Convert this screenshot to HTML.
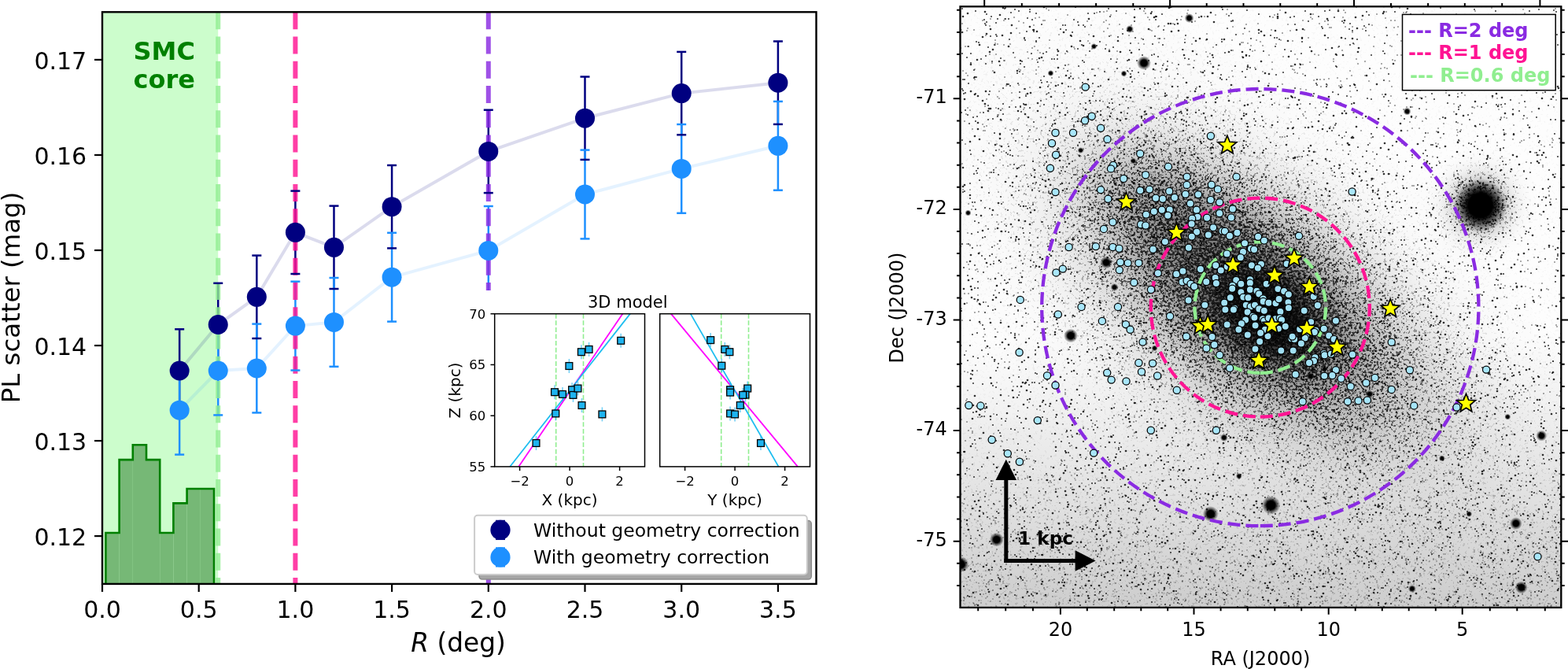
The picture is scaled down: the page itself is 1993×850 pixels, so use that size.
<!DOCTYPE html>
<html><head><meta charset="utf-8"><title>PL scatter vs radius and SMC map</title>
<style>
html,body{margin:0;padding:0;background:#fff;}
body{width:1993px;height:850px;overflow:hidden;}
svg{display:block;}

</style></head>
<body>
<svg width="1993" height="850" viewBox="0 0 1993 850">
<defs>
<clipPath id="ci1"><rect x="628.7" y="398.7" width="190.8" height="194.2"/></clipPath>
<clipPath id="ci2"><rect x="838.7" y="398.7" width="190.8" height="194.2"/></clipPath>
<clipPath id="cpR"><rect x="1220.5" y="8.3" width="763.8" height="763.6"/></clipPath>
<filter id="bl6" x="-50%" y="-50%" width="200%" height="200%"><feGaussianBlur stdDeviation="6"/></filter>
<filter id="bl10" x="-50%" y="-50%" width="200%" height="200%"><feGaussianBlur stdDeviation="10"/></filter>
<filter id="bl16" x="-50%" y="-50%" width="200%" height="200%"><feGaussianBlur stdDeviation="16"/></filter>
<filter id="bl24" x="-50%" y="-50%" width="200%" height="200%"><feGaussianBlur stdDeviation="24"/></filter>
<filter id="bl36" x="-50%" y="-50%" width="200%" height="200%"><feGaussianBlur stdDeviation="36"/></filter>
<filter id="bl55" x="-50%" y="-50%" width="200%" height="200%"><feGaussianBlur stdDeviation="55"/></filter>
<filter id="speck" filterUnits="userSpaceOnUse" x="1220" y="8" width="765" height="765" color-interpolation-filters="sRGB">
<feTurbulence type="fractalNoise" baseFrequency="0.32" numOctaves="2" seed="7" result="n"/>
<feComponentTransfer in="n" result="n2"><feFuncR type="linear" slope="3.2" intercept="-1.1"/><feFuncA type="linear" slope="0" intercept="1"/></feComponentTransfer>
<feColorMatrix in="n2" type="matrix" values="0 0 0 0 0  0 0 0 0 0  0 0 0 0 0  1 0 0 0 0" result="na"/>
<feComposite in="SourceAlpha" in2="na" operator="arithmetic" k1="0" k2="3" k3="3" k4="-3.0" result="th"/>
<feGaussianBlur in="th" stdDeviation="0.45"/>
</filter>
<radialGradient id="gblob"><stop offset="0" stop-color="#000" stop-opacity="1"/><stop offset="0.45" stop-color="#000" stop-opacity="1"/><stop offset="0.7" stop-color="#000" stop-opacity="0.5"/><stop offset="1" stop-color="#000" stop-opacity="0"/></radialGradient>
<linearGradient id="gbot" x1="0" y1="0" x2="0" y2="1"><stop offset="0" stop-color="#000" stop-opacity="0"/><stop offset="0.55" stop-color="#000" stop-opacity="0.0"/><stop offset="1" stop-color="#000" stop-opacity="0.16"/></linearGradient>
</defs>
<g id="left">
<rect x="130" y="15.3" width="147.24" height="726.6" fill="#ccfdcc"/>
<rect x="134.4" y="677" width="17.2" height="64.9" fill="#76b876"/>
<rect x="151.6" y="584.1" width="17.2" height="157.8" fill="#76b876"/>
<rect x="168.8" y="565.3" width="17.2" height="176.6" fill="#76b876"/>
<rect x="186" y="584.1" width="17.2" height="157.8" fill="#76b876"/>
<rect x="203.2" y="677" width="17.2" height="64.9" fill="#76b876"/>
<rect x="220.4" y="639.4" width="17.2" height="102.5" fill="#76b876"/>
<rect x="237.6" y="621" width="17.2" height="120.9" fill="#76b876"/>
<rect x="254.8" y="621" width="17.2" height="120.9" fill="#76b876"/>
<path d="M134.4,741.9 L134.4,677 L151.6,677 L151.6,584.1 L168.8,584.1 L168.8,565.3 L186,565.3 L186,584.1 L203.2,584.1 L203.2,677 L220.4,677 L220.4,639.4 L237.6,639.4 L237.6,621 L254.8,621 L254.8,621 L272,621 L272,741.9" fill="none" stroke="#008000" stroke-width="2.6" stroke-linejoin="miter"/>
<polyline points="228.16,471 277.24,412.5 326.32,377.3 375.4,295.3 424.48,314.3 498.1,262.7 620.8,192.4 743.5,150.2 866.2,118.6 988.9,105.2" fill="none" stroke="#000080" stroke-opacity="0.14" stroke-width="4"/>
<polyline points="228.16,521.2 277.24,471 326.32,468 375.4,414.1 424.48,409.4 498.1,352.2 620.8,318.4 743.5,247 866.2,214.4 988.9,185.3" fill="none" stroke="#1e90ff" stroke-opacity="0.12" stroke-width="4"/>
<line x1="228.16" y1="418.3" x2="228.16" y2="523.7" stroke="#000080" stroke-width="2.5"/>
<line x1="277.24" y1="359.8" x2="277.24" y2="465.2" stroke="#000080" stroke-width="2.5"/>
<line x1="326.32" y1="324.6" x2="326.32" y2="430" stroke="#000080" stroke-width="2.5"/>
<line x1="375.4" y1="242.6" x2="375.4" y2="348" stroke="#000080" stroke-width="2.5"/>
<line x1="424.48" y1="261.6" x2="424.48" y2="367" stroke="#000080" stroke-width="2.5"/>
<line x1="498.1" y1="210" x2="498.1" y2="315.4" stroke="#000080" stroke-width="2.5"/>
<line x1="620.8" y1="139.7" x2="620.8" y2="245.1" stroke="#000080" stroke-width="2.5"/>
<line x1="743.5" y1="97.5" x2="743.5" y2="202.9" stroke="#000080" stroke-width="2.5"/>
<line x1="866.2" y1="65.9" x2="866.2" y2="171.3" stroke="#000080" stroke-width="2.5"/>
<line x1="988.9" y1="52.5" x2="988.9" y2="157.9" stroke="#000080" stroke-width="2.5"/>
<line x1="228.16" y1="464.8" x2="228.16" y2="577.6" stroke="#1e90ff" stroke-width="2.5"/>
<line x1="277.24" y1="414.6" x2="277.24" y2="527.4" stroke="#1e90ff" stroke-width="2.5"/>
<line x1="326.32" y1="411.6" x2="326.32" y2="524.4" stroke="#1e90ff" stroke-width="2.5"/>
<line x1="375.4" y1="357.7" x2="375.4" y2="470.5" stroke="#1e90ff" stroke-width="2.5"/>
<line x1="424.48" y1="353" x2="424.48" y2="465.8" stroke="#1e90ff" stroke-width="2.5"/>
<line x1="498.1" y1="295.8" x2="498.1" y2="408.6" stroke="#1e90ff" stroke-width="2.5"/>
<line x1="620.8" y1="262" x2="620.8" y2="374.8" stroke="#1e90ff" stroke-width="2.5"/>
<line x1="743.5" y1="190.6" x2="743.5" y2="303.4" stroke="#1e90ff" stroke-width="2.5"/>
<line x1="866.2" y1="158" x2="866.2" y2="270.8" stroke="#1e90ff" stroke-width="2.5"/>
<line x1="988.9" y1="128.9" x2="988.9" y2="241.7" stroke="#1e90ff" stroke-width="2.5"/>
<line x1="277.24" y1="15.3" x2="277.24" y2="741.9" stroke="#90ee90" stroke-opacity="0.8" stroke-width="6.0" stroke-dasharray="21.9 9.35"/>
<line x1="375.4" y1="15.3" x2="375.4" y2="741.9" stroke="#ff1493" stroke-opacity="0.82" stroke-width="6.0" stroke-dasharray="21.9 9.35"/>
<line x1="620.8" y1="15.3" x2="620.8" y2="741.9" stroke="#8a2be2" stroke-opacity="0.82" stroke-width="6.0" stroke-dasharray="21.9 9.35"/>
<line x1="222.16" y1="418.3" x2="234.16" y2="418.3" stroke="#000080" stroke-width="2.5"/>
<line x1="222.16" y1="523.7" x2="234.16" y2="523.7" stroke="#000080" stroke-width="2.5"/>
<line x1="271.24" y1="359.8" x2="283.24" y2="359.8" stroke="#000080" stroke-width="2.5"/>
<line x1="271.24" y1="465.2" x2="283.24" y2="465.2" stroke="#000080" stroke-width="2.5"/>
<line x1="320.32" y1="324.6" x2="332.32" y2="324.6" stroke="#000080" stroke-width="2.5"/>
<line x1="320.32" y1="430" x2="332.32" y2="430" stroke="#000080" stroke-width="2.5"/>
<line x1="369.4" y1="242.6" x2="381.4" y2="242.6" stroke="#000080" stroke-width="2.5"/>
<line x1="369.4" y1="348" x2="381.4" y2="348" stroke="#000080" stroke-width="2.5"/>
<line x1="418.48" y1="261.6" x2="430.48" y2="261.6" stroke="#000080" stroke-width="2.5"/>
<line x1="418.48" y1="367" x2="430.48" y2="367" stroke="#000080" stroke-width="2.5"/>
<line x1="492.1" y1="210" x2="504.1" y2="210" stroke="#000080" stroke-width="2.5"/>
<line x1="492.1" y1="315.4" x2="504.1" y2="315.4" stroke="#000080" stroke-width="2.5"/>
<line x1="614.8" y1="139.7" x2="626.8" y2="139.7" stroke="#000080" stroke-width="2.5"/>
<line x1="614.8" y1="245.1" x2="626.8" y2="245.1" stroke="#000080" stroke-width="2.5"/>
<line x1="737.5" y1="97.5" x2="749.5" y2="97.5" stroke="#000080" stroke-width="2.5"/>
<line x1="737.5" y1="202.9" x2="749.5" y2="202.9" stroke="#000080" stroke-width="2.5"/>
<line x1="860.2" y1="65.9" x2="872.2" y2="65.9" stroke="#000080" stroke-width="2.5"/>
<line x1="860.2" y1="171.3" x2="872.2" y2="171.3" stroke="#000080" stroke-width="2.5"/>
<line x1="982.9" y1="52.5" x2="994.9" y2="52.5" stroke="#000080" stroke-width="2.5"/>
<line x1="982.9" y1="157.9" x2="994.9" y2="157.9" stroke="#000080" stroke-width="2.5"/>
<line x1="222.16" y1="464.8" x2="234.16" y2="464.8" stroke="#1e90ff" stroke-width="2.5"/>
<line x1="222.16" y1="577.6" x2="234.16" y2="577.6" stroke="#1e90ff" stroke-width="2.5"/>
<line x1="271.24" y1="414.6" x2="283.24" y2="414.6" stroke="#1e90ff" stroke-width="2.5"/>
<line x1="271.24" y1="527.4" x2="283.24" y2="527.4" stroke="#1e90ff" stroke-width="2.5"/>
<line x1="320.32" y1="411.6" x2="332.32" y2="411.6" stroke="#1e90ff" stroke-width="2.5"/>
<line x1="320.32" y1="524.4" x2="332.32" y2="524.4" stroke="#1e90ff" stroke-width="2.5"/>
<line x1="369.4" y1="357.7" x2="381.4" y2="357.7" stroke="#1e90ff" stroke-width="2.5"/>
<line x1="369.4" y1="470.5" x2="381.4" y2="470.5" stroke="#1e90ff" stroke-width="2.5"/>
<line x1="418.48" y1="353" x2="430.48" y2="353" stroke="#1e90ff" stroke-width="2.5"/>
<line x1="418.48" y1="465.8" x2="430.48" y2="465.8" stroke="#1e90ff" stroke-width="2.5"/>
<line x1="492.1" y1="295.8" x2="504.1" y2="295.8" stroke="#1e90ff" stroke-width="2.5"/>
<line x1="492.1" y1="408.6" x2="504.1" y2="408.6" stroke="#1e90ff" stroke-width="2.5"/>
<line x1="614.8" y1="262" x2="626.8" y2="262" stroke="#1e90ff" stroke-width="2.5"/>
<line x1="614.8" y1="374.8" x2="626.8" y2="374.8" stroke="#1e90ff" stroke-width="2.5"/>
<line x1="737.5" y1="190.6" x2="749.5" y2="190.6" stroke="#1e90ff" stroke-width="2.5"/>
<line x1="737.5" y1="303.4" x2="749.5" y2="303.4" stroke="#1e90ff" stroke-width="2.5"/>
<line x1="860.2" y1="158" x2="872.2" y2="158" stroke="#1e90ff" stroke-width="2.5"/>
<line x1="860.2" y1="270.8" x2="872.2" y2="270.8" stroke="#1e90ff" stroke-width="2.5"/>
<line x1="982.9" y1="128.9" x2="994.9" y2="128.9" stroke="#1e90ff" stroke-width="2.5"/>
<line x1="982.9" y1="241.7" x2="994.9" y2="241.7" stroke="#1e90ff" stroke-width="2.5"/>
<circle cx="228.16" cy="471" r="12.5" fill="#000080"/>
<circle cx="277.24" cy="412.5" r="12.5" fill="#000080"/>
<circle cx="326.32" cy="377.3" r="12.5" fill="#000080"/>
<circle cx="375.4" cy="295.3" r="12.5" fill="#000080"/>
<circle cx="424.48" cy="314.3" r="12.5" fill="#000080"/>
<circle cx="498.1" cy="262.7" r="12.5" fill="#000080"/>
<circle cx="620.8" cy="192.4" r="12.5" fill="#000080"/>
<circle cx="743.5" cy="150.2" r="12.5" fill="#000080"/>
<circle cx="866.2" cy="118.6" r="12.5" fill="#000080"/>
<circle cx="988.9" cy="105.2" r="12.5" fill="#000080"/>
<circle cx="228.16" cy="521.2" r="12.5" fill="#1e90ff"/>
<circle cx="277.24" cy="471" r="12.5" fill="#1e90ff"/>
<circle cx="326.32" cy="468" r="12.5" fill="#1e90ff"/>
<circle cx="375.4" cy="414.1" r="12.5" fill="#1e90ff"/>
<circle cx="424.48" cy="409.4" r="12.5" fill="#1e90ff"/>
<circle cx="498.1" cy="352.2" r="12.5" fill="#1e90ff"/>
<circle cx="620.8" cy="318.4" r="12.5" fill="#1e90ff"/>
<circle cx="743.5" cy="247" r="12.5" fill="#1e90ff"/>
<circle cx="866.2" cy="214.4" r="12.5" fill="#1e90ff"/>
<circle cx="988.9" cy="185.3" r="12.5" fill="#1e90ff"/>
<text x="208.7" y="76.3" font-family="'DejaVu Sans', 'Liberation Sans', sans-serif" font-weight="bold" font-size="32" fill="#008000" text-anchor="middle">SMC</text>
<text x="208.7" y="112.3" font-family="'DejaVu Sans', 'Liberation Sans', sans-serif" font-weight="bold" font-size="32" fill="#008000" text-anchor="middle">core</text>
<rect x="560" y="369" width="472" height="300" fill="#ffffff"/>
<line x1="706.7" y1="398.7" x2="706.7" y2="592.9" stroke="#90ee90" stroke-width="1.6" stroke-dasharray="6 2.6"/>
<line x1="741.5" y1="398.7" x2="741.5" y2="592.9" stroke="#90ee90" stroke-width="1.6" stroke-dasharray="6 2.6"/>
<line x1="916.7" y1="398.7" x2="916.7" y2="592.9" stroke="#90ee90" stroke-width="1.6" stroke-dasharray="6 2.6"/>
<line x1="951.5" y1="398.7" x2="951.5" y2="592.9" stroke="#90ee90" stroke-width="1.6" stroke-dasharray="6 2.6"/>
<g clip-path="url(#ci1)">
<line x1="659" y1="593.2" x2="791.5" y2="398.6" stroke="#ff00ff" stroke-width="1.8"/>
<line x1="647.9" y1="593.2" x2="801" y2="398.6" stroke="#1ebef0" stroke-width="1.8"/>
</g><g clip-path="url(#ci2)">
<line x1="852.9" y1="398.6" x2="1013.9" y2="592.9" stroke="#ff00ff" stroke-width="1.8"/>
<line x1="877.7" y1="398.6" x2="989.6" y2="592.9" stroke="#1ebef0" stroke-width="1.8"/>
</g>
<line x1="681.5" y1="554" x2="681.5" y2="572" stroke="#1eb4f0" stroke-opacity="0.6" stroke-width="1.6"/>
<line x1="705" y1="489.2" x2="705" y2="507.2" stroke="#1eb4f0" stroke-opacity="0.6" stroke-width="1.6"/>
<line x1="706.3" y1="516.4" x2="706.3" y2="534.4" stroke="#1eb4f0" stroke-opacity="0.6" stroke-width="1.6"/>
<line x1="715" y1="491.9" x2="715" y2="509.9" stroke="#1eb4f0" stroke-opacity="0.6" stroke-width="1.6"/>
<line x1="723.4" y1="456" x2="723.4" y2="474" stroke="#1eb4f0" stroke-opacity="0.6" stroke-width="1.6"/>
<line x1="727.1" y1="486.2" x2="727.1" y2="504.2" stroke="#1eb4f0" stroke-opacity="0.6" stroke-width="1.6"/>
<line x1="728.5" y1="492.9" x2="728.5" y2="510.9" stroke="#1eb4f0" stroke-opacity="0.6" stroke-width="1.6"/>
<line x1="734.5" y1="484.5" x2="734.5" y2="502.5" stroke="#1eb4f0" stroke-opacity="0.6" stroke-width="1.6"/>
<line x1="738.9" y1="438.2" x2="738.9" y2="456.2" stroke="#1eb4f0" stroke-opacity="0.6" stroke-width="1.6"/>
<line x1="739.5" y1="506" x2="739.5" y2="524" stroke="#1eb4f0" stroke-opacity="0.6" stroke-width="1.6"/>
<line x1="748.6" y1="434.9" x2="748.6" y2="452.9" stroke="#1eb4f0" stroke-opacity="0.6" stroke-width="1.6"/>
<line x1="765.4" y1="517.4" x2="765.4" y2="535.4" stroke="#1eb4f0" stroke-opacity="0.6" stroke-width="1.6"/>
<line x1="789.2" y1="423.8" x2="789.2" y2="441.8" stroke="#1eb4f0" stroke-opacity="0.6" stroke-width="1.6"/>
<rect x="677.1" y="558.6" width="8.8" height="8.8" fill="#1eb4f0" stroke="#000" stroke-width="1.3"/>
<rect x="700.6" y="493.8" width="8.8" height="8.8" fill="#1eb4f0" stroke="#000" stroke-width="1.3"/>
<rect x="701.9" y="521" width="8.8" height="8.8" fill="#1eb4f0" stroke="#000" stroke-width="1.3"/>
<rect x="710.6" y="496.5" width="8.8" height="8.8" fill="#1eb4f0" stroke="#000" stroke-width="1.3"/>
<rect x="719" y="460.6" width="8.8" height="8.8" fill="#1eb4f0" stroke="#000" stroke-width="1.3"/>
<rect x="722.7" y="490.8" width="8.8" height="8.8" fill="#1eb4f0" stroke="#000" stroke-width="1.3"/>
<rect x="724.1" y="497.5" width="8.8" height="8.8" fill="#1eb4f0" stroke="#000" stroke-width="1.3"/>
<rect x="730.1" y="489.1" width="8.8" height="8.8" fill="#1eb4f0" stroke="#000" stroke-width="1.3"/>
<rect x="734.5" y="442.8" width="8.8" height="8.8" fill="#1eb4f0" stroke="#000" stroke-width="1.3"/>
<rect x="735.1" y="510.6" width="8.8" height="8.8" fill="#1eb4f0" stroke="#000" stroke-width="1.3"/>
<rect x="744.2" y="439.5" width="8.8" height="8.8" fill="#1eb4f0" stroke="#000" stroke-width="1.3"/>
<rect x="761" y="522" width="8.8" height="8.8" fill="#1eb4f0" stroke="#000" stroke-width="1.3"/>
<rect x="784.8" y="428.4" width="8.8" height="8.8" fill="#1eb4f0" stroke="#000" stroke-width="1.3"/>
<line x1="903.2" y1="423.1" x2="903.2" y2="441.1" stroke="#1eb4f0" stroke-opacity="0.6" stroke-width="1.6"/>
<line x1="921.3" y1="434.9" x2="921.3" y2="452.9" stroke="#1eb4f0" stroke-opacity="0.6" stroke-width="1.6"/>
<line x1="927.4" y1="438.2" x2="927.4" y2="456.2" stroke="#1eb4f0" stroke-opacity="0.6" stroke-width="1.6"/>
<line x1="917.3" y1="455.7" x2="917.3" y2="473.7" stroke="#1eb4f0" stroke-opacity="0.6" stroke-width="1.6"/>
<line x1="928.1" y1="486.2" x2="928.1" y2="504.2" stroke="#1eb4f0" stroke-opacity="0.6" stroke-width="1.6"/>
<line x1="928.1" y1="489.6" x2="928.1" y2="507.6" stroke="#1eb4f0" stroke-opacity="0.6" stroke-width="1.6"/>
<line x1="950.2" y1="484.5" x2="950.2" y2="502.5" stroke="#1eb4f0" stroke-opacity="0.6" stroke-width="1.6"/>
<line x1="947.5" y1="492.6" x2="947.5" y2="510.6" stroke="#1eb4f0" stroke-opacity="0.6" stroke-width="1.6"/>
<line x1="944.2" y1="492.9" x2="944.2" y2="510.9" stroke="#1eb4f0" stroke-opacity="0.6" stroke-width="1.6"/>
<line x1="940.8" y1="506" x2="940.8" y2="524" stroke="#1eb4f0" stroke-opacity="0.6" stroke-width="1.6"/>
<line x1="928.1" y1="516.4" x2="928.1" y2="534.4" stroke="#1eb4f0" stroke-opacity="0.6" stroke-width="1.6"/>
<line x1="934.1" y1="517.4" x2="934.1" y2="535.4" stroke="#1eb4f0" stroke-opacity="0.6" stroke-width="1.6"/>
<line x1="967" y1="554" x2="967" y2="572" stroke="#1eb4f0" stroke-opacity="0.6" stroke-width="1.6"/>
<rect x="898.8" y="427.7" width="8.8" height="8.8" fill="#1eb4f0" stroke="#000" stroke-width="1.3"/>
<rect x="916.9" y="439.5" width="8.8" height="8.8" fill="#1eb4f0" stroke="#000" stroke-width="1.3"/>
<rect x="923" y="442.8" width="8.8" height="8.8" fill="#1eb4f0" stroke="#000" stroke-width="1.3"/>
<rect x="912.9" y="460.3" width="8.8" height="8.8" fill="#1eb4f0" stroke="#000" stroke-width="1.3"/>
<rect x="923.7" y="490.8" width="8.8" height="8.8" fill="#1eb4f0" stroke="#000" stroke-width="1.3"/>
<rect x="923.7" y="494.2" width="8.8" height="8.8" fill="#1eb4f0" stroke="#000" stroke-width="1.3"/>
<rect x="945.8" y="489.1" width="8.8" height="8.8" fill="#1eb4f0" stroke="#000" stroke-width="1.3"/>
<rect x="943.1" y="497.2" width="8.8" height="8.8" fill="#1eb4f0" stroke="#000" stroke-width="1.3"/>
<rect x="939.8" y="497.5" width="8.8" height="8.8" fill="#1eb4f0" stroke="#000" stroke-width="1.3"/>
<rect x="936.4" y="510.6" width="8.8" height="8.8" fill="#1eb4f0" stroke="#000" stroke-width="1.3"/>
<rect x="923.7" y="521" width="8.8" height="8.8" fill="#1eb4f0" stroke="#000" stroke-width="1.3"/>
<rect x="929.7" y="522" width="8.8" height="8.8" fill="#1eb4f0" stroke="#000" stroke-width="1.3"/>
<rect x="962.6" y="558.6" width="8.8" height="8.8" fill="#1eb4f0" stroke="#000" stroke-width="1.3"/>
<rect x="628.7" y="398.7" width="190.8" height="194.2" fill="none" stroke="#000" stroke-width="1.5"/>
<line x1="660.6" y1="592.9" x2="660.6" y2="598.1" stroke="#000" stroke-width="1.5"/>
<text x="660.6" y="617" font-family="'DejaVu Sans', 'Liberation Sans', sans-serif" font-size="16.5" text-anchor="middle">−2</text>
<line x1="724.1" y1="592.9" x2="724.1" y2="598.1" stroke="#000" stroke-width="1.5"/>
<text x="724.1" y="617" font-family="'DejaVu Sans', 'Liberation Sans', sans-serif" font-size="16.5" text-anchor="middle">0</text>
<line x1="787.6" y1="592.9" x2="787.6" y2="598.1" stroke="#000" stroke-width="1.5"/>
<text x="787.6" y="617" font-family="'DejaVu Sans', 'Liberation Sans', sans-serif" font-size="16.5" text-anchor="middle">2</text>
<line x1="623.5" y1="592.9" x2="628.7" y2="592.9" stroke="#000" stroke-width="1.5"/>
<text x="617.3" y="598.9" font-family="'DejaVu Sans', 'Liberation Sans', sans-serif" font-size="16.5" text-anchor="end">55</text>
<line x1="623.5" y1="528.17" x2="628.7" y2="528.17" stroke="#000" stroke-width="1.5"/>
<text x="617.3" y="534.17" font-family="'DejaVu Sans', 'Liberation Sans', sans-serif" font-size="16.5" text-anchor="end">60</text>
<line x1="623.5" y1="463.43" x2="628.7" y2="463.43" stroke="#000" stroke-width="1.5"/>
<text x="617.3" y="469.43" font-family="'DejaVu Sans', 'Liberation Sans', sans-serif" font-size="16.5" text-anchor="end">65</text>
<line x1="623.5" y1="398.7" x2="628.7" y2="398.7" stroke="#000" stroke-width="1.5"/>
<text x="617.3" y="404.7" font-family="'DejaVu Sans', 'Liberation Sans', sans-serif" font-size="16.5" text-anchor="end">70</text>
<rect x="838.7" y="398.7" width="190.8" height="194.2" fill="none" stroke="#000" stroke-width="1.5"/>
<line x1="870.6" y1="592.9" x2="870.6" y2="598.1" stroke="#000" stroke-width="1.5"/>
<text x="870.6" y="617" font-family="'DejaVu Sans', 'Liberation Sans', sans-serif" font-size="16.5" text-anchor="middle">−2</text>
<line x1="934.1" y1="592.9" x2="934.1" y2="598.1" stroke="#000" stroke-width="1.5"/>
<text x="934.1" y="617" font-family="'DejaVu Sans', 'Liberation Sans', sans-serif" font-size="16.5" text-anchor="middle">0</text>
<line x1="997.6" y1="592.9" x2="997.6" y2="598.1" stroke="#000" stroke-width="1.5"/>
<text x="997.6" y="617" font-family="'DejaVu Sans', 'Liberation Sans', sans-serif" font-size="16.5" text-anchor="middle">2</text>
<text x="724" y="641.6" font-family="'DejaVu Sans', 'Liberation Sans', sans-serif" font-size="20" text-anchor="middle">X (kpc)</text>
<text x="934" y="641.6" font-family="'DejaVu Sans', 'Liberation Sans', sans-serif" font-size="20" text-anchor="middle">Y (kpc)</text>
<text transform="translate(584.7,496) rotate(-90)" font-family="'DejaVu Sans', 'Liberation Sans', sans-serif" font-size="20" text-anchor="middle">Z (kpc)</text>
<text x="797.8" y="391.4" font-family="'DejaVu Sans', 'Liberation Sans', sans-serif" font-size="21" text-anchor="middle">3D model</text>
<rect x="609" y="661.5" width="422.3" height="74.6" rx="4" fill="#a6a6a6" stroke="#8c8c8c" stroke-width="1.5"/>
<rect x="603.1" y="654.7" width="422.7" height="75.2" rx="4" fill="#fff" stroke="#cccccc" stroke-width="2"/>
<line x1="630" y1="662" x2="642" y2="662" stroke="#000080" stroke-width="2.5"/>
<line x1="630" y1="684.8" x2="642" y2="684.8" stroke="#000080" stroke-width="2.5"/>
<circle cx="636" cy="673.4" r="12.6" fill="#000080"/>
<text x="678" y="681.8" font-family="'DejaVu Sans', 'Liberation Sans', sans-serif" font-size="23.5">Without geometry correction</text>
<line x1="630" y1="696.5" x2="642" y2="696.5" stroke="#1e90ff" stroke-width="2.5"/>
<line x1="630" y1="719.3" x2="642" y2="719.3" stroke="#1e90ff" stroke-width="2.5"/>
<circle cx="636" cy="707.9" r="12.6" fill="#1e90ff"/>
<text x="678" y="716.3" font-family="'DejaVu Sans', 'Liberation Sans', sans-serif" font-size="23.5">With geometry correction</text>
<rect x="130" y="15.3" width="907.5" height="726.6" fill="none" stroke="#000" stroke-width="2.4"/>
<line x1="120" y1="681.1" x2="130" y2="681.1" stroke="#000" stroke-width="2.2"/>
<text x="110.2" y="692.7" font-family="'DejaVu Sans', 'Liberation Sans', sans-serif" font-size="30" text-anchor="end">0.12</text>
<line x1="120" y1="560.06" x2="130" y2="560.06" stroke="#000" stroke-width="2.2"/>
<text x="110.2" y="571.66" font-family="'DejaVu Sans', 'Liberation Sans', sans-serif" font-size="30" text-anchor="end">0.13</text>
<line x1="120" y1="439.02" x2="130" y2="439.02" stroke="#000" stroke-width="2.2"/>
<text x="110.2" y="450.62" font-family="'DejaVu Sans', 'Liberation Sans', sans-serif" font-size="30" text-anchor="end">0.14</text>
<line x1="120" y1="317.98" x2="130" y2="317.98" stroke="#000" stroke-width="2.2"/>
<text x="110.2" y="329.58" font-family="'DejaVu Sans', 'Liberation Sans', sans-serif" font-size="30" text-anchor="end">0.15</text>
<line x1="120" y1="196.94" x2="130" y2="196.94" stroke="#000" stroke-width="2.2"/>
<text x="110.2" y="208.54" font-family="'DejaVu Sans', 'Liberation Sans', sans-serif" font-size="30" text-anchor="end">0.16</text>
<line x1="120" y1="75.9" x2="130" y2="75.9" stroke="#000" stroke-width="2.2"/>
<text x="110.2" y="87.5" font-family="'DejaVu Sans', 'Liberation Sans', sans-serif" font-size="30" text-anchor="end">0.17</text>
<line x1="130" y1="741.9" x2="130" y2="752" stroke="#000" stroke-width="2.2"/>
<text x="130" y="785" font-family="'DejaVu Sans', 'Liberation Sans', sans-serif" font-size="30" text-anchor="middle">0.0</text>
<line x1="252.7" y1="741.9" x2="252.7" y2="752" stroke="#000" stroke-width="2.2"/>
<text x="252.7" y="785" font-family="'DejaVu Sans', 'Liberation Sans', sans-serif" font-size="30" text-anchor="middle">0.5</text>
<line x1="375.4" y1="741.9" x2="375.4" y2="752" stroke="#000" stroke-width="2.2"/>
<text x="375.4" y="785" font-family="'DejaVu Sans', 'Liberation Sans', sans-serif" font-size="30" text-anchor="middle">1.0</text>
<line x1="498.1" y1="741.9" x2="498.1" y2="752" stroke="#000" stroke-width="2.2"/>
<text x="498.1" y="785" font-family="'DejaVu Sans', 'Liberation Sans', sans-serif" font-size="30" text-anchor="middle">1.5</text>
<line x1="620.8" y1="741.9" x2="620.8" y2="752" stroke="#000" stroke-width="2.2"/>
<text x="620.8" y="785" font-family="'DejaVu Sans', 'Liberation Sans', sans-serif" font-size="30" text-anchor="middle">2.0</text>
<line x1="743.5" y1="741.9" x2="743.5" y2="752" stroke="#000" stroke-width="2.2"/>
<text x="743.5" y="785" font-family="'DejaVu Sans', 'Liberation Sans', sans-serif" font-size="30" text-anchor="middle">2.5</text>
<line x1="866.2" y1="741.9" x2="866.2" y2="752" stroke="#000" stroke-width="2.2"/>
<text x="866.2" y="785" font-family="'DejaVu Sans', 'Liberation Sans', sans-serif" font-size="30" text-anchor="middle">3.0</text>
<line x1="988.9" y1="741.9" x2="988.9" y2="752" stroke="#000" stroke-width="2.2"/>
<text x="988.9" y="785" font-family="'DejaVu Sans', 'Liberation Sans', sans-serif" font-size="30" text-anchor="middle">3.5</text>
<text transform="translate(25.3,378) rotate(-90)" font-family="'DejaVu Sans', 'Liberation Sans', sans-serif" font-size="32.4" text-anchor="middle">PL scatter (mag)</text>
<text x="582.5" y="827.7" font-family="'DejaVu Sans', 'Liberation Sans', sans-serif" font-size="32.8" text-anchor="middle"><tspan font-style="italic">R</tspan> (deg)</text>
</g>
<g id="right">
<g clip-path="url(#cpR)">
<rect x="1220.5" y="8.3" width="763.8" height="763.6" fill="#ffffff"/>
<rect x="1220.5" y="8.3" width="763.8" height="763.6" fill="url(#gbot)"/>
<g fill="#000" filter="url(#bl10)"><path d="M1204 -8h16v16h-16zM1220 -8h16v16h-16zM1236 -8h16v16h-16zM1252 -8h16v16h-16zM1268 -8h16v16h-16zM1284 -8h16v16h-16zM1300 -8h16v16h-16zM1316 -8h16v16h-16zM1332 -8h16v16h-16zM1348 -8h16v16h-16zM1364 -8h16v16h-16zM1380 -8h16v16h-16zM1396 -8h16v16h-16zM1412 -8h16v16h-16zM1428 -8h16v16h-16zM1444 -8h16v16h-16zM1460 -8h16v16h-16zM1476 -8h16v16h-16zM1492 -8h16v16h-16zM1508 -8h16v16h-16zM1524 -8h16v16h-16zM1540 -8h16v16h-16zM1556 -8h16v16h-16zM1572 -8h16v16h-16zM1588 -8h16v16h-16zM1604 -8h16v16h-16zM1620 -8h16v16h-16zM1636 -8h16v16h-16zM1652 -8h16v16h-16zM1668 -8h16v16h-16zM1684 -8h16v16h-16zM1700 -8h16v16h-16zM1716 -8h16v16h-16zM1732 -8h16v16h-16zM1748 -8h16v16h-16zM1764 -8h16v16h-16zM1780 -8h16v16h-16zM1796 -8h16v16h-16zM1812 -8h16v16h-16zM1828 -8h16v16h-16zM1844 -8h16v16h-16zM1860 -8h16v16h-16zM1876 -8h16v16h-16zM1892 -8h16v16h-16zM1908 -8h16v16h-16zM1924 -8h16v16h-16zM1940 -8h16v16h-16zM1956 -8h16v16h-16zM1972 -8h16v16h-16zM1988 -8h16v16h-16zM1204 8h16v16h-16zM1220 8h16v16h-16zM1236 8h16v16h-16zM1252 8h16v16h-16zM1268 8h16v16h-16zM1284 8h16v16h-16zM1300 8h16v16h-16zM1316 8h16v16h-16zM1332 8h16v16h-16zM1348 8h16v16h-16zM1364 8h16v16h-16zM1380 8h16v16h-16zM1396 8h16v16h-16zM1412 8h16v16h-16zM1428 8h16v16h-16zM1444 8h16v16h-16zM1460 8h16v16h-16zM1476 8h16v16h-16zM1492 8h16v16h-16zM1508 8h16v16h-16zM1524 8h16v16h-16zM1540 8h16v16h-16zM1556 8h16v16h-16zM1572 8h16v16h-16zM1588 8h16v16h-16zM1604 8h16v16h-16zM1620 8h16v16h-16zM1636 8h16v16h-16zM1652 8h16v16h-16zM1668 8h16v16h-16zM1684 8h16v16h-16zM1700 8h16v16h-16zM1716 8h16v16h-16zM1732 8h16v16h-16zM1748 8h16v16h-16zM1764 8h16v16h-16zM1780 8h16v16h-16zM1796 8h16v16h-16zM1812 8h16v16h-16zM1828 8h16v16h-16zM1844 8h16v16h-16zM1860 8h16v16h-16zM1876 8h16v16h-16zM1892 8h16v16h-16zM1908 8h16v16h-16zM1924 8h16v16h-16zM1940 8h16v16h-16zM1956 8h16v16h-16zM1972 8h16v16h-16zM1988 8h16v16h-16zM1204 24h16v16h-16zM1220 24h16v16h-16zM1236 24h16v16h-16zM1252 24h16v16h-16zM1268 24h16v16h-16zM1284 24h16v16h-16zM1300 24h16v16h-16zM1316 24h16v16h-16zM1444 24h16v16h-16zM1460 24h16v16h-16zM1476 24h16v16h-16zM1492 24h16v16h-16zM1508 24h16v16h-16zM1524 24h16v16h-16zM1540 24h16v16h-16zM1556 24h16v16h-16zM1572 24h16v16h-16zM1588 24h16v16h-16zM1604 24h16v16h-16zM1620 24h16v16h-16zM1636 24h16v16h-16zM1652 24h16v16h-16zM1668 24h16v16h-16zM1684 24h16v16h-16zM1700 24h16v16h-16zM1716 24h16v16h-16zM1732 24h16v16h-16zM1748 24h16v16h-16zM1764 24h16v16h-16zM1780 24h16v16h-16zM1796 24h16v16h-16zM1812 24h16v16h-16zM1828 24h16v16h-16zM1844 24h16v16h-16zM1860 24h16v16h-16zM1876 24h16v16h-16zM1892 24h16v16h-16zM1908 24h16v16h-16zM1924 24h16v16h-16zM1940 24h16v16h-16zM1956 24h16v16h-16zM1972 24h16v16h-16zM1988 24h16v16h-16zM1204 40h16v16h-16zM1220 40h16v16h-16zM1236 40h16v16h-16zM1252 40h16v16h-16zM1268 40h16v16h-16zM1508 40h16v16h-16zM1524 40h16v16h-16zM1540 40h16v16h-16zM1556 40h16v16h-16zM1572 40h16v16h-16zM1588 40h16v16h-16zM1604 40h16v16h-16zM1620 40h16v16h-16zM1636 40h16v16h-16zM1652 40h16v16h-16zM1668 40h16v16h-16zM1684 40h16v16h-16zM1700 40h16v16h-16zM1716 40h16v16h-16zM1732 40h16v16h-16zM1748 40h16v16h-16zM1764 40h16v16h-16zM1780 40h16v16h-16zM1796 40h16v16h-16zM1812 40h16v16h-16zM1828 40h16v16h-16zM1844 40h16v16h-16zM1860 40h16v16h-16zM1876 40h16v16h-16zM1892 40h16v16h-16zM1908 40h16v16h-16zM1924 40h16v16h-16zM1940 40h16v16h-16zM1956 40h16v16h-16zM1972 40h16v16h-16zM1988 40h16v16h-16zM1204 56h16v16h-16zM1220 56h16v16h-16zM1236 56h16v16h-16zM1556 56h16v16h-16zM1572 56h16v16h-16zM1588 56h16v16h-16zM1604 56h16v16h-16zM1620 56h16v16h-16zM1636 56h16v16h-16zM1652 56h16v16h-16zM1668 56h16v16h-16zM1684 56h16v16h-16zM1700 56h16v16h-16zM1716 56h16v16h-16zM1732 56h16v16h-16zM1748 56h16v16h-16zM1764 56h16v16h-16zM1780 56h16v16h-16zM1796 56h16v16h-16zM1812 56h16v16h-16zM1828 56h16v16h-16zM1844 56h16v16h-16zM1860 56h16v16h-16zM1876 56h16v16h-16zM1892 56h16v16h-16zM1908 56h16v16h-16zM1924 56h16v16h-16zM1940 56h16v16h-16zM1956 56h16v16h-16zM1972 56h16v16h-16zM1988 56h16v16h-16zM1204 72h16v16h-16zM1220 72h16v16h-16zM1588 72h16v16h-16zM1604 72h16v16h-16zM1620 72h16v16h-16zM1636 72h16v16h-16zM1652 72h16v16h-16zM1668 72h16v16h-16zM1684 72h16v16h-16zM1700 72h16v16h-16zM1716 72h16v16h-16zM1732 72h16v16h-16zM1748 72h16v16h-16zM1764 72h16v16h-16zM1780 72h16v16h-16zM1796 72h16v16h-16zM1812 72h16v16h-16zM1828 72h16v16h-16zM1844 72h16v16h-16zM1860 72h16v16h-16zM1876 72h16v16h-16zM1892 72h16v16h-16zM1908 72h16v16h-16zM1924 72h16v16h-16zM1940 72h16v16h-16zM1956 72h16v16h-16zM1972 72h16v16h-16zM1988 72h16v16h-16zM1204 88h16v16h-16zM1620 88h16v16h-16zM1636 88h16v16h-16zM1652 88h16v16h-16zM1668 88h16v16h-16zM1684 88h16v16h-16zM1700 88h16v16h-16zM1716 88h16v16h-16zM1732 88h16v16h-16zM1748 88h16v16h-16zM1764 88h16v16h-16zM1780 88h16v16h-16zM1796 88h16v16h-16zM1812 88h16v16h-16zM1828 88h16v16h-16zM1844 88h16v16h-16zM1860 88h16v16h-16zM1876 88h16v16h-16zM1892 88h16v16h-16zM1908 88h16v16h-16zM1924 88h16v16h-16zM1940 88h16v16h-16zM1956 88h16v16h-16zM1972 88h16v16h-16zM1988 88h16v16h-16zM1652 104h16v16h-16zM1668 104h16v16h-16zM1684 104h16v16h-16zM1700 104h16v16h-16zM1716 104h16v16h-16zM1732 104h16v16h-16zM1748 104h16v16h-16zM1764 104h16v16h-16zM1780 104h16v16h-16zM1796 104h16v16h-16zM1812 104h16v16h-16zM1828 104h16v16h-16zM1844 104h16v16h-16zM1860 104h16v16h-16zM1876 104h16v16h-16zM1892 104h16v16h-16zM1908 104h16v16h-16zM1924 104h16v16h-16zM1940 104h16v16h-16zM1956 104h16v16h-16zM1972 104h16v16h-16zM1988 104h16v16h-16zM1668 120h16v16h-16zM1684 120h16v16h-16zM1700 120h16v16h-16zM1716 120h16v16h-16zM1732 120h16v16h-16zM1748 120h16v16h-16zM1764 120h16v16h-16zM1780 120h16v16h-16zM1796 120h16v16h-16zM1812 120h16v16h-16zM1828 120h16v16h-16zM1844 120h16v16h-16zM1860 120h16v16h-16zM1876 120h16v16h-16zM1892 120h16v16h-16zM1908 120h16v16h-16zM1924 120h16v16h-16zM1940 120h16v16h-16zM1956 120h16v16h-16zM1972 120h16v16h-16zM1988 120h16v16h-16zM1700 136h16v16h-16zM1716 136h16v16h-16zM1732 136h16v16h-16zM1748 136h16v16h-16zM1764 136h16v16h-16zM1780 136h16v16h-16zM1796 136h16v16h-16zM1812 136h16v16h-16zM1828 136h16v16h-16zM1844 136h16v16h-16zM1860 136h16v16h-16zM1876 136h16v16h-16zM1892 136h16v16h-16zM1908 136h16v16h-16zM1924 136h16v16h-16zM1940 136h16v16h-16zM1956 136h16v16h-16zM1972 136h16v16h-16zM1988 136h16v16h-16zM1716 152h16v16h-16zM1732 152h16v16h-16zM1748 152h16v16h-16zM1764 152h16v16h-16zM1780 152h16v16h-16zM1796 152h16v16h-16zM1812 152h16v16h-16zM1828 152h16v16h-16zM1844 152h16v16h-16zM1860 152h16v16h-16zM1876 152h16v16h-16zM1892 152h16v16h-16zM1908 152h16v16h-16zM1924 152h16v16h-16zM1940 152h16v16h-16zM1956 152h16v16h-16zM1972 152h16v16h-16zM1988 152h16v16h-16zM1732 168h16v16h-16zM1748 168h16v16h-16zM1764 168h16v16h-16zM1780 168h16v16h-16zM1796 168h16v16h-16zM1812 168h16v16h-16zM1828 168h16v16h-16zM1844 168h16v16h-16zM1860 168h16v16h-16zM1876 168h16v16h-16zM1892 168h16v16h-16zM1908 168h16v16h-16zM1924 168h16v16h-16zM1940 168h16v16h-16zM1956 168h16v16h-16zM1972 168h16v16h-16zM1988 168h16v16h-16zM1748 184h16v16h-16zM1764 184h16v16h-16zM1780 184h16v16h-16zM1796 184h16v16h-16zM1812 184h16v16h-16zM1828 184h16v16h-16zM1844 184h16v16h-16zM1860 184h16v16h-16zM1876 184h16v16h-16zM1892 184h16v16h-16zM1908 184h16v16h-16zM1924 184h16v16h-16zM1940 184h16v16h-16zM1956 184h16v16h-16zM1972 184h16v16h-16zM1988 184h16v16h-16zM1780 200h16v16h-16zM1796 200h16v16h-16zM1812 200h16v16h-16zM1828 200h16v16h-16zM1924 200h16v16h-16zM1940 200h16v16h-16zM1956 200h16v16h-16zM1972 200h16v16h-16zM1988 200h16v16h-16zM1796 216h16v16h-16zM1812 216h16v16h-16zM1940 216h16v16h-16zM1956 216h16v16h-16zM1972 216h16v16h-16zM1988 216h16v16h-16zM1940 232h16v16h-16zM1956 232h16v16h-16zM1972 232h16v16h-16zM1988 232h16v16h-16zM1940 248h16v16h-16zM1956 248h16v16h-16zM1972 248h16v16h-16zM1988 248h16v16h-16zM1940 264h16v16h-16zM1956 264h16v16h-16zM1972 264h16v16h-16zM1988 264h16v16h-16zM1940 280h16v16h-16zM1956 280h16v16h-16zM1972 280h16v16h-16zM1988 280h16v16h-16zM1924 296h16v16h-16zM1940 296h16v16h-16zM1956 296h16v16h-16zM1972 296h16v16h-16zM1988 296h16v16h-16zM1204 312h16v16h-16zM1908 312h16v16h-16zM1924 312h16v16h-16zM1940 312h16v16h-16zM1956 312h16v16h-16zM1972 312h16v16h-16zM1988 312h16v16h-16zM1204 328h16v16h-16zM1892 328h16v16h-16zM1908 328h16v16h-16zM1924 328h16v16h-16zM1940 328h16v16h-16zM1956 328h16v16h-16zM1972 328h16v16h-16zM1988 328h16v16h-16zM1204 344h16v16h-16zM1220 344h16v16h-16zM1908 344h16v16h-16zM1924 344h16v16h-16zM1940 344h16v16h-16zM1956 344h16v16h-16zM1972 344h16v16h-16zM1988 344h16v16h-16zM1204 360h16v16h-16zM1220 360h16v16h-16zM1924 360h16v16h-16zM1940 360h16v16h-16zM1956 360h16v16h-16zM1972 360h16v16h-16zM1988 360h16v16h-16zM1204 376h16v16h-16zM1220 376h16v16h-16zM1236 376h16v16h-16zM1924 376h16v16h-16zM1940 376h16v16h-16zM1956 376h16v16h-16zM1972 376h16v16h-16zM1988 376h16v16h-16zM1204 392h16v16h-16zM1220 392h16v16h-16zM1236 392h16v16h-16zM1940 392h16v16h-16zM1956 392h16v16h-16zM1972 392h16v16h-16zM1988 392h16v16h-16zM1204 408h16v16h-16zM1220 408h16v16h-16zM1236 408h16v16h-16zM1252 408h16v16h-16zM1956 408h16v16h-16zM1972 408h16v16h-16zM1988 408h16v16h-16zM1204 424h16v16h-16zM1220 424h16v16h-16zM1236 424h16v16h-16zM1252 424h16v16h-16zM1268 424h16v16h-16zM1972 424h16v16h-16zM1988 424h16v16h-16zM1204 440h16v16h-16zM1220 440h16v16h-16zM1236 440h16v16h-16zM1252 440h16v16h-16zM1268 440h16v16h-16zM1972 440h16v16h-16zM1988 440h16v16h-16zM1204 456h16v16h-16zM1220 456h16v16h-16zM1236 456h16v16h-16zM1252 456h16v16h-16zM1268 456h16v16h-16zM1284 456h16v16h-16zM1988 456h16v16h-16zM1204 472h16v16h-16zM1220 472h16v16h-16zM1236 472h16v16h-16zM1252 472h16v16h-16zM1268 472h16v16h-16zM1284 472h16v16h-16zM1988 472h16v16h-16zM1204 488h16v16h-16zM1220 488h16v16h-16zM1236 488h16v16h-16zM1252 488h16v16h-16zM1268 488h16v16h-16zM1284 488h16v16h-16zM1300 488h16v16h-16zM1204 504h16v16h-16zM1220 504h16v16h-16zM1236 504h16v16h-16zM1252 504h16v16h-16zM1268 504h16v16h-16zM1284 504h16v16h-16zM1300 504h16v16h-16zM1204 520h16v16h-16zM1220 520h16v16h-16zM1236 520h16v16h-16zM1252 520h16v16h-16zM1268 520h16v16h-16zM1284 520h16v16h-16zM1300 520h16v16h-16z" fill-opacity="0.007"/><path d="M1332 24h16v16h-16zM1348 24h16v16h-16zM1364 24h16v16h-16zM1380 24h16v16h-16zM1396 24h16v16h-16zM1412 24h16v16h-16zM1428 24h16v16h-16zM1284 40h16v16h-16zM1300 40h16v16h-16zM1316 40h16v16h-16zM1332 40h16v16h-16zM1348 40h16v16h-16zM1364 40h16v16h-16zM1380 40h16v16h-16zM1396 40h16v16h-16zM1412 40h16v16h-16zM1428 40h16v16h-16zM1444 40h16v16h-16zM1460 40h16v16h-16zM1476 40h16v16h-16zM1492 40h16v16h-16zM1252 56h16v16h-16zM1268 56h16v16h-16zM1284 56h16v16h-16zM1300 56h16v16h-16zM1316 56h16v16h-16zM1332 56h16v16h-16zM1348 56h16v16h-16zM1364 56h16v16h-16zM1380 56h16v16h-16zM1396 56h16v16h-16zM1412 56h16v16h-16zM1428 56h16v16h-16zM1444 56h16v16h-16zM1460 56h16v16h-16zM1476 56h16v16h-16zM1492 56h16v16h-16zM1508 56h16v16h-16zM1524 56h16v16h-16zM1540 56h16v16h-16zM1236 72h16v16h-16zM1252 72h16v16h-16zM1268 72h16v16h-16zM1284 72h16v16h-16zM1300 72h16v16h-16zM1316 72h16v16h-16zM1332 72h16v16h-16zM1476 72h16v16h-16zM1492 72h16v16h-16zM1508 72h16v16h-16zM1524 72h16v16h-16zM1540 72h16v16h-16zM1556 72h16v16h-16zM1572 72h16v16h-16zM1220 88h16v16h-16zM1236 88h16v16h-16zM1252 88h16v16h-16zM1268 88h16v16h-16zM1284 88h16v16h-16zM1524 88h16v16h-16zM1540 88h16v16h-16zM1556 88h16v16h-16zM1572 88h16v16h-16zM1588 88h16v16h-16zM1604 88h16v16h-16zM1204 104h16v16h-16zM1220 104h16v16h-16zM1236 104h16v16h-16zM1252 104h16v16h-16zM1268 104h16v16h-16zM1572 104h16v16h-16zM1588 104h16v16h-16zM1604 104h16v16h-16zM1620 104h16v16h-16zM1636 104h16v16h-16zM1204 120h16v16h-16zM1220 120h16v16h-16zM1236 120h16v16h-16zM1252 120h16v16h-16zM1604 120h16v16h-16zM1620 120h16v16h-16zM1636 120h16v16h-16zM1652 120h16v16h-16zM1204 136h16v16h-16zM1220 136h16v16h-16zM1236 136h16v16h-16zM1636 136h16v16h-16zM1652 136h16v16h-16zM1668 136h16v16h-16zM1684 136h16v16h-16zM1204 152h16v16h-16zM1220 152h16v16h-16zM1236 152h16v16h-16zM1652 152h16v16h-16zM1668 152h16v16h-16zM1684 152h16v16h-16zM1700 152h16v16h-16zM1204 168h16v16h-16zM1220 168h16v16h-16zM1236 168h16v16h-16zM1684 168h16v16h-16zM1700 168h16v16h-16zM1716 168h16v16h-16zM1204 184h16v16h-16zM1220 184h16v16h-16zM1700 184h16v16h-16zM1716 184h16v16h-16zM1732 184h16v16h-16zM1204 200h16v16h-16zM1220 200h16v16h-16zM1716 200h16v16h-16zM1732 200h16v16h-16zM1748 200h16v16h-16zM1764 200h16v16h-16zM1844 200h16v16h-16zM1908 200h16v16h-16zM1204 216h16v16h-16zM1220 216h16v16h-16zM1748 216h16v16h-16zM1764 216h16v16h-16zM1780 216h16v16h-16zM1828 216h16v16h-16zM1924 216h16v16h-16zM1204 232h16v16h-16zM1220 232h16v16h-16zM1764 232h16v16h-16zM1780 232h16v16h-16zM1796 232h16v16h-16zM1812 232h16v16h-16zM1204 248h16v16h-16zM1220 248h16v16h-16zM1780 248h16v16h-16zM1796 248h16v16h-16zM1812 248h16v16h-16zM1204 264h16v16h-16zM1220 264h16v16h-16zM1236 264h16v16h-16zM1796 264h16v16h-16zM1812 264h16v16h-16zM1204 280h16v16h-16zM1220 280h16v16h-16zM1236 280h16v16h-16zM1812 280h16v16h-16zM1924 280h16v16h-16zM1204 296h16v16h-16zM1220 296h16v16h-16zM1236 296h16v16h-16zM1220 312h16v16h-16zM1236 312h16v16h-16zM1252 312h16v16h-16zM1844 312h16v16h-16zM1876 312h16v16h-16zM1892 312h16v16h-16zM1220 328h16v16h-16zM1236 328h16v16h-16zM1252 328h16v16h-16zM1844 328h16v16h-16zM1860 328h16v16h-16zM1876 328h16v16h-16zM1236 344h16v16h-16zM1252 344h16v16h-16zM1860 344h16v16h-16zM1876 344h16v16h-16zM1892 344h16v16h-16zM1236 360h16v16h-16zM1252 360h16v16h-16zM1268 360h16v16h-16zM1876 360h16v16h-16zM1892 360h16v16h-16zM1908 360h16v16h-16zM1252 376h16v16h-16zM1268 376h16v16h-16zM1284 376h16v16h-16zM1892 376h16v16h-16zM1908 376h16v16h-16zM1252 392h16v16h-16zM1268 392h16v16h-16zM1284 392h16v16h-16zM1908 392h16v16h-16zM1924 392h16v16h-16zM1268 408h16v16h-16zM1284 408h16v16h-16zM1300 408h16v16h-16zM1908 408h16v16h-16zM1924 408h16v16h-16zM1940 408h16v16h-16zM1284 424h16v16h-16zM1300 424h16v16h-16zM1316 424h16v16h-16zM1924 424h16v16h-16zM1940 424h16v16h-16zM1956 424h16v16h-16zM1284 440h16v16h-16zM1300 440h16v16h-16zM1316 440h16v16h-16zM1924 440h16v16h-16zM1940 440h16v16h-16zM1956 440h16v16h-16zM1300 456h16v16h-16zM1316 456h16v16h-16zM1332 456h16v16h-16zM1940 456h16v16h-16zM1956 456h16v16h-16zM1972 456h16v16h-16zM1300 472h16v16h-16zM1316 472h16v16h-16zM1332 472h16v16h-16zM1348 472h16v16h-16zM1940 472h16v16h-16zM1956 472h16v16h-16zM1972 472h16v16h-16zM1316 488h16v16h-16zM1332 488h16v16h-16zM1348 488h16v16h-16zM1364 488h16v16h-16zM1956 488h16v16h-16zM1972 488h16v16h-16zM1988 488h16v16h-16zM1316 504h16v16h-16zM1332 504h16v16h-16zM1348 504h16v16h-16zM1364 504h16v16h-16zM1380 504h16v16h-16zM1956 504h16v16h-16zM1972 504h16v16h-16zM1988 504h16v16h-16zM1316 520h16v16h-16zM1332 520h16v16h-16zM1348 520h16v16h-16zM1364 520h16v16h-16zM1380 520h16v16h-16zM1396 520h16v16h-16zM1972 520h16v16h-16zM1988 520h16v16h-16zM1204 536h16v16h-16zM1220 536h16v16h-16zM1236 536h16v16h-16zM1252 536h16v16h-16zM1268 536h16v16h-16zM1284 536h16v16h-16zM1300 536h16v16h-16zM1316 536h16v16h-16zM1332 536h16v16h-16zM1348 536h16v16h-16zM1364 536h16v16h-16zM1380 536h16v16h-16zM1396 536h16v16h-16zM1412 536h16v16h-16zM1972 536h16v16h-16zM1988 536h16v16h-16zM1204 552h16v16h-16zM1220 552h16v16h-16zM1236 552h16v16h-16zM1252 552h16v16h-16zM1268 552h16v16h-16zM1284 552h16v16h-16zM1300 552h16v16h-16zM1316 552h16v16h-16zM1332 552h16v16h-16zM1348 552h16v16h-16zM1364 552h16v16h-16zM1380 552h16v16h-16zM1396 552h16v16h-16zM1412 552h16v16h-16zM1988 552h16v16h-16zM1204 568h16v16h-16zM1220 568h16v16h-16zM1236 568h16v16h-16zM1252 568h16v16h-16zM1268 568h16v16h-16zM1284 568h16v16h-16zM1300 568h16v16h-16zM1316 568h16v16h-16zM1332 568h16v16h-16zM1348 568h16v16h-16zM1364 568h16v16h-16zM1380 568h16v16h-16zM1396 568h16v16h-16zM1412 568h16v16h-16zM1988 568h16v16h-16zM1204 584h16v16h-16zM1220 584h16v16h-16zM1236 584h16v16h-16zM1252 584h16v16h-16zM1268 584h16v16h-16zM1284 584h16v16h-16zM1300 584h16v16h-16zM1316 584h16v16h-16zM1332 584h16v16h-16zM1348 584h16v16h-16zM1364 584h16v16h-16zM1380 584h16v16h-16zM1396 584h16v16h-16z" fill-opacity="0.014"/><path d="M1348 72h16v16h-16zM1364 72h16v16h-16zM1380 72h16v16h-16zM1396 72h16v16h-16zM1412 72h16v16h-16zM1428 72h16v16h-16zM1444 72h16v16h-16zM1460 72h16v16h-16zM1300 88h16v16h-16zM1316 88h16v16h-16zM1332 88h16v16h-16zM1348 88h16v16h-16zM1364 88h16v16h-16zM1380 88h16v16h-16zM1444 88h16v16h-16zM1460 88h16v16h-16zM1476 88h16v16h-16zM1492 88h16v16h-16zM1508 88h16v16h-16zM1284 104h16v16h-16zM1300 104h16v16h-16zM1316 104h16v16h-16zM1524 104h16v16h-16zM1540 104h16v16h-16zM1556 104h16v16h-16zM1268 120h16v16h-16zM1284 120h16v16h-16zM1300 120h16v16h-16zM1556 120h16v16h-16zM1572 120h16v16h-16zM1588 120h16v16h-16zM1252 136h16v16h-16zM1268 136h16v16h-16zM1284 136h16v16h-16zM1604 136h16v16h-16zM1620 136h16v16h-16zM1252 152h16v16h-16zM1268 152h16v16h-16zM1620 152h16v16h-16zM1636 152h16v16h-16zM1252 168h16v16h-16zM1652 168h16v16h-16zM1668 168h16v16h-16zM1236 184h16v16h-16zM1252 184h16v16h-16zM1668 184h16v16h-16zM1684 184h16v16h-16zM1236 200h16v16h-16zM1252 200h16v16h-16zM1700 200h16v16h-16zM1860 200h16v16h-16zM1892 200h16v16h-16zM1236 216h16v16h-16zM1252 216h16v16h-16zM1716 216h16v16h-16zM1732 216h16v16h-16zM1236 232h16v16h-16zM1252 232h16v16h-16zM1732 232h16v16h-16zM1748 232h16v16h-16zM1924 232h16v16h-16zM1236 248h16v16h-16zM1252 248h16v16h-16zM1748 248h16v16h-16zM1764 248h16v16h-16zM1252 264h16v16h-16zM1764 264h16v16h-16zM1780 264h16v16h-16zM1252 280h16v16h-16zM1780 280h16v16h-16zM1796 280h16v16h-16zM1252 296h16v16h-16zM1268 296h16v16h-16zM1796 296h16v16h-16zM1812 296h16v16h-16zM1828 296h16v16h-16zM1908 296h16v16h-16zM1268 312h16v16h-16zM1812 312h16v16h-16zM1828 312h16v16h-16zM1860 312h16v16h-16zM1268 328h16v16h-16zM1828 328h16v16h-16zM1268 344h16v16h-16zM1284 344h16v16h-16zM1844 344h16v16h-16zM1284 360h16v16h-16zM1860 360h16v16h-16zM1300 376h16v16h-16zM1860 376h16v16h-16zM1876 376h16v16h-16zM1300 392h16v16h-16zM1316 392h16v16h-16zM1876 392h16v16h-16zM1892 392h16v16h-16zM1316 408h16v16h-16zM1892 408h16v16h-16zM1332 424h16v16h-16zM1908 424h16v16h-16zM1332 440h16v16h-16zM1348 440h16v16h-16zM1908 440h16v16h-16zM1348 456h16v16h-16zM1364 456h16v16h-16zM1924 456h16v16h-16zM1364 472h16v16h-16zM1380 472h16v16h-16zM1924 472h16v16h-16zM1380 488h16v16h-16zM1396 488h16v16h-16zM1924 488h16v16h-16zM1940 488h16v16h-16zM1396 504h16v16h-16zM1412 504h16v16h-16zM1940 504h16v16h-16zM1412 520h16v16h-16zM1428 520h16v16h-16zM1940 520h16v16h-16zM1956 520h16v16h-16zM1428 536h16v16h-16zM1444 536h16v16h-16zM1940 536h16v16h-16zM1956 536h16v16h-16zM1428 552h16v16h-16zM1444 552h16v16h-16zM1460 552h16v16h-16zM1940 552h16v16h-16zM1956 552h16v16h-16zM1972 552h16v16h-16zM1428 568h16v16h-16zM1444 568h16v16h-16zM1460 568h16v16h-16zM1476 568h16v16h-16zM1956 568h16v16h-16zM1972 568h16v16h-16zM1412 584h16v16h-16zM1428 584h16v16h-16zM1444 584h16v16h-16zM1460 584h16v16h-16zM1476 584h16v16h-16zM1492 584h16v16h-16zM1956 584h16v16h-16zM1972 584h16v16h-16zM1988 584h16v16h-16zM1204 600h16v16h-16zM1220 600h16v16h-16zM1236 600h16v16h-16zM1252 600h16v16h-16zM1268 600h16v16h-16zM1284 600h16v16h-16zM1300 600h16v16h-16zM1316 600h16v16h-16zM1332 600h16v16h-16zM1348 600h16v16h-16zM1364 600h16v16h-16zM1380 600h16v16h-16zM1396 600h16v16h-16zM1412 600h16v16h-16zM1428 600h16v16h-16zM1444 600h16v16h-16zM1460 600h16v16h-16zM1476 600h16v16h-16zM1492 600h16v16h-16zM1972 600h16v16h-16zM1988 600h16v16h-16zM1204 616h16v16h-16zM1220 616h16v16h-16zM1236 616h16v16h-16zM1252 616h16v16h-16zM1268 616h16v16h-16zM1284 616h16v16h-16zM1300 616h16v16h-16zM1316 616h16v16h-16zM1332 616h16v16h-16zM1348 616h16v16h-16zM1364 616h16v16h-16zM1380 616h16v16h-16zM1396 616h16v16h-16zM1412 616h16v16h-16zM1428 616h16v16h-16zM1444 616h16v16h-16zM1460 616h16v16h-16zM1476 616h16v16h-16zM1988 616h16v16h-16zM1204 632h16v16h-16zM1220 632h16v16h-16zM1236 632h16v16h-16zM1252 632h16v16h-16zM1268 632h16v16h-16zM1284 632h16v16h-16zM1300 632h16v16h-16zM1316 632h16v16h-16zM1332 632h16v16h-16zM1348 632h16v16h-16z" fill-opacity="0.021"/><path d="M1396 88h16v16h-16zM1412 88h16v16h-16zM1428 88h16v16h-16zM1332 104h16v16h-16zM1348 104h16v16h-16zM1364 104h16v16h-16zM1460 104h16v16h-16zM1476 104h16v16h-16zM1492 104h16v16h-16zM1508 104h16v16h-16zM1316 120h16v16h-16zM1524 120h16v16h-16zM1540 120h16v16h-16zM1300 136h16v16h-16zM1572 136h16v16h-16zM1588 136h16v16h-16zM1284 152h16v16h-16zM1604 152h16v16h-16zM1268 168h16v16h-16zM1284 168h16v16h-16zM1636 168h16v16h-16zM1268 184h16v16h-16zM1652 184h16v16h-16zM1268 200h16v16h-16zM1684 200h16v16h-16zM1876 200h16v16h-16zM1268 216h16v16h-16zM1700 216h16v16h-16zM1908 216h16v16h-16zM1268 232h16v16h-16zM1716 232h16v16h-16zM1268 248h16v16h-16zM1732 248h16v16h-16zM1924 248h16v16h-16zM1268 264h16v16h-16zM1748 264h16v16h-16zM1924 264h16v16h-16zM1268 280h16v16h-16zM1764 280h16v16h-16zM1828 280h16v16h-16zM1284 296h16v16h-16zM1780 296h16v16h-16zM1284 312h16v16h-16zM1796 312h16v16h-16zM1284 328h16v16h-16zM1812 328h16v16h-16zM1300 344h16v16h-16zM1828 344h16v16h-16zM1300 360h16v16h-16zM1844 360h16v16h-16zM1316 376h16v16h-16zM1332 392h16v16h-16zM1860 392h16v16h-16zM1332 408h16v16h-16zM1876 408h16v16h-16zM1348 424h16v16h-16zM1892 424h16v16h-16zM1364 440h16v16h-16zM1892 440h16v16h-16zM1380 456h16v16h-16zM1908 456h16v16h-16zM1396 472h16v16h-16zM1908 472h16v16h-16zM1412 488h16v16h-16zM1908 488h16v16h-16zM1428 504h16v16h-16zM1924 504h16v16h-16zM1444 520h16v16h-16zM1924 520h16v16h-16zM1460 536h16v16h-16zM1924 536h16v16h-16zM1476 552h16v16h-16zM1492 552h16v16h-16zM1924 552h16v16h-16zM1492 568h16v16h-16zM1508 568h16v16h-16zM1924 568h16v16h-16zM1940 568h16v16h-16zM1508 584h16v16h-16zM1524 584h16v16h-16zM1924 584h16v16h-16zM1940 584h16v16h-16zM1508 600h16v16h-16zM1524 600h16v16h-16zM1540 600h16v16h-16zM1924 600h16v16h-16zM1940 600h16v16h-16zM1956 600h16v16h-16zM1492 616h16v16h-16zM1508 616h16v16h-16zM1524 616h16v16h-16zM1540 616h16v16h-16zM1556 616h16v16h-16zM1924 616h16v16h-16zM1940 616h16v16h-16zM1956 616h16v16h-16zM1972 616h16v16h-16zM1364 632h16v16h-16zM1380 632h16v16h-16zM1396 632h16v16h-16zM1412 632h16v16h-16zM1428 632h16v16h-16zM1444 632h16v16h-16zM1460 632h16v16h-16zM1476 632h16v16h-16zM1492 632h16v16h-16zM1508 632h16v16h-16zM1524 632h16v16h-16zM1540 632h16v16h-16zM1556 632h16v16h-16zM1572 632h16v16h-16zM1940 632h16v16h-16zM1956 632h16v16h-16zM1972 632h16v16h-16zM1988 632h16v16h-16zM1204 648h16v16h-16zM1220 648h16v16h-16zM1236 648h16v16h-16zM1252 648h16v16h-16zM1268 648h16v16h-16zM1284 648h16v16h-16zM1300 648h16v16h-16zM1316 648h16v16h-16zM1332 648h16v16h-16zM1348 648h16v16h-16zM1364 648h16v16h-16zM1380 648h16v16h-16zM1396 648h16v16h-16zM1412 648h16v16h-16zM1428 648h16v16h-16zM1444 648h16v16h-16zM1460 648h16v16h-16zM1476 648h16v16h-16zM1492 648h16v16h-16zM1508 648h16v16h-16zM1524 648h16v16h-16zM1540 648h16v16h-16zM1556 648h16v16h-16zM1572 648h16v16h-16zM1956 648h16v16h-16zM1972 648h16v16h-16zM1988 648h16v16h-16zM1204 664h16v16h-16zM1220 664h16v16h-16zM1236 664h16v16h-16zM1252 664h16v16h-16zM1268 664h16v16h-16zM1284 664h16v16h-16zM1300 664h16v16h-16zM1316 664h16v16h-16zM1332 664h16v16h-16zM1348 664h16v16h-16zM1364 664h16v16h-16zM1380 664h16v16h-16zM1396 664h16v16h-16zM1412 664h16v16h-16zM1428 664h16v16h-16zM1444 664h16v16h-16zM1460 664h16v16h-16zM1476 664h16v16h-16zM1492 664h16v16h-16zM1508 664h16v16h-16z" fill-opacity="0.028"/><path d="M1380 104h16v16h-16zM1396 104h16v16h-16zM1412 104h16v16h-16zM1428 104h16v16h-16zM1444 104h16v16h-16zM1332 120h16v16h-16zM1348 120h16v16h-16zM1492 120h16v16h-16zM1508 120h16v16h-16zM1316 136h16v16h-16zM1540 136h16v16h-16zM1556 136h16v16h-16zM1300 152h16v16h-16zM1572 152h16v16h-16zM1588 152h16v16h-16zM1300 168h16v16h-16zM1604 168h16v16h-16zM1620 168h16v16h-16zM1284 184h16v16h-16zM1636 184h16v16h-16zM1284 200h16v16h-16zM1668 200h16v16h-16zM1284 216h16v16h-16zM1684 216h16v16h-16zM1284 232h16v16h-16zM1700 232h16v16h-16zM1828 232h16v16h-16zM1284 248h16v16h-16zM1716 248h16v16h-16zM1284 264h16v16h-16zM1732 264h16v16h-16zM1284 280h16v16h-16zM1764 296h16v16h-16zM1844 296h16v16h-16zM1300 312h16v16h-16zM1780 312h16v16h-16zM1300 328h16v16h-16zM1796 328h16v16h-16zM1316 344h16v16h-16zM1812 344h16v16h-16zM1316 360h16v16h-16zM1828 360h16v16h-16zM1332 376h16v16h-16zM1844 376h16v16h-16zM1348 408h16v16h-16zM1860 408h16v16h-16zM1364 424h16v16h-16zM1876 424h16v16h-16zM1380 440h16v16h-16zM1876 440h16v16h-16zM1396 456h16v16h-16zM1892 456h16v16h-16zM1412 472h16v16h-16zM1892 472h16v16h-16zM1428 488h16v16h-16zM1444 504h16v16h-16zM1908 504h16v16h-16zM1460 520h16v16h-16zM1908 520h16v16h-16zM1476 536h16v16h-16zM1492 536h16v16h-16zM1908 536h16v16h-16zM1508 552h16v16h-16zM1908 552h16v16h-16zM1524 568h16v16h-16zM1908 568h16v16h-16zM1540 584h16v16h-16zM1556 584h16v16h-16zM1908 584h16v16h-16zM1556 600h16v16h-16zM1572 600h16v16h-16zM1588 600h16v16h-16zM1892 600h16v16h-16zM1908 600h16v16h-16zM1572 616h16v16h-16zM1588 616h16v16h-16zM1604 616h16v16h-16zM1892 616h16v16h-16zM1908 616h16v16h-16zM1588 632h16v16h-16zM1604 632h16v16h-16zM1620 632h16v16h-16zM1636 632h16v16h-16zM1876 632h16v16h-16zM1892 632h16v16h-16zM1908 632h16v16h-16zM1924 632h16v16h-16zM1588 648h16v16h-16zM1604 648h16v16h-16zM1620 648h16v16h-16zM1636 648h16v16h-16zM1652 648h16v16h-16zM1876 648h16v16h-16zM1892 648h16v16h-16zM1908 648h16v16h-16zM1924 648h16v16h-16zM1940 648h16v16h-16zM1524 664h16v16h-16zM1540 664h16v16h-16zM1556 664h16v16h-16zM1572 664h16v16h-16zM1588 664h16v16h-16zM1604 664h16v16h-16zM1620 664h16v16h-16zM1636 664h16v16h-16zM1652 664h16v16h-16zM1668 664h16v16h-16zM1684 664h16v16h-16zM1860 664h16v16h-16zM1876 664h16v16h-16zM1892 664h16v16h-16zM1908 664h16v16h-16zM1924 664h16v16h-16zM1940 664h16v16h-16zM1956 664h16v16h-16zM1972 664h16v16h-16zM1988 664h16v16h-16zM1204 680h16v16h-16zM1220 680h16v16h-16zM1236 680h16v16h-16zM1252 680h16v16h-16zM1268 680h16v16h-16zM1284 680h16v16h-16zM1300 680h16v16h-16zM1316 680h16v16h-16zM1332 680h16v16h-16zM1348 680h16v16h-16zM1364 680h16v16h-16zM1380 680h16v16h-16zM1396 680h16v16h-16zM1412 680h16v16h-16zM1428 680h16v16h-16zM1444 680h16v16h-16zM1460 680h16v16h-16zM1476 680h16v16h-16zM1492 680h16v16h-16zM1508 680h16v16h-16zM1524 680h16v16h-16zM1540 680h16v16h-16zM1556 680h16v16h-16zM1572 680h16v16h-16zM1588 680h16v16h-16zM1604 680h16v16h-16zM1620 680h16v16h-16zM1636 680h16v16h-16zM1652 680h16v16h-16zM1668 680h16v16h-16zM1684 680h16v16h-16zM1700 680h16v16h-16zM1844 680h16v16h-16zM1860 680h16v16h-16zM1876 680h16v16h-16zM1892 680h16v16h-16zM1908 680h16v16h-16zM1924 680h16v16h-16zM1940 680h16v16h-16zM1956 680h16v16h-16zM1972 680h16v16h-16zM1988 680h16v16h-16zM1204 696h16v16h-16zM1220 696h16v16h-16zM1236 696h16v16h-16zM1252 696h16v16h-16zM1268 696h16v16h-16zM1284 696h16v16h-16zM1300 696h16v16h-16zM1316 696h16v16h-16zM1332 696h16v16h-16zM1348 696h16v16h-16zM1364 696h16v16h-16zM1380 696h16v16h-16zM1396 696h16v16h-16zM1412 696h16v16h-16zM1428 696h16v16h-16zM1444 696h16v16h-16zM1460 696h16v16h-16zM1476 696h16v16h-16zM1492 696h16v16h-16zM1508 696h16v16h-16zM1524 696h16v16h-16zM1540 696h16v16h-16zM1556 696h16v16h-16zM1572 696h16v16h-16zM1588 696h16v16h-16zM1604 696h16v16h-16zM1620 696h16v16h-16zM1636 696h16v16h-16zM1652 696h16v16h-16zM1668 696h16v16h-16zM1684 696h16v16h-16zM1700 696h16v16h-16zM1716 696h16v16h-16zM1860 696h16v16h-16zM1876 696h16v16h-16zM1892 696h16v16h-16zM1908 696h16v16h-16zM1924 696h16v16h-16zM1940 696h16v16h-16zM1956 696h16v16h-16zM1972 696h16v16h-16zM1988 696h16v16h-16zM1204 712h16v16h-16zM1220 712h16v16h-16zM1236 712h16v16h-16zM1252 712h16v16h-16zM1268 712h16v16h-16zM1284 712h16v16h-16zM1300 712h16v16h-16zM1316 712h16v16h-16zM1332 712h16v16h-16zM1348 712h16v16h-16zM1364 712h16v16h-16zM1380 712h16v16h-16zM1396 712h16v16h-16zM1412 712h16v16h-16zM1428 712h16v16h-16zM1444 712h16v16h-16zM1460 712h16v16h-16zM1476 712h16v16h-16zM1492 712h16v16h-16zM1508 712h16v16h-16zM1524 712h16v16h-16zM1540 712h16v16h-16zM1556 712h16v16h-16zM1572 712h16v16h-16zM1588 712h16v16h-16zM1604 712h16v16h-16zM1620 712h16v16h-16zM1636 712h16v16h-16zM1652 712h16v16h-16zM1668 712h16v16h-16zM1684 712h16v16h-16zM1892 712h16v16h-16zM1908 712h16v16h-16zM1924 712h16v16h-16zM1940 712h16v16h-16zM1956 712h16v16h-16zM1972 712h16v16h-16zM1988 712h16v16h-16zM1204 728h16v16h-16zM1220 728h16v16h-16zM1236 728h16v16h-16zM1252 728h16v16h-16zM1268 728h16v16h-16zM1284 728h16v16h-16zM1300 728h16v16h-16zM1316 728h16v16h-16zM1332 728h16v16h-16zM1348 728h16v16h-16zM1364 728h16v16h-16zM1380 728h16v16h-16zM1396 728h16v16h-16zM1412 728h16v16h-16zM1428 728h16v16h-16zM1444 728h16v16h-16zM1460 728h16v16h-16zM1476 728h16v16h-16zM1492 728h16v16h-16zM1508 728h16v16h-16zM1524 728h16v16h-16zM1540 728h16v16h-16zM1556 728h16v16h-16zM1572 728h16v16h-16zM1588 728h16v16h-16zM1604 728h16v16h-16zM1956 728h16v16h-16zM1972 728h16v16h-16zM1988 728h16v16h-16z" fill-opacity="0.035"/><path d="M1364 120h16v16h-16zM1380 120h16v16h-16zM1396 120h16v16h-16zM1412 120h16v16h-16zM1428 120h16v16h-16zM1444 120h16v16h-16zM1460 120h16v16h-16zM1476 120h16v16h-16zM1332 136h16v16h-16zM1348 136h16v16h-16zM1524 136h16v16h-16zM1316 152h16v16h-16zM1556 152h16v16h-16zM1316 168h16v16h-16zM1588 168h16v16h-16zM1300 184h16v16h-16zM1620 184h16v16h-16zM1300 200h16v16h-16zM1652 200h16v16h-16zM1300 216h16v16h-16zM1668 216h16v16h-16zM1300 248h16v16h-16zM1300 264h16v16h-16zM1300 280h16v16h-16zM1748 280h16v16h-16zM1300 296h16v16h-16zM1892 296h16v16h-16zM1316 328h16v16h-16zM1332 360h16v16h-16zM1812 360h16v16h-16zM1828 376h16v16h-16zM1348 392h16v16h-16zM1844 392h16v16h-16zM1364 408h16v16h-16zM1380 424h16v16h-16zM1860 424h16v16h-16zM1396 440h16v16h-16zM1876 456h16v16h-16zM1444 488h16v16h-16zM1892 488h16v16h-16zM1460 504h16v16h-16zM1892 504h16v16h-16zM1476 520h16v16h-16zM1892 520h16v16h-16zM1892 536h16v16h-16zM1524 552h16v16h-16zM1892 552h16v16h-16zM1540 568h16v16h-16zM1556 568h16v16h-16zM1892 568h16v16h-16zM1572 584h16v16h-16zM1876 584h16v16h-16zM1892 584h16v16h-16zM1604 600h16v16h-16zM1876 600h16v16h-16zM1620 616h16v16h-16zM1636 616h16v16h-16zM1860 616h16v16h-16zM1876 616h16v16h-16zM1652 632h16v16h-16zM1668 632h16v16h-16zM1684 632h16v16h-16zM1828 632h16v16h-16zM1844 632h16v16h-16zM1860 632h16v16h-16zM1668 648h16v16h-16zM1684 648h16v16h-16zM1700 648h16v16h-16zM1716 648h16v16h-16zM1732 648h16v16h-16zM1748 648h16v16h-16zM1764 648h16v16h-16zM1780 648h16v16h-16zM1796 648h16v16h-16zM1812 648h16v16h-16zM1828 648h16v16h-16zM1844 648h16v16h-16zM1860 648h16v16h-16zM1700 664h16v16h-16zM1716 664h16v16h-16zM1732 664h16v16h-16zM1748 664h16v16h-16zM1764 664h16v16h-16zM1780 664h16v16h-16zM1796 664h16v16h-16zM1812 664h16v16h-16zM1828 664h16v16h-16zM1844 664h16v16h-16zM1716 680h16v16h-16zM1732 680h16v16h-16zM1748 680h16v16h-16zM1764 680h16v16h-16zM1780 680h16v16h-16zM1796 680h16v16h-16zM1812 680h16v16h-16zM1828 680h16v16h-16zM1732 696h16v16h-16zM1748 696h16v16h-16zM1764 696h16v16h-16zM1780 696h16v16h-16zM1796 696h16v16h-16zM1812 696h16v16h-16zM1828 696h16v16h-16zM1844 696h16v16h-16zM1700 712h16v16h-16zM1716 712h16v16h-16zM1732 712h16v16h-16zM1748 712h16v16h-16zM1764 712h16v16h-16zM1780 712h16v16h-16zM1796 712h16v16h-16zM1812 712h16v16h-16zM1828 712h16v16h-16zM1844 712h16v16h-16zM1860 712h16v16h-16zM1876 712h16v16h-16zM1620 728h16v16h-16zM1636 728h16v16h-16zM1652 728h16v16h-16zM1668 728h16v16h-16zM1684 728h16v16h-16zM1700 728h16v16h-16zM1716 728h16v16h-16zM1732 728h16v16h-16zM1748 728h16v16h-16zM1764 728h16v16h-16zM1780 728h16v16h-16zM1796 728h16v16h-16zM1812 728h16v16h-16zM1828 728h16v16h-16zM1844 728h16v16h-16zM1860 728h16v16h-16zM1876 728h16v16h-16zM1892 728h16v16h-16zM1908 728h16v16h-16zM1924 728h16v16h-16zM1940 728h16v16h-16zM1204 744h16v16h-16zM1220 744h16v16h-16zM1236 744h16v16h-16zM1252 744h16v16h-16zM1268 744h16v16h-16zM1284 744h16v16h-16zM1300 744h16v16h-16zM1316 744h16v16h-16zM1332 744h16v16h-16zM1348 744h16v16h-16zM1364 744h16v16h-16zM1380 744h16v16h-16zM1396 744h16v16h-16zM1412 744h16v16h-16zM1428 744h16v16h-16zM1444 744h16v16h-16zM1460 744h16v16h-16zM1476 744h16v16h-16zM1492 744h16v16h-16zM1508 744h16v16h-16zM1524 744h16v16h-16zM1540 744h16v16h-16zM1556 744h16v16h-16zM1572 744h16v16h-16zM1588 744h16v16h-16zM1604 744h16v16h-16zM1620 744h16v16h-16zM1636 744h16v16h-16zM1652 744h16v16h-16zM1668 744h16v16h-16zM1684 744h16v16h-16zM1700 744h16v16h-16zM1716 744h16v16h-16zM1732 744h16v16h-16zM1748 744h16v16h-16zM1764 744h16v16h-16zM1780 744h16v16h-16zM1796 744h16v16h-16zM1812 744h16v16h-16zM1828 744h16v16h-16zM1844 744h16v16h-16zM1860 744h16v16h-16zM1876 744h16v16h-16zM1892 744h16v16h-16zM1908 744h16v16h-16zM1924 744h16v16h-16zM1940 744h16v16h-16zM1956 744h16v16h-16zM1972 744h16v16h-16zM1988 744h16v16h-16zM1204 760h16v16h-16zM1220 760h16v16h-16zM1236 760h16v16h-16zM1252 760h16v16h-16zM1268 760h16v16h-16zM1284 760h16v16h-16zM1300 760h16v16h-16zM1316 760h16v16h-16zM1332 760h16v16h-16zM1348 760h16v16h-16zM1364 760h16v16h-16zM1380 760h16v16h-16zM1396 760h16v16h-16zM1412 760h16v16h-16zM1428 760h16v16h-16zM1444 760h16v16h-16zM1460 760h16v16h-16zM1476 760h16v16h-16zM1492 760h16v16h-16zM1508 760h16v16h-16zM1524 760h16v16h-16zM1540 760h16v16h-16zM1556 760h16v16h-16zM1572 760h16v16h-16zM1588 760h16v16h-16zM1604 760h16v16h-16zM1620 760h16v16h-16zM1636 760h16v16h-16zM1652 760h16v16h-16zM1668 760h16v16h-16zM1684 760h16v16h-16zM1700 760h16v16h-16zM1716 760h16v16h-16zM1732 760h16v16h-16zM1748 760h16v16h-16zM1764 760h16v16h-16zM1780 760h16v16h-16zM1796 760h16v16h-16zM1812 760h16v16h-16zM1828 760h16v16h-16zM1844 760h16v16h-16zM1860 760h16v16h-16zM1876 760h16v16h-16zM1892 760h16v16h-16zM1908 760h16v16h-16zM1924 760h16v16h-16zM1940 760h16v16h-16zM1956 760h16v16h-16zM1972 760h16v16h-16zM1988 760h16v16h-16zM1204 776h16v16h-16zM1220 776h16v16h-16zM1236 776h16v16h-16zM1252 776h16v16h-16zM1268 776h16v16h-16zM1284 776h16v16h-16zM1300 776h16v16h-16zM1316 776h16v16h-16zM1332 776h16v16h-16zM1348 776h16v16h-16zM1364 776h16v16h-16zM1380 776h16v16h-16zM1396 776h16v16h-16zM1412 776h16v16h-16zM1428 776h16v16h-16zM1444 776h16v16h-16zM1460 776h16v16h-16zM1476 776h16v16h-16zM1492 776h16v16h-16zM1508 776h16v16h-16zM1524 776h16v16h-16zM1540 776h16v16h-16zM1556 776h16v16h-16zM1572 776h16v16h-16zM1588 776h16v16h-16zM1604 776h16v16h-16zM1620 776h16v16h-16zM1636 776h16v16h-16zM1652 776h16v16h-16zM1668 776h16v16h-16zM1684 776h16v16h-16zM1700 776h16v16h-16zM1716 776h16v16h-16zM1732 776h16v16h-16zM1748 776h16v16h-16zM1764 776h16v16h-16zM1780 776h16v16h-16zM1796 776h16v16h-16zM1812 776h16v16h-16zM1828 776h16v16h-16zM1844 776h16v16h-16zM1860 776h16v16h-16zM1876 776h16v16h-16zM1892 776h16v16h-16zM1908 776h16v16h-16zM1924 776h16v16h-16zM1940 776h16v16h-16zM1956 776h16v16h-16zM1972 776h16v16h-16zM1988 776h16v16h-16z" fill-opacity="0.042"/><path d="M1364 136h16v16h-16zM1492 136h16v16h-16zM1508 136h16v16h-16zM1332 152h16v16h-16zM1540 152h16v16h-16zM1316 184h16v16h-16zM1604 184h16v16h-16zM1636 200h16v16h-16zM1844 216h16v16h-16zM1300 232h16v16h-16zM1684 232h16v16h-16zM1700 248h16v16h-16zM1716 264h16v16h-16zM1828 264h16v16h-16zM1732 280h16v16h-16zM1316 296h16v16h-16zM1748 296h16v16h-16zM1316 312h16v16h-16zM1764 312h16v16h-16zM1780 328h16v16h-16zM1332 344h16v16h-16zM1796 344h16v16h-16zM1348 376h16v16h-16zM1364 392h16v16h-16zM1828 392h16v16h-16zM1844 408h16v16h-16zM1860 440h16v16h-16zM1412 456h16v16h-16zM1428 472h16v16h-16zM1876 472h16v16h-16zM1876 488h16v16h-16zM1492 520h16v16h-16zM1508 536h16v16h-16zM1876 536h16v16h-16zM1540 552h16v16h-16zM1876 552h16v16h-16zM1572 568h16v16h-16zM1876 568h16v16h-16zM1588 584h16v16h-16zM1604 584h16v16h-16zM1860 584h16v16h-16zM1620 600h16v16h-16zM1636 600h16v16h-16zM1844 600h16v16h-16zM1860 600h16v16h-16zM1652 616h16v16h-16zM1668 616h16v16h-16zM1684 616h16v16h-16zM1812 616h16v16h-16zM1828 616h16v16h-16zM1844 616h16v16h-16zM1700 632h16v16h-16zM1716 632h16v16h-16zM1732 632h16v16h-16zM1748 632h16v16h-16zM1764 632h16v16h-16zM1780 632h16v16h-16zM1796 632h16v16h-16zM1812 632h16v16h-16z" fill-opacity="0.049"/><path d="M1380 136h16v16h-16zM1396 136h16v16h-16zM1460 136h16v16h-16zM1476 136h16v16h-16zM1348 152h16v16h-16zM1524 152h16v16h-16zM1332 168h16v16h-16zM1572 168h16v16h-16zM1316 200h16v16h-16zM1620 200h16v16h-16zM1316 216h16v16h-16zM1652 216h16v16h-16zM1316 232h16v16h-16zM1668 232h16v16h-16zM1316 248h16v16h-16zM1828 248h16v16h-16zM1316 264h16v16h-16zM1316 280h16v16h-16zM1908 280h16v16h-16zM1860 296h16v16h-16zM1332 328h16v16h-16zM1348 360h16v16h-16zM1796 360h16v16h-16zM1812 376h16v16h-16zM1380 408h16v16h-16zM1396 424h16v16h-16zM1844 424h16v16h-16zM1412 440h16v16h-16zM1428 456h16v16h-16zM1860 456h16v16h-16zM1444 472h16v16h-16zM1460 488h16v16h-16zM1476 504h16v16h-16zM1876 504h16v16h-16zM1876 520h16v16h-16zM1524 536h16v16h-16zM1556 552h16v16h-16zM1588 568h16v16h-16zM1860 568h16v16h-16zM1620 584h16v16h-16zM1844 584h16v16h-16zM1652 600h16v16h-16zM1828 600h16v16h-16zM1700 616h16v16h-16zM1716 616h16v16h-16zM1732 616h16v16h-16zM1748 616h16v16h-16zM1764 616h16v16h-16zM1780 616h16v16h-16zM1796 616h16v16h-16z" fill-opacity="0.056"/><path d="M1412 136h16v16h-16zM1428 136h16v16h-16zM1444 136h16v16h-16zM1364 152h16v16h-16zM1508 152h16v16h-16zM1556 168h16v16h-16zM1332 184h16v16h-16zM1588 184h16v16h-16zM1636 216h16v16h-16zM1684 248h16v16h-16zM1700 264h16v16h-16zM1716 280h16v16h-16zM1332 296h16v16h-16zM1732 296h16v16h-16zM1876 296h16v16h-16zM1332 312h16v16h-16zM1748 312h16v16h-16zM1764 328h16v16h-16zM1348 344h16v16h-16zM1780 344h16v16h-16zM1364 376h16v16h-16zM1380 392h16v16h-16zM1828 408h16v16h-16zM1844 440h16v16h-16zM1860 472h16v16h-16zM1860 488h16v16h-16zM1492 504h16v16h-16zM1860 504h16v16h-16zM1508 520h16v16h-16zM1860 520h16v16h-16zM1540 536h16v16h-16zM1860 536h16v16h-16zM1860 552h16v16h-16zM1844 568h16v16h-16zM1636 584h16v16h-16zM1828 584h16v16h-16zM1668 600h16v16h-16zM1684 600h16v16h-16zM1700 600h16v16h-16zM1796 600h16v16h-16zM1812 600h16v16h-16z" fill-opacity="0.063"/><path d="M1380 152h16v16h-16zM1492 152h16v16h-16zM1348 168h16v16h-16zM1540 168h16v16h-16zM1572 184h16v16h-16zM1332 200h16v16h-16zM1604 200h16v16h-16zM1652 232h16v16h-16zM1332 280h16v16h-16zM1348 328h16v16h-16zM1364 360h16v16h-16zM1796 376h16v16h-16zM1812 392h16v16h-16zM1396 408h16v16h-16zM1412 424h16v16h-16zM1828 424h16v16h-16zM1844 456h16v16h-16zM1460 472h16v16h-16zM1476 488h16v16h-16zM1524 520h16v16h-16zM1572 552h16v16h-16zM1844 552h16v16h-16zM1604 568h16v16h-16zM1828 568h16v16h-16zM1652 584h16v16h-16zM1812 584h16v16h-16zM1716 600h16v16h-16zM1732 600h16v16h-16zM1748 600h16v16h-16zM1764 600h16v16h-16zM1780 600h16v16h-16z" fill-opacity="0.070"/><path d="M1476 152h16v16h-16zM1524 168h16v16h-16zM1348 184h16v16h-16zM1332 216h16v16h-16zM1892 216h16v16h-16zM1332 232h16v16h-16zM1332 248h16v16h-16zM1668 248h16v16h-16zM1332 264h16v16h-16zM1348 312h16v16h-16zM1780 360h16v16h-16zM1380 376h16v16h-16zM1428 440h16v16h-16zM1444 456h16v16h-16zM1844 472h16v16h-16zM1508 504h16v16h-16zM1844 520h16v16h-16zM1556 536h16v16h-16zM1844 536h16v16h-16zM1588 552h16v16h-16zM1620 568h16v16h-16zM1668 584h16v16h-16zM1796 584h16v16h-16z" fill-opacity="0.077"/><path d="M1396 152h16v16h-16zM1412 152h16v16h-16zM1428 152h16v16h-16zM1444 152h16v16h-16zM1460 152h16v16h-16zM1364 168h16v16h-16zM1556 184h16v16h-16zM1588 200h16v16h-16zM1620 216h16v16h-16zM1908 232h16v16h-16zM1684 264h16v16h-16zM1700 280h16v16h-16zM1348 296h16v16h-16zM1716 296h16v16h-16zM1732 312h16v16h-16zM1748 328h16v16h-16zM1364 344h16v16h-16zM1764 344h16v16h-16zM1396 392h16v16h-16zM1812 408h16v16h-16zM1828 440h16v16h-16zM1492 488h16v16h-16zM1844 488h16v16h-16zM1844 504h16v16h-16zM1828 552h16v16h-16zM1636 568h16v16h-16zM1812 568h16v16h-16zM1684 584h16v16h-16zM1700 584h16v16h-16zM1716 584h16v16h-16zM1748 584h16v16h-16zM1764 584h16v16h-16zM1780 584h16v16h-16z" fill-opacity="0.084"/><path d="M1508 168h16v16h-16zM1348 200h16v16h-16zM1636 232h16v16h-16zM1348 280h16v16h-16zM1844 280h16v16h-16zM1364 328h16v16h-16zM1380 360h16v16h-16zM1796 392h16v16h-16zM1412 408h16v16h-16zM1428 424h16v16h-16zM1812 424h16v16h-16zM1828 456h16v16h-16zM1476 472h16v16h-16zM1540 520h16v16h-16zM1572 536h16v16h-16zM1828 536h16v16h-16zM1604 552h16v16h-16zM1812 552h16v16h-16zM1652 568h16v16h-16zM1796 568h16v16h-16zM1732 584h16v16h-16z" fill-opacity="0.091"/><path d="M1380 168h16v16h-16zM1492 168h16v16h-16zM1364 184h16v16h-16zM1540 184h16v16h-16zM1572 200h16v16h-16zM1348 216h16v16h-16zM1604 216h16v16h-16zM1860 216h16v16h-16zM1348 232h16v16h-16zM1348 248h16v16h-16zM1652 248h16v16h-16zM1348 264h16v16h-16zM1764 360h16v16h-16zM1780 376h16v16h-16zM1444 440h16v16h-16zM1460 456h16v16h-16zM1828 472h16v16h-16zM1828 488h16v16h-16zM1524 504h16v16h-16zM1828 504h16v16h-16zM1828 520h16v16h-16zM1620 552h16v16h-16zM1668 568h16v16h-16zM1780 568h16v16h-16z" fill-opacity="0.098"/><path d="M1396 168h16v16h-16zM1668 264h16v16h-16zM1684 280h16v16h-16zM1364 312h16v16h-16zM1380 344h16v16h-16zM1748 344h16v16h-16zM1396 376h16v16h-16zM1796 408h16v16h-16zM1812 440h16v16h-16zM1508 488h16v16h-16zM1556 520h16v16h-16zM1588 536h16v16h-16zM1812 536h16v16h-16zM1796 552h16v16h-16zM1684 568h16v16h-16zM1748 568h16v16h-16zM1764 568h16v16h-16z" fill-opacity="0.105"/><path d="M1476 168h16v16h-16zM1524 184h16v16h-16zM1364 200h16v16h-16zM1876 216h16v16h-16zM1620 232h16v16h-16zM1364 296h16v16h-16zM1700 296h16v16h-16zM1716 312h16v16h-16zM1732 328h16v16h-16zM1412 392h16v16h-16zM1780 392h16v16h-16zM1812 456h16v16h-16zM1492 472h16v16h-16zM1812 520h16v16h-16zM1636 552h16v16h-16zM1780 552h16v16h-16zM1700 568h16v16h-16zM1716 568h16v16h-16zM1732 568h16v16h-16z" fill-opacity="0.112"/><path d="M1412 168h16v16h-16zM1428 168h16v16h-16zM1444 168h16v16h-16zM1460 168h16v16h-16zM1380 184h16v16h-16zM1556 200h16v16h-16zM1588 216h16v16h-16zM1636 248h16v16h-16zM1908 264h16v16h-16zM1364 280h16v16h-16zM1380 328h16v16h-16zM1396 360h16v16h-16zM1428 408h16v16h-16zM1444 424h16v16h-16zM1796 424h16v16h-16zM1460 440h16v16h-16zM1476 456h16v16h-16zM1812 472h16v16h-16zM1812 488h16v16h-16zM1540 504h16v16h-16zM1812 504h16v16h-16zM1604 536h16v16h-16zM1796 536h16v16h-16zM1652 552h16v16h-16z" fill-opacity="0.119"/><path d="M1508 184h16v16h-16zM1364 216h16v16h-16zM1844 232h16v16h-16zM1364 264h16v16h-16zM1764 376h16v16h-16zM1572 520h16v16h-16zM1764 552h16v16h-16z" fill-opacity="0.126"/><path d="M1364 232h16v16h-16zM1604 232h16v16h-16zM1364 248h16v16h-16zM1908 248h16v16h-16zM1652 264h16v16h-16zM1380 312h16v16h-16zM1748 360h16v16h-16zM1412 376h16v16h-16zM1780 408h16v16h-16zM1796 440h16v16h-16zM1524 488h16v16h-16zM1796 520h16v16h-16zM1620 536h16v16h-16zM1780 536h16v16h-16zM1668 552h16v16h-16zM1684 552h16v16h-16zM1748 552h16v16h-16z" fill-opacity="0.133"/><path d="M1396 184h16v16h-16zM1380 200h16v16h-16zM1540 200h16v16h-16zM1572 216h16v16h-16zM1668 280h16v16h-16zM1684 296h16v16h-16zM1700 312h16v16h-16zM1716 328h16v16h-16zM1396 344h16v16h-16zM1732 344h16v16h-16zM1428 392h16v16h-16zM1796 456h16v16h-16zM1508 472h16v16h-16zM1556 504h16v16h-16zM1796 504h16v16h-16zM1588 520h16v16h-16zM1700 552h16v16h-16zM1716 552h16v16h-16zM1732 552h16v16h-16z" fill-opacity="0.140"/><path d="M1492 184h16v16h-16zM1620 248h16v16h-16zM1380 296h16v16h-16zM1764 392h16v16h-16zM1444 408h16v16h-16zM1780 424h16v16h-16zM1492 456h16v16h-16zM1796 472h16v16h-16zM1796 488h16v16h-16zM1780 520h16v16h-16zM1636 536h16v16h-16zM1764 536h16v16h-16z" fill-opacity="0.147"/><path d="M1412 184h16v16h-16zM1476 184h16v16h-16zM1892 280h16v16h-16zM1396 328h16v16h-16zM1412 360h16v16h-16zM1748 376h16v16h-16zM1460 424h16v16h-16zM1476 440h16v16h-16zM1540 488h16v16h-16zM1748 536h16v16h-16z" fill-opacity="0.154"/><path d="M1524 200h16v16h-16zM1380 216h16v16h-16zM1556 216h16v16h-16zM1588 232h16v16h-16zM1636 264h16v16h-16zM1380 280h16v16h-16zM1780 440h16v16h-16zM1780 504h16v16h-16zM1604 520h16v16h-16zM1652 536h16v16h-16z" fill-opacity="0.161"/><path d="M1428 184h16v16h-16zM1444 184h16v16h-16zM1460 184h16v16h-16zM1396 200h16v16h-16zM1380 232h16v16h-16zM1380 264h16v16h-16zM1652 280h16v16h-16zM1732 360h16v16h-16zM1428 376h16v16h-16zM1764 408h16v16h-16zM1780 456h16v16h-16zM1780 488h16v16h-16zM1572 504h16v16h-16zM1764 520h16v16h-16zM1668 536h16v16h-16zM1732 536h16v16h-16z" fill-opacity="0.168"/><path d="M1380 248h16v16h-16zM1604 248h16v16h-16zM1668 296h16v16h-16zM1396 312h16v16h-16zM1412 344h16v16h-16zM1716 344h16v16h-16zM1524 472h16v16h-16zM1780 472h16v16h-16zM1684 536h16v16h-16zM1700 536h16v16h-16zM1716 536h16v16h-16z" fill-opacity="0.175"/><path d="M1508 200h16v16h-16zM1844 264h16v16h-16zM1684 312h16v16h-16zM1700 328h16v16h-16zM1444 392h16v16h-16zM1748 392h16v16h-16zM1764 424h16v16h-16zM1508 456h16v16h-16zM1764 504h16v16h-16zM1620 520h16v16h-16zM1748 520h16v16h-16z" fill-opacity="0.182"/><path d="M1540 216h16v16h-16zM1572 232h16v16h-16zM1396 296h16v16h-16zM1460 408h16v16h-16zM1476 424h16v16h-16zM1492 440h16v16h-16zM1556 488h16v16h-16zM1588 504h16v16h-16z" fill-opacity="0.189"/><path d="M1412 200h16v16h-16zM1396 216h16v16h-16zM1620 264h16v16h-16zM1860 280h16v16h-16zM1412 328h16v16h-16zM1428 360h16v16h-16zM1732 376h16v16h-16zM1764 440h16v16h-16zM1764 488h16v16h-16zM1636 520h16v16h-16zM1732 520h16v16h-16z" fill-opacity="0.196"/><path d="M1492 200h16v16h-16zM1396 280h16v16h-16zM1764 456h16v16h-16zM1764 472h16v16h-16zM1748 504h16v16h-16z" fill-opacity="0.203"/><path d="M1588 248h16v16h-16zM1844 248h16v16h-16zM1636 280h16v16h-16zM1716 360h16v16h-16zM1444 376h16v16h-16zM1748 408h16v16h-16zM1540 472h16v16h-16zM1652 520h16v16h-16zM1716 520h16v16h-16z" fill-opacity="0.210"/><path d="M1428 200h16v16h-16zM1476 200h16v16h-16zM1524 216h16v16h-16zM1396 232h16v16h-16zM1556 232h16v16h-16zM1396 264h16v16h-16zM1652 296h16v16h-16zM1572 488h16v16h-16zM1604 504h16v16h-16zM1668 520h16v16h-16zM1684 520h16v16h-16zM1700 520h16v16h-16z" fill-opacity="0.217"/><path d="M1444 200h16v16h-16zM1460 200h16v16h-16zM1892 232h16v16h-16zM1396 248h16v16h-16zM1412 312h16v16h-16zM1668 312h16v16h-16zM1684 328h16v16h-16zM1428 344h16v16h-16zM1700 344h16v16h-16zM1460 392h16v16h-16zM1748 424h16v16h-16zM1524 456h16v16h-16zM1748 488h16v16h-16zM1732 504h16v16h-16z" fill-opacity="0.224"/><path d="M1412 216h16v16h-16zM1604 264h16v16h-16zM1732 392h16v16h-16zM1476 408h16v16h-16zM1508 440h16v16h-16z" fill-opacity="0.231"/><path d="M1876 280h16v16h-16zM1492 424h16v16h-16zM1748 440h16v16h-16zM1748 472h16v16h-16zM1620 504h16v16h-16z" fill-opacity="0.238"/><path d="M1508 216h16v16h-16zM1572 248h16v16h-16zM1412 296h16v16h-16zM1444 360h16v16h-16zM1748 456h16v16h-16zM1556 472h16v16h-16zM1716 504h16v16h-16z" fill-opacity="0.245"/><path d="M1540 232h16v16h-16zM1620 280h16v16h-16zM1428 328h16v16h-16zM1716 376h16v16h-16zM1732 408h16v16h-16zM1588 488h16v16h-16zM1732 488h16v16h-16zM1636 504h16v16h-16z" fill-opacity="0.252"/><path d="M1412 232h16v16h-16zM1412 280h16v16h-16zM1460 376h16v16h-16zM1700 504h16v16h-16z" fill-opacity="0.259"/><path d="M1428 216h16v16h-16zM1636 296h16v16h-16zM1700 360h16v16h-16zM1540 456h16v16h-16zM1652 504h16v16h-16zM1684 504h16v16h-16z" fill-opacity="0.266"/><path d="M1492 216h16v16h-16zM1412 248h16v16h-16zM1412 264h16v16h-16zM1588 264h16v16h-16zM1732 424h16v16h-16zM1732 472h16v16h-16zM1668 504h16v16h-16z" fill-opacity="0.273"/><path d="M1428 312h16v16h-16zM1652 312h16v16h-16zM1668 328h16v16h-16zM1444 344h16v16h-16zM1684 344h16v16h-16zM1476 392h16v16h-16zM1524 440h16v16h-16zM1732 456h16v16h-16zM1604 488h16v16h-16zM1716 488h16v16h-16z" fill-opacity="0.280"/><path d="M1444 216h16v16h-16zM1476 216h16v16h-16zM1524 232h16v16h-16zM1860 232h16v16h-16zM1556 248h16v16h-16zM1716 392h16v16h-16zM1492 408h16v16h-16zM1508 424h16v16h-16zM1732 440h16v16h-16zM1572 472h16v16h-16z" fill-opacity="0.287"/><path d="M1460 216h16v16h-16zM1604 280h16v16h-16z" fill-opacity="0.294"/><path d="M1428 232h16v16h-16zM1428 296h16v16h-16zM1460 360h16v16h-16zM1700 488h16v16h-16z" fill-opacity="0.301"/><path d="M1444 328h16v16h-16zM1716 472h16v16h-16zM1620 488h16v16h-16z" fill-opacity="0.308"/><path d="M1572 264h16v16h-16zM1620 296h16v16h-16zM1700 376h16v16h-16zM1716 408h16v16h-16zM1556 456h16v16h-16z" fill-opacity="0.315"/><path d="M1508 232h16v16h-16zM1540 248h16v16h-16zM1428 280h16v16h-16zM1476 376h16v16h-16zM1684 488h16v16h-16z" fill-opacity="0.322"/><path d="M1428 248h16v16h-16zM1428 264h16v16h-16zM1892 264h16v16h-16zM1684 360h16v16h-16zM1716 424h16v16h-16zM1716 456h16v16h-16zM1588 472h16v16h-16zM1636 488h16v16h-16z" fill-opacity="0.329"/><path d="M1444 232h16v16h-16zM1444 312h16v16h-16zM1636 312h16v16h-16zM1460 344h16v16h-16zM1492 392h16v16h-16zM1540 440h16v16h-16zM1716 440h16v16h-16zM1652 488h16v16h-16zM1668 488h16v16h-16z" fill-opacity="0.336"/><path d="M1492 232h16v16h-16zM1588 280h16v16h-16zM1652 328h16v16h-16zM1668 344h16v16h-16zM1700 472h16v16h-16z" fill-opacity="0.343"/><path d="M1876 232h16v16h-16zM1700 392h16v16h-16zM1508 408h16v16h-16zM1524 424h16v16h-16z" fill-opacity="0.350"/><path d="M1460 232h16v16h-16zM1476 232h16v16h-16zM1556 264h16v16h-16z" fill-opacity="0.357"/><path d="M1524 248h16v16h-16zM1444 296h16v16h-16zM1476 360h16v16h-16zM1604 472h16v16h-16z" fill-opacity="0.364"/><path d="M1444 248h16v16h-16zM1892 248h16v16h-16zM1604 296h16v16h-16zM1460 328h16v16h-16zM1572 456h16v16h-16z" fill-opacity="0.371"/><path d="M1444 280h16v16h-16zM1700 456h16v16h-16zM1684 472h16v16h-16z" fill-opacity="0.378"/><path d="M1444 264h16v16h-16zM1572 280h16v16h-16zM1492 376h16v16h-16zM1684 376h16v16h-16zM1700 408h16v16h-16z" fill-opacity="0.385"/><path d="M1508 248h16v16h-16zM1540 264h16v16h-16zM1620 312h16v16h-16zM1700 440h16v16h-16zM1620 472h16v16h-16z" fill-opacity="0.392"/><path d="M1460 248h16v16h-16zM1460 312h16v16h-16zM1476 344h16v16h-16zM1700 424h16v16h-16zM1556 440h16v16h-16zM1668 472h16v16h-16z" fill-opacity="0.399"/><path d="M1636 328h16v16h-16zM1668 360h16v16h-16zM1508 392h16v16h-16z" fill-opacity="0.406"/><path d="M1476 248h16v16h-16zM1492 248h16v16h-16zM1860 264h16v16h-16zM1588 296h16v16h-16zM1652 344h16v16h-16zM1524 408h16v16h-16zM1540 424h16v16h-16zM1636 472h16v16h-16zM1652 472h16v16h-16z" fill-opacity="0.413"/><path d="M1460 296h16v16h-16zM1588 456h16v16h-16zM1684 456h16v16h-16z" fill-opacity="0.420"/><path d="M1460 264h16v16h-16zM1524 264h16v16h-16zM1556 280h16v16h-16zM1476 328h16v16h-16zM1492 360h16v16h-16zM1684 392h16v16h-16z" fill-opacity="0.427"/><path d="M1460 280h16v16h-16z" fill-opacity="0.434"/><path d="M1508 264h16v16h-16zM1604 312h16v16h-16z" fill-opacity="0.448"/><path d="M1476 264h16v16h-16zM1540 280h16v16h-16zM1572 296h16v16h-16zM1476 312h16v16h-16zM1492 344h16v16h-16zM1508 376h16v16h-16zM1684 408h16v16h-16zM1684 440h16v16h-16z" fill-opacity="0.455"/><path d="M1492 264h16v16h-16zM1668 376h16v16h-16zM1572 440h16v16h-16zM1604 456h16v16h-16zM1668 456h16v16h-16z" fill-opacity="0.462"/><path d="M1860 248h16v16h-16zM1476 280h16v16h-16zM1476 296h16v16h-16zM1620 328h16v16h-16zM1684 424h16v16h-16z" fill-opacity="0.469"/><path d="M1524 392h16v16h-16z" fill-opacity="0.476"/><path d="M1524 280h16v16h-16zM1492 328h16v16h-16zM1636 344h16v16h-16zM1652 360h16v16h-16zM1556 424h16v16h-16z" fill-opacity="0.483"/><path d="M1492 280h16v16h-16zM1508 280h16v16h-16zM1556 296h16v16h-16zM1588 312h16v16h-16zM1508 360h16v16h-16zM1540 408h16v16h-16zM1620 456h16v16h-16zM1652 456h16v16h-16z" fill-opacity="0.490"/><path d="M1492 296h16v16h-16zM1492 312h16v16h-16zM1636 456h16v16h-16z" fill-opacity="0.497"/><path d="M1876 264h16v16h-16z" fill-opacity="0.504"/><path d="M1540 296h16v16h-16zM1508 344h16v16h-16zM1668 392h16v16h-16zM1668 440h16v16h-16z" fill-opacity="0.511"/><path d="M1508 296h16v16h-16zM1524 296h16v16h-16zM1524 376h16v16h-16zM1588 440h16v16h-16z" fill-opacity="0.518"/><path d="M1508 312h16v16h-16zM1572 312h16v16h-16zM1508 328h16v16h-16zM1604 328h16v16h-16z" fill-opacity="0.525"/><path d="M1668 408h16v16h-16zM1668 424h16v16h-16z" fill-opacity="0.532"/><path d="M1556 312h16v16h-16z" fill-opacity="0.539"/><path d="M1524 312h16v16h-16zM1540 312h16v16h-16zM1620 344h16v16h-16zM1524 360h16v16h-16zM1652 376h16v16h-16zM1540 392h16v16h-16zM1572 424h16v16h-16z" fill-opacity="0.546"/><path d="M1524 328h16v16h-16zM1636 360h16v16h-16zM1604 440h16v16h-16zM1652 440h16v16h-16z" fill-opacity="0.553"/><path d="M1588 328h16v16h-16zM1524 344h16v16h-16zM1556 408h16v16h-16z" fill-opacity="0.560"/><path d="M1876 248h16v16h-16zM1540 328h16v16h-16zM1620 440h16v16h-16zM1636 440h16v16h-16z" fill-opacity="0.574"/><path d="M1556 328h16v16h-16zM1572 328h16v16h-16zM1540 376h16v16h-16z" fill-opacity="0.581"/><path d="M1652 392h16v16h-16zM1652 424h16v16h-16z" fill-opacity="0.588"/><path d="M1540 344h16v16h-16zM1604 344h16v16h-16zM1540 360h16v16h-16z" fill-opacity="0.595"/><path d="M1652 408h16v16h-16zM1588 424h16v16h-16z" fill-opacity="0.602"/><path d="M1620 360h16v16h-16zM1636 376h16v16h-16zM1556 392h16v16h-16z" fill-opacity="0.609"/><path d="M1556 344h16v16h-16zM1588 344h16v16h-16zM1572 408h16v16h-16z" fill-opacity="0.616"/><path d="M1572 344h16v16h-16z" fill-opacity="0.623"/><path d="M1556 360h16v16h-16zM1556 376h16v16h-16zM1604 424h16v16h-16zM1636 424h16v16h-16z" fill-opacity="0.630"/><path d="M1604 360h16v16h-16zM1636 392h16v16h-16zM1620 424h16v16h-16z" fill-opacity="0.644"/><path d="M1572 360h16v16h-16zM1572 392h16v16h-16zM1636 408h16v16h-16z" fill-opacity="0.651"/><path d="M1588 360h16v16h-16zM1620 376h16v16h-16zM1588 408h16v16h-16z" fill-opacity="0.658"/><path d="M1572 376h16v16h-16z" fill-opacity="0.665"/><path d="M1604 376h16v16h-16zM1620 392h16v16h-16zM1604 408h16v16h-16zM1620 408h16v16h-16z" fill-opacity="0.679"/><path d="M1588 376h16v16h-16zM1588 392h16v16h-16z" fill-opacity="0.686"/><path d="M1604 392h16v16h-16z" fill-opacity="0.693"/></g>
<ellipse cx="1610" cy="398" rx="66" ry="42" transform="rotate(38 1610 398)" fill="#000" fill-opacity="0.72" filter="url(#bl16)"/>
<g filter="url(#speck)" opacity="0.7"><g fill="#000" filter="url(#bl10)"><path d="M1204 -8h16v16h-16zM1220 -8h16v16h-16zM1236 -8h16v16h-16zM1252 -8h16v16h-16zM1268 -8h16v16h-16zM1284 -8h16v16h-16zM1300 -8h16v16h-16zM1316 -8h16v16h-16zM1332 -8h16v16h-16zM1348 -8h16v16h-16zM1364 -8h16v16h-16zM1380 -8h16v16h-16zM1396 -8h16v16h-16zM1412 -8h16v16h-16zM1428 -8h16v16h-16zM1444 -8h16v16h-16zM1460 -8h16v16h-16zM1476 -8h16v16h-16zM1492 -8h16v16h-16zM1508 -8h16v16h-16zM1524 -8h16v16h-16zM1540 -8h16v16h-16zM1556 -8h16v16h-16zM1572 -8h16v16h-16zM1588 -8h16v16h-16zM1604 -8h16v16h-16zM1620 -8h16v16h-16zM1636 -8h16v16h-16zM1652 -8h16v16h-16zM1668 -8h16v16h-16zM1684 -8h16v16h-16zM1700 -8h16v16h-16zM1716 -8h16v16h-16zM1732 -8h16v16h-16zM1748 -8h16v16h-16zM1764 -8h16v16h-16zM1780 -8h16v16h-16zM1796 -8h16v16h-16zM1812 -8h16v16h-16zM1828 -8h16v16h-16zM1844 -8h16v16h-16zM1860 -8h16v16h-16zM1876 -8h16v16h-16zM1892 -8h16v16h-16zM1908 -8h16v16h-16zM1924 -8h16v16h-16zM1940 -8h16v16h-16zM1956 -8h16v16h-16zM1972 -8h16v16h-16zM1988 -8h16v16h-16zM1204 8h16v16h-16zM1220 8h16v16h-16zM1236 8h16v16h-16zM1252 8h16v16h-16zM1268 8h16v16h-16zM1284 8h16v16h-16zM1300 8h16v16h-16zM1316 8h16v16h-16zM1332 8h16v16h-16zM1348 8h16v16h-16zM1364 8h16v16h-16zM1380 8h16v16h-16zM1396 8h16v16h-16zM1412 8h16v16h-16zM1428 8h16v16h-16zM1444 8h16v16h-16zM1460 8h16v16h-16zM1476 8h16v16h-16zM1492 8h16v16h-16zM1508 8h16v16h-16zM1524 8h16v16h-16zM1540 8h16v16h-16zM1556 8h16v16h-16zM1572 8h16v16h-16zM1588 8h16v16h-16zM1604 8h16v16h-16zM1620 8h16v16h-16zM1636 8h16v16h-16zM1652 8h16v16h-16zM1668 8h16v16h-16zM1684 8h16v16h-16zM1700 8h16v16h-16zM1716 8h16v16h-16zM1732 8h16v16h-16zM1748 8h16v16h-16zM1764 8h16v16h-16zM1780 8h16v16h-16zM1796 8h16v16h-16zM1812 8h16v16h-16zM1828 8h16v16h-16zM1844 8h16v16h-16zM1860 8h16v16h-16zM1876 8h16v16h-16zM1892 8h16v16h-16zM1908 8h16v16h-16zM1924 8h16v16h-16zM1940 8h16v16h-16zM1956 8h16v16h-16zM1972 8h16v16h-16zM1988 8h16v16h-16zM1204 24h16v16h-16zM1220 24h16v16h-16zM1236 24h16v16h-16zM1252 24h16v16h-16zM1268 24h16v16h-16zM1284 24h16v16h-16zM1300 24h16v16h-16zM1316 24h16v16h-16zM1444 24h16v16h-16zM1460 24h16v16h-16zM1476 24h16v16h-16zM1492 24h16v16h-16zM1508 24h16v16h-16zM1524 24h16v16h-16zM1540 24h16v16h-16zM1556 24h16v16h-16zM1572 24h16v16h-16zM1588 24h16v16h-16zM1604 24h16v16h-16zM1620 24h16v16h-16zM1636 24h16v16h-16zM1652 24h16v16h-16zM1668 24h16v16h-16zM1684 24h16v16h-16zM1700 24h16v16h-16zM1716 24h16v16h-16zM1732 24h16v16h-16zM1748 24h16v16h-16zM1764 24h16v16h-16zM1780 24h16v16h-16zM1796 24h16v16h-16zM1812 24h16v16h-16zM1828 24h16v16h-16zM1844 24h16v16h-16zM1860 24h16v16h-16zM1876 24h16v16h-16zM1892 24h16v16h-16zM1908 24h16v16h-16zM1924 24h16v16h-16zM1940 24h16v16h-16zM1956 24h16v16h-16zM1972 24h16v16h-16zM1988 24h16v16h-16zM1204 40h16v16h-16zM1220 40h16v16h-16zM1236 40h16v16h-16zM1252 40h16v16h-16zM1268 40h16v16h-16zM1508 40h16v16h-16zM1524 40h16v16h-16zM1540 40h16v16h-16zM1556 40h16v16h-16zM1572 40h16v16h-16zM1588 40h16v16h-16zM1604 40h16v16h-16zM1620 40h16v16h-16zM1636 40h16v16h-16zM1652 40h16v16h-16zM1668 40h16v16h-16zM1684 40h16v16h-16zM1700 40h16v16h-16zM1716 40h16v16h-16zM1732 40h16v16h-16zM1748 40h16v16h-16zM1764 40h16v16h-16zM1780 40h16v16h-16zM1796 40h16v16h-16zM1812 40h16v16h-16zM1828 40h16v16h-16zM1844 40h16v16h-16zM1860 40h16v16h-16zM1876 40h16v16h-16zM1892 40h16v16h-16zM1908 40h16v16h-16zM1924 40h16v16h-16zM1940 40h16v16h-16zM1956 40h16v16h-16zM1972 40h16v16h-16zM1988 40h16v16h-16zM1204 56h16v16h-16zM1220 56h16v16h-16zM1236 56h16v16h-16zM1556 56h16v16h-16zM1572 56h16v16h-16zM1588 56h16v16h-16zM1604 56h16v16h-16zM1620 56h16v16h-16zM1636 56h16v16h-16zM1652 56h16v16h-16zM1668 56h16v16h-16zM1684 56h16v16h-16zM1700 56h16v16h-16zM1716 56h16v16h-16zM1732 56h16v16h-16zM1748 56h16v16h-16zM1764 56h16v16h-16zM1780 56h16v16h-16zM1796 56h16v16h-16zM1812 56h16v16h-16zM1828 56h16v16h-16zM1844 56h16v16h-16zM1860 56h16v16h-16zM1876 56h16v16h-16zM1892 56h16v16h-16zM1908 56h16v16h-16zM1924 56h16v16h-16zM1940 56h16v16h-16zM1956 56h16v16h-16zM1972 56h16v16h-16zM1988 56h16v16h-16zM1204 72h16v16h-16zM1220 72h16v16h-16zM1588 72h16v16h-16zM1604 72h16v16h-16zM1620 72h16v16h-16zM1636 72h16v16h-16zM1652 72h16v16h-16zM1668 72h16v16h-16zM1684 72h16v16h-16zM1700 72h16v16h-16zM1716 72h16v16h-16zM1732 72h16v16h-16zM1748 72h16v16h-16zM1764 72h16v16h-16zM1780 72h16v16h-16zM1796 72h16v16h-16zM1812 72h16v16h-16zM1828 72h16v16h-16zM1844 72h16v16h-16zM1860 72h16v16h-16zM1876 72h16v16h-16zM1892 72h16v16h-16zM1908 72h16v16h-16zM1924 72h16v16h-16zM1940 72h16v16h-16zM1956 72h16v16h-16zM1972 72h16v16h-16zM1988 72h16v16h-16zM1204 88h16v16h-16zM1620 88h16v16h-16zM1636 88h16v16h-16zM1652 88h16v16h-16zM1668 88h16v16h-16zM1684 88h16v16h-16zM1700 88h16v16h-16zM1716 88h16v16h-16zM1732 88h16v16h-16zM1748 88h16v16h-16zM1764 88h16v16h-16zM1780 88h16v16h-16zM1796 88h16v16h-16zM1812 88h16v16h-16zM1828 88h16v16h-16zM1844 88h16v16h-16zM1860 88h16v16h-16zM1876 88h16v16h-16zM1892 88h16v16h-16zM1908 88h16v16h-16zM1924 88h16v16h-16zM1940 88h16v16h-16zM1956 88h16v16h-16zM1972 88h16v16h-16zM1988 88h16v16h-16zM1652 104h16v16h-16zM1668 104h16v16h-16zM1684 104h16v16h-16zM1700 104h16v16h-16zM1716 104h16v16h-16zM1732 104h16v16h-16zM1748 104h16v16h-16zM1764 104h16v16h-16zM1780 104h16v16h-16zM1796 104h16v16h-16zM1812 104h16v16h-16zM1828 104h16v16h-16zM1844 104h16v16h-16zM1860 104h16v16h-16zM1876 104h16v16h-16zM1892 104h16v16h-16zM1908 104h16v16h-16zM1924 104h16v16h-16zM1940 104h16v16h-16zM1956 104h16v16h-16zM1972 104h16v16h-16zM1988 104h16v16h-16zM1668 120h16v16h-16zM1684 120h16v16h-16zM1700 120h16v16h-16zM1716 120h16v16h-16zM1732 120h16v16h-16zM1748 120h16v16h-16zM1764 120h16v16h-16zM1780 120h16v16h-16zM1796 120h16v16h-16zM1812 120h16v16h-16zM1828 120h16v16h-16zM1844 120h16v16h-16zM1860 120h16v16h-16zM1876 120h16v16h-16zM1892 120h16v16h-16zM1908 120h16v16h-16zM1924 120h16v16h-16zM1940 120h16v16h-16zM1956 120h16v16h-16zM1972 120h16v16h-16zM1988 120h16v16h-16zM1700 136h16v16h-16zM1716 136h16v16h-16zM1732 136h16v16h-16zM1748 136h16v16h-16zM1764 136h16v16h-16zM1780 136h16v16h-16zM1796 136h16v16h-16zM1812 136h16v16h-16zM1828 136h16v16h-16zM1844 136h16v16h-16zM1860 136h16v16h-16zM1876 136h16v16h-16zM1892 136h16v16h-16zM1908 136h16v16h-16zM1924 136h16v16h-16zM1940 136h16v16h-16zM1956 136h16v16h-16zM1972 136h16v16h-16zM1988 136h16v16h-16zM1716 152h16v16h-16zM1732 152h16v16h-16zM1748 152h16v16h-16zM1764 152h16v16h-16zM1780 152h16v16h-16zM1796 152h16v16h-16zM1812 152h16v16h-16zM1828 152h16v16h-16zM1844 152h16v16h-16zM1860 152h16v16h-16zM1876 152h16v16h-16zM1892 152h16v16h-16zM1908 152h16v16h-16zM1924 152h16v16h-16zM1940 152h16v16h-16zM1956 152h16v16h-16zM1972 152h16v16h-16zM1988 152h16v16h-16zM1732 168h16v16h-16zM1748 168h16v16h-16zM1764 168h16v16h-16zM1780 168h16v16h-16zM1796 168h16v16h-16zM1812 168h16v16h-16zM1828 168h16v16h-16zM1844 168h16v16h-16zM1860 168h16v16h-16zM1876 168h16v16h-16zM1892 168h16v16h-16zM1908 168h16v16h-16zM1924 168h16v16h-16zM1940 168h16v16h-16zM1956 168h16v16h-16zM1972 168h16v16h-16zM1988 168h16v16h-16zM1748 184h16v16h-16zM1764 184h16v16h-16zM1780 184h16v16h-16zM1796 184h16v16h-16zM1812 184h16v16h-16zM1828 184h16v16h-16zM1844 184h16v16h-16zM1860 184h16v16h-16zM1876 184h16v16h-16zM1892 184h16v16h-16zM1908 184h16v16h-16zM1924 184h16v16h-16zM1940 184h16v16h-16zM1956 184h16v16h-16zM1972 184h16v16h-16zM1988 184h16v16h-16zM1780 200h16v16h-16zM1796 200h16v16h-16zM1812 200h16v16h-16zM1828 200h16v16h-16zM1924 200h16v16h-16zM1940 200h16v16h-16zM1956 200h16v16h-16zM1972 200h16v16h-16zM1988 200h16v16h-16zM1796 216h16v16h-16zM1812 216h16v16h-16zM1940 216h16v16h-16zM1956 216h16v16h-16zM1972 216h16v16h-16zM1988 216h16v16h-16zM1940 232h16v16h-16zM1956 232h16v16h-16zM1972 232h16v16h-16zM1988 232h16v16h-16zM1940 248h16v16h-16zM1956 248h16v16h-16zM1972 248h16v16h-16zM1988 248h16v16h-16zM1940 264h16v16h-16zM1956 264h16v16h-16zM1972 264h16v16h-16zM1988 264h16v16h-16zM1940 280h16v16h-16zM1956 280h16v16h-16zM1972 280h16v16h-16zM1988 280h16v16h-16zM1924 296h16v16h-16zM1940 296h16v16h-16zM1956 296h16v16h-16zM1972 296h16v16h-16zM1988 296h16v16h-16zM1204 312h16v16h-16zM1908 312h16v16h-16zM1924 312h16v16h-16zM1940 312h16v16h-16zM1956 312h16v16h-16zM1972 312h16v16h-16zM1988 312h16v16h-16zM1204 328h16v16h-16zM1892 328h16v16h-16zM1908 328h16v16h-16zM1924 328h16v16h-16zM1940 328h16v16h-16zM1956 328h16v16h-16zM1972 328h16v16h-16zM1988 328h16v16h-16zM1204 344h16v16h-16zM1220 344h16v16h-16zM1908 344h16v16h-16zM1924 344h16v16h-16zM1940 344h16v16h-16zM1956 344h16v16h-16zM1972 344h16v16h-16zM1988 344h16v16h-16zM1204 360h16v16h-16zM1220 360h16v16h-16zM1924 360h16v16h-16zM1940 360h16v16h-16zM1956 360h16v16h-16zM1972 360h16v16h-16zM1988 360h16v16h-16zM1204 376h16v16h-16zM1220 376h16v16h-16zM1236 376h16v16h-16zM1924 376h16v16h-16zM1940 376h16v16h-16zM1956 376h16v16h-16zM1972 376h16v16h-16zM1988 376h16v16h-16zM1204 392h16v16h-16zM1220 392h16v16h-16zM1236 392h16v16h-16zM1940 392h16v16h-16zM1956 392h16v16h-16zM1972 392h16v16h-16zM1988 392h16v16h-16zM1204 408h16v16h-16zM1220 408h16v16h-16zM1236 408h16v16h-16zM1252 408h16v16h-16zM1956 408h16v16h-16zM1972 408h16v16h-16zM1988 408h16v16h-16zM1204 424h16v16h-16zM1220 424h16v16h-16zM1236 424h16v16h-16zM1252 424h16v16h-16zM1268 424h16v16h-16zM1972 424h16v16h-16zM1988 424h16v16h-16zM1204 440h16v16h-16zM1220 440h16v16h-16zM1236 440h16v16h-16zM1252 440h16v16h-16zM1268 440h16v16h-16zM1972 440h16v16h-16zM1988 440h16v16h-16zM1204 456h16v16h-16zM1220 456h16v16h-16zM1236 456h16v16h-16zM1252 456h16v16h-16zM1268 456h16v16h-16zM1284 456h16v16h-16zM1988 456h16v16h-16zM1204 472h16v16h-16zM1220 472h16v16h-16zM1236 472h16v16h-16zM1252 472h16v16h-16zM1268 472h16v16h-16zM1284 472h16v16h-16zM1988 472h16v16h-16zM1204 488h16v16h-16zM1220 488h16v16h-16zM1236 488h16v16h-16zM1252 488h16v16h-16zM1268 488h16v16h-16zM1284 488h16v16h-16zM1300 488h16v16h-16zM1204 504h16v16h-16zM1220 504h16v16h-16zM1236 504h16v16h-16zM1252 504h16v16h-16zM1268 504h16v16h-16zM1284 504h16v16h-16zM1300 504h16v16h-16zM1204 520h16v16h-16zM1220 520h16v16h-16zM1236 520h16v16h-16zM1252 520h16v16h-16zM1268 520h16v16h-16zM1284 520h16v16h-16zM1300 520h16v16h-16z" fill-opacity="0.010"/><path d="M1332 24h16v16h-16zM1348 24h16v16h-16zM1364 24h16v16h-16zM1380 24h16v16h-16zM1396 24h16v16h-16zM1412 24h16v16h-16zM1428 24h16v16h-16zM1284 40h16v16h-16zM1300 40h16v16h-16zM1316 40h16v16h-16zM1332 40h16v16h-16zM1348 40h16v16h-16zM1364 40h16v16h-16zM1380 40h16v16h-16zM1396 40h16v16h-16zM1412 40h16v16h-16zM1428 40h16v16h-16zM1444 40h16v16h-16zM1460 40h16v16h-16zM1476 40h16v16h-16zM1492 40h16v16h-16zM1252 56h16v16h-16zM1268 56h16v16h-16zM1284 56h16v16h-16zM1300 56h16v16h-16zM1316 56h16v16h-16zM1332 56h16v16h-16zM1348 56h16v16h-16zM1364 56h16v16h-16zM1380 56h16v16h-16zM1396 56h16v16h-16zM1412 56h16v16h-16zM1428 56h16v16h-16zM1444 56h16v16h-16zM1460 56h16v16h-16zM1476 56h16v16h-16zM1492 56h16v16h-16zM1508 56h16v16h-16zM1524 56h16v16h-16zM1540 56h16v16h-16zM1236 72h16v16h-16zM1252 72h16v16h-16zM1268 72h16v16h-16zM1284 72h16v16h-16zM1300 72h16v16h-16zM1316 72h16v16h-16zM1332 72h16v16h-16zM1476 72h16v16h-16zM1492 72h16v16h-16zM1508 72h16v16h-16zM1524 72h16v16h-16zM1540 72h16v16h-16zM1556 72h16v16h-16zM1572 72h16v16h-16zM1220 88h16v16h-16zM1236 88h16v16h-16zM1252 88h16v16h-16zM1268 88h16v16h-16zM1284 88h16v16h-16zM1524 88h16v16h-16zM1540 88h16v16h-16zM1556 88h16v16h-16zM1572 88h16v16h-16zM1588 88h16v16h-16zM1604 88h16v16h-16zM1204 104h16v16h-16zM1220 104h16v16h-16zM1236 104h16v16h-16zM1252 104h16v16h-16zM1268 104h16v16h-16zM1572 104h16v16h-16zM1588 104h16v16h-16zM1604 104h16v16h-16zM1620 104h16v16h-16zM1636 104h16v16h-16zM1204 120h16v16h-16zM1220 120h16v16h-16zM1236 120h16v16h-16zM1252 120h16v16h-16zM1604 120h16v16h-16zM1620 120h16v16h-16zM1636 120h16v16h-16zM1652 120h16v16h-16zM1204 136h16v16h-16zM1220 136h16v16h-16zM1236 136h16v16h-16zM1636 136h16v16h-16zM1652 136h16v16h-16zM1668 136h16v16h-16zM1684 136h16v16h-16zM1204 152h16v16h-16zM1220 152h16v16h-16zM1236 152h16v16h-16zM1652 152h16v16h-16zM1668 152h16v16h-16zM1684 152h16v16h-16zM1700 152h16v16h-16zM1204 168h16v16h-16zM1220 168h16v16h-16zM1236 168h16v16h-16zM1684 168h16v16h-16zM1700 168h16v16h-16zM1716 168h16v16h-16zM1204 184h16v16h-16zM1220 184h16v16h-16zM1700 184h16v16h-16zM1716 184h16v16h-16zM1732 184h16v16h-16zM1204 200h16v16h-16zM1220 200h16v16h-16zM1716 200h16v16h-16zM1732 200h16v16h-16zM1748 200h16v16h-16zM1764 200h16v16h-16zM1844 200h16v16h-16zM1908 200h16v16h-16zM1204 216h16v16h-16zM1220 216h16v16h-16zM1748 216h16v16h-16zM1764 216h16v16h-16zM1780 216h16v16h-16zM1828 216h16v16h-16zM1924 216h16v16h-16zM1204 232h16v16h-16zM1220 232h16v16h-16zM1764 232h16v16h-16zM1780 232h16v16h-16zM1796 232h16v16h-16zM1812 232h16v16h-16zM1204 248h16v16h-16zM1220 248h16v16h-16zM1780 248h16v16h-16zM1796 248h16v16h-16zM1812 248h16v16h-16zM1204 264h16v16h-16zM1220 264h16v16h-16zM1236 264h16v16h-16zM1796 264h16v16h-16zM1812 264h16v16h-16zM1204 280h16v16h-16zM1220 280h16v16h-16zM1236 280h16v16h-16zM1812 280h16v16h-16zM1924 280h16v16h-16zM1204 296h16v16h-16zM1220 296h16v16h-16zM1236 296h16v16h-16zM1220 312h16v16h-16zM1236 312h16v16h-16zM1252 312h16v16h-16zM1844 312h16v16h-16zM1876 312h16v16h-16zM1892 312h16v16h-16zM1220 328h16v16h-16zM1236 328h16v16h-16zM1252 328h16v16h-16zM1844 328h16v16h-16zM1860 328h16v16h-16zM1876 328h16v16h-16zM1236 344h16v16h-16zM1252 344h16v16h-16zM1860 344h16v16h-16zM1876 344h16v16h-16zM1892 344h16v16h-16zM1236 360h16v16h-16zM1252 360h16v16h-16zM1268 360h16v16h-16zM1876 360h16v16h-16zM1892 360h16v16h-16zM1908 360h16v16h-16zM1252 376h16v16h-16zM1268 376h16v16h-16zM1284 376h16v16h-16zM1892 376h16v16h-16zM1908 376h16v16h-16zM1252 392h16v16h-16zM1268 392h16v16h-16zM1284 392h16v16h-16zM1908 392h16v16h-16zM1924 392h16v16h-16zM1268 408h16v16h-16zM1284 408h16v16h-16zM1300 408h16v16h-16zM1908 408h16v16h-16zM1924 408h16v16h-16zM1940 408h16v16h-16zM1284 424h16v16h-16zM1300 424h16v16h-16zM1316 424h16v16h-16zM1924 424h16v16h-16zM1940 424h16v16h-16zM1956 424h16v16h-16zM1284 440h16v16h-16zM1300 440h16v16h-16zM1316 440h16v16h-16zM1924 440h16v16h-16zM1940 440h16v16h-16zM1956 440h16v16h-16zM1300 456h16v16h-16zM1316 456h16v16h-16zM1332 456h16v16h-16zM1940 456h16v16h-16zM1956 456h16v16h-16zM1972 456h16v16h-16zM1300 472h16v16h-16zM1316 472h16v16h-16zM1332 472h16v16h-16zM1348 472h16v16h-16zM1940 472h16v16h-16zM1956 472h16v16h-16zM1972 472h16v16h-16zM1316 488h16v16h-16zM1332 488h16v16h-16zM1348 488h16v16h-16zM1364 488h16v16h-16zM1956 488h16v16h-16zM1972 488h16v16h-16zM1988 488h16v16h-16zM1316 504h16v16h-16zM1332 504h16v16h-16zM1348 504h16v16h-16zM1364 504h16v16h-16zM1380 504h16v16h-16zM1956 504h16v16h-16zM1972 504h16v16h-16zM1988 504h16v16h-16zM1316 520h16v16h-16zM1332 520h16v16h-16zM1348 520h16v16h-16zM1364 520h16v16h-16zM1380 520h16v16h-16zM1396 520h16v16h-16zM1972 520h16v16h-16zM1988 520h16v16h-16zM1204 536h16v16h-16zM1220 536h16v16h-16zM1236 536h16v16h-16zM1252 536h16v16h-16zM1268 536h16v16h-16zM1284 536h16v16h-16zM1300 536h16v16h-16zM1316 536h16v16h-16zM1332 536h16v16h-16zM1348 536h16v16h-16zM1364 536h16v16h-16zM1380 536h16v16h-16zM1396 536h16v16h-16zM1412 536h16v16h-16zM1972 536h16v16h-16zM1988 536h16v16h-16zM1204 552h16v16h-16zM1220 552h16v16h-16zM1236 552h16v16h-16zM1252 552h16v16h-16zM1268 552h16v16h-16zM1284 552h16v16h-16zM1300 552h16v16h-16zM1316 552h16v16h-16zM1332 552h16v16h-16zM1348 552h16v16h-16zM1364 552h16v16h-16zM1380 552h16v16h-16zM1396 552h16v16h-16zM1412 552h16v16h-16zM1988 552h16v16h-16zM1204 568h16v16h-16zM1220 568h16v16h-16zM1236 568h16v16h-16zM1252 568h16v16h-16zM1268 568h16v16h-16zM1284 568h16v16h-16zM1300 568h16v16h-16zM1316 568h16v16h-16zM1332 568h16v16h-16zM1348 568h16v16h-16zM1364 568h16v16h-16zM1380 568h16v16h-16zM1396 568h16v16h-16zM1412 568h16v16h-16zM1988 568h16v16h-16zM1204 584h16v16h-16zM1220 584h16v16h-16zM1236 584h16v16h-16zM1252 584h16v16h-16zM1268 584h16v16h-16zM1284 584h16v16h-16zM1300 584h16v16h-16zM1316 584h16v16h-16zM1332 584h16v16h-16zM1348 584h16v16h-16zM1364 584h16v16h-16zM1380 584h16v16h-16zM1396 584h16v16h-16z" fill-opacity="0.020"/><path d="M1348 72h16v16h-16zM1364 72h16v16h-16zM1380 72h16v16h-16zM1396 72h16v16h-16zM1412 72h16v16h-16zM1428 72h16v16h-16zM1444 72h16v16h-16zM1460 72h16v16h-16zM1300 88h16v16h-16zM1316 88h16v16h-16zM1332 88h16v16h-16zM1348 88h16v16h-16zM1364 88h16v16h-16zM1380 88h16v16h-16zM1444 88h16v16h-16zM1460 88h16v16h-16zM1476 88h16v16h-16zM1492 88h16v16h-16zM1508 88h16v16h-16zM1284 104h16v16h-16zM1300 104h16v16h-16zM1316 104h16v16h-16zM1524 104h16v16h-16zM1540 104h16v16h-16zM1556 104h16v16h-16zM1268 120h16v16h-16zM1284 120h16v16h-16zM1300 120h16v16h-16zM1556 120h16v16h-16zM1572 120h16v16h-16zM1588 120h16v16h-16zM1252 136h16v16h-16zM1268 136h16v16h-16zM1284 136h16v16h-16zM1604 136h16v16h-16zM1620 136h16v16h-16zM1252 152h16v16h-16zM1268 152h16v16h-16zM1620 152h16v16h-16zM1636 152h16v16h-16zM1252 168h16v16h-16zM1652 168h16v16h-16zM1668 168h16v16h-16zM1236 184h16v16h-16zM1252 184h16v16h-16zM1668 184h16v16h-16zM1684 184h16v16h-16zM1236 200h16v16h-16zM1252 200h16v16h-16zM1700 200h16v16h-16zM1860 200h16v16h-16zM1892 200h16v16h-16zM1236 216h16v16h-16zM1252 216h16v16h-16zM1716 216h16v16h-16zM1732 216h16v16h-16zM1236 232h16v16h-16zM1252 232h16v16h-16zM1732 232h16v16h-16zM1748 232h16v16h-16zM1924 232h16v16h-16zM1236 248h16v16h-16zM1252 248h16v16h-16zM1748 248h16v16h-16zM1764 248h16v16h-16zM1252 264h16v16h-16zM1764 264h16v16h-16zM1780 264h16v16h-16zM1252 280h16v16h-16zM1780 280h16v16h-16zM1796 280h16v16h-16zM1252 296h16v16h-16zM1268 296h16v16h-16zM1796 296h16v16h-16zM1812 296h16v16h-16zM1828 296h16v16h-16zM1908 296h16v16h-16zM1268 312h16v16h-16zM1812 312h16v16h-16zM1828 312h16v16h-16zM1860 312h16v16h-16zM1268 328h16v16h-16zM1828 328h16v16h-16zM1268 344h16v16h-16zM1284 344h16v16h-16zM1844 344h16v16h-16zM1284 360h16v16h-16zM1860 360h16v16h-16zM1300 376h16v16h-16zM1860 376h16v16h-16zM1876 376h16v16h-16zM1300 392h16v16h-16zM1316 392h16v16h-16zM1876 392h16v16h-16zM1892 392h16v16h-16zM1316 408h16v16h-16zM1892 408h16v16h-16zM1332 424h16v16h-16zM1908 424h16v16h-16zM1332 440h16v16h-16zM1348 440h16v16h-16zM1908 440h16v16h-16zM1348 456h16v16h-16zM1364 456h16v16h-16zM1924 456h16v16h-16zM1364 472h16v16h-16zM1380 472h16v16h-16zM1924 472h16v16h-16zM1380 488h16v16h-16zM1396 488h16v16h-16zM1924 488h16v16h-16zM1940 488h16v16h-16zM1396 504h16v16h-16zM1412 504h16v16h-16zM1940 504h16v16h-16zM1412 520h16v16h-16zM1428 520h16v16h-16zM1940 520h16v16h-16zM1956 520h16v16h-16zM1428 536h16v16h-16zM1444 536h16v16h-16zM1940 536h16v16h-16zM1956 536h16v16h-16zM1428 552h16v16h-16zM1444 552h16v16h-16zM1460 552h16v16h-16zM1940 552h16v16h-16zM1956 552h16v16h-16zM1972 552h16v16h-16zM1428 568h16v16h-16zM1444 568h16v16h-16zM1460 568h16v16h-16zM1476 568h16v16h-16zM1956 568h16v16h-16zM1972 568h16v16h-16zM1412 584h16v16h-16zM1428 584h16v16h-16zM1444 584h16v16h-16zM1460 584h16v16h-16zM1476 584h16v16h-16zM1492 584h16v16h-16zM1956 584h16v16h-16zM1972 584h16v16h-16zM1988 584h16v16h-16zM1204 600h16v16h-16zM1220 600h16v16h-16zM1236 600h16v16h-16zM1252 600h16v16h-16zM1268 600h16v16h-16zM1284 600h16v16h-16zM1300 600h16v16h-16zM1316 600h16v16h-16zM1332 600h16v16h-16zM1348 600h16v16h-16zM1364 600h16v16h-16zM1380 600h16v16h-16zM1396 600h16v16h-16zM1412 600h16v16h-16zM1428 600h16v16h-16zM1444 600h16v16h-16zM1460 600h16v16h-16zM1476 600h16v16h-16zM1492 600h16v16h-16zM1972 600h16v16h-16zM1988 600h16v16h-16zM1204 616h16v16h-16zM1220 616h16v16h-16zM1236 616h16v16h-16zM1252 616h16v16h-16zM1268 616h16v16h-16zM1284 616h16v16h-16zM1300 616h16v16h-16zM1316 616h16v16h-16zM1332 616h16v16h-16zM1348 616h16v16h-16zM1364 616h16v16h-16zM1380 616h16v16h-16zM1396 616h16v16h-16zM1412 616h16v16h-16zM1428 616h16v16h-16zM1444 616h16v16h-16zM1460 616h16v16h-16zM1476 616h16v16h-16zM1988 616h16v16h-16zM1204 632h16v16h-16zM1220 632h16v16h-16zM1236 632h16v16h-16zM1252 632h16v16h-16zM1268 632h16v16h-16zM1284 632h16v16h-16zM1300 632h16v16h-16zM1316 632h16v16h-16zM1332 632h16v16h-16zM1348 632h16v16h-16z" fill-opacity="0.030"/><path d="M1396 88h16v16h-16zM1412 88h16v16h-16zM1428 88h16v16h-16zM1332 104h16v16h-16zM1348 104h16v16h-16zM1364 104h16v16h-16zM1460 104h16v16h-16zM1476 104h16v16h-16zM1492 104h16v16h-16zM1508 104h16v16h-16zM1316 120h16v16h-16zM1524 120h16v16h-16zM1540 120h16v16h-16zM1300 136h16v16h-16zM1572 136h16v16h-16zM1588 136h16v16h-16zM1284 152h16v16h-16zM1604 152h16v16h-16zM1268 168h16v16h-16zM1284 168h16v16h-16zM1636 168h16v16h-16zM1268 184h16v16h-16zM1652 184h16v16h-16zM1268 200h16v16h-16zM1684 200h16v16h-16zM1876 200h16v16h-16zM1268 216h16v16h-16zM1700 216h16v16h-16zM1908 216h16v16h-16zM1268 232h16v16h-16zM1716 232h16v16h-16zM1268 248h16v16h-16zM1732 248h16v16h-16zM1924 248h16v16h-16zM1268 264h16v16h-16zM1748 264h16v16h-16zM1924 264h16v16h-16zM1268 280h16v16h-16zM1764 280h16v16h-16zM1828 280h16v16h-16zM1284 296h16v16h-16zM1780 296h16v16h-16zM1284 312h16v16h-16zM1796 312h16v16h-16zM1284 328h16v16h-16zM1812 328h16v16h-16zM1300 344h16v16h-16zM1828 344h16v16h-16zM1300 360h16v16h-16zM1844 360h16v16h-16zM1316 376h16v16h-16zM1332 392h16v16h-16zM1860 392h16v16h-16zM1332 408h16v16h-16zM1876 408h16v16h-16zM1348 424h16v16h-16zM1892 424h16v16h-16zM1364 440h16v16h-16zM1892 440h16v16h-16zM1380 456h16v16h-16zM1908 456h16v16h-16zM1396 472h16v16h-16zM1908 472h16v16h-16zM1412 488h16v16h-16zM1908 488h16v16h-16zM1428 504h16v16h-16zM1924 504h16v16h-16zM1444 520h16v16h-16zM1924 520h16v16h-16zM1460 536h16v16h-16zM1924 536h16v16h-16zM1476 552h16v16h-16zM1492 552h16v16h-16zM1924 552h16v16h-16zM1492 568h16v16h-16zM1508 568h16v16h-16zM1924 568h16v16h-16zM1940 568h16v16h-16zM1508 584h16v16h-16zM1524 584h16v16h-16zM1924 584h16v16h-16zM1940 584h16v16h-16zM1508 600h16v16h-16zM1524 600h16v16h-16zM1540 600h16v16h-16zM1924 600h16v16h-16zM1940 600h16v16h-16zM1956 600h16v16h-16zM1492 616h16v16h-16zM1508 616h16v16h-16zM1524 616h16v16h-16zM1540 616h16v16h-16zM1556 616h16v16h-16zM1924 616h16v16h-16zM1940 616h16v16h-16zM1956 616h16v16h-16zM1972 616h16v16h-16zM1364 632h16v16h-16zM1380 632h16v16h-16zM1396 632h16v16h-16zM1412 632h16v16h-16zM1428 632h16v16h-16zM1444 632h16v16h-16zM1460 632h16v16h-16zM1476 632h16v16h-16zM1492 632h16v16h-16zM1508 632h16v16h-16zM1524 632h16v16h-16zM1540 632h16v16h-16zM1556 632h16v16h-16zM1572 632h16v16h-16zM1940 632h16v16h-16zM1956 632h16v16h-16zM1972 632h16v16h-16zM1988 632h16v16h-16zM1204 648h16v16h-16zM1220 648h16v16h-16zM1236 648h16v16h-16zM1252 648h16v16h-16zM1268 648h16v16h-16zM1284 648h16v16h-16zM1300 648h16v16h-16zM1316 648h16v16h-16zM1332 648h16v16h-16zM1348 648h16v16h-16zM1364 648h16v16h-16zM1380 648h16v16h-16zM1396 648h16v16h-16zM1412 648h16v16h-16zM1428 648h16v16h-16zM1444 648h16v16h-16zM1460 648h16v16h-16zM1476 648h16v16h-16zM1492 648h16v16h-16zM1508 648h16v16h-16zM1524 648h16v16h-16zM1540 648h16v16h-16zM1556 648h16v16h-16zM1572 648h16v16h-16zM1956 648h16v16h-16zM1972 648h16v16h-16zM1988 648h16v16h-16zM1204 664h16v16h-16zM1220 664h16v16h-16zM1236 664h16v16h-16zM1252 664h16v16h-16zM1268 664h16v16h-16zM1284 664h16v16h-16zM1300 664h16v16h-16zM1316 664h16v16h-16zM1332 664h16v16h-16zM1348 664h16v16h-16zM1364 664h16v16h-16zM1380 664h16v16h-16zM1396 664h16v16h-16zM1412 664h16v16h-16zM1428 664h16v16h-16zM1444 664h16v16h-16zM1460 664h16v16h-16zM1476 664h16v16h-16zM1492 664h16v16h-16zM1508 664h16v16h-16z" fill-opacity="0.040"/><path d="M1380 104h16v16h-16zM1396 104h16v16h-16zM1412 104h16v16h-16zM1428 104h16v16h-16zM1444 104h16v16h-16zM1332 120h16v16h-16zM1348 120h16v16h-16zM1492 120h16v16h-16zM1508 120h16v16h-16zM1316 136h16v16h-16zM1540 136h16v16h-16zM1556 136h16v16h-16zM1300 152h16v16h-16zM1572 152h16v16h-16zM1588 152h16v16h-16zM1300 168h16v16h-16zM1604 168h16v16h-16zM1620 168h16v16h-16zM1284 184h16v16h-16zM1636 184h16v16h-16zM1284 200h16v16h-16zM1668 200h16v16h-16zM1284 216h16v16h-16zM1684 216h16v16h-16zM1284 232h16v16h-16zM1700 232h16v16h-16zM1828 232h16v16h-16zM1284 248h16v16h-16zM1716 248h16v16h-16zM1284 264h16v16h-16zM1732 264h16v16h-16zM1284 280h16v16h-16zM1764 296h16v16h-16zM1844 296h16v16h-16zM1300 312h16v16h-16zM1780 312h16v16h-16zM1300 328h16v16h-16zM1796 328h16v16h-16zM1316 344h16v16h-16zM1812 344h16v16h-16zM1316 360h16v16h-16zM1828 360h16v16h-16zM1332 376h16v16h-16zM1844 376h16v16h-16zM1348 408h16v16h-16zM1860 408h16v16h-16zM1364 424h16v16h-16zM1876 424h16v16h-16zM1380 440h16v16h-16zM1876 440h16v16h-16zM1396 456h16v16h-16zM1892 456h16v16h-16zM1412 472h16v16h-16zM1892 472h16v16h-16zM1428 488h16v16h-16zM1444 504h16v16h-16zM1908 504h16v16h-16zM1460 520h16v16h-16zM1908 520h16v16h-16zM1476 536h16v16h-16zM1492 536h16v16h-16zM1908 536h16v16h-16zM1508 552h16v16h-16zM1908 552h16v16h-16zM1524 568h16v16h-16zM1908 568h16v16h-16zM1540 584h16v16h-16zM1556 584h16v16h-16zM1908 584h16v16h-16zM1556 600h16v16h-16zM1572 600h16v16h-16zM1588 600h16v16h-16zM1892 600h16v16h-16zM1908 600h16v16h-16zM1572 616h16v16h-16zM1588 616h16v16h-16zM1604 616h16v16h-16zM1892 616h16v16h-16zM1908 616h16v16h-16zM1588 632h16v16h-16zM1604 632h16v16h-16zM1620 632h16v16h-16zM1636 632h16v16h-16zM1876 632h16v16h-16zM1892 632h16v16h-16zM1908 632h16v16h-16zM1924 632h16v16h-16zM1588 648h16v16h-16zM1604 648h16v16h-16zM1620 648h16v16h-16zM1636 648h16v16h-16zM1652 648h16v16h-16zM1876 648h16v16h-16zM1892 648h16v16h-16zM1908 648h16v16h-16zM1924 648h16v16h-16zM1940 648h16v16h-16zM1524 664h16v16h-16zM1540 664h16v16h-16zM1556 664h16v16h-16zM1572 664h16v16h-16zM1588 664h16v16h-16zM1604 664h16v16h-16zM1620 664h16v16h-16zM1636 664h16v16h-16zM1652 664h16v16h-16zM1668 664h16v16h-16zM1684 664h16v16h-16zM1860 664h16v16h-16zM1876 664h16v16h-16zM1892 664h16v16h-16zM1908 664h16v16h-16zM1924 664h16v16h-16zM1940 664h16v16h-16zM1956 664h16v16h-16zM1972 664h16v16h-16zM1988 664h16v16h-16zM1204 680h16v16h-16zM1220 680h16v16h-16zM1236 680h16v16h-16zM1252 680h16v16h-16zM1268 680h16v16h-16zM1284 680h16v16h-16zM1300 680h16v16h-16zM1316 680h16v16h-16zM1332 680h16v16h-16zM1348 680h16v16h-16zM1364 680h16v16h-16zM1380 680h16v16h-16zM1396 680h16v16h-16zM1412 680h16v16h-16zM1428 680h16v16h-16zM1444 680h16v16h-16zM1460 680h16v16h-16zM1476 680h16v16h-16zM1492 680h16v16h-16zM1508 680h16v16h-16zM1524 680h16v16h-16zM1540 680h16v16h-16zM1556 680h16v16h-16zM1572 680h16v16h-16zM1588 680h16v16h-16zM1604 680h16v16h-16zM1620 680h16v16h-16zM1636 680h16v16h-16zM1652 680h16v16h-16zM1668 680h16v16h-16zM1684 680h16v16h-16zM1700 680h16v16h-16zM1844 680h16v16h-16zM1860 680h16v16h-16zM1876 680h16v16h-16zM1892 680h16v16h-16zM1908 680h16v16h-16zM1924 680h16v16h-16zM1940 680h16v16h-16zM1956 680h16v16h-16zM1972 680h16v16h-16zM1988 680h16v16h-16zM1204 696h16v16h-16zM1220 696h16v16h-16zM1236 696h16v16h-16zM1252 696h16v16h-16zM1268 696h16v16h-16zM1284 696h16v16h-16zM1300 696h16v16h-16zM1316 696h16v16h-16zM1332 696h16v16h-16zM1348 696h16v16h-16zM1364 696h16v16h-16zM1380 696h16v16h-16zM1396 696h16v16h-16zM1412 696h16v16h-16zM1428 696h16v16h-16zM1444 696h16v16h-16zM1460 696h16v16h-16zM1476 696h16v16h-16zM1492 696h16v16h-16zM1508 696h16v16h-16zM1524 696h16v16h-16zM1540 696h16v16h-16zM1556 696h16v16h-16zM1572 696h16v16h-16zM1588 696h16v16h-16zM1604 696h16v16h-16zM1620 696h16v16h-16zM1636 696h16v16h-16zM1652 696h16v16h-16zM1668 696h16v16h-16zM1684 696h16v16h-16zM1700 696h16v16h-16zM1716 696h16v16h-16zM1860 696h16v16h-16zM1876 696h16v16h-16zM1892 696h16v16h-16zM1908 696h16v16h-16zM1924 696h16v16h-16zM1940 696h16v16h-16zM1956 696h16v16h-16zM1972 696h16v16h-16zM1988 696h16v16h-16zM1204 712h16v16h-16zM1220 712h16v16h-16zM1236 712h16v16h-16zM1252 712h16v16h-16zM1268 712h16v16h-16zM1284 712h16v16h-16zM1300 712h16v16h-16zM1316 712h16v16h-16zM1332 712h16v16h-16zM1348 712h16v16h-16zM1364 712h16v16h-16zM1380 712h16v16h-16zM1396 712h16v16h-16zM1412 712h16v16h-16zM1428 712h16v16h-16zM1444 712h16v16h-16zM1460 712h16v16h-16zM1476 712h16v16h-16zM1492 712h16v16h-16zM1508 712h16v16h-16zM1524 712h16v16h-16zM1540 712h16v16h-16zM1556 712h16v16h-16zM1572 712h16v16h-16zM1588 712h16v16h-16zM1604 712h16v16h-16zM1620 712h16v16h-16zM1636 712h16v16h-16zM1652 712h16v16h-16zM1668 712h16v16h-16zM1684 712h16v16h-16zM1892 712h16v16h-16zM1908 712h16v16h-16zM1924 712h16v16h-16zM1940 712h16v16h-16zM1956 712h16v16h-16zM1972 712h16v16h-16zM1988 712h16v16h-16zM1204 728h16v16h-16zM1220 728h16v16h-16zM1236 728h16v16h-16zM1252 728h16v16h-16zM1268 728h16v16h-16zM1284 728h16v16h-16zM1300 728h16v16h-16zM1316 728h16v16h-16zM1332 728h16v16h-16zM1348 728h16v16h-16zM1364 728h16v16h-16zM1380 728h16v16h-16zM1396 728h16v16h-16zM1412 728h16v16h-16zM1428 728h16v16h-16zM1444 728h16v16h-16zM1460 728h16v16h-16zM1476 728h16v16h-16zM1492 728h16v16h-16zM1508 728h16v16h-16zM1524 728h16v16h-16zM1540 728h16v16h-16zM1556 728h16v16h-16zM1572 728h16v16h-16zM1588 728h16v16h-16zM1604 728h16v16h-16zM1956 728h16v16h-16zM1972 728h16v16h-16zM1988 728h16v16h-16z" fill-opacity="0.050"/><path d="M1364 120h16v16h-16zM1380 120h16v16h-16zM1396 120h16v16h-16zM1412 120h16v16h-16zM1428 120h16v16h-16zM1444 120h16v16h-16zM1460 120h16v16h-16zM1476 120h16v16h-16zM1332 136h16v16h-16zM1348 136h16v16h-16zM1524 136h16v16h-16zM1316 152h16v16h-16zM1556 152h16v16h-16zM1316 168h16v16h-16zM1588 168h16v16h-16zM1300 184h16v16h-16zM1620 184h16v16h-16zM1300 200h16v16h-16zM1652 200h16v16h-16zM1300 216h16v16h-16zM1668 216h16v16h-16zM1300 248h16v16h-16zM1300 264h16v16h-16zM1300 280h16v16h-16zM1748 280h16v16h-16zM1300 296h16v16h-16zM1892 296h16v16h-16zM1316 328h16v16h-16zM1332 360h16v16h-16zM1812 360h16v16h-16zM1828 376h16v16h-16zM1348 392h16v16h-16zM1844 392h16v16h-16zM1364 408h16v16h-16zM1380 424h16v16h-16zM1860 424h16v16h-16zM1396 440h16v16h-16zM1876 456h16v16h-16zM1444 488h16v16h-16zM1892 488h16v16h-16zM1460 504h16v16h-16zM1892 504h16v16h-16zM1476 520h16v16h-16zM1892 520h16v16h-16zM1892 536h16v16h-16zM1524 552h16v16h-16zM1892 552h16v16h-16zM1540 568h16v16h-16zM1556 568h16v16h-16zM1892 568h16v16h-16zM1572 584h16v16h-16zM1876 584h16v16h-16zM1892 584h16v16h-16zM1604 600h16v16h-16zM1876 600h16v16h-16zM1620 616h16v16h-16zM1636 616h16v16h-16zM1860 616h16v16h-16zM1876 616h16v16h-16zM1652 632h16v16h-16zM1668 632h16v16h-16zM1684 632h16v16h-16zM1828 632h16v16h-16zM1844 632h16v16h-16zM1860 632h16v16h-16zM1668 648h16v16h-16zM1684 648h16v16h-16zM1700 648h16v16h-16zM1716 648h16v16h-16zM1732 648h16v16h-16zM1748 648h16v16h-16zM1764 648h16v16h-16zM1780 648h16v16h-16zM1796 648h16v16h-16zM1812 648h16v16h-16zM1828 648h16v16h-16zM1844 648h16v16h-16zM1860 648h16v16h-16zM1700 664h16v16h-16zM1716 664h16v16h-16zM1732 664h16v16h-16zM1748 664h16v16h-16zM1764 664h16v16h-16zM1780 664h16v16h-16zM1796 664h16v16h-16zM1812 664h16v16h-16zM1828 664h16v16h-16zM1844 664h16v16h-16zM1716 680h16v16h-16zM1732 680h16v16h-16zM1748 680h16v16h-16zM1764 680h16v16h-16zM1780 680h16v16h-16zM1796 680h16v16h-16zM1812 680h16v16h-16zM1828 680h16v16h-16zM1732 696h16v16h-16zM1748 696h16v16h-16zM1764 696h16v16h-16zM1780 696h16v16h-16zM1796 696h16v16h-16zM1812 696h16v16h-16zM1828 696h16v16h-16zM1844 696h16v16h-16zM1700 712h16v16h-16zM1716 712h16v16h-16zM1732 712h16v16h-16zM1748 712h16v16h-16zM1764 712h16v16h-16zM1780 712h16v16h-16zM1796 712h16v16h-16zM1812 712h16v16h-16zM1828 712h16v16h-16zM1844 712h16v16h-16zM1860 712h16v16h-16zM1876 712h16v16h-16zM1620 728h16v16h-16zM1636 728h16v16h-16zM1652 728h16v16h-16zM1668 728h16v16h-16zM1684 728h16v16h-16zM1700 728h16v16h-16zM1716 728h16v16h-16zM1732 728h16v16h-16zM1748 728h16v16h-16zM1764 728h16v16h-16zM1780 728h16v16h-16zM1796 728h16v16h-16zM1812 728h16v16h-16zM1828 728h16v16h-16zM1844 728h16v16h-16zM1860 728h16v16h-16zM1876 728h16v16h-16zM1892 728h16v16h-16zM1908 728h16v16h-16zM1924 728h16v16h-16zM1940 728h16v16h-16zM1204 744h16v16h-16zM1220 744h16v16h-16zM1236 744h16v16h-16zM1252 744h16v16h-16zM1268 744h16v16h-16zM1284 744h16v16h-16zM1300 744h16v16h-16zM1316 744h16v16h-16zM1332 744h16v16h-16zM1348 744h16v16h-16zM1364 744h16v16h-16zM1380 744h16v16h-16zM1396 744h16v16h-16zM1412 744h16v16h-16zM1428 744h16v16h-16zM1444 744h16v16h-16zM1460 744h16v16h-16zM1476 744h16v16h-16zM1492 744h16v16h-16zM1508 744h16v16h-16zM1524 744h16v16h-16zM1540 744h16v16h-16zM1556 744h16v16h-16zM1572 744h16v16h-16zM1588 744h16v16h-16zM1604 744h16v16h-16zM1620 744h16v16h-16zM1636 744h16v16h-16zM1652 744h16v16h-16zM1668 744h16v16h-16zM1684 744h16v16h-16zM1700 744h16v16h-16zM1716 744h16v16h-16zM1732 744h16v16h-16zM1748 744h16v16h-16zM1764 744h16v16h-16zM1780 744h16v16h-16zM1796 744h16v16h-16zM1812 744h16v16h-16zM1828 744h16v16h-16zM1844 744h16v16h-16zM1860 744h16v16h-16zM1876 744h16v16h-16zM1892 744h16v16h-16zM1908 744h16v16h-16zM1924 744h16v16h-16zM1940 744h16v16h-16zM1956 744h16v16h-16zM1972 744h16v16h-16zM1988 744h16v16h-16zM1204 760h16v16h-16zM1220 760h16v16h-16zM1236 760h16v16h-16zM1252 760h16v16h-16zM1268 760h16v16h-16zM1284 760h16v16h-16zM1300 760h16v16h-16zM1316 760h16v16h-16zM1332 760h16v16h-16zM1348 760h16v16h-16zM1364 760h16v16h-16zM1380 760h16v16h-16zM1396 760h16v16h-16zM1412 760h16v16h-16zM1428 760h16v16h-16zM1444 760h16v16h-16zM1460 760h16v16h-16zM1476 760h16v16h-16zM1492 760h16v16h-16zM1508 760h16v16h-16zM1524 760h16v16h-16zM1540 760h16v16h-16zM1556 760h16v16h-16zM1572 760h16v16h-16zM1588 760h16v16h-16zM1604 760h16v16h-16zM1620 760h16v16h-16zM1636 760h16v16h-16zM1652 760h16v16h-16zM1668 760h16v16h-16zM1684 760h16v16h-16zM1700 760h16v16h-16zM1716 760h16v16h-16zM1732 760h16v16h-16zM1748 760h16v16h-16zM1764 760h16v16h-16zM1780 760h16v16h-16zM1796 760h16v16h-16zM1812 760h16v16h-16zM1828 760h16v16h-16zM1844 760h16v16h-16zM1860 760h16v16h-16zM1876 760h16v16h-16zM1892 760h16v16h-16zM1908 760h16v16h-16zM1924 760h16v16h-16zM1940 760h16v16h-16zM1956 760h16v16h-16zM1972 760h16v16h-16zM1988 760h16v16h-16zM1204 776h16v16h-16zM1220 776h16v16h-16zM1236 776h16v16h-16zM1252 776h16v16h-16zM1268 776h16v16h-16zM1284 776h16v16h-16zM1300 776h16v16h-16zM1316 776h16v16h-16zM1332 776h16v16h-16zM1348 776h16v16h-16zM1364 776h16v16h-16zM1380 776h16v16h-16zM1396 776h16v16h-16zM1412 776h16v16h-16zM1428 776h16v16h-16zM1444 776h16v16h-16zM1460 776h16v16h-16zM1476 776h16v16h-16zM1492 776h16v16h-16zM1508 776h16v16h-16zM1524 776h16v16h-16zM1540 776h16v16h-16zM1556 776h16v16h-16zM1572 776h16v16h-16zM1588 776h16v16h-16zM1604 776h16v16h-16zM1620 776h16v16h-16zM1636 776h16v16h-16zM1652 776h16v16h-16zM1668 776h16v16h-16zM1684 776h16v16h-16zM1700 776h16v16h-16zM1716 776h16v16h-16zM1732 776h16v16h-16zM1748 776h16v16h-16zM1764 776h16v16h-16zM1780 776h16v16h-16zM1796 776h16v16h-16zM1812 776h16v16h-16zM1828 776h16v16h-16zM1844 776h16v16h-16zM1860 776h16v16h-16zM1876 776h16v16h-16zM1892 776h16v16h-16zM1908 776h16v16h-16zM1924 776h16v16h-16zM1940 776h16v16h-16zM1956 776h16v16h-16zM1972 776h16v16h-16zM1988 776h16v16h-16z" fill-opacity="0.060"/><path d="M1364 136h16v16h-16zM1492 136h16v16h-16zM1508 136h16v16h-16zM1332 152h16v16h-16zM1540 152h16v16h-16zM1316 184h16v16h-16zM1604 184h16v16h-16zM1636 200h16v16h-16zM1844 216h16v16h-16zM1300 232h16v16h-16zM1684 232h16v16h-16zM1700 248h16v16h-16zM1716 264h16v16h-16zM1828 264h16v16h-16zM1732 280h16v16h-16zM1316 296h16v16h-16zM1748 296h16v16h-16zM1316 312h16v16h-16zM1764 312h16v16h-16zM1780 328h16v16h-16zM1332 344h16v16h-16zM1796 344h16v16h-16zM1348 376h16v16h-16zM1364 392h16v16h-16zM1828 392h16v16h-16zM1844 408h16v16h-16zM1860 440h16v16h-16zM1412 456h16v16h-16zM1428 472h16v16h-16zM1876 472h16v16h-16zM1876 488h16v16h-16zM1492 520h16v16h-16zM1508 536h16v16h-16zM1876 536h16v16h-16zM1540 552h16v16h-16zM1876 552h16v16h-16zM1572 568h16v16h-16zM1876 568h16v16h-16zM1588 584h16v16h-16zM1604 584h16v16h-16zM1860 584h16v16h-16zM1620 600h16v16h-16zM1636 600h16v16h-16zM1844 600h16v16h-16zM1860 600h16v16h-16zM1652 616h16v16h-16zM1668 616h16v16h-16zM1684 616h16v16h-16zM1812 616h16v16h-16zM1828 616h16v16h-16zM1844 616h16v16h-16zM1700 632h16v16h-16zM1716 632h16v16h-16zM1732 632h16v16h-16zM1748 632h16v16h-16zM1764 632h16v16h-16zM1780 632h16v16h-16zM1796 632h16v16h-16zM1812 632h16v16h-16z" fill-opacity="0.070"/><path d="M1380 136h16v16h-16zM1396 136h16v16h-16zM1460 136h16v16h-16zM1476 136h16v16h-16zM1348 152h16v16h-16zM1524 152h16v16h-16zM1332 168h16v16h-16zM1572 168h16v16h-16zM1316 200h16v16h-16zM1620 200h16v16h-16zM1316 216h16v16h-16zM1652 216h16v16h-16zM1316 232h16v16h-16zM1668 232h16v16h-16zM1316 248h16v16h-16zM1828 248h16v16h-16zM1316 264h16v16h-16zM1316 280h16v16h-16zM1908 280h16v16h-16zM1860 296h16v16h-16zM1332 328h16v16h-16zM1348 360h16v16h-16zM1796 360h16v16h-16zM1812 376h16v16h-16zM1380 408h16v16h-16zM1396 424h16v16h-16zM1844 424h16v16h-16zM1412 440h16v16h-16zM1428 456h16v16h-16zM1860 456h16v16h-16zM1444 472h16v16h-16zM1460 488h16v16h-16zM1476 504h16v16h-16zM1876 504h16v16h-16zM1876 520h16v16h-16zM1524 536h16v16h-16zM1556 552h16v16h-16zM1588 568h16v16h-16zM1860 568h16v16h-16zM1620 584h16v16h-16zM1844 584h16v16h-16zM1652 600h16v16h-16zM1828 600h16v16h-16zM1700 616h16v16h-16zM1716 616h16v16h-16zM1732 616h16v16h-16zM1748 616h16v16h-16zM1764 616h16v16h-16zM1780 616h16v16h-16zM1796 616h16v16h-16z" fill-opacity="0.080"/><path d="M1412 136h16v16h-16zM1428 136h16v16h-16zM1444 136h16v16h-16zM1364 152h16v16h-16zM1508 152h16v16h-16zM1556 168h16v16h-16zM1332 184h16v16h-16zM1588 184h16v16h-16zM1636 216h16v16h-16zM1684 248h16v16h-16zM1700 264h16v16h-16zM1716 280h16v16h-16zM1332 296h16v16h-16zM1732 296h16v16h-16zM1876 296h16v16h-16zM1332 312h16v16h-16zM1748 312h16v16h-16zM1764 328h16v16h-16zM1348 344h16v16h-16zM1780 344h16v16h-16zM1364 376h16v16h-16zM1380 392h16v16h-16zM1828 408h16v16h-16zM1844 440h16v16h-16zM1860 472h16v16h-16zM1860 488h16v16h-16zM1492 504h16v16h-16zM1860 504h16v16h-16zM1508 520h16v16h-16zM1860 520h16v16h-16zM1540 536h16v16h-16zM1860 536h16v16h-16zM1860 552h16v16h-16zM1844 568h16v16h-16zM1636 584h16v16h-16zM1828 584h16v16h-16zM1668 600h16v16h-16zM1684 600h16v16h-16zM1700 600h16v16h-16zM1796 600h16v16h-16zM1812 600h16v16h-16z" fill-opacity="0.090"/><path d="M1380 152h16v16h-16zM1492 152h16v16h-16zM1348 168h16v16h-16zM1540 168h16v16h-16zM1572 184h16v16h-16zM1332 200h16v16h-16zM1604 200h16v16h-16zM1652 232h16v16h-16zM1332 280h16v16h-16zM1348 328h16v16h-16zM1364 360h16v16h-16zM1796 376h16v16h-16zM1812 392h16v16h-16zM1396 408h16v16h-16zM1412 424h16v16h-16zM1828 424h16v16h-16zM1844 456h16v16h-16zM1460 472h16v16h-16zM1476 488h16v16h-16zM1524 520h16v16h-16zM1572 552h16v16h-16zM1844 552h16v16h-16zM1604 568h16v16h-16zM1828 568h16v16h-16zM1652 584h16v16h-16zM1812 584h16v16h-16zM1716 600h16v16h-16zM1732 600h16v16h-16zM1748 600h16v16h-16zM1764 600h16v16h-16zM1780 600h16v16h-16z" fill-opacity="0.100"/><path d="M1476 152h16v16h-16zM1524 168h16v16h-16zM1348 184h16v16h-16zM1332 216h16v16h-16zM1892 216h16v16h-16zM1332 232h16v16h-16zM1332 248h16v16h-16zM1668 248h16v16h-16zM1332 264h16v16h-16zM1348 312h16v16h-16zM1780 360h16v16h-16zM1380 376h16v16h-16zM1428 440h16v16h-16zM1444 456h16v16h-16zM1844 472h16v16h-16zM1508 504h16v16h-16zM1844 520h16v16h-16zM1556 536h16v16h-16zM1844 536h16v16h-16zM1588 552h16v16h-16zM1620 568h16v16h-16zM1668 584h16v16h-16zM1796 584h16v16h-16z" fill-opacity="0.110"/><path d="M1396 152h16v16h-16zM1412 152h16v16h-16zM1428 152h16v16h-16zM1444 152h16v16h-16zM1460 152h16v16h-16zM1364 168h16v16h-16zM1556 184h16v16h-16zM1588 200h16v16h-16zM1620 216h16v16h-16zM1908 232h16v16h-16zM1684 264h16v16h-16zM1700 280h16v16h-16zM1348 296h16v16h-16zM1716 296h16v16h-16zM1732 312h16v16h-16zM1748 328h16v16h-16zM1364 344h16v16h-16zM1764 344h16v16h-16zM1396 392h16v16h-16zM1812 408h16v16h-16zM1828 440h16v16h-16zM1492 488h16v16h-16zM1844 488h16v16h-16zM1844 504h16v16h-16zM1828 552h16v16h-16zM1636 568h16v16h-16zM1812 568h16v16h-16zM1684 584h16v16h-16zM1700 584h16v16h-16zM1716 584h16v16h-16zM1748 584h16v16h-16zM1764 584h16v16h-16zM1780 584h16v16h-16z" fill-opacity="0.120"/><path d="M1508 168h16v16h-16zM1348 200h16v16h-16zM1636 232h16v16h-16zM1348 280h16v16h-16zM1844 280h16v16h-16zM1364 328h16v16h-16zM1380 360h16v16h-16zM1796 392h16v16h-16zM1412 408h16v16h-16zM1428 424h16v16h-16zM1812 424h16v16h-16zM1828 456h16v16h-16zM1476 472h16v16h-16zM1540 520h16v16h-16zM1572 536h16v16h-16zM1828 536h16v16h-16zM1604 552h16v16h-16zM1812 552h16v16h-16zM1652 568h16v16h-16zM1796 568h16v16h-16zM1732 584h16v16h-16z" fill-opacity="0.130"/><path d="M1380 168h16v16h-16zM1492 168h16v16h-16zM1364 184h16v16h-16zM1540 184h16v16h-16zM1572 200h16v16h-16zM1348 216h16v16h-16zM1604 216h16v16h-16zM1860 216h16v16h-16zM1348 232h16v16h-16zM1348 248h16v16h-16zM1652 248h16v16h-16zM1348 264h16v16h-16zM1764 360h16v16h-16zM1780 376h16v16h-16zM1444 440h16v16h-16zM1460 456h16v16h-16zM1828 472h16v16h-16zM1828 488h16v16h-16zM1524 504h16v16h-16zM1828 504h16v16h-16zM1828 520h16v16h-16zM1620 552h16v16h-16zM1668 568h16v16h-16zM1780 568h16v16h-16z" fill-opacity="0.140"/><path d="M1396 168h16v16h-16zM1668 264h16v16h-16zM1684 280h16v16h-16zM1364 312h16v16h-16zM1380 344h16v16h-16zM1748 344h16v16h-16zM1396 376h16v16h-16zM1796 408h16v16h-16zM1812 440h16v16h-16zM1508 488h16v16h-16zM1556 520h16v16h-16zM1588 536h16v16h-16zM1812 536h16v16h-16zM1796 552h16v16h-16zM1684 568h16v16h-16zM1748 568h16v16h-16zM1764 568h16v16h-16z" fill-opacity="0.150"/><path d="M1476 168h16v16h-16zM1524 184h16v16h-16zM1364 200h16v16h-16zM1876 216h16v16h-16zM1620 232h16v16h-16zM1364 296h16v16h-16zM1700 296h16v16h-16zM1716 312h16v16h-16zM1732 328h16v16h-16zM1412 392h16v16h-16zM1780 392h16v16h-16zM1812 456h16v16h-16zM1492 472h16v16h-16zM1812 520h16v16h-16zM1636 552h16v16h-16zM1780 552h16v16h-16zM1700 568h16v16h-16zM1716 568h16v16h-16zM1732 568h16v16h-16z" fill-opacity="0.160"/><path d="M1412 168h16v16h-16zM1428 168h16v16h-16zM1444 168h16v16h-16zM1460 168h16v16h-16zM1380 184h16v16h-16zM1556 200h16v16h-16zM1588 216h16v16h-16zM1636 248h16v16h-16zM1908 264h16v16h-16zM1364 280h16v16h-16zM1380 328h16v16h-16zM1396 360h16v16h-16zM1428 408h16v16h-16zM1444 424h16v16h-16zM1796 424h16v16h-16zM1460 440h16v16h-16zM1476 456h16v16h-16zM1812 472h16v16h-16zM1812 488h16v16h-16zM1540 504h16v16h-16zM1812 504h16v16h-16zM1604 536h16v16h-16zM1796 536h16v16h-16zM1652 552h16v16h-16z" fill-opacity="0.170"/><path d="M1508 184h16v16h-16zM1364 216h16v16h-16zM1844 232h16v16h-16zM1364 264h16v16h-16zM1764 376h16v16h-16zM1572 520h16v16h-16zM1764 552h16v16h-16z" fill-opacity="0.180"/><path d="M1364 232h16v16h-16zM1604 232h16v16h-16zM1364 248h16v16h-16zM1908 248h16v16h-16zM1652 264h16v16h-16zM1380 312h16v16h-16zM1748 360h16v16h-16zM1412 376h16v16h-16zM1780 408h16v16h-16zM1796 440h16v16h-16zM1524 488h16v16h-16zM1796 520h16v16h-16zM1620 536h16v16h-16zM1780 536h16v16h-16zM1668 552h16v16h-16zM1684 552h16v16h-16zM1748 552h16v16h-16z" fill-opacity="0.190"/><path d="M1396 184h16v16h-16zM1380 200h16v16h-16zM1540 200h16v16h-16zM1572 216h16v16h-16zM1668 280h16v16h-16zM1684 296h16v16h-16zM1700 312h16v16h-16zM1716 328h16v16h-16zM1396 344h16v16h-16zM1732 344h16v16h-16zM1428 392h16v16h-16zM1796 456h16v16h-16zM1508 472h16v16h-16zM1556 504h16v16h-16zM1796 504h16v16h-16zM1588 520h16v16h-16zM1700 552h16v16h-16zM1716 552h16v16h-16zM1732 552h16v16h-16z" fill-opacity="0.200"/><path d="M1492 184h16v16h-16zM1620 248h16v16h-16zM1380 296h16v16h-16zM1764 392h16v16h-16zM1444 408h16v16h-16zM1780 424h16v16h-16zM1492 456h16v16h-16zM1796 472h16v16h-16zM1796 488h16v16h-16zM1780 520h16v16h-16zM1636 536h16v16h-16zM1764 536h16v16h-16z" fill-opacity="0.210"/><path d="M1412 184h16v16h-16zM1476 184h16v16h-16zM1892 280h16v16h-16zM1396 328h16v16h-16zM1412 360h16v16h-16zM1748 376h16v16h-16zM1460 424h16v16h-16zM1476 440h16v16h-16zM1540 488h16v16h-16zM1748 536h16v16h-16z" fill-opacity="0.220"/><path d="M1524 200h16v16h-16zM1380 216h16v16h-16zM1556 216h16v16h-16zM1588 232h16v16h-16zM1636 264h16v16h-16zM1380 280h16v16h-16zM1780 440h16v16h-16zM1780 504h16v16h-16zM1604 520h16v16h-16zM1652 536h16v16h-16z" fill-opacity="0.230"/><path d="M1428 184h16v16h-16zM1444 184h16v16h-16zM1460 184h16v16h-16zM1396 200h16v16h-16zM1380 232h16v16h-16zM1380 264h16v16h-16zM1652 280h16v16h-16zM1732 360h16v16h-16zM1428 376h16v16h-16zM1764 408h16v16h-16zM1780 456h16v16h-16zM1780 488h16v16h-16zM1572 504h16v16h-16zM1764 520h16v16h-16zM1668 536h16v16h-16zM1732 536h16v16h-16z" fill-opacity="0.240"/><path d="M1380 248h16v16h-16zM1604 248h16v16h-16zM1668 296h16v16h-16zM1396 312h16v16h-16zM1412 344h16v16h-16zM1716 344h16v16h-16zM1524 472h16v16h-16zM1780 472h16v16h-16zM1684 536h16v16h-16zM1700 536h16v16h-16zM1716 536h16v16h-16z" fill-opacity="0.250"/><path d="M1508 200h16v16h-16zM1844 264h16v16h-16zM1684 312h16v16h-16zM1700 328h16v16h-16zM1444 392h16v16h-16zM1748 392h16v16h-16zM1764 424h16v16h-16zM1508 456h16v16h-16zM1764 504h16v16h-16zM1620 520h16v16h-16zM1748 520h16v16h-16z" fill-opacity="0.260"/><path d="M1540 216h16v16h-16zM1572 232h16v16h-16zM1396 296h16v16h-16zM1460 408h16v16h-16zM1476 424h16v16h-16zM1492 440h16v16h-16zM1556 488h16v16h-16zM1588 504h16v16h-16z" fill-opacity="0.270"/><path d="M1412 200h16v16h-16zM1396 216h16v16h-16zM1620 264h16v16h-16zM1860 280h16v16h-16zM1412 328h16v16h-16zM1428 360h16v16h-16zM1732 376h16v16h-16zM1764 440h16v16h-16zM1764 488h16v16h-16zM1636 520h16v16h-16zM1732 520h16v16h-16z" fill-opacity="0.280"/><path d="M1492 200h16v16h-16zM1396 280h16v16h-16zM1764 456h16v16h-16zM1764 472h16v16h-16zM1748 504h16v16h-16z" fill-opacity="0.290"/><path d="M1588 248h16v16h-16zM1844 248h16v16h-16zM1636 280h16v16h-16zM1716 360h16v16h-16zM1444 376h16v16h-16zM1748 408h16v16h-16zM1540 472h16v16h-16zM1652 520h16v16h-16zM1716 520h16v16h-16z" fill-opacity="0.300"/><path d="M1428 200h16v16h-16zM1476 200h16v16h-16zM1524 216h16v16h-16zM1396 232h16v16h-16zM1556 232h16v16h-16zM1396 264h16v16h-16zM1652 296h16v16h-16zM1572 488h16v16h-16zM1604 504h16v16h-16zM1668 520h16v16h-16zM1684 520h16v16h-16zM1700 520h16v16h-16z" fill-opacity="0.310"/><path d="M1444 200h16v16h-16zM1460 200h16v16h-16zM1892 232h16v16h-16zM1396 248h16v16h-16zM1412 312h16v16h-16zM1668 312h16v16h-16zM1684 328h16v16h-16zM1428 344h16v16h-16zM1700 344h16v16h-16zM1460 392h16v16h-16zM1748 424h16v16h-16zM1524 456h16v16h-16zM1748 488h16v16h-16zM1732 504h16v16h-16z" fill-opacity="0.320"/><path d="M1412 216h16v16h-16zM1604 264h16v16h-16zM1732 392h16v16h-16zM1476 408h16v16h-16zM1508 440h16v16h-16z" fill-opacity="0.330"/><path d="M1876 280h16v16h-16zM1492 424h16v16h-16zM1748 440h16v16h-16zM1748 472h16v16h-16zM1620 504h16v16h-16z" fill-opacity="0.340"/><path d="M1508 216h16v16h-16zM1572 248h16v16h-16zM1412 296h16v16h-16zM1444 360h16v16h-16zM1748 456h16v16h-16zM1556 472h16v16h-16zM1716 504h16v16h-16z" fill-opacity="0.350"/><path d="M1540 232h16v16h-16zM1620 280h16v16h-16zM1428 328h16v16h-16zM1716 376h16v16h-16zM1732 408h16v16h-16zM1588 488h16v16h-16zM1732 488h16v16h-16zM1636 504h16v16h-16z" fill-opacity="0.360"/><path d="M1412 232h16v16h-16zM1412 280h16v16h-16zM1460 376h16v16h-16zM1700 504h16v16h-16z" fill-opacity="0.370"/><path d="M1428 216h16v16h-16zM1636 296h16v16h-16zM1700 360h16v16h-16zM1540 456h16v16h-16zM1652 504h16v16h-16zM1684 504h16v16h-16z" fill-opacity="0.380"/><path d="M1492 216h16v16h-16zM1412 248h16v16h-16zM1412 264h16v16h-16zM1588 264h16v16h-16zM1732 424h16v16h-16zM1732 472h16v16h-16zM1668 504h16v16h-16z" fill-opacity="0.390"/><path d="M1428 312h16v16h-16zM1652 312h16v16h-16zM1668 328h16v16h-16zM1444 344h16v16h-16zM1684 344h16v16h-16zM1476 392h16v16h-16zM1524 440h16v16h-16zM1732 456h16v16h-16zM1604 488h16v16h-16zM1716 488h16v16h-16z" fill-opacity="0.400"/><path d="M1444 216h16v16h-16zM1476 216h16v16h-16zM1524 232h16v16h-16zM1860 232h16v16h-16zM1556 248h16v16h-16zM1716 392h16v16h-16zM1492 408h16v16h-16zM1508 424h16v16h-16zM1732 440h16v16h-16zM1572 472h16v16h-16z" fill-opacity="0.410"/><path d="M1460 216h16v16h-16zM1604 280h16v16h-16z" fill-opacity="0.420"/><path d="M1428 232h16v16h-16zM1428 296h16v16h-16zM1460 360h16v16h-16zM1700 488h16v16h-16z" fill-opacity="0.430"/><path d="M1444 328h16v16h-16zM1716 472h16v16h-16zM1620 488h16v16h-16z" fill-opacity="0.440"/><path d="M1572 264h16v16h-16zM1620 296h16v16h-16zM1700 376h16v16h-16zM1716 408h16v16h-16zM1556 456h16v16h-16z" fill-opacity="0.450"/><path d="M1508 232h16v16h-16zM1540 248h16v16h-16zM1428 280h16v16h-16zM1476 376h16v16h-16zM1684 488h16v16h-16z" fill-opacity="0.460"/><path d="M1428 248h16v16h-16zM1428 264h16v16h-16zM1892 264h16v16h-16zM1684 360h16v16h-16zM1716 424h16v16h-16zM1716 456h16v16h-16zM1588 472h16v16h-16zM1636 488h16v16h-16z" fill-opacity="0.470"/><path d="M1444 232h16v16h-16zM1444 312h16v16h-16zM1636 312h16v16h-16zM1460 344h16v16h-16zM1492 392h16v16h-16zM1540 440h16v16h-16zM1716 440h16v16h-16zM1652 488h16v16h-16zM1668 488h16v16h-16z" fill-opacity="0.480"/><path d="M1492 232h16v16h-16zM1588 280h16v16h-16zM1652 328h16v16h-16zM1668 344h16v16h-16zM1700 472h16v16h-16z" fill-opacity="0.490"/><path d="M1876 232h16v16h-16zM1700 392h16v16h-16zM1508 408h16v16h-16zM1524 424h16v16h-16z" fill-opacity="0.500"/><path d="M1460 232h16v16h-16zM1476 232h16v16h-16zM1556 264h16v16h-16z" fill-opacity="0.510"/><path d="M1524 248h16v16h-16zM1444 296h16v16h-16zM1476 360h16v16h-16zM1604 472h16v16h-16z" fill-opacity="0.520"/><path d="M1444 248h16v16h-16zM1892 248h16v16h-16zM1604 296h16v16h-16zM1460 328h16v16h-16zM1572 456h16v16h-16z" fill-opacity="0.530"/><path d="M1444 280h16v16h-16zM1700 456h16v16h-16zM1684 472h16v16h-16z" fill-opacity="0.540"/><path d="M1444 264h16v16h-16zM1572 280h16v16h-16zM1492 376h16v16h-16zM1684 376h16v16h-16zM1700 408h16v16h-16z" fill-opacity="0.550"/><path d="M1508 248h16v16h-16zM1540 264h16v16h-16zM1620 312h16v16h-16zM1700 440h16v16h-16zM1620 472h16v16h-16z" fill-opacity="0.560"/><path d="M1460 248h16v16h-16zM1460 312h16v16h-16zM1476 344h16v16h-16zM1700 424h16v16h-16zM1556 440h16v16h-16zM1668 472h16v16h-16z" fill-opacity="0.570"/><path d="M1636 328h16v16h-16zM1668 360h16v16h-16zM1508 392h16v16h-16z" fill-opacity="0.580"/><path d="M1476 248h16v16h-16zM1492 248h16v16h-16zM1860 264h16v16h-16zM1588 296h16v16h-16zM1652 344h16v16h-16zM1524 408h16v16h-16zM1540 424h16v16h-16zM1636 472h16v16h-16zM1652 472h16v16h-16z" fill-opacity="0.590"/><path d="M1460 296h16v16h-16zM1588 456h16v16h-16zM1684 456h16v16h-16z" fill-opacity="0.600"/><path d="M1460 264h16v16h-16zM1524 264h16v16h-16zM1556 280h16v16h-16zM1476 328h16v16h-16zM1492 360h16v16h-16zM1684 392h16v16h-16z" fill-opacity="0.610"/><path d="M1460 280h16v16h-16z" fill-opacity="0.620"/><path d="M1508 264h16v16h-16zM1604 312h16v16h-16z" fill-opacity="0.640"/><path d="M1476 264h16v16h-16zM1540 280h16v16h-16zM1572 296h16v16h-16zM1476 312h16v16h-16zM1492 344h16v16h-16zM1508 376h16v16h-16zM1684 408h16v16h-16zM1684 440h16v16h-16z" fill-opacity="0.650"/><path d="M1492 264h16v16h-16zM1668 376h16v16h-16zM1572 440h16v16h-16zM1604 456h16v16h-16zM1668 456h16v16h-16z" fill-opacity="0.660"/><path d="M1860 248h16v16h-16zM1476 280h16v16h-16zM1476 296h16v16h-16zM1620 328h16v16h-16zM1684 424h16v16h-16z" fill-opacity="0.670"/><path d="M1524 392h16v16h-16z" fill-opacity="0.680"/><path d="M1524 280h16v16h-16zM1492 328h16v16h-16zM1636 344h16v16h-16zM1652 360h16v16h-16zM1556 424h16v16h-16z" fill-opacity="0.690"/><path d="M1492 280h16v16h-16zM1508 280h16v16h-16zM1556 296h16v16h-16zM1588 312h16v16h-16zM1508 360h16v16h-16zM1540 408h16v16h-16zM1620 456h16v16h-16zM1652 456h16v16h-16z" fill-opacity="0.700"/><path d="M1492 296h16v16h-16zM1492 312h16v16h-16zM1636 456h16v16h-16z" fill-opacity="0.710"/><path d="M1876 264h16v16h-16z" fill-opacity="0.720"/><path d="M1540 296h16v16h-16zM1508 344h16v16h-16zM1668 392h16v16h-16zM1668 440h16v16h-16z" fill-opacity="0.730"/><path d="M1508 296h16v16h-16zM1524 296h16v16h-16zM1524 376h16v16h-16zM1588 440h16v16h-16z" fill-opacity="0.740"/><path d="M1508 312h16v16h-16zM1572 312h16v16h-16zM1508 328h16v16h-16zM1604 328h16v16h-16z" fill-opacity="0.750"/><path d="M1668 408h16v16h-16zM1668 424h16v16h-16z" fill-opacity="0.760"/><path d="M1556 312h16v16h-16z" fill-opacity="0.770"/><path d="M1524 312h16v16h-16zM1540 312h16v16h-16zM1620 344h16v16h-16zM1524 360h16v16h-16zM1652 376h16v16h-16zM1540 392h16v16h-16zM1572 424h16v16h-16z" fill-opacity="0.780"/><path d="M1524 328h16v16h-16zM1636 360h16v16h-16zM1604 440h16v16h-16zM1652 440h16v16h-16z" fill-opacity="0.790"/><path d="M1588 328h16v16h-16zM1524 344h16v16h-16zM1556 408h16v16h-16z" fill-opacity="0.800"/><path d="M1876 248h16v16h-16zM1540 328h16v16h-16zM1620 440h16v16h-16zM1636 440h16v16h-16z" fill-opacity="0.820"/><path d="M1556 328h16v16h-16zM1572 328h16v16h-16zM1540 376h16v16h-16z" fill-opacity="0.830"/><path d="M1652 392h16v16h-16zM1652 424h16v16h-16z" fill-opacity="0.840"/><path d="M1540 344h16v16h-16zM1604 344h16v16h-16zM1540 360h16v16h-16z" fill-opacity="0.850"/><path d="M1652 408h16v16h-16zM1588 424h16v16h-16z" fill-opacity="0.860"/><path d="M1620 360h16v16h-16zM1636 376h16v16h-16zM1556 392h16v16h-16z" fill-opacity="0.870"/><path d="M1556 344h16v16h-16zM1588 344h16v16h-16zM1572 408h16v16h-16z" fill-opacity="0.880"/><path d="M1572 344h16v16h-16z" fill-opacity="0.890"/><path d="M1556 360h16v16h-16zM1556 376h16v16h-16zM1604 424h16v16h-16zM1636 424h16v16h-16z" fill-opacity="0.900"/><path d="M1604 360h16v16h-16zM1636 392h16v16h-16zM1620 424h16v16h-16z" fill-opacity="0.920"/><path d="M1572 360h16v16h-16zM1572 392h16v16h-16zM1636 408h16v16h-16z" fill-opacity="0.930"/><path d="M1588 360h16v16h-16zM1620 376h16v16h-16zM1588 408h16v16h-16z" fill-opacity="0.940"/><path d="M1572 376h16v16h-16z" fill-opacity="0.950"/><path d="M1604 376h16v16h-16zM1620 392h16v16h-16zM1604 408h16v16h-16zM1620 408h16v16h-16z" fill-opacity="0.970"/><path d="M1588 376h16v16h-16zM1588 392h16v16h-16z" fill-opacity="0.980"/><path d="M1604 392h16v16h-16z" fill-opacity="0.990"/></g></g>
<path d="M1978 703h0M1615 709h0M1866 659h0M1821 748h0M1272 712h0M1897 527h0M1488 711h0M1557 724h0M1470 757h0M1738 745h0M1844 726h0M1670 699h0M1241 717h0M1892 719h0M1353 723h0M1709 770h0M1472 596h0M1289 637h0M1655 652h0M1343 770h0M1366 602h0M1765 737h0M1401 629h0M1551 666h0M1482 669h0M1346 767h0M1726 661h0M1981 738h0M1791 691h0M1600 596h0M1232 750h0M1266 770h0M1728 727h0M1896 607h0M1276 608h0M1855 760h0M1676 729h0M1266 739h0M1728 713h0M1416 758h0M1297 649h0M1508 721h0M1697 550h0M1449 743h0M1901 682h0M1363 715h0M1635 654h0M1753 760h0M1919 733h0M1641 732h0M1763 582h0M1917 542h0M1444 640h0M1705 742h0M1473 671h0M1747 754h0M1255 758h0M1727 662h0M1379 744h0M1502 602h0M1661 577h0M1575 704h0M1980 718h0M1733 733h0M1563 744h0M1769 572h0M1944 771h0M1435 717h0M1235 696h0M1265 664h0M1536 627h0M1822 710h0M1777 598h0M1515 727h0M1281 744h0M1247 668h0M1315 696h0M1404 627h0M1761 698h0M1821 754h0M1401 607h0M1496 716h0M1651 664h0M1823 625h0M1800 682h0M1920 753h0M1525 759h0M1235 758h0M1682 692h0M1701 695h0M1886 726h0M1429 750h0M1460 691h0M1500 655h0M1636 664h0M1612 537h0M1809 675h0M1435 753h0M1910 652h0M1417 768h0M1268 730h0M1528 766h0M1633 769h0M1575 716h0M1363 704h0M1858 582h0M1817 634h0M1295 686h0M1464 701h0M1695 700h0M1822 711h0M1222 578h0M1521 709h0M1824 694h0M1449 593h0M1640 612h0M1798 677h0M1288 675h0M1271 637h0M1830 673h0M1474 770h0M1422 705h0M1647 662h0M1820 728h0M1886 663h0M1380 597h0M1356 740h0M1259 729h0M1361 738h0M1970 767h0M1619 745h0M1529 564h0M1611 601h0M1604 732h0M1809 645h0M1229 743h0M1741 691h0M1973 686h0M1830 771h0M1380 763h0M1237 718h0M1493 621h0M1366 761h0M1346 765h0M1787 755h0M1713 685h0M1787 747h0M1297 643h0M1251 609h0M1544 680h0M1792 714h0M1399 701h0M1568 692h0M1802 687h0M1686 627h0M1767 610h0M1684 763h0M1932 705h0M1714 635h0M1637 693h0M1535 640h0M1727 715h0M1503 739h0M1874 699h0M1311 556h0M1511 631h0M1364 753h0M1480 610h0M1979 680h0M1725 742h0M1350 552h0M1368 739h0M1596 699h0M1462 614h0M1926 650h0M1479 694h0M1717 748h0M1857 683h0M1380 644h0M1300 737h0M1604 648h0M1971 629h0M1963 750h0M1741 583h0M1833 626h0M1707 760h0M1925 643h0M1310 764h0M1612 653h0M1900 630h0M1547 561h0M1538 574h0M1922 741h0M1746 670h0M1842 649h0M1968 728h0M1624 695h0M1763 624h0M1502 731h0M1854 652h0M1387 663h0M1726 699h0M1464 610h0M1565 611h0M1384 764h0M1713 589h0M1341 702h0M1620 713h0M1345 621h0M1467 729h0M1674 697h0M1543 600h0M1422 655h0M1891 682h0M1743 733h0M1847 699h0M1446 671h0M1506 542h0M1549 726h0M1861 756h0M1817 760h0M1413 731h0M1319 703h0M1733 625h0M1499 748h0M1781 666h0M1949 714h0M1807 749h0M1334 678h0M1328 749h0M1901 532h0M1304 771h0M1505 694h0M1650 705h0M1661 714h0M1561 755h0M1328 604h0M1833 651h0M1778 769h0M1678 760h0M1967 715h0M1806 704h0M1847 615h0M1604 750h0M1699 707h0M1276 658h0M1539 726h0M1806 633h0M1658 636h0M1939 722h0M1410 695h0M1358 766h0M1231 771h0M1545 611h0M1836 536h0M1757 772h0M1749 720h0M1354 611h0M1244 741h0M1412 653h0M1366 608h0M1902 716h0M1653 680h0M1372 765h0M1426 703h0M1388 599h0M1773 763h0M1463 730h0M1805 708h0M1725 689h0M1684 678h0M1824 726h0M1239 694h0M1675 643h0M1650 630h0M1349 696h0M1340 740h0M1949 617h0M1701 673h0M1701 676h0M1369 637h0M1707 748h0M1340 616h0M1318 732h0M1271 724h0M1542 660h0M1973 710h0M1335 707h0M1859 656h0M1937 654h0M1913 769h0M1600 746h0M1649 748h0M1384 648h0M1777 718h0M1319 681h0M1775 624h0M1453 731h0M1857 758h0M1355 662h0M1911 652h0M1697 664h0M1564 555h0M1373 651h0M1677 678h0M1436 741h0M1406 761h0M1457 726h0M1515 770h0M1269 593h0M1836 762h0M1353 727h0M1224 584h0M1897 659h0M1482 663h0M1718 685h0M1426 627h0M1834 715h0M1966 701h0M1243 716h0M1702 727h0M1908 721h0M1604 720h0M1643 725h0M1602 691h0M1520 648h0M1243 662h0M1631 741h0M1380 650h0M1374 704h0M1305 712h0M1409 697h0M1813 657h0M1813 712h0M1745 637h0M1906 765h0M1626 750h0M1882 720h0M1603 676h0M1924 706h0M1625 568h0M1604 647h0M1647 610h0M1650 771h0M1877 766h0M1450 694h0M1449 651h0M1581 715h0M1651 768h0M1885 712h0M1654 636h0M1242 572h0M1468 765h0M1829 692h0M1940 682h0M1880 562h0M1678 582h0M1910 637h0M1636 660h0M1541 662h0M1313 645h0M1382 601h0M1384 764h0M1922 552h0M1711 710h0M1734 660h0M1870 575h0M1462 739h0M1240 569h0M1962 693h0M1534 649h0M1696 659h0M1775 707h0M1370 764h0M1426 670h0M1865 726h0M1450 754h0M1654 725h0M1504 762h0M1334 618h0M1318 733h0M1950 664h0M1850 755h0M1898 724h0M1617 681h0M1611 632h0M1549 743h0M1477 695h0M1262 691h0M1738 632h0M1741 697h0M1639 697h0M1912 624h0M1500 653h0M1724 769h0M1424 683h0M1491 686h0M1792 567h0M1573 746h0M1247 693h0M1651 624h0M1497 754h0M1523 712h0M1594 608h0M1476 651h0M1540 748h0M1976 764h0M1908 679h0M1733 684h0M1667 731h0M1549 717h0M1547 662h0M1392 673h0M1510 659h0M1956 741h0M1539 709h0M1224 586h0M1724 687h0M1811 529h0M1802 666h0M1820 700h0M1895 695h0M1641 583h0M1943 702h0M1823 686h0M1411 633h0M1755 771h0M1332 656h0M1478 667h0M1644 668h0M1677 734h0M1721 555h0M1468 727h0M1548 681h0M1799 721h0M1408 667h0M1394 609h0M1486 754h0M1756 671h0M1631 682h0M1717 742h0M1466 738h0M1909 658h0M1850 715h0M1377 542h0M1877 660h0M1359 666h0M1465 630h0M1773 769h0M1269 663h0M1354 690h0M1827 695h0M1706 604h0M1329 627h0M1617 675h0M1467 701h0M1325 692h0M1322 683h0M1371 632h0M1273 720h0M1284 720h0M1681 730h0M1441 648h0M1958 614h0M1705 618h0M1265 703h0M1980 623h0M1866 665h0M1559 761h0M1468 659h0M1741 565h0M1957 701h0M1591 725h0M1324 609h0M1889 667h0M1975 717h0M1826 713h0M1767 644h0M1555 594h0M1305 738h0M1733 738h0M1901 731h0M1357 521h0M1271 758h0M1961 656h0M1979 728h0M1266 665h0M1504 771h0M1974 761h0M1834 722h0M1430 596h0M1390 654h0M1416 536h0M1737 647h0M1384 699h0M1231 618h0M1783 603h0M1818 648h0M1677 759h0M1352 646h0M1518 740h0M1335 695h0M1899 605h0M1245 605h0M1515 701h0M1930 734h0M1916 734h0M1983 666h0M1350 525h0M1686 567h0M1324 680h0M1648 729h0M1754 754h0M1740 751h0M1324 736h0M1501 672h0M1510 702h0M1225 678h0M1544 765h0M1834 585h0M1974 760h0M1574 753h0M1514 663h0M1888 741h0M1392 752h0M1715 712h0M1296 657h0M1473 753h0M1840 688h0M1847 704h0M1673 765h0M1526 748h0M1612 651h0M1239 752h0M1487 596h0M1422 761h0M1821 731h0M1767 677h0M1441 566h0M1935 678h0M1547 703h0M1487 744h0M1274 733h0M1667 691h0M1861 657h0M1791 693h0M1517 729h0M1576 607h0M1938 663h0M1883 667h0M1506 698h0M1899 692h0M1560 651h0M1442 725h0M1595 573h0M1356 668h0M1752 767h0M1748 722h0M1387 705h0M1962 653h0M1266 621h0M1780 556h0M1406 676h0M1871 714h0M1571 667h0M1856 738h0M1310 629h0M1247 766h0M1241 624h0M1716 663h0M1439 735h0M1561 702h0M1740 658h0M1571 628h0M1432 744h0M1784 653h0M1428 647h0M1294 748h0M1762 655h0M1233 604h0M1223 711h0M1841 686h0M1805 758h0M1634 699h0M1551 713h0M1966 710h0M1325 648h0M1381 652h0M1302 628h0M1400 688h0M1884 757h0M1863 642h0M1769 612h0M1877 734h0M1547 762h0M1755 733h0M1591 735h0M1832 711h0M1653 683h0M1774 607h0M1251 675h0M1684 555h0M1947 678h0M1539 652h0M1276 705h0M1426 632h0M1273 628h0M1560 631h0M1316 650h0M1543 743h0M1281 758h0M1658 584h0M1759 717h0M1399 747h0M1830 717h0M1525 747h0M1323 737h0M1876 766h0M1456 735h0M1695 670h0M1922 744h0M1613 735h0M1317 718h0M1810 636h0M1232 659h0M1579 700h0M1884 669h0M1374 602h0M1842 721h0M1246 717h0M1591 676h0M1965 562h0M1949 722h0M1927 728h0M1585 747h0M1347 771h0M1605 731h0M1317 725h0M1434 651h0M1318 766h0M1867 764h0M1874 733h0M1494 740h0M1397 761h0M1474 737h0M1581 759h0M1879 677h0M1965 691h0M1722 765h0M1587 750h0M1655 754h0M1856 731h0M1799 715h0M1964 724h0M1788 716h0M1276 673h0M1421 715h0M1365 635h0M1565 760h0M1942 679h0M1879 640h0M1304 646h0M1699 631h0M1270 637h0M1467 587h0M1792 668h0M1691 633h0M1658 738h0M1395 623h0M1515 725h0M1513 754h0M1228 619h0M1362 604h0M1303 741h0M1473 738h0M1548 625h0M1667 706h0M1797 742h0M1867 661h0M1852 734h0M1400 751h0M1762 591h0M1673 759h0M1383 690h0M1626 643h0M1596 637h0M1477 753h0M1760 772h0M1440 546h0M1703 743h0M1754 643h0M1924 749h0M1898 630h0M1567 617h0M1602 604h0M1837 694h0M1555 735h0M1582 770h0M1920 744h0M1946 664h0M1347 766h0M1932 721h0M1713 659h0M1678 715h0M1535 657h0M1902 739h0M1468 628h0M1233 737h0M1294 683h0M1412 650h0M1495 651h0M1428 538h0M1921 749h0M1294 651h0M1351 751h0M1686 618h0M1226 718h0M1398 752h0M1366 766h0M1321 677h0M1787 715h0M1696 746h0M1830 677h0M1525 763h0M1499 625h0M1270 735h0M1692 751h0M1651 613h0M1408 756h0M1333 725h0M1837 704h0M1901 727h0M1555 635h0M1899 637h0M1652 596h0M1318 739h0M1275 724h0M1352 772h0M1835 704h0M1863 646h0M1945 653h0M1498 723h0M1978 742h0M1570 748h0M1678 765h0M1229 598h0M1965 683h0M1978 723h0M1339 561h0M1893 626h0M1403 554h0M1491 677h0M1450 719h0M1912 543h0M1321 705h0M1462 610h0M1671 705h0M1469 682h0M1692 643h0M1508 728h0M1553 681h0M1984 681h0M1856 679h0M1939 746h0M1458 630h0M1507 652h0M1446 631h0M1400 619h0M1640 720h0M1870 708h0M1853 740h0M1633 717h0M1801 712h0M1555 707h0M1884 742h0M1738 702h0M1948 592h0M1368 669h0M1649 560h0M1815 555h0M1737 756h0M1497 695h0M1304 630h0M1237 705h0M1692 702h0M1610 717h0M1916 669h0M1790 727h0M1693 703h0M1442 641h0M1681 767h0M1515 634h0M1399 595h0M1560 656h0M1492 722h0M1632 733h0M1377 748h0M1549 721h0M1928 651h0M1846 640h0M1313 752h0M1243 725h0M1284 645h0M1486 600h0M1373 654h0M1571 738h0M1573 583h0M1978 694h0M1853 766h0M1773 761h0M1230 668h0M1905 572h0M1671 597h0M1847 756h0M1757 641h0M1685 632h0M1923 645h0M1687 659h0M1637 715h0M1850 658h0M1795 634h0M1680 713h0M1942 761h0M1557 762h0M1818 772h0M1782 763h0M1736 633h0M1644 768h0M1586 752h0M1569 692h0M1911 666h0M1445 729h0M1592 688h0M1244 696h0M1973 623h0M1738 591h0M1894 579h0M1948 670h0M1566 740h0M1530 740h0M1908 697h0M1984 564h0M1722 590h0M1681 767h0M1472 674h0M1496 759h0M1392 682h0M1253 718h0M1860 730h0M1560 693h0M1558 687h0M1284 688h0M1929 649h0M1530 550h0M1822 621h0M1463 543h0M1964 758h0M1611 746h0M1456 614h0M1592 563h0M1716 762h0M1477 602h0M1322 521h0M1767 759h0M1281 731h0M1660 609h0M1326 621h0M1785 765h0M1731 698h0M1435 671h0M1655 647h0M1734 759h0M1537 762h0M1330 758h0M1388 673h0M1446 679h0M1254 651h0M1803 701h0M1899 685h0M1529 733h0M1390 672h0M1771 711h0M1860 724h0M1917 589h0M1410 638h0M1224 687h0M1811 725h0M1677 716h0M1885 638h0M1972 769h0M1900 659h0M1268 731h0M1386 730h0M1375 757h0M1443 708h0M1804 760h0M1474 702h0M1967 708h0M1271 683h0M1263 551h0M1270 652h0M1778 689h0M1946 756h0M1473 771h0M1808 693h0M1900 743h0M1461 637h0M1906 751h0M1972 771h0M1533 719h0M1388 639h0M1316 753h0M1532 669h0M1407 591h0M1776 748h0M1688 727h0M1240 684h0M1280 697h0M1472 609h0M1835 729h0M1583 755h0M1380 638h0M1862 708h0M1830 716h0M1302 734h0M1378 679h0M1384 616h0M1330 758h0M1885 709h0M1385 632h0M1301 590h0M1357 656h0M1919 684h0M1380 667h0M1253 725h0M1406 728h0M1665 736h0M1850 640h0M1634 692h0M1971 687h0M1480 623h0M1750 738h0M1342 768h0M1934 702h0M1377 669h0M1922 762h0M1587 745h0M1726 669h0M1800 675h0M1696 718h0M1538 666h0M1298 588h0M1977 677h0M1683 639h0M1874 701h0M1908 697h0M1590 647h0M1874 648h0M1783 618h0M1923 741h0M1376 747h0M1678 715h0M1461 553h0M1234 654h0M1882 717h0M1385 662h0M1553 750h0M1819 603h0M1318 679h0M1620 627h0M1262 761h0M1597 771h0M1853 747h0M1676 695h0M1251 623h0M1668 577h0M1311 724h0M1324 761h0M1632 599h0M1846 728h0M1520 703h0M1900 655h0M1653 765h0M1970 737h0M1901 766h0M1551 770h0M1408 620h0M1285 615h0M1294 549h0M1773 744h0M1337 700h0M1327 634h0M1242 687h0M1560 751h0M1237 766h0M1624 640h0M1257 669h0M1457 647h0M1974 638h0M1747 577h0M1422 628h0M1488 665h0M1645 758h0M1526 535h0M1921 714h0M1630 665h0M1700 735h0M1609 668h0M1831 670h0M1909 710h0M1398 723h0M1691 689h0M1748 736h0M1817 713h0M1379 718h0M1882 700h0M1691 733h0M1769 699h0M1867 679h0M1610 641h0M1924 729h0M1967 630h0M1323 724h0M1640 585h0M1674 759h0M1335 721h0M1380 653h0M1407 698h0M1942 692h0M1747 670h0M1700 702h0M1533 710h0M1781 741h0M1510 695h0M1815 652h0M1459 718h0M1580 617h0M1393 705h0M1453 677h0M1788 595h0M1934 705h0M1712 597h0M1405 715h0M1856 567h0M1336 580h0M1308 583h0M1275 739h0M1513 740h0M1770 722h0M1964 682h0M1862 578h0M1246 666h0M1291 750h0M1538 666h0M1418 757h0M1779 630h0M1417 765h0M1327 757h0M1634 719h0M1938 649h0M1287 676h0M1786 626h0M1600 626h0M1954 694h0M1785 707h0M1668 682h0M1858 686h0M1744 622h0M1594 733h0M1527 644h0M1541 762h0M1741 768h0M1443 693h0M1662 628h0M1619 771h0M1672 637h0M1274 643h0M1916 756h0M1585 699h0M1498 652h0M1627 662h0M1967 740h0M1284 724h0M1444 635h0M1842 558h0M1811 678h0M1734 700h0M1859 723h0M1751 591h0M1730 694h0M1411 539h0M1877 731h0M1566 667h0M1664 689h0M1595 657h0M1600 648h0M1833 672h0M1831 736h0M1352 664h0M1520 658h0M1645 755h0M1892 718h0M1767 751h0M1260 724h0M1512 715h0M1538 726h0M1484 753h0M1896 747h0M1696 764h0M1398 708h0M1732 565h0M1812 689h0M1626 653h0M1841 768h0M1637 715h0M1865 738h0M1966 676h0M1663 661h0M1740 763h0M1611 637h0M1412 677h0M1381 721h0M1978 691h0M1413 683h0M1286 753h0M1906 730h0M1669 748h0M1257 742h0M1928 675h0M1919 729h0M1781 695h0M1965 560h0M1882 538h0M1752 747h0M1394 650h0M1359 704h0M1231 719h0M1978 759h0M1674 708h0M1517 637h0M1331 660h0M1779 701h0M1248 750h0M1602 645h0M1503 630h0M1591 671h0M1960 750h0M1684 695h0M1355 619h0M1632 667h0M1629 759h0M1685 764h0M1548 767h0M1679 655h0M1485 733h0M1397 669h0M1564 726h0M1688 703h0M1393 689h0M1493 653h0M1415 730h0M1976 689h0M1746 712h0M1265 679h0M1819 740h0M1745 619h0M1953 706h0M1980 701h0M1500 581h0M1649 761h0M1235 643h0M1357 659h0M1269 647h0M1953 627h0M1517 557h0M1869 755h0M1367 610h0M1492 597h0M1590 579h0M1285 705h0M1376 755h0M1941 715h0M1587 609h0M1349 584h0M1453 614h0M1557 689h0M1837 626h0M1589 739h0M1396 728h0M1690 612h0M1222 608h0M1767 695h0M1322 665h0M1253 754h0M1971 735h0M1634 657h0M1520 761h0M1824 718h0M1344 708h0M1354 694h0M1699 612h0M1366 649h0M1256 740h0M1926 769h0M1386 689h0M1720 563h0M1830 756h0M1590 757h0M1694 715h0M1586 634h0M1978 729h0M1240 649h0M1753 691h0M1636 640h0M1783 540h0M1798 723h0M1347 716h0M1253 760h0M1943 701h0M1623 643h0M1973 668h0M1503 675h0M1278 767h0M1773 654h0M1260 666h0M1576 523h0M1320 610h0M1567 651h0M1498 681h0M1512 665h0M1593 747h0M1402 693h0M1946 761h0M1971 695h0M1811 636h0M1704 647h0M1916 744h0M1361 730h0M1821 762h0M1665 648h0M1385 747h0M1793 750h0M1982 712h0M1427 714h0M1497 729h0M1335 686h0M1984 733h0M1817 638h0M1297 633h0M1296 704h0M1642 603h0M1943 717h0M1424 675h0M1433 543h0M1462 635h0M1951 724h0M1517 702h0M1465 552h0M1689 708h0M1780 680h0M1411 678h0M1352 735h0M1687 763h0M1489 760h0M1768 535h0M1479 750h0M1482 659h0M1250 590h0M1382 628h0M1305 749h0M1315 588h0M1749 717h0M1351 672h0M1265 662h0M1685 727h0M1569 712h0M1517 646h0M1507 762h0M1901 647h0M1953 649h0M1599 747h0M1567 725h0M1550 666h0M1419 752h0M1770 668h0M1314 765h0M1304 768h0M1727 651h0M1398 611h0M1410 716h0M1592 593h0M1475 720h0M1667 628h0M1766 648h0M1722 643h0M1703 742h0M1353 745h0M1780 633h0M1445 695h0M1450 716h0M1434 703h0M1249 651h0M1519 705h0M1266 626h0M1742 732h0M1281 701h0M1564 716h0M1420 684h0M1616 651h0M1662 729h0M1657 649h0M1500 691h0M1818 765h0M1612 630h0M1899 700h0M1597 705h0M1915 766h0M1468 637h0M1706 723h0M1812 695h0M1616 749h0M1395 595h0M1568 537h0M1264 658h0M1238 767h0M1438 637h0M1932 677h0M1692 738h0M1344 750h0M1680 575h0M1805 681h0M1734 653h0M1783 722h0M1796 752h0M1276 608h0M1334 635h0M1642 761h0M1686 704h0M1953 618h0M1473 740h0M1967 756h0M1831 767h0M1838 729h0M1376 668h0M1566 683h0M1400 654h0M1851 766h0M1221 608h0M1750 740h0M1587 560h0M1843 564h0M1854 723h0M1611 697h0M1843 765h0M1306 636h0M1271 739h0M1713 616h0M1499 527h0M1966 714h0M1346 717h0M1971 670h0M1223 639h0M1688 721h0M1920 608h0M1570 601h0M1854 683h0M1344 699h0M1250 755h0M1774 720h0M1859 731h0M1351 530h0M1460 616h0M1318 539h0M1274 599h0M1946 573h0M1391 756h0M1948 694h0M1949 702h0M1924 710h0M1254 718h0M1758 689h0M1952 566h0M1608 727h0M1735 736h0M1383 573h0M1331 604h0M1941 759h0M1253 731h0M1593 676h0M1592 608h0M1754 610h0M1568 537h0M1275 741h0M1273 767h0M1903 597h0M1533 634h0M1816 684h0M1586 761h0M1848 636h0M1633 675h0M1506 764h0M1222 763h0M1788 576h0M1485 672h0M1547 690h0M1221 704h0M1284 752h0M1876 633h0M1348 620h0M1973 662h0M1744 662h0M1228 735h0M1746 750h0M1962 762h0M1472 620h0M1383 647h0M1932 653h0M1713 706h0M1341 649h0M1315 753h0M1617 631h0M1544 732h0M1915 647h0M1279 708h0M1895 728h0M1939 560h0M1819 661h0M1839 725h0M1327 629h0M1805 685h0M1545 650h0M1941 569h0M1396 694h0M1224 649h0M1536 763h0M1275 683h0M1346 666h0M1683 718h0M1782 677h0M1514 547h0M1912 668h0M1498 592h0M1321 652h0M1442 528h0M1780 541h0M1806 731h0M1586 673h0M1819 673h0M1822 761h0M1677 720h0M1291 678h0M1568 609h0M1575 654h0M1331 701h0M1426 765h0M1294 719h0M1691 636h0M1801 708h0M1704 679h0M1698 612h0M1259 629h0M1959 738h0M1626 755h0M1504 651h0M1273 722h0M1342 767h0M1701 763h0M1885 631h0M1502 768h0M1499 585h0M1731 645h0M1918 764h0M1616 716h0M1699 698h0M1561 689h0M1966 730h0M1282 671h0M1312 756h0M1587 670h0M1880 631h0M1540 678h0M1980 613h0M1622 687h0M1983 733h0M1822 762h0M1710 740h0M1847 694h0M1338 737h0M1537 702h0M1886 717h0M1745 696h0M1567 750h0M1638 748h0M1566 734h0M1386 660h0M1569 713h0M1898 742h0M1292 646h0M1802 770h0M1223 587h0M1499 697h0M1873 765h0M1230 642h0M1598 759h0M1536 766h0M1318 765h0M1948 741h0M1976 602h0M1437 606h0M1831 584h0M1741 740h0M1422 671h0M1534 567h0M1725 700h0M1293 580h0M1931 743h0M1951 710h0M1926 759h0M1230 673h0M1595 620h0M1847 603h0M1239 660h0M1346 558h0M1604 643h0M1699 548h0M1929 593h0M1763 642h0M1346 723h0M1282 731h0M1372 732h0M1386 713h0M1701 701h0M1489 753h0M1735 727h0M1504 732h0M1320 721h0M1636 740h0M1957 761h0M1360 761h0M1311 754h0M1321 751h0M1754 625h0M1700 581h0M1829 738h0M1971 770h0M1277 653h0M1650 752h0M1663 618h0M1876 594h0M1890 720h0M1747 705h0M1759 672h0M1557 683h0M1222 628h0M1970 637h0M1726 725h0M1935 601h0M1491 666h0M1398 761h0M1425 677h0M1834 660h0M1363 619h0M1306 605h0M1940 574h0M1251 737h0M1640 706h0M1589 647h0M1550 736h0M1273 560h0M1645 614h0M1582 678h0M1257 635h0M1687 693h0M1801 700h0M1887 729h0M1352 721h0M1235 709h0M1599 658h0M1440 554h0M1679 603h0M1375 745h0M1320 633h0M1556 581h0M1859 646h0M1457 736h0M1324 548h0M1567 667h0M1582 647h0M1415 751h0M1360 600h0M1267 674h0M1416 693h0M1735 761h0M1417 749h0M1385 738h0M1246 632h0M1299 609h0M1744 702h0M1788 714h0M1708 707h0M1818 646h0M1928 653h0M1597 682h0M1590 756h0M1236 732h0M1566 761h0M1537 687h0M1667 716h0M1915 611h0M1861 711h0M1596 586h0M1640 609h0M1974 670h0M1356 592h0M1595 708h0M1899 686h0M1711 672h0M1711 684h0M1694 712h0M1923 730h0M1829 740h0M1469 687h0M1263 706h0M1578 690h0M1289 713h0M1241 740h0M1887 714h0M1518 628h0M1966 744h0M1258 737h0M1701 634h0M1730 766h0M1411 738h0M1829 656h0M1441 658h0M1779 671h0M1224 725h0M1930 742h0M1808 581h0M1849 601h0M1728 659h0M1926 595h0M1439 748h0M1587 714h0M1367 709h0M1691 621h0M1418 569h0M1972 710h0M1761 712h0M1250 741h0M1638 665h0M1694 695h0M1843 624h0M1411 639h0M1954 756h0M1731 659h0M1290 575h0M1822 703h0M1723 656h0M1400 729h0M1525 758h0M1574 754h0M1978 672h0M1713 711h0M1826 645h0M1254 746h0M1513 713h0M1273 540h0M1309 657h0M1338 758h0M1664 723h0M1278 744h0M1721 656h0M1863 674h0M1933 622h0M1646 635h0M1714 637h0M1305 632h0M1316 684h0M1836 620h0M1493 585h0M1539 651h0M1694 753h0M1785 636h0M1913 649h0M1812 653h0M1629 593h0M1670 677h0M1406 679h0M1471 721h0M1254 703h0M1820 685h0M1976 673h0M1803 657h0M1489 762h0M1476 768h0M1635 769h0M1917 663h0M1903 693h0M1874 552h0M1244 763h0M1594 569h0M1534 767h0M1363 698h0M1226 760h0M1522 733h0M1762 658h0M1780 642h0M1440 664h0M1255 716h0M1863 670h0M1372 729h0M1944 656h0M1584 523h0M1393 715h0M1428 763h0M1897 676h0M1743 675h0M1447 713h0M1706 699h0M1440 679h0M1943 680h0M1303 744h0M1814 686h0M1402 548h0M1380 742h0M1878 644h0M1812 747h0M1299 609h0M1321 683h0M1846 600h0M1293 660h0M1881 746h0M1384 733h0M1884 524h0M1702 660h0M1403 730h0M1875 736h0M1328 646h0M1572 582h0M1973 745h0M1517 674h0M1948 691h0M1933 714h0M1647 707h0M1940 684h0M1893 683h0M1227 646h0M1895 702h0M1964 735h0M1608 642h0M1984 641h0M1445 700h0M1528 713h0M1487 747h0M1868 616h0M1233 758h0M1494 567h0M1446 765h0M1305 672h0M1914 628h0M1246 681h0M1807 646h0M1647 685h0M1408 657h0M1805 663h0M1381 671h0M1660 613h0M1430 683h0M1506 638h0M1259 764h0M1459 689h0M1508 709h0M1444 658h0M1469 618h0M1891 653h0M1897 733h0M1483 756h0M1953 602h0M1384 676h0M1678 731h0M1379 730h0M1722 666h0M1246 625h0M1644 762h0M1573 598h0M1649 691h0M1634 626h0M1331 746h0M1681 616h0M1570 714h0M1446 688h0M1650 761h0M1269 731h0M1554 736h0M1946 757h0M1571 727h0M1634 731h0M1528 747h0M1672 718h0" stroke="#000" stroke-opacity="0.6" stroke-width="1.4" stroke-linecap="round" fill="none"/>
<path d="M1449 290h0M1653 132h0M1551 438h0M1366 269h0M1886 597h0M1662 571h0M1953 40h0M1972 644h0M1395 420h0M1823 598h0M1267 486h0M1646 69h0M1959 184h0M1406 679h0M1473 310h0M1740 404h0M1536 537h0M1272 360h0M1695 162h0M1903 261h0M1701 60h0M1423 31h0M1364 311h0M1867 66h0M1819 39h0M1283 633h0M1545 19h0M1613 613h0M1464 39h0M1495 755h0M1621 602h0M1346 325h0M1727 671h0M1844 511h0M1580 43h0M1456 174h0M1602 53h0M1390 577h0M1807 436h0M1881 706h0M1542 93h0M1452 441h0M1777 749h0M1242 312h0M1649 200h0M1820 259h0M1686 242h0M1780 642h0M1461 323h0M1794 127h0M1462 38h0M1679 358h0M1908 616h0M1397 754h0M1675 681h0M1295 150h0M1817 104h0M1724 9h0M1946 753h0M1461 25h0M1555 498h0M1603 116h0M1838 115h0M1509 451h0M1491 721h0M1382 158h0M1642 434h0M1679 724h0M1757 403h0M1527 163h0M1924 497h0M1313 205h0M1707 334h0M1422 294h0M1853 86h0M1944 703h0M1230 473h0M1297 347h0M1513 127h0M1331 532h0M1934 306h0M1278 163h0M1716 192h0M1239 101h0M1473 306h0M1933 701h0M1616 340h0M1252 135h0M1939 441h0M1536 426h0M1288 214h0M1749 267h0M1745 193h0M1295 27h0M1979 502h0M1885 251h0M1896 10h0M1690 254h0M1474 507h0M1831 511h0M1500 550h0M1616 438h0M1883 730h0M1911 366h0M1710 16h0M1431 17h0M1417 91h0M1323 149h0M1922 677h0M1824 73h0M1984 680h0M1905 133h0M1769 524h0M1471 356h0M1425 723h0M1230 96h0M1652 81h0M1436 87h0M1553 450h0M1223 407h0M1226 624h0M1684 568h0M1880 75h0M1427 533h0M1862 654h0M1261 80h0M1222 533h0M1277 24h0M1913 363h0M1580 635h0M1559 246h0M1879 621h0M1870 201h0M1420 75h0M1466 229h0M1672 137h0M1869 584h0M1591 131h0M1448 239h0M1918 627h0M1678 255h0M1234 544h0M1867 370h0M1907 318h0M1555 325h0M1376 399h0M1906 210h0M1968 429h0M1366 430h0M1414 208h0M1602 739h0M1819 643h0M1559 18h0M1723 208h0M1728 639h0M1362 553h0M1257 575h0M1651 176h0M1334 309h0M1705 385h0M1968 285h0M1345 665h0M1333 738h0M1648 324h0M1876 21h0M1927 735h0M1335 163h0M1929 330h0M1898 756h0M1849 752h0M1494 155h0M1808 346h0M1465 212h0M1819 702h0M1507 138h0M1825 249h0M1361 620h0M1568 424h0M1435 115h0M1502 649h0M1384 44h0M1445 556h0M1689 390h0M1603 267h0M1564 164h0M1745 431h0M1759 678h0M1623 689h0M1565 380h0M1409 408h0M1275 210h0M1449 259h0M1931 592h0M1912 377h0M1579 72h0M1558 263h0M1278 278h0M1704 103h0M1616 38h0M1810 669h0M1309 593h0M1842 333h0M1280 559h0M1451 648h0M1248 518h0M1767 58h0M1462 404h0M1317 94h0M1268 422h0M1618 250h0M1358 444h0M1576 632h0M1575 698h0M1818 68h0M1814 671h0M1535 261h0M1484 183h0M1637 219h0M1562 653h0M1965 567h0M1743 229h0M1351 539h0M1256 354h0M1545 671h0M1855 653h0M1416 477h0M1592 415h0M1268 123h0M1866 112h0M1472 540h0M1491 66h0M1236 646h0M1526 332h0M1672 605h0M1866 261h0M1895 314h0M1969 248h0M1873 535h0M1300 344h0M1805 593h0M1432 720h0M1527 681h0M1576 228h0M1866 504h0M1627 350h0M1472 34h0M1869 605h0M1234 681h0M1661 712h0M1584 489h0M1599 137h0M1247 543h0M1555 576h0M1797 578h0M1311 651h0M1740 555h0M1606 393h0M1288 477h0M1973 187h0M1723 111h0M1265 55h0M1413 255h0M1915 150h0M1752 393h0M1575 396h0M1718 438h0M1514 367h0M1627 174h0M1611 248h0M1975 136h0M1898 171h0M1371 696h0M1628 323h0M1409 584h0M1565 253h0M1531 231h0M1772 486h0M1330 610h0M1440 40h0M1244 396h0M1684 544h0M1348 419h0M1722 683h0M1787 60h0M1942 238h0M1902 560h0M1444 535h0M1576 575h0M1824 56h0M1473 683h0M1535 768h0M1564 530h0M1581 670h0M1904 81h0M1392 419h0M1580 54h0M1646 361h0M1531 674h0M1691 267h0M1901 280h0M1731 651h0M1284 165h0M1913 666h0M1908 150h0M1545 142h0M1875 223h0M1325 588h0M1703 596h0M1385 111h0M1289 399h0M1530 439h0M1640 436h0M1979 550h0M1472 715h0M1677 560h0M1902 663h0M1345 165h0M1456 648h0M1808 611h0M1907 269h0M1700 629h0M1531 479h0M1900 591h0M1464 301h0M1763 199h0M1759 363h0M1636 683h0M1531 515h0M1717 327h0M1586 55h0M1422 649h0M1811 556h0M1221 209h0M1831 742h0M1399 713h0M1387 170h0M1857 269h0M1324 166h0M1460 546h0M1647 626h0M1613 301h0M1304 247h0M1589 278h0M1325 228h0M1409 555h0M1868 220h0M1815 169h0M1753 301h0M1533 746h0M1852 609h0M1950 701h0M1665 305h0M1228 145h0M1277 460h0M1969 249h0M1704 753h0M1745 211h0M1931 508h0M1690 35h0M1627 13h0M1459 183h0M1749 346h0M1721 143h0M1231 547h0M1582 339h0M1265 369h0M1622 539h0M1782 539h0M1876 486h0M1591 706h0M1741 654h0M1759 633h0M1589 712h0M1947 413h0M1501 278h0M1914 170h0M1262 611h0M1276 747h0M1944 171h0M1683 101h0M1701 470h0M1384 178h0M1974 178h0M1854 589h0M1337 454h0M1752 240h0M1717 123h0M1647 516h0M1787 16h0M1778 746h0M1580 288h0M1297 699h0M1884 255h0M1940 604h0M1726 633h0M1821 222h0M1693 350h0M1906 397h0M1517 311h0M1899 378h0M1222 670h0M1677 375h0M1741 492h0M1438 189h0M1727 254h0M1371 151h0M1494 437h0M1564 113h0M1532 329h0M1510 564h0M1499 261h0M1896 647h0M1677 30h0M1379 310h0M1933 763h0M1826 241h0M1336 287h0M1796 739h0M1878 135h0M1250 166h0M1497 123h0M1558 140h0M1668 24h0M1923 283h0M1328 222h0M1389 416h0M1252 425h0M1345 247h0M1680 555h0M1417 190h0M1695 75h0M1620 19h0M1706 184h0M1732 441h0M1340 242h0M1756 545h0M1299 256h0M1663 48h0M1935 755h0M1871 136h0M1938 17h0M1423 632h0M1389 538h0M1267 183h0M1404 706h0M1977 221h0M1854 264h0M1593 438h0M1653 552h0M1422 475h0M1260 737h0M1964 696h0M1931 465h0M1266 137h0M1586 433h0M1364 415h0M1838 507h0M1403 40h0M1546 199h0M1365 60h0M1495 125h0M1815 476h0M1406 662h0M1373 458h0M1511 645h0M1673 555h0M1342 622h0M1264 312h0M1562 307h0M1499 189h0M1736 474h0M1832 340h0M1695 78h0M1696 417h0M1870 71h0M1658 565h0M1917 250h0M1235 266h0M1484 268h0M1710 598h0M1595 64h0M1331 310h0M1949 434h0M1474 731h0M1353 270h0M1337 670h0M1618 635h0M1456 17h0M1538 468h0M1548 604h0M1743 647h0M1528 713h0M1776 70h0M1583 707h0M1752 496h0M1978 127h0M1896 490h0M1813 544h0M1313 685h0M1551 576h0M1545 299h0M1375 490h0M1766 297h0M1463 153h0M1961 210h0M1617 656h0M1660 723h0M1637 699h0M1687 108h0M1542 361h0M1398 441h0M1583 770h0M1625 246h0M1749 469h0M1746 532h0M1238 380h0M1498 637h0M1965 547h0M1714 682h0M1787 365h0M1330 205h0M1735 490h0M1620 633h0M1875 634h0M1915 64h0M1543 729h0M1412 19h0M1859 245h0M1627 695h0M1257 739h0M1720 143h0M1637 199h0M1705 765h0M1958 414h0M1442 677h0M1935 337h0M1554 389h0M1667 155h0M1578 54h0M1632 636h0M1738 239h0M1462 336h0M1259 24h0M1330 11h0M1908 429h0M1369 645h0M1516 156h0M1295 310h0M1791 473h0M1719 354h0M1443 649h0M1817 316h0M1521 271h0M1408 36h0M1633 739h0M1620 751h0M1353 122h0M1501 732h0M1692 191h0M1368 694h0M1383 545h0M1362 566h0M1362 288h0M1812 315h0M1449 405h0M1937 178h0M1393 144h0M1938 510h0M1479 202h0M1561 536h0M1964 412h0M1792 77h0M1896 456h0M1508 348h0M1279 400h0M1264 641h0M1371 597h0M1840 292h0M1566 191h0M1252 166h0M1523 459h0M1333 298h0M1279 109h0M1305 754h0M1290 165h0M1417 513h0M1253 384h0M1369 368h0M1319 64h0M1688 31h0M1232 342h0M1682 256h0M1905 139h0M1795 387h0M1866 392h0M1507 170h0M1609 680h0M1706 110h0M1615 623h0M1645 462h0M1789 166h0M1455 266h0M1270 116h0M1268 56h0M1636 651h0M1896 642h0M1934 121h0M1339 138h0M1483 389h0M1813 130h0M1610 348h0M1614 571h0M1424 609h0M1491 697h0M1233 556h0M1645 204h0M1228 93h0M1902 744h0M1439 367h0M1388 335h0M1793 470h0M1495 219h0M1969 450h0M1684 27h0M1977 664h0M1366 62h0M1390 656h0M1302 329h0M1589 183h0M1228 509h0M1536 749h0M1335 611h0M1515 420h0M1865 287h0M1934 611h0M1550 325h0M1296 587h0M1498 252h0M1512 82h0M1712 616h0M1243 345h0M1476 490h0M1848 142h0M1545 724h0M1567 34h0M1301 139h0M1577 202h0M1694 425h0M1521 763h0M1774 403h0M1555 202h0M1445 669h0M1638 280h0M1406 387h0M1875 14h0M1631 72h0M1418 741h0M1750 619h0M1744 512h0M1374 581h0M1367 390h0M1394 584h0M1497 609h0M1968 767h0M1270 190h0M1820 538h0M1782 594h0M1502 768h0M1888 329h0M1716 741h0M1501 25h0M1410 147h0M1657 376h0M1237 646h0M1743 227h0M1258 442h0M1331 417h0M1597 51h0M1282 226h0M1942 496h0M1536 103h0M1627 318h0M1535 564h0M1246 530h0M1390 712h0M1506 526h0M1545 508h0M1388 281h0M1812 496h0M1480 33h0M1620 131h0M1259 355h0M1307 721h0M1693 217h0M1963 186h0M1302 137h0M1984 467h0M1229 333h0M1859 611h0M1223 208h0M1736 606h0M1852 165h0M1631 425h0M1649 668h0M1418 404h0M1495 479h0M1932 705h0M1422 255h0M1505 663h0M1713 746h0M1608 499h0M1231 336h0M1816 252h0M1942 435h0M1403 15h0M1515 56h0M1768 395h0M1488 380h0M1613 70h0M1287 288h0M1784 139h0M1853 221h0M1737 483h0M1342 152h0M1650 682h0M1948 377h0M1907 32h0M1744 360h0M1643 52h0M1795 200h0M1360 567h0M1693 371h0M1476 479h0M1632 323h0M1740 45h0M1475 358h0M1832 767h0M1420 275h0M1321 693h0M1332 465h0M1329 647h0M1414 229h0M1821 199h0M1849 338h0M1305 226h0M1630 42h0M1761 23h0M1491 712h0M1672 442h0M1665 79h0M1867 476h0M1424 459h0M1900 602h0M1485 200h0M1378 521h0M1688 308h0M1363 266h0M1423 449h0M1375 724h0M1530 164h0M1321 532h0M1649 93h0M1901 433h0M1860 386h0M1675 721h0M1949 555h0M1369 266h0M1707 437h0M1895 250h0M1572 433h0M1518 746h0M1269 285h0M1238 38h0M1898 67h0M1588 40h0M1349 589h0M1372 490h0M1410 31h0M1832 22h0M1421 623h0M1354 573h0M1703 577h0M1608 521h0M1303 650h0M1721 56h0M1631 235h0M1704 702h0M1650 199h0M1267 282h0M1550 360h0M1447 253h0M1328 26h0M1716 654h0M1247 557h0M1723 254h0M1265 457h0M1343 687h0M1730 254h0M1659 120h0M1617 79h0M1678 548h0M1476 451h0M1435 45h0M1977 51h0M1727 437h0M1636 495h0M1799 150h0M1847 346h0M1276 57h0M1761 256h0M1333 487h0M1372 225h0M1556 626h0M1732 37h0M1240 343h0M1431 128h0M1506 50h0M1563 375h0M1735 379h0M1337 251h0M1323 293h0M1335 113h0M1271 764h0M1354 501h0M1276 77h0M1886 390h0M1294 676h0M1971 126h0M1530 328h0M1315 565h0M1340 610h0M1819 275h0M1280 678h0M1693 568h0M1295 108h0M1725 543h0M1636 442h0M1900 602h0M1885 703h0M1915 639h0M1346 98h0M1649 645h0M1782 707h0M1436 615h0M1703 450h0M1605 491h0M1463 306h0M1971 253h0M1836 460h0M1741 346h0M1719 255h0M1267 363h0M1265 57h0M1318 520h0M1689 100h0M1707 22h0M1454 687h0M1902 767h0M1322 135h0M1277 98h0M1532 478h0M1426 469h0M1928 518h0M1847 70h0M1537 522h0M1765 561h0M1276 192h0M1832 656h0M1779 10h0M1667 627h0M1980 700h0M1874 559h0M1316 251h0M1281 211h0M1927 723h0M1373 719h0M1819 632h0M1396 87h0M1744 659h0M1262 90h0M1229 385h0M1464 579h0M1436 414h0M1581 475h0M1898 33h0M1969 243h0M1791 448h0M1786 396h0M1503 310h0M1780 594h0M1348 607h0M1913 226h0M1560 729h0M1345 415h0M1600 435h0M1630 107h0M1504 99h0M1689 650h0M1333 719h0M1328 208h0M1349 747h0M1703 213h0M1542 749h0M1227 560h0M1787 468h0M1430 629h0M1746 59h0M1262 656h0M1339 605h0M1223 407h0M1676 487h0M1872 136h0M1698 734h0M1725 592h0M1829 696h0M1380 618h0M1320 239h0M1315 239h0M1576 128h0M1500 638h0M1906 473h0M1321 373h0M1388 62h0M1673 545h0M1619 524h0M1525 231h0M1480 590h0M1784 16h0M1263 332h0M1361 93h0M1261 724h0M1542 273h0M1584 452h0M1296 42h0M1404 464h0M1547 236h0M1767 511h0M1883 584h0M1918 655h0M1289 375h0M1700 627h0M1641 155h0M1933 100h0M1254 742h0M1908 149h0M1369 512h0M1829 335h0M1726 81h0M1294 609h0M1313 258h0M1503 663h0M1594 539h0M1349 585h0M1883 53h0M1805 115h0M1874 391h0M1295 425h0M1334 61h0M1753 468h0M1456 423h0M1297 289h0M1661 597h0M1560 389h0M1262 197h0M1818 271h0M1252 637h0M1836 495h0M1515 502h0M1841 755h0M1319 320h0M1546 546h0M1511 130h0M1685 729h0M1447 370h0M1746 227h0M1767 131h0M1853 168h0M1815 257h0M1614 708h0M1929 694h0M1891 210h0M1952 413h0M1515 562h0M1767 739h0M1936 12h0M1944 273h0M1435 542h0M1467 545h0M1741 208h0M1956 515h0M1805 447h0M1329 673h0M1556 226h0M1908 43h0M1286 485h0M1716 347h0M1901 546h0M1983 181h0M1791 273h0M1581 194h0M1708 457h0M1809 508h0M1443 331h0M1897 86h0M1528 414h0M1637 376h0M1262 624h0M1347 398h0M1846 536h0M1909 199h0M1918 601h0M1833 366h0M1960 678h0M1363 403h0M1503 518h0M1915 452h0M1642 506h0M1271 185h0M1732 625h0M1715 285h0M1668 489h0M1947 479h0M1571 661h0M1747 47h0M1773 134h0M1947 142h0M1640 508h0M1709 173h0M1445 357h0M1331 119h0M1876 741h0M1590 463h0M1819 225h0M1931 131h0M1573 680h0M1719 41h0M1926 223h0M1473 54h0M1914 673h0M1409 317h0M1562 147h0M1314 32h0M1394 16h0M1737 230h0M1678 659h0M1645 89h0M1350 586h0M1859 449h0M1861 634h0M1617 733h0M1258 219h0M1868 234h0M1787 662h0M1735 78h0M1686 694h0M1984 424h0M1688 249h0M1946 769h0M1693 495h0M1426 681h0M1901 704h0M1902 538h0M1281 451h0M1674 259h0M1773 506h0M1705 619h0M1442 439h0M1319 415h0M1445 600h0M1346 311h0M1637 316h0M1373 112h0M1968 391h0M1813 233h0M1958 332h0M1848 132h0M1665 246h0M1427 427h0M1958 378h0M1860 185h0M1446 578h0M1896 402h0M1809 17h0M1937 78h0M1359 408h0M1267 594h0M1433 745h0M1317 89h0M1390 765h0M1366 753h0M1954 743h0M1490 296h0M1336 613h0M1542 60h0M1956 732h0M1403 28h0M1564 119h0M1463 212h0M1442 530h0M1394 290h0M1336 147h0M1760 86h0M1390 377h0M1266 428h0M1392 732h0M1855 661h0M1564 166h0M1362 265h0M1944 633h0M1897 24h0M1744 228h0M1923 751h0M1662 589h0M1916 283h0M1462 151h0M1912 169h0M1285 772h0M1416 528h0M1815 759h0M1548 88h0M1832 512h0M1384 172h0M1651 453h0M1914 296h0M1855 453h0M1930 644h0M1313 515h0M1855 609h0M1690 730h0M1501 617h0M1544 444h0M1978 670h0M1609 213h0M1831 175h0M1977 11h0M1734 479h0M1975 761h0M1229 310h0M1713 303h0M1777 34h0M1901 579h0M1230 137h0M1862 121h0M1865 619h0M1900 478h0M1914 313h0M1800 465h0M1396 217h0M1315 696h0M1776 289h0M1932 99h0M1275 257h0M1601 688h0M1456 312h0M1716 90h0M1736 35h0M1488 253h0M1930 63h0M1598 425h0M1456 88h0M1938 345h0M1701 12h0M1271 738h0M1468 99h0M1266 438h0M1716 700h0M1518 228h0M1455 731h0M1679 144h0M1770 442h0M1816 660h0M1336 264h0M1882 307h0M1280 663h0M1550 382h0M1222 711h0M1562 387h0M1342 374h0M1768 388h0M1927 73h0M1521 620h0M1688 471h0M1915 378h0M1314 282h0M1885 432h0M1571 273h0M1814 241h0M1236 548h0M1515 248h0M1762 766h0M1959 102h0M1740 103h0M1522 381h0M1435 227h0M1640 655h0M1924 592h0M1806 342h0M1505 307h0M1696 664h0M1605 680h0M1486 199h0M1653 113h0M1914 640h0M1781 70h0M1650 203h0M1472 49h0M1969 23h0M1223 30h0M1296 498h0M1430 289h0M1798 86h0M1567 500h0M1962 250h0M1272 407h0M1599 462h0M1391 763h0M1969 708h0M1643 84h0M1714 590h0M1321 206h0M1825 182h0M1565 399h0M1893 721h0M1895 259h0M1265 51h0M1865 272h0M1781 765h0M1390 119h0M1535 420h0M1534 537h0M1671 243h0M1974 572h0M1855 179h0M1743 175h0M1580 601h0M1909 136h0M1456 172h0M1421 385h0M1489 131h0M1973 176h0M1656 82h0M1840 393h0M1467 539h0M1808 324h0M1743 238h0M1576 57h0M1864 110h0M1389 444h0M1742 114h0M1702 330h0M1415 736h0M1983 486h0M1867 636h0M1228 446h0M1410 223h0M1980 749h0M1960 360h0M1488 240h0M1731 449h0M1453 694h0M1807 715h0M1488 133h0M1351 334h0M1640 722h0M1473 33h0M1428 308h0M1890 82h0M1526 91h0M1526 261h0M1920 519h0M1882 308h0M1342 621h0M1771 703h0M1585 347h0M1499 767h0M1501 717h0M1768 26h0M1932 181h0M1934 676h0M1229 507h0M1494 145h0M1691 606h0M1970 184h0M1747 202h0M1708 626h0M1438 385h0M1243 375h0M1265 418h0M1882 374h0M1562 390h0M1281 388h0M1627 691h0M1318 703h0M1919 761h0M1357 19h0M1407 686h0M1571 512h0M1894 201h0M1593 642h0M1945 44h0M1292 36h0M1648 227h0M1497 585h0M1406 746h0M1714 538h0M1912 703h0M1568 643h0M1267 513h0M1966 425h0M1394 535h0M1490 502h0M1515 231h0M1936 466h0M1613 286h0M1544 328h0M1876 355h0M1775 523h0M1391 382h0M1550 280h0M1422 118h0M1705 446h0M1504 336h0M1227 183h0M1346 44h0M1772 651h0M1843 700h0M1973 181h0M1941 150h0M1468 380h0M1233 241h0M1900 98h0M1907 201h0M1469 671h0M1470 585h0M1282 601h0M1372 552h0M1382 698h0M1284 516h0M1942 574h0M1774 582h0M1972 646h0M1719 360h0M1854 89h0M1308 511h0M1221 475h0M1728 498h0M1726 356h0M1605 58h0M1679 501h0M1860 493h0M1809 723h0M1679 130h0M1409 532h0M1684 628h0M1775 447h0M1945 366h0M1589 168h0M1958 203h0M1959 273h0M1756 81h0M1228 681h0M1812 350h0M1354 68h0M1427 37h0M1236 550h0M1952 691h0M1926 112h0M1390 415h0M1826 724h0M1496 401h0M1547 229h0M1566 90h0M1761 312h0M1263 661h0M1867 48h0M1525 722h0M1709 597h0M1725 762h0M1836 341h0M1476 98h0M1973 49h0M1285 679h0M1266 743h0M1960 589h0M1458 194h0M1439 627h0M1756 450h0M1633 174h0M1233 312h0M1866 768h0M1322 638h0M1464 557h0M1650 367h0M1978 413h0M1863 398h0M1527 145h0M1858 158h0M1447 411h0M1478 249h0M1956 197h0M1644 638h0M1486 603h0M1342 284h0M1458 671h0M1702 736h0M1312 75h0M1293 271h0M1951 497h0M1245 321h0M1567 650h0M1763 87h0M1841 367h0M1592 65h0M1452 651h0M1754 340h0M1496 87h0M1557 696h0M1745 732h0M1360 270h0M1883 429h0M1788 15h0M1433 714h0M1559 218h0M1875 180h0M1339 399h0M1798 47h0M1272 294h0M1817 382h0M1270 125h0M1923 177h0M1901 698h0M1723 508h0M1812 150h0M1885 110h0M1924 507h0M1411 742h0M1557 389h0M1289 22h0M1958 32h0M1371 99h0M1501 219h0M1366 757h0M1545 611h0M1382 245h0M1821 386h0M1352 711h0M1732 389h0M1469 114h0M1412 246h0M1689 421h0M1468 710h0M1719 34h0M1791 27h0M1451 429h0M1231 373h0M1934 302h0M1412 45h0M1933 495h0M1584 380h0M1914 96h0M1714 632h0M1739 576h0M1253 442h0M1391 96h0M1233 140h0M1509 17h0M1462 599h0M1377 137h0M1474 302h0M1598 294h0M1967 640h0M1589 544h0M1417 771h0M1705 108h0M1829 765h0M1579 380h0M1947 718h0M1853 119h0M1279 717h0M1495 320h0M1733 312h0M1344 262h0M1370 330h0M1513 219h0M1226 634h0M1438 97h0M1298 331h0M1759 529h0M1288 558h0M1711 622h0M1906 490h0M1804 655h0M1780 396h0M1333 108h0M1316 23h0M1295 279h0M1797 479h0M1895 554h0M1867 358h0M1294 152h0M1405 728h0M1677 536h0M1268 743h0M1512 712h0M1430 181h0M1551 100h0M1567 27h0M1254 126h0M1830 35h0M1357 66h0M1665 746h0M1306 656h0M1520 265h0M1358 82h0M1400 355h0M1271 203h0M1405 607h0M1769 59h0M1887 296h0M1488 412h0M1276 509h0M1353 585h0M1276 26h0M1649 292h0M1882 105h0M1306 177h0M1524 212h0M1543 140h0M1404 159h0M1694 356h0M1766 103h0M1604 409h0M1390 294h0M1911 539h0M1310 369h0M1913 399h0M1694 536h0M1790 551h0M1497 421h0M1925 501h0M1770 351h0M1520 740h0M1420 65h0M1487 229h0M1351 314h0M1710 34h0M1704 365h0M1848 224h0M1898 231h0M1802 630h0M1686 631h0M1904 362h0M1510 82h0M1281 183h0M1882 447h0M1898 728h0M1754 140h0M1836 287h0M1597 351h0M1813 284h0M1485 349h0M1503 172h0M1341 116h0M1779 532h0M1433 764h0M1620 469h0M1599 679h0M1347 221h0M1535 502h0M1251 706h0M1484 445h0M1851 641h0M1910 544h0M1732 150h0M1304 580h0M1838 555h0M1782 661h0M1374 688h0M1403 361h0M1853 474h0M1865 292h0M1912 178h0M1386 527h0M1647 485h0M1595 738h0M1373 111h0M1902 33h0M1639 133h0M1278 714h0M1875 38h0M1599 30h0M1529 481h0M1815 49h0M1400 601h0M1841 771h0M1316 340h0M1364 341h0M1239 88h0M1929 610h0M1236 164h0M1927 270h0M1324 330h0M1852 579h0M1808 608h0M1743 551h0M1261 615h0M1301 29h0M1236 581h0M1302 246h0M1721 380h0M1654 497h0M1637 192h0M1295 466h0M1527 242h0M1613 673h0M1881 210h0M1898 60h0M1656 26h0M1270 316h0M1470 629h0M1913 437h0M1819 401h0M1921 586h0M1881 86h0M1240 464h0M1226 472h0M1330 120h0M1221 395h0M1859 549h0M1921 258h0M1557 180h0M1295 88h0M1873 440h0M1855 646h0M1807 212h0M1538 720h0M1788 136h0M1973 388h0M1759 466h0M1459 536h0M1454 14h0M1627 652h0M1570 206h0M1808 154h0M1829 708h0M1636 682h0M1832 281h0M1243 203h0M1306 561h0M1934 179h0M1915 621h0M1646 92h0M1356 594h0M1459 166h0M1224 241h0M1700 99h0M1269 676h0M1688 535h0M1946 667h0M1598 681h0M1781 147h0M1729 305h0M1582 680h0M1852 551h0M1590 765h0M1335 380h0M1983 618h0M1976 108h0M1932 632h0M1887 250h0M1796 478h0M1675 571h0M1387 336h0M1760 477h0M1412 425h0M1250 428h0M1874 137h0M1643 88h0M1334 51h0M1882 554h0M1828 183h0M1602 264h0M1851 18h0M1650 766h0M1611 253h0M1982 503h0M1528 538h0M1697 692h0M1671 69h0M1650 757h0M1771 294h0M1687 274h0M1352 87h0M1359 444h0M1970 452h0M1564 307h0M1321 400h0M1580 327h0M1303 608h0M1877 626h0M1341 484h0M1639 701h0M1489 484h0M1683 327h0M1933 332h0M1714 275h0M1576 751h0M1976 710h0M1319 312h0M1682 159h0M1662 383h0M1654 637h0M1268 310h0M1514 571h0M1230 59h0M1829 515h0M1828 163h0M1715 310h0M1543 681h0M1570 233h0M1408 654h0M1716 116h0M1464 227h0M1598 199h0M1323 538h0M1590 597h0M1951 317h0M1596 468h0M1689 352h0M1890 50h0M1603 445h0M1222 379h0M1369 757h0M1575 653h0M1467 105h0M1815 114h0M1548 695h0M1843 683h0M1966 75h0M1911 702h0M1358 425h0M1520 17h0M1249 158h0M1326 483h0M1292 757h0M1279 532h0M1939 110h0M1698 180h0M1401 205h0M1516 184h0M1333 688h0M1383 274h0M1645 770h0M1380 503h0M1963 316h0M1300 237h0M1684 666h0M1497 599h0M1505 405h0M1246 411h0M1539 81h0M1491 431h0M1564 409h0M1876 771h0M1390 768h0M1631 684h0M1300 94h0M1411 243h0M1813 151h0M1979 415h0M1260 665h0M1265 291h0M1813 37h0M1769 110h0M1296 470h0M1518 77h0M1532 151h0M1778 741h0M1308 173h0M1784 66h0M1504 63h0M1288 491h0M1278 579h0M1450 687h0M1331 636h0M1695 163h0M1904 350h0M1649 729h0M1875 489h0M1354 499h0M1788 65h0M1744 579h0M1824 359h0M1850 578h0M1976 333h0M1742 484h0M1262 772h0M1522 430h0M1530 443h0M1339 521h0M1821 337h0M1304 222h0M1701 444h0M1676 376h0M1778 652h0M1662 231h0M1326 192h0M1656 482h0M1292 641h0M1468 305h0M1877 548h0M1539 105h0M1766 221h0M1833 300h0M1782 182h0M1462 730h0M1410 620h0M1792 155h0M1629 226h0M1891 709h0M1907 517h0M1797 634h0M1836 283h0M1853 156h0M1504 258h0M1546 626h0M1843 98h0M1478 155h0M1474 320h0M1718 524h0M1584 180h0M1897 714h0M1451 740h0M1834 289h0M1626 133h0M1690 639h0M1458 154h0M1284 575h0M1731 713h0M1795 115h0M1784 405h0M1782 675h0M1528 646h0M1560 12h0M1759 443h0M1913 475h0M1743 663h0M1942 730h0M1779 763h0M1832 28h0M1710 686h0M1393 562h0M1704 513h0M1468 432h0M1463 168h0M1478 537h0M1641 426h0M1754 211h0M1869 390h0M1515 378h0M1609 157h0M1446 692h0M1402 129h0M1788 338h0M1944 175h0M1306 607h0M1619 592h0M1566 695h0M1477 611h0M1315 419h0M1925 703h0M1657 147h0M1882 547h0M1793 385h0M1795 136h0M1977 108h0M1599 627h0M1762 468h0M1765 736h0M1468 89h0M1432 151h0M1757 120h0M1948 94h0M1745 360h0M1263 526h0M1595 86h0M1770 76h0M1414 531h0M1334 737h0M1463 207h0M1959 533h0M1347 639h0M1385 203h0M1770 307h0M1350 733h0M1956 376h0M1333 13h0M1731 25h0M1665 457h0M1800 307h0M1450 522h0M1894 345h0M1477 87h0M1974 555h0M1669 18h0M1952 110h0M1601 123h0M1558 392h0M1308 545h0M1225 763h0M1603 299h0M1381 581h0M1947 490h0M1804 163h0M1388 315h0M1307 258h0M1243 628h0M1288 175h0M1658 476h0M1297 89h0M1369 229h0M1616 378h0M1229 536h0M1772 35h0M1874 545h0M1683 424h0M1510 13h0M1777 339h0M1329 339h0M1456 163h0M1803 114h0M1979 654h0M1623 168h0M1237 262h0M1535 441h0M1388 648h0M1961 212h0M1804 632h0M1614 349h0M1473 126h0M1893 303h0M1286 128h0M1508 382h0M1587 720h0M1640 39h0M1959 686h0M1437 330h0M1920 364h0M1439 711h0M1318 76h0M1680 463h0M1825 585h0M1239 397h0M1452 481h0M1563 225h0M1388 153h0M1898 25h0M1746 733h0M1540 108h0M1394 458h0M1815 682h0M1331 440h0M1914 506h0M1776 256h0M1459 22h0M1968 368h0M1812 364h0M1401 346h0M1390 410h0M1959 287h0M1661 439h0M1912 231h0M1433 299h0M1294 372h0M1966 76h0M1450 320h0M1628 51h0M1695 240h0M1375 736h0M1539 191h0M1302 301h0M1258 33h0M1465 446h0M1292 301h0M1808 583h0M1399 567h0M1658 389h0M1659 325h0M1570 294h0M1915 396h0M1870 291h0M1223 706h0M1399 451h0M1504 147h0M1976 611h0M1701 565h0M1527 644h0M1676 643h0M1682 136h0M1267 698h0M1643 395h0M1470 302h0M1253 287h0M1622 56h0M1671 231h0M1893 763h0M1610 423h0M1603 346h0M1553 314h0M1547 381h0M1698 425h0M1246 143h0M1247 206h0M1477 487h0M1730 166h0M1295 237h0M1243 530h0M1318 163h0M1610 415h0M1761 474h0M1663 429h0M1970 293h0M1478 327h0M1616 714h0M1942 342h0M1838 694h0M1369 216h0M1848 222h0M1961 118h0M1911 639h0M1678 101h0M1911 209h0M1943 760h0M1470 573h0M1855 517h0M1266 69h0M1575 608h0M1874 240h0M1677 423h0M1383 436h0M1562 98h0M1857 165h0M1957 272h0M1233 311h0M1306 234h0M1361 110h0M1222 392h0M1427 522h0M1841 345h0M1335 698h0M1268 146h0M1978 253h0M1659 142h0M1467 536h0M1951 442h0M1346 419h0M1731 684h0M1847 353h0M1280 692h0M1533 709h0M1724 771h0M1383 219h0M1718 96h0M1970 473h0M1470 358h0M1704 766h0M1316 451h0M1833 719h0M1230 496h0M1465 720h0M1272 567h0M1543 560h0M1441 456h0M1399 168h0M1705 428h0M1382 626h0M1373 154h0M1271 438h0M1345 214h0M1542 292h0M1679 110h0M1503 245h0M1451 49h0M1515 390h0M1936 151h0M1854 64h0M1704 716h0M1689 726h0M1775 257h0M1775 343h0M1681 632h0M1368 694h0M1329 158h0M1777 314h0M1883 417h0M1512 736h0M1559 349h0M1784 561h0M1346 650h0M1568 130h0M1737 709h0M1903 181h0M1871 144h0M1672 193h0M1250 453h0M1893 704h0M1231 259h0M1940 264h0M1294 607h0M1237 211h0M1537 368h0M1473 499h0M1687 500h0M1557 455h0M1277 285h0M1481 118h0M1477 137h0M1394 480h0M1789 344h0M1958 523h0M1386 478h0M1538 68h0M1738 760h0M1240 564h0M1962 500h0M1877 512h0M1355 175h0M1543 747h0M1963 720h0M1909 41h0M1586 249h0M1827 26h0M1770 378h0M1937 744h0M1354 178h0M1794 328h0M1335 425h0M1550 663h0M1678 361h0M1815 58h0M1896 272h0M1639 341h0M1614 264h0M1338 500h0M1642 267h0M1762 15h0M1719 253h0M1512 149h0M1576 541h0M1798 33h0M1348 212h0M1262 580h0M1422 175h0M1392 550h0M1360 579h0M1488 390h0M1262 750h0M1725 232h0M1496 378h0M1880 88h0M1823 511h0M1246 312h0M1617 88h0M1648 469h0M1545 542h0M1489 563h0M1266 213h0M1696 638h0M1644 363h0M1723 732h0M1928 22h0M1577 384h0M1543 309h0M1631 358h0M1642 359h0M1297 230h0M1665 511h0M1648 771h0M1388 542h0M1567 64h0M1798 371h0M1502 207h0M1939 136h0M1856 682h0M1277 678h0M1984 308h0M1297 211h0M1896 658h0M1636 137h0M1887 222h0M1894 323h0M1613 106h0M1981 615h0M1820 678h0M1302 585h0M1584 229h0M1567 97h0M1838 256h0M1818 522h0M1225 640h0M1491 751h0M1835 157h0M1396 656h0M1226 373h0M1316 234h0M1950 170h0M1912 429h0M1347 148h0M1449 763h0M1326 77h0M1438 623h0M1512 209h0M1284 388h0M1472 235h0M1315 459h0M1760 147h0M1657 674h0M1938 417h0M1490 565h0M1676 240h0M1633 604h0M1689 442h0M1396 720h0M1374 274h0M1532 656h0M1984 481h0M1457 360h0M1888 707h0M1971 461h0M1702 673h0M1363 256h0M1339 413h0M1465 175h0M1896 480h0M1948 63h0M1442 550h0M1557 765h0M1945 505h0M1527 145h0M1909 439h0M1982 429h0M1234 653h0M1787 534h0M1956 333h0M1505 547h0M1897 124h0M1683 554h0M1406 57h0M1830 151h0M1371 197h0M1735 481h0M1647 305h0M1544 597h0M1722 218h0M1949 653h0M1284 56h0M1310 221h0M1931 62h0M1760 435h0M1338 751h0M1606 244h0M1919 203h0M1695 531h0M1270 759h0M1404 537h0M1548 287h0M1314 585h0M1268 273h0M1891 543h0M1823 631h0M1407 14h0M1694 504h0M1497 121h0M1346 768h0M1354 654h0M1862 338h0M1585 707h0M1257 182h0M1774 228h0M1346 189h0M1479 675h0M1615 306h0M1328 665h0M1649 769h0M1825 367h0M1723 442h0M1865 413h0M1455 737h0M1468 708h0M1438 32h0M1872 623h0M1871 65h0M1442 100h0M1960 674h0M1591 556h0M1699 183h0M1411 464h0M1832 52h0M1429 336h0M1753 578h0M1706 760h0M1730 529h0M1531 21h0M1355 687h0M1758 523h0M1783 690h0M1836 524h0M1404 218h0M1539 535h0M1812 610h0M1455 192h0M1785 103h0M1541 296h0M1375 614h0M1967 659h0M1620 688h0M1546 386h0M1933 679h0M1556 672h0M1335 477h0M1838 118h0M1812 123h0M1258 659h0M1572 388h0M1494 759h0M1982 602h0M1774 661h0M1978 343h0M1978 533h0M1336 636h0M1417 706h0M1624 453h0M1527 92h0M1570 718h0M1307 399h0M1681 607h0M1674 688h0M1550 365h0M1273 193h0M1760 232h0M1913 712h0M1414 165h0M1745 288h0M1724 75h0M1299 210h0M1921 507h0M1293 449h0M1949 472h0M1889 678h0M1758 596h0M1594 614h0M1269 347h0M1849 237h0M1848 102h0M1580 332h0M1434 91h0M1309 111h0M1448 574h0M1708 13h0M1928 93h0M1712 474h0M1367 414h0M1507 763h0M1466 733h0M1536 383h0M1413 623h0M1694 223h0M1903 185h0M1584 384h0M1881 273h0M1533 137h0M1706 64h0M1484 321h0M1660 150h0M1387 32h0M1719 458h0M1556 160h0M1394 466h0M1492 580h0M1314 180h0M1684 505h0M1382 27h0M1637 31h0M1750 18h0M1738 478h0M1647 512h0M1908 361h0M1512 519h0M1300 403h0M1584 422h0M1692 35h0M1828 512h0M1262 506h0M1876 161h0M1614 416h0M1475 275h0M1792 695h0M1330 126h0M1480 49h0M1685 264h0M1256 642h0M1344 383h0M1751 644h0M1759 173h0M1288 376h0M1363 643h0M1416 214h0M1608 711h0M1853 524h0M1385 55h0M1709 273h0M1939 364h0M1472 511h0M1415 249h0M1307 74h0M1236 590h0M1948 241h0M1745 400h0M1797 309h0M1660 114h0M1846 642h0M1951 677h0M1319 391h0M1951 194h0M1838 601h0M1781 52h0M1700 288h0M1557 142h0M1832 652h0M1467 494h0M1269 146h0M1651 238h0M1371 324h0M1361 264h0M1304 381h0M1957 696h0M1751 262h0M1440 351h0M1355 549h0M1454 56h0M1413 295h0M1926 392h0M1830 188h0M1445 195h0M1841 251h0M1860 506h0M1392 222h0M1272 623h0M1755 391h0M1912 149h0M1510 632h0M1560 547h0M1370 141h0M1607 769h0M1383 351h0M1776 220h0M1258 405h0M1577 523h0M1960 743h0M1516 677h0M1895 755h0M1447 582h0M1819 657h0M1781 519h0M1616 237h0M1859 546h0M1503 219h0M1682 626h0M1434 446h0M1394 413h0M1806 381h0M1236 714h0M1576 321h0M1486 97h0M1796 125h0M1757 234h0M1905 581h0M1438 715h0M1592 455h0M1266 327h0M1616 279h0M1417 187h0M1705 225h0M1463 344h0M1531 552h0M1942 331h0M1979 731h0M1432 360h0M1652 86h0M1332 717h0M1695 628h0M1974 459h0M1788 383h0M1681 745h0M1393 153h0M1324 485h0M1605 292h0M1581 542h0M1955 651h0M1612 698h0M1391 326h0M1795 163h0M1786 46h0M1671 427h0M1533 51h0M1810 203h0M1900 588h0M1682 159h0M1660 673h0M1392 505h0M1779 449h0M1983 583h0M1521 567h0M1524 765h0M1649 75h0M1656 94h0M1517 293h0M1516 8h0M1955 260h0M1751 243h0M1922 277h0M1958 462h0M1824 660h0M1255 339h0M1463 122h0M1229 39h0M1590 216h0M1541 344h0M1298 379h0M1616 162h0M1227 59h0M1727 614h0M1252 523h0M1455 231h0M1503 738h0M1379 160h0M1794 275h0M1812 423h0M1304 120h0M1425 528h0M1409 449h0M1768 122h0M1368 631h0M1305 410h0M1292 432h0M1590 58h0M1340 736h0M1940 206h0M1434 664h0M1755 452h0M1534 43h0M1625 356h0M1706 382h0M1811 174h0M1490 80h0M1618 22h0M1396 704h0M1628 487h0M1924 159h0M1470 612h0M1739 259h0M1320 85h0M1378 423h0M1954 105h0M1620 534h0M1405 642h0M1664 736h0M1881 276h0M1707 275h0M1575 341h0M1827 350h0M1274 667h0M1533 66h0M1528 159h0M1333 613h0M1893 161h0M1735 446h0M1640 635h0M1564 669h0M1788 760h0M1455 366h0M1620 423h0M1427 297h0M1891 178h0M1624 149h0M1406 26h0M1230 296h0M1787 559h0M1929 40h0M1937 106h0M1580 317h0M1326 26h0M1438 488h0M1365 683h0M1876 688h0M1326 244h0M1526 628h0M1545 354h0M1612 691h0M1552 293h0M1874 524h0M1739 648h0M1773 26h0M1324 730h0M1336 593h0M1446 267h0M1555 331h0M1501 642h0M1903 449h0M1966 367h0M1666 22h0M1418 543h0M1363 582h0M1847 770h0M1969 481h0M1400 740h0M1843 447h0M1969 596h0M1813 465h0M1741 182h0M1336 261h0M1979 543h0M1934 260h0M1776 44h0M1671 410h0M1489 432h0M1559 608h0M1823 731h0M1274 561h0M1441 504h0M1785 632h0M1813 139h0M1339 276h0M1337 99h0M1610 686h0M1868 555h0M1873 58h0M1586 670h0M1566 51h0M1447 673h0M1747 280h0M1412 554h0M1899 229h0M1410 63h0M1822 33h0M1424 678h0M1519 27h0M1714 413h0M1757 629h0M1571 758h0M1536 444h0M1937 288h0M1679 241h0M1419 695h0M1588 597h0M1302 599h0M1530 164h0M1503 377h0M1795 236h0M1908 237h0M1314 764h0M1340 171h0M1902 431h0M1712 100h0M1586 406h0M1327 342h0M1543 484h0M1785 320h0M1514 639h0M1421 222h0M1466 758h0M1734 544h0M1578 574h0M1332 171h0M1966 68h0M1721 638h0M1380 618h0M1539 178h0M1232 696h0M1273 282h0M1608 401h0M1983 115h0M1479 472h0M1321 22h0M1854 94h0M1885 159h0M1379 183h0M1395 231h0M1515 301h0M1535 72h0M1503 198h0M1805 124h0M1772 394h0M1591 419h0M1707 191h0M1790 144h0M1735 96h0M1613 223h0M1416 350h0M1567 437h0M1451 376h0M1852 548h0M1436 699h0M1900 104h0M1796 373h0M1303 325h0M1534 605h0M1357 736h0M1306 66h0M1438 261h0M1283 466h0M1977 119h0M1394 486h0M1840 533h0M1397 323h0M1937 498h0M1559 744h0M1807 484h0M1912 447h0M1420 450h0M1533 314h0M1438 316h0M1882 28h0M1491 30h0M1838 299h0M1644 220h0M1237 691h0M1442 356h0M1294 522h0M1809 284h0M1630 174h0M1555 170h0M1941 115h0M1561 122h0M1852 172h0M1548 513h0M1674 497h0M1744 32h0M1277 652h0M1875 642h0M1254 160h0M1902 41h0M1410 137h0M1757 323h0M1786 441h0M1800 148h0M1241 516h0M1633 513h0M1725 329h0M1899 31h0M1716 619h0M1775 527h0M1962 77h0M1508 154h0M1549 618h0M1584 518h0M1973 53h0M1644 655h0M1327 229h0M1477 684h0M1608 216h0M1390 88h0M1657 391h0M1471 768h0M1352 163h0M1291 243h0M1405 194h0M1779 598h0M1790 652h0M1951 259h0M1905 80h0M1294 377h0M1479 284h0M1889 157h0M1972 67h0M1970 521h0M1224 90h0M1502 21h0M1589 422h0M1278 266h0M1783 236h0M1675 471h0M1862 539h0M1230 36h0M1498 218h0M1651 283h0M1891 235h0M1960 530h0M1760 449h0M1241 768h0M1974 313h0M1670 435h0M1777 365h0M1676 70h0M1969 451h0M1493 100h0M1272 495h0M1956 489h0M1712 272h0M1626 454h0M1519 267h0M1903 125h0M1945 445h0M1895 78h0M1923 740h0M1966 463h0M1691 161h0M1903 444h0M1458 420h0M1911 475h0M1342 25h0M1682 142h0M1982 374h0M1287 713h0M1281 374h0M1738 746h0M1924 738h0M1522 661h0M1626 755h0M1457 298h0M1923 146h0M1681 403h0M1498 378h0M1396 611h0M1554 503h0M1840 70h0M1689 353h0M1538 733h0M1510 745h0M1406 456h0M1382 424h0M1854 606h0M1515 237h0M1587 502h0M1542 258h0M1591 290h0M1533 362h0M1736 604h0M1412 360h0M1642 444h0M1467 379h0M1623 356h0M1713 448h0M1654 352h0M1498 387h0M1708 628h0M1559 241h0M1583 349h0M1669 472h0M1781 742h0M1490 269h0M1683 417h0M1824 769h0M1721 296h0M1585 488h0M1597 292h0M1734 548h0M1559 340h0M1775 512h0M1904 243h0M1575 235h0M1670 527h0M1480 449h0M1481 373h0M1766 709h0M1673 404h0M1610 298h0M1928 388h0M1650 418h0M1290 673h0M1471 694h0M1532 486h0M1586 309h0M1497 428h0M1560 404h0M1642 420h0M1668 534h0M1551 649h0M1436 349h0M1354 495h0M1392 238h0M1636 392h0M1655 674h0M1617 300h0M1583 274h0M1236 726h0M1594 416h0M1471 385h0M1614 471h0M1609 472h0M1657 496h0M1552 200h0M1657 459h0M1491 261h0M1320 363h0M1833 463h0M1529 264h0M1507 409h0M1617 551h0M1526 344h0M1714 508h0M1662 448h0M1547 379h0M1338 606h0M1254 223h0M1576 422h0M1658 258h0M1596 367h0M1762 337h0M1444 248h0M1398 344h0M1603 295h0M1419 157h0M1464 508h0M1386 672h0M1703 443h0M1853 180h0M1558 415h0M1463 183h0M1563 229h0M1588 425h0M1434 212h0M1618 505h0M1874 741h0M1453 308h0M1580 520h0M1639 499h0M1690 417h0M1629 463h0M1697 475h0M1536 237h0M1806 452h0M1895 231h0M1538 509h0M1721 499h0M1662 611h0M1595 468h0M1444 350h0M1612 411h0M1443 234h0M1767 569h0M1467 201h0M1524 302h0M1597 479h0M1654 445h0M1666 373h0M1451 262h0M1289 166h0M1491 312h0M1570 321h0M1380 70h0M1609 301h0M1518 267h0M1615 523h0M1491 305h0M1333 648h0M1659 418h0M1313 337h0M1513 377h0M1511 361h0M1541 421h0M1249 26h0M1771 455h0M1551 293h0M1531 371h0M1553 255h0M1542 542h0M1520 302h0M1768 311h0M1764 576h0M1943 708h0M1559 232h0M1605 406h0M1604 395h0M1500 267h0M1475 91h0M1633 393h0M1638 434h0M1323 188h0M1664 346h0M1639 530h0M1850 275h0M1637 401h0M1466 305h0M1547 419h0M1719 442h0M1711 521h0M1689 423h0M1614 326h0M1755 87h0M1657 394h0M1603 320h0M1367 733h0M1535 280h0M1455 146h0M1535 233h0M1273 153h0M1751 533h0M1514 261h0M1411 313h0M1690 358h0M1759 408h0M1908 710h0M1523 253h0M1460 341h0M1902 255h0M1438 236h0M1549 316h0M1515 306h0M1495 243h0M1732 322h0M1478 219h0M1516 324h0M1527 511h0M1603 287h0M1534 280h0M1698 399h0M1358 379h0M1786 491h0M1404 263h0M1381 345h0M1475 458h0M1824 338h0M1927 698h0M1485 207h0M1605 91h0M1555 285h0M1463 280h0M1853 411h0M1313 320h0M1636 509h0M1492 248h0M1700 353h0M1619 364h0M1656 444h0M1619 544h0M1418 233h0M1607 518h0M1616 526h0M1710 434h0M1641 510h0M1624 509h0M1618 414h0M1802 576h0M1634 489h0M1702 309h0M1226 660h0M1928 642h0M1465 291h0M1571 326h0M1931 748h0M1507 265h0M1521 297h0M1581 382h0M1764 661h0M1802 641h0M1357 730h0M1643 553h0M1353 178h0M1607 284h0M1672 406h0M1851 242h0M1623 366h0M1485 368h0M1430 206h0M1630 510h0M1583 544h0M1471 350h0M1419 234h0M1579 363h0M1936 769h0M1655 387h0M1619 378h0M1784 323h0M1548 211h0M1479 312h0M1633 370h0M1413 671h0M1640 411h0M1542 321h0M1341 714h0M1288 251h0M1736 443h0M1629 344h0M1518 355h0M1746 433h0M1542 436h0M1628 487h0M1472 258h0M1698 345h0M1689 340h0M1588 244h0M1657 447h0M1656 344h0M1585 399h0M1578 293h0M1521 494h0M1484 84h0M1399 411h0M1473 433h0M1528 205h0M1818 538h0M1678 341h0M1577 440h0M1444 705h0M1492 420h0M1364 305h0M1839 260h0M1860 571h0M1573 359h0M1712 571h0M1735 438h0M1642 346h0M1441 436h0M1481 176h0M1721 726h0M1634 357h0M1618 400h0M1585 350h0M1352 385h0M1391 241h0M1621 421h0M1551 348h0M1446 232h0M1815 388h0M1832 544h0M1893 294h0M1730 375h0M1640 483h0M1595 471h0M1479 81h0M1720 492h0M1351 336h0M1337 551h0M1536 276h0M1492 437h0M1540 511h0M1401 266h0M1582 382h0M1507 357h0M1864 272h0M1791 530h0M1702 109h0M1605 407h0M1290 73h0M1618 430h0M1711 451h0M1376 273h0M1518 391h0M1759 476h0M1382 289h0M1554 422h0M1407 373h0M1665 302h0M1476 323h0M1693 411h0M1967 770h0M1614 318h0M1702 455h0M1546 232h0M1527 480h0M1538 261h0M1500 191h0M1668 413h0M1894 513h0M1586 227h0M1617 387h0M1498 387h0M1661 500h0M1883 721h0M1646 382h0M1843 599h0M1665 336h0M1545 268h0M1615 384h0M1577 407h0M1891 692h0M1649 287h0M1446 243h0M1956 697h0M1484 332h0M1521 111h0M1706 505h0M1467 280h0M1449 653h0M1567 246h0M1550 321h0M1843 661h0M1523 402h0M1405 317h0M1519 293h0M1838 759h0M1739 526h0M1438 204h0M1622 407h0M1580 389h0M1526 341h0M1487 177h0M1638 200h0M1918 580h0M1590 316h0M1400 321h0M1391 273h0M1503 194h0M1666 440h0M1615 525h0M1413 376h0M1744 499h0M1556 768h0M1640 334h0M1949 368h0M1567 374h0M1492 306h0M1688 349h0M1832 708h0M1662 431h0M1792 656h0M1682 382h0M1711 464h0M1654 355h0M1797 236h0M1660 383h0M1541 272h0M1638 618h0M1495 245h0M1687 328h0M1797 739h0M1574 284h0M1672 490h0M1509 139h0M1480 246h0M1562 477h0M1623 559h0M1789 517h0M1471 246h0M1380 320h0M1775 708h0M1818 535h0M1521 325h0M1760 566h0M1647 462h0M1340 135h0M1337 660h0M1631 372h0M1629 297h0M1428 363h0M1502 387h0M1671 771h0M1887 273h0M1416 138h0M1393 234h0M1241 752h0M1461 383h0M1568 430h0M1701 546h0M1577 408h0M1934 502h0M1465 249h0M1545 305h0M1504 401h0M1507 282h0M1728 219h0M1612 519h0M1530 405h0M1491 238h0M1700 396h0M1477 385h0M1533 677h0M1553 393h0M1735 456h0M1348 220h0M1520 371h0M1436 416h0M1486 397h0M1714 364h0M1468 219h0M1338 241h0M1405 307h0M1769 524h0M1755 561h0M1436 300h0M1464 337h0M1604 395h0M1872 598h0M1274 138h0M1704 532h0M1545 313h0M1539 356h0M1646 293h0M1522 336h0M1701 542h0M1682 402h0M1604 477h0M1579 488h0M1665 267h0M1438 177h0M1635 499h0M1392 247h0M1390 700h0M1564 304h0M1634 278h0M1604 273h0M1851 55h0M1816 632h0M1899 232h0M1775 358h0M1689 481h0M1605 272h0M1539 456h0M1475 301h0M1613 327h0M1765 135h0M1811 379h0M1480 301h0M1494 309h0M1396 650h0M1795 667h0M1701 439h0M1695 521h0M1906 480h0M1613 383h0M1425 217h0M1681 764h0M1831 392h0M1572 426h0M1687 474h0M1511 282h0M1789 529h0M1763 553h0M1685 726h0M1427 271h0M1625 437h0M1605 300h0M1637 648h0M1603 523h0M1715 437h0M1494 258h0M1811 497h0M1622 313h0M1701 353h0M1595 364h0M1420 307h0M1534 253h0M1516 209h0M1751 393h0M1500 334h0M1789 488h0M1458 202h0M1748 407h0M1481 444h0M1448 530h0M1657 379h0M1547 350h0M1850 654h0M1608 491h0M1525 435h0M1379 592h0M1836 27h0M1532 210h0M1547 433h0M1842 354h0M1625 490h0M1507 463h0M1630 373h0M1588 285h0M1559 486h0M1847 320h0M1421 675h0M1450 337h0M1756 602h0M1694 523h0M1657 393h0M1729 528h0M1404 332h0M1321 211h0M1521 433h0M1603 497h0M1583 475h0M1514 245h0M1679 500h0M1513 116h0M1316 220h0M1363 421h0M1507 214h0M1701 355h0M1634 448h0M1597 463h0M1702 401h0M1842 562h0M1554 420h0M1913 261h0M1578 418h0M1577 690h0M1743 597h0M1726 467h0M1664 498h0M1860 265h0M1462 342h0M1742 515h0M1825 370h0M1682 337h0M1695 544h0M1511 361h0M1457 198h0M1809 575h0M1488 740h0M1476 323h0M1744 396h0M1792 402h0M1480 729h0M1343 276h0M1457 377h0M1482 771h0M1721 440h0M1695 422h0M1510 500h0M1602 338h0M1676 369h0M1525 203h0M1434 279h0M1354 246h0M1470 327h0M1740 394h0M1286 118h0M1564 302h0M1507 450h0M1654 338h0M1579 459h0M1644 458h0M1544 257h0M1583 352h0M1556 395h0M1449 139h0M1477 333h0M1691 391h0M1462 244h0M1452 321h0M1572 394h0M1707 461h0M1627 394h0M1525 471h0M1698 453h0M1727 533h0M1539 353h0M1690 279h0M1477 318h0M1586 589h0M1572 429h0M1566 180h0M1238 727h0M1473 438h0M1733 382h0M1736 430h0M1913 267h0M1242 342h0M1787 712h0M1460 344h0M1771 497h0M1400 342h0M1692 399h0M1432 494h0M1374 297h0M1797 328h0M1552 364h0M1710 560h0M1701 354h0M1474 368h0M1739 470h0M1714 377h0M1738 492h0M1573 339h0M1689 544h0M1347 724h0M1701 392h0M1481 579h0M1804 461h0M1757 508h0M1494 423h0M1758 363h0M1374 427h0M1502 228h0M1806 379h0M1384 348h0M1484 378h0M1727 756h0M1734 639h0M1535 431h0M1703 561h0M1635 446h0M1567 358h0M1575 276h0M1519 333h0M1970 498h0M1339 287h0M1586 457h0M1872 233h0M1655 423h0M1253 627h0M1509 337h0M1827 423h0M1564 430h0M1675 322h0M1602 318h0M1692 593h0M1561 152h0M1756 481h0M1650 435h0M1660 523h0M1559 351h0M1434 377h0M1332 287h0M1356 194h0M1942 535h0M1437 298h0M1806 415h0M1733 420h0M1875 681h0M1545 395h0M1522 243h0M1897 288h0M1313 214h0M1510 421h0M1575 415h0M1885 743h0M1652 379h0M1593 292h0M1530 583h0M1286 341h0M1461 290h0M1978 562h0M1905 261h0M1749 419h0M1634 485h0M1678 383h0M1381 380h0M1880 279h0M1561 443h0M1376 276h0M1608 387h0M1518 572h0M1657 411h0M1859 258h0M1583 377h0M1874 273h0M1544 419h0M1910 731h0M1529 291h0M1685 523h0M1478 289h0M1731 416h0M1498 421h0M1459 287h0M1590 463h0M1548 393h0M1645 559h0M1565 309h0M1564 186h0M1429 303h0M1783 383h0M1461 188h0M1623 379h0M1473 159h0M1607 318h0M1717 326h0M1660 310h0M1707 505h0M1670 102h0M1513 197h0M1756 381h0M1496 323h0M1618 483h0M1421 210h0M1474 356h0M1593 333h0M1396 257h0M1748 245h0M1512 338h0M1413 206h0M1588 368h0M1518 383h0M1785 444h0M1623 348h0M1736 583h0M1515 478h0M1655 386h0M1546 753h0M1372 643h0M1719 497h0M1825 413h0M1406 659h0M1395 243h0M1551 314h0M1576 276h0M1569 408h0M1373 310h0M1594 432h0M1759 423h0M1695 354h0M1563 319h0M1454 319h0M1455 367h0M1908 411h0M1595 333h0M1670 519h0M1574 270h0M1502 197h0M1798 371h0M1316 642h0M1689 435h0M1656 513h0M1551 410h0M1493 242h0M1356 245h0M1874 287h0M1482 318h0M1590 438h0M1725 364h0M1619 510h0M1489 304h0M1493 378h0M1513 349h0M1626 333h0M1260 646h0M1454 407h0M1328 191h0M1458 293h0M1757 411h0M1564 309h0M1409 244h0M1391 273h0M1322 67h0M1600 311h0M1728 389h0M1473 533h0M1388 320h0M1242 471h0M1447 572h0M1643 418h0M1597 430h0M1698 351h0M1456 221h0M1610 355h0M1651 394h0M1566 362h0M1663 517h0M1307 383h0M1437 334h0M1674 275h0M1974 611h0M1584 214h0M1476 321h0M1573 494h0M1756 621h0M1584 31h0M1838 360h0M1657 365h0M1683 382h0M1778 456h0M1579 321h0M1679 472h0M1893 62h0M1496 292h0M1425 231h0M1539 289h0M1539 764h0M1538 437h0M1269 244h0M1805 532h0M1361 330h0M1608 485h0M1589 757h0M1900 263h0M1745 486h0M1621 195h0M1706 369h0M1766 480h0M1623 347h0M1275 619h0M1832 468h0M1627 358h0M1876 277h0M1628 450h0M1802 717h0M1556 218h0M1464 397h0M1463 280h0M1859 276h0M1565 275h0M1773 488h0M1336 290h0M1549 513h0M1851 276h0M1869 624h0M1442 272h0M1478 373h0M1920 571h0M1731 575h0M1718 502h0M1648 311h0M1782 386h0M1686 204h0M1455 264h0M1445 204h0M1600 682h0M1449 200h0M1689 312h0M1294 666h0M1471 369h0M1621 439h0M1600 442h0M1428 193h0M1460 741h0M1469 269h0M1606 333h0M1546 298h0M1474 537h0M1353 467h0M1485 421h0M1828 507h0M1516 386h0M1605 630h0M1444 207h0M1679 375h0M1572 353h0M1554 411h0M1766 383h0M1885 221h0M1521 243h0M1339 690h0M1732 422h0M1728 336h0M1435 267h0M1747 356h0M1597 301h0M1638 473h0M1253 45h0M1570 370h0M1449 317h0M1681 382h0M1789 591h0M1695 329h0M1548 217h0M1686 561h0M1874 242h0M1427 385h0M1812 487h0M1628 222h0M1557 325h0M1659 440h0M1758 342h0M1606 527h0M1787 311h0M1596 276h0M1785 558h0M1715 460h0M1527 309h0M1417 458h0M1331 197h0M1461 520h0M1734 446h0M1733 494h0M1545 750h0M1927 746h0M1459 265h0M1276 647h0M1874 259h0M1719 511h0M1762 350h0M1373 723h0M1855 758h0M1390 259h0M1348 747h0M1452 362h0M1679 360h0M1428 255h0M1540 275h0M1536 191h0M1496 388h0M1558 422h0M1603 309h0M1491 270h0M1574 300h0M1718 497h0M1599 312h0M1581 343h0M1565 425h0M1629 388h0M1307 167h0M1539 348h0M1422 527h0M1736 482h0M1633 219h0M1603 408h0M1790 742h0M1916 263h0M1487 247h0M1652 403h0M1372 379h0M1535 655h0M1500 296h0M1445 207h0M1658 353h0M1537 502h0M1488 394h0M1764 621h0M1690 409h0M1454 94h0M1636 476h0M1826 167h0M1481 289h0M1599 246h0M1433 344h0M1720 344h0M1521 285h0M1708 519h0M1720 680h0M1636 409h0M1633 484h0M1573 397h0M1651 308h0M1546 268h0M1553 287h0M1660 711h0M1480 331h0M1616 539h0M1565 221h0M1747 528h0M1531 429h0M1740 267h0M1633 373h0M1630 507h0M1560 445h0M1741 484h0M1838 624h0M1623 462h0M1560 385h0M1949 695h0M1483 587h0M1709 458h0M1813 581h0M1666 440h0M1652 199h0M1609 751h0M1558 260h0M1465 305h0M1406 346h0M1502 305h0M1597 274h0M1746 427h0M1657 396h0M1665 305h0M1426 371h0M1448 205h0M1806 387h0M1305 159h0M1474 367h0M1857 509h0M1535 699h0M1772 492h0M1440 421h0M1663 279h0M1660 396h0M1692 420h0M1773 77h0M1818 721h0M1447 55h0M1582 525h0M1907 259h0M1600 491h0M1358 303h0M1655 512h0M1283 460h0M1402 202h0M1573 314h0M1641 340h0M1627 470h0M1641 309h0M1599 475h0M1487 195h0M1566 230h0M1412 663h0M1479 234h0M1619 496h0M1251 161h0M1330 268h0M1511 330h0M1470 542h0M1576 344h0M1687 405h0M1808 419h0M1342 91h0M1607 356h0M1637 567h0M1367 299h0M1277 77h0M1288 164h0M1445 276h0M1739 452h0M1436 417h0M1440 129h0M1441 536h0M1491 417h0M1711 500h0M1568 488h0M1662 455h0M1342 418h0M1573 324h0M1711 530h0M1606 324h0M1474 242h0M1705 466h0M1824 84h0M1483 407h0M1557 469h0M1793 759h0M1726 545h0M1725 391h0M1375 438h0M1686 698h0M1449 359h0M1593 367h0M1445 523h0M1676 341h0M1429 672h0M1751 430h0M1366 113h0M1357 202h0M1346 308h0M1277 467h0M1420 386h0M1520 143h0M1335 403h0M1452 326h0M1909 234h0M1448 250h0M1553 412h0M1653 554h0M1506 348h0M1535 414h0M1498 488h0M1643 349h0M1528 760h0M1789 524h0M1598 692h0M1377 190h0M1604 414h0M1465 227h0M1856 207h0M1689 403h0M1756 438h0M1539 403h0M1723 499h0M1644 292h0M1683 734h0M1451 335h0M1694 496h0M1789 415h0M1650 396h0M1580 260h0M1568 356h0M1457 287h0M1627 354h0M1630 495h0M1430 245h0M1857 572h0M1481 315h0M1668 409h0M1363 710h0M1421 246h0M1498 304h0M1657 536h0M1605 447h0M1625 396h0M1346 219h0M1736 342h0M1725 546h0M1535 322h0M1423 209h0M1667 325h0M1408 251h0M1621 490h0M1702 209h0M1646 447h0M1553 405h0M1700 423h0M1829 390h0M1515 293h0M1542 417h0M1468 738h0M1470 691h0M1650 326h0M1516 161h0M1368 627h0M1438 353h0M1365 424h0M1555 146h0M1603 303h0M1723 507h0M1708 451h0M1695 384h0M1515 446h0M1488 158h0M1883 263h0M1472 321h0M1726 671h0M1496 760h0M1833 470h0M1504 403h0M1537 380h0M1534 324h0M1883 679h0M1805 635h0M1863 27h0M1470 267h0M1612 462h0M1774 504h0M1676 449h0M1665 589h0M1618 368h0M1424 321h0M1534 462h0M1374 155h0M1324 547h0M1263 108h0M1312 283h0M1609 491h0M1600 475h0M1505 361h0M1512 261h0M1530 370h0M1486 240h0M1647 519h0M1390 710h0M1895 261h0M1457 241h0M1390 430h0M1565 523h0M1608 253h0M1446 306h0M1625 407h0M1509 305h0M1489 163h0M1846 199h0M1656 341h0M1758 462h0M1475 761h0M1849 768h0M1443 206h0M1572 525h0M1586 277h0M1509 267h0M1673 393h0M1731 318h0M1515 402h0M1510 213h0M1332 198h0M1908 325h0M1736 414h0M1460 443h0M1679 502h0M1623 299h0M1588 198h0M1832 267h0M1575 316h0M1354 267h0M1606 348h0M1547 178h0M1526 257h0M1483 283h0M1314 161h0M1534 425h0M1847 8h0M1732 522h0M1452 279h0M1653 322h0M1575 436h0M1567 330h0M1770 505h0M1640 295h0M1457 218h0M1462 399h0M1591 329h0M1639 438h0M1505 452h0M1596 264h0M1573 601h0M1911 336h0M1551 211h0M1868 480h0M1729 418h0M1707 539h0M1683 496h0M1501 199h0M1484 415h0M1633 365h0M1642 428h0M1686 469h0M1842 498h0M1845 252h0M1554 544h0M1433 319h0M1781 430h0M1471 335h0M1615 327h0M1517 286h0M1870 267h0M1593 394h0M1544 401h0M1620 432h0M1688 295h0M1635 435h0M1568 446h0M1445 146h0M1942 720h0M1816 529h0M1593 496h0M1615 319h0M1582 259h0M1925 517h0M1299 173h0M1362 239h0M1600 406h0M1611 329h0M1442 340h0M1425 273h0M1506 276h0M1571 397h0M1537 329h0M1687 417h0M1225 759h0M1808 742h0M1554 371h0M1531 365h0M1331 268h0M1465 145h0M1567 480h0M1469 342h0M1265 599h0M1536 274h0M1456 141h0M1717 535h0M1522 242h0M1487 303h0M1749 404h0M1573 329h0M1645 472h0M1461 634h0M1802 443h0M1790 551h0M1599 522h0M1562 268h0M1810 612h0M1526 326h0M1472 450h0M1803 445h0M1375 247h0M1602 343h0M1608 620h0M1543 417h0M1239 759h0M1592 296h0M1608 429h0M1753 563h0M1448 283h0M1758 424h0M1607 388h0M1804 479h0M1459 305h0M1745 487h0M1688 411h0M1801 577h0M1651 473h0M1748 460h0M1342 752h0M1726 384h0M1464 213h0M1595 378h0M1588 344h0M1682 479h0M1520 631h0M1622 271h0M1419 232h0M1415 607h0M1312 61h0M1829 428h0M1528 290h0M1717 758h0M1393 196h0M1609 228h0M1627 476h0M1483 450h0M1646 526h0M1398 185h0M1336 105h0M1509 470h0M1441 243h0M1859 333h0M1599 470h0M1253 745h0M1656 460h0M1797 596h0M1582 385h0M1654 492h0M1517 291h0M1655 496h0M1667 680h0M1557 410h0M1625 339h0M1643 279h0M1232 596h0M1407 281h0M1516 385h0M1921 548h0M1566 388h0M1519 250h0M1534 685h0M1370 184h0M1656 145h0M1548 186h0M1512 402h0M1724 570h0M1309 664h0M1724 485h0M1571 445h0M1856 326h0M1569 699h0M1401 298h0M1638 365h0M1846 442h0M1602 324h0M1787 710h0M1438 710h0M1455 240h0M1766 533h0M1466 188h0M1510 235h0M1657 356h0M1831 663h0M1870 670h0M1375 302h0M1605 334h0M1566 715h0M1572 379h0M1599 292h0M1462 229h0M1668 535h0M1496 246h0M1586 267h0M1569 152h0M1358 284h0M1686 356h0M1526 355h0M1543 323h0M1613 307h0M1418 356h0M1554 463h0M1663 390h0M1531 298h0M1686 376h0M1613 471h0M1570 332h0M1908 771h0M1868 261h0M1524 249h0M1486 312h0M1459 275h0M1868 284h0M1580 462h0M1763 647h0M1639 703h0M1764 505h0M1483 181h0M1675 401h0M1552 334h0M1427 239h0M1423 772h0M1367 155h0M1564 263h0M1663 618h0M1504 336h0M1393 520h0M1844 555h0M1472 410h0M1538 420h0M1889 242h0M1380 169h0M1396 258h0M1888 279h0M1546 717h0M1887 569h0M1636 308h0M1245 732h0M1526 411h0M1561 468h0M1800 367h0M1576 537h0M1554 326h0M1957 767h0M1500 378h0M1654 355h0M1779 442h0M1877 259h0M1749 695h0M1861 731h0M1661 446h0M1508 446h0M1531 96h0M1499 177h0M1936 415h0M1555 253h0M1663 525h0M1595 350h0M1543 459h0M1466 271h0M1708 208h0M1554 465h0M1940 612h0M1588 410h0M1660 383h0M1564 441h0M1618 381h0M1576 140h0M1704 698h0M1671 291h0M1628 371h0M1614 456h0M1603 461h0M1463 331h0M1535 318h0M1411 267h0M1378 268h0M1458 378h0M1709 439h0M1730 403h0M1520 246h0M1396 279h0M1503 241h0M1701 493h0M1744 541h0M1871 509h0M1258 69h0M1548 352h0M1567 286h0M1775 427h0M1537 386h0M1499 279h0M1489 363h0M1824 561h0M1923 251h0M1704 440h0M1831 567h0M1855 656h0M1725 449h0M1652 453h0M1467 507h0M1657 479h0M1580 259h0M1649 231h0M1614 341h0M1492 217h0M1661 495h0M1584 501h0M1691 430h0M1582 381h0M1958 387h0M1443 312h0M1669 556h0M1617 363h0M1651 495h0M1607 470h0M1873 281h0M1838 253h0M1571 327h0M1481 491h0M1622 347h0M1694 506h0M1791 694h0M1708 518h0M1581 332h0M1603 452h0M1844 526h0M1658 38h0M1676 498h0M1754 450h0M1436 249h0M1443 665h0M1649 413h0M1545 452h0M1463 365h0M1496 638h0M1523 409h0M1442 247h0M1713 354h0M1475 367h0M1616 411h0M1575 464h0M1701 510h0M1612 765h0M1539 358h0M1868 568h0M1719 492h0M1541 481h0M1555 509h0M1533 208h0M1560 198h0M1623 659h0M1658 247h0M1607 360h0M1641 267h0M1548 532h0M1702 540h0M1649 391h0M1723 405h0M1474 315h0M1527 303h0M1665 441h0M1433 386h0M1389 596h0M1432 224h0M1512 492h0M1608 316h0M1656 385h0M1560 354h0M1533 344h0M1577 321h0M1767 331h0M1353 240h0M1652 367h0M1736 393h0M1707 416h0M1407 696h0M1392 429h0M1522 179h0M1563 238h0M1592 262h0M1529 422h0M1457 221h0M1239 769h0M1393 300h0M1666 355h0M1884 715h0M1417 227h0M1438 746h0M1519 411h0M1457 179h0M1597 640h0M1793 506h0M1583 313h0M1742 468h0M1681 396h0M1421 326h0M1566 305h0M1692 451h0M1800 637h0M1824 409h0M1637 624h0M1570 424h0M1406 178h0M1273 456h0M1548 251h0M1496 309h0M1701 291h0M1873 273h0M1618 436h0M1579 357h0M1699 718h0M1658 327h0M1872 580h0M1595 280h0M1482 341h0M1397 384h0M1431 458h0M1587 300h0M1462 251h0M1852 249h0M1382 246h0M1620 325h0M1472 300h0M1434 219h0M1578 407h0M1510 470h0M1435 486h0M1521 285h0M1408 230h0M1854 507h0M1594 340h0M1662 457h0M1583 272h0M1474 389h0M1410 345h0M1443 376h0M1717 204h0M1635 279h0M1537 283h0M1554 289h0M1569 379h0M1519 209h0M1523 249h0M1504 289h0M1411 264h0M1656 277h0M1596 488h0M1601 314h0M1689 495h0M1445 418h0M1670 472h0M1753 457h0M1721 328h0M1680 468h0M1864 274h0M1706 417h0M1615 361h0M1878 295h0M1720 496h0M1494 367h0M1525 666h0M1954 757h0M1458 386h0M1540 415h0M1692 388h0M1514 301h0M1764 520h0M1465 336h0M1758 308h0M1406 594h0M1521 458h0M1852 242h0M1530 176h0M1494 371h0M1372 269h0M1526 205h0M1543 275h0M1432 302h0M1517 48h0M1711 489h0M1665 352h0M1898 596h0M1290 279h0M1864 244h0M1829 205h0M1676 457h0M1702 364h0M1520 335h0M1573 329h0M1619 415h0M1611 377h0M1464 721h0M1415 212h0M1590 429h0M1729 355h0M1542 290h0M1746 93h0M1472 286h0M1477 268h0M1626 488h0M1681 512h0M1596 317h0M1477 400h0M1529 293h0M1827 402h0M1638 320h0M1368 386h0M1664 517h0M1713 290h0M1456 689h0M1294 198h0M1579 296h0M1865 640h0M1788 559h0M1724 469h0M1784 727h0M1527 417h0M1258 226h0M1859 610h0M1598 220h0M1622 195h0M1446 322h0M1588 373h0M1370 689h0M1662 284h0M1627 552h0M1459 268h0M1479 293h0M1718 299h0M1599 483h0M1435 279h0M1700 573h0M1776 525h0M1606 372h0M1479 326h0M1445 159h0M1503 203h0M1369 222h0M1718 460h0M1603 438h0M1583 394h0M1639 391h0M1315 59h0M1682 355h0M1650 291h0M1432 398h0M1767 247h0M1550 83h0M1648 536h0M1626 314h0M1430 410h0M1599 458h0M1620 471h0M1535 411h0M1684 360h0M1792 740h0M1686 460h0M1723 372h0M1428 375h0M1566 591h0M1772 439h0M1646 472h0M1490 462h0M1602 160h0M1332 177h0M1585 296h0M1427 466h0M1468 282h0M1558 412h0M1547 451h0M1636 577h0M1581 358h0M1481 336h0M1531 313h0M1642 491h0M1564 461h0M1719 398h0M1646 447h0M1519 460h0M1855 444h0M1862 306h0M1616 517h0M1790 768h0M1643 417h0M1572 454h0M1525 403h0M1576 440h0M1544 302h0M1690 274h0M1469 290h0M1619 311h0M1736 474h0M1979 738h0M1718 488h0M1733 439h0M1509 291h0M1478 268h0M1643 395h0M1868 256h0M1575 355h0M1418 352h0M1551 368h0M1591 229h0M1697 568h0M1707 646h0M1501 337h0M1884 250h0M1656 445h0M1801 467h0M1494 496h0M1539 437h0M1593 345h0M1226 154h0M1481 218h0M1573 415h0M1460 260h0M1405 414h0M1538 417h0M1508 323h0M1804 423h0M1653 590h0M1408 214h0M1816 411h0M1612 389h0M1595 284h0M1627 474h0M1847 366h0M1805 729h0M1895 734h0M1587 602h0M1787 656h0M1568 182h0M1577 415h0M1782 586h0M1581 327h0M1441 250h0M1680 270h0M1681 404h0M1715 439h0M1421 396h0M1838 568h0M1700 399h0M1498 228h0M1798 455h0M1688 356h0M1891 273h0M1703 437h0M1638 370h0M1879 261h0M1612 509h0M1933 167h0M1755 474h0M1698 460h0M1658 482h0M1534 306h0M1812 404h0M1868 246h0M1593 494h0M1858 261h0M1526 704h0M1625 464h0M1669 302h0M1658 352h0M1409 479h0M1466 190h0M1722 543h0M1542 410h0M1639 369h0M1533 456h0M1418 311h0M1794 606h0M1606 277h0M1521 248h0M1559 327h0M1630 434h0M1358 339h0M1581 332h0M1556 569h0M1473 167h0M1666 607h0M1429 226h0M1248 733h0M1505 243h0M1549 427h0M1555 548h0M1514 246h0M1649 380h0M1615 459h0M1682 353h0M1555 477h0M1284 209h0M1659 273h0M1486 276h0M1612 395h0M1586 354h0M1660 442h0M1800 421h0M1876 276h0M1340 226h0M1383 52h0M1651 470h0M1624 394h0M1729 378h0M1348 591h0M1663 537h0M1577 442h0M1401 467h0M1552 289h0M1412 708h0M1520 337h0M1567 192h0M1669 412h0M1641 412h0M1423 253h0M1572 460h0M1480 395h0M1746 455h0M1648 296h0M1901 267h0M1528 406h0M1607 317h0M1398 262h0M1405 351h0M1532 219h0M1523 442h0M1400 521h0M1689 388h0M1457 199h0M1512 466h0M1718 542h0M1327 747h0M1454 237h0M1797 389h0M1657 340h0M1441 206h0M1828 421h0M1504 526h0M1660 510h0M1664 351h0M1582 453h0M1636 324h0M1447 384h0M1433 288h0M1702 472h0M1356 475h0M1375 733h0M1499 238h0M1800 540h0M1677 360h0M1976 742h0M1599 314h0M1729 392h0M1486 249h0M1644 730h0M1525 397h0M1282 503h0M1555 302h0M1684 365h0M1676 291h0M1659 376h0M1815 409h0M1682 398h0M1694 514h0M1628 605h0M1395 179h0M1760 375h0M1517 234h0M1558 243h0M1756 419h0M1693 531h0M1549 376h0M1517 360h0M1589 286h0M1725 491h0M1802 555h0M1934 743h0M1483 145h0M1827 423h0M1923 406h0M1500 389h0M1650 369h0M1639 381h0M1416 372h0M1438 278h0M1553 295h0M1861 708h0M1606 434h0M1524 397h0M1549 254h0M1547 280h0M1799 511h0M1861 466h0M1404 284h0M1630 414h0M1577 439h0M1616 433h0M1522 266h0M1590 282h0M1242 383h0M1572 443h0M1950 327h0M1575 348h0M1594 366h0M1677 416h0M1767 717h0M1594 358h0M1696 463h0M1421 195h0M1747 455h0M1513 246h0M1492 766h0M1448 380h0M1590 391h0M1367 212h0M1747 432h0M1767 521h0M1864 247h0" stroke="#000" stroke-opacity="0.8" stroke-width="1.5" stroke-linecap="round" fill="none"/>
<path d="M1290 756h0M1605 121h0M1386 621h0M1362 458h0M1468 46h0M1739 590h0M1374 595h0M1441 418h0M1223 11h0M1362 472h0M1294 394h0M1824 737h0M1632 538h0M1830 207h0M1498 403h0M1762 35h0M1744 315h0M1422 571h0M1924 525h0M1934 32h0M1487 697h0M1334 166h0M1875 78h0M1640 510h0M1627 457h0M1832 104h0M1643 719h0M1232 157h0M1393 291h0M1727 438h0M1502 314h0M1656 494h0M1701 403h0M1750 162h0M1827 200h0M1233 439h0M1381 309h0M1527 502h0M1604 418h0M1342 331h0M1291 306h0M1785 184h0M1516 247h0M1520 113h0M1506 535h0M1565 17h0M1761 532h0M1669 506h0M1296 531h0M1950 522h0M1596 88h0M1275 132h0M1325 530h0M1834 149h0M1669 617h0M1950 557h0M1619 624h0M1835 521h0M1647 612h0M1443 694h0M1689 353h0M1301 371h0M1380 109h0M1706 27h0M1579 512h0M1620 659h0M1483 741h0M1849 289h0M1528 255h0M1907 152h0M1230 458h0M1532 149h0M1229 595h0M1467 69h0M1594 567h0M1829 536h0M1780 447h0M1742 343h0M1960 517h0M1330 455h0M1370 28h0M1761 744h0M1323 102h0M1515 334h0M1310 498h0M1430 268h0M1607 441h0M1795 211h0M1269 462h0M1981 564h0M1468 643h0M1644 162h0M1765 715h0M1536 742h0M1878 173h0M1978 15h0M1654 329h0M1372 396h0M1873 567h0M1680 508h0M1543 559h0M1273 259h0M1881 158h0M1290 426h0M1885 769h0M1515 392h0M1790 73h0M1713 589h0M1315 710h0M1774 710h0M1754 610h0M1823 23h0M1822 347h0M1495 550h0M1367 650h0M1557 754h0M1884 755h0M1321 243h0M1853 523h0M1262 540h0M1944 14h0M1843 41h0M1686 424h0M1293 491h0M1826 609h0M1920 127h0M1966 56h0M1964 117h0M1439 439h0M1611 432h0M1973 26h0M1354 218h0M1558 521h0M1673 476h0M1588 71h0M1366 531h0M1248 672h0M1806 612h0M1947 625h0M1939 702h0M1264 459h0M1698 719h0M1880 632h0M1505 610h0M1551 499h0M1716 109h0M1685 569h0M1382 155h0M1957 191h0M1637 326h0M1804 744h0M1809 179h0M1868 734h0M1297 708h0M1606 161h0M1769 439h0M1551 309h0M1968 451h0M1536 225h0M1758 218h0M1410 597h0M1908 65h0M1441 358h0M1524 361h0M1559 756h0M1752 769h0M1393 664h0M1659 162h0M1873 249h0M1237 453h0M1472 649h0M1865 444h0M1644 170h0M1822 405h0M1782 688h0M1402 423h0M1255 657h0M1722 248h0M1255 702h0M1525 633h0M1460 77h0M1831 86h0M1671 366h0M1745 244h0M1227 140h0M1423 563h0M1303 575h0M1450 510h0M1651 475h0M1856 584h0M1837 526h0M1625 734h0M1953 342h0M1740 721h0M1595 159h0M1407 656h0M1624 155h0M1444 719h0M1759 724h0M1769 142h0M1625 566h0M1401 761h0M1947 32h0M1288 656h0M1311 223h0M1814 198h0M1345 493h0M1709 141h0M1818 69h0M1768 751h0M1850 561h0M1753 626h0M1657 192h0M1433 39h0M1662 278h0M1548 495h0M1394 444h0M1482 437h0M1601 658h0M1809 330h0M1403 394h0M1559 240h0M1726 187h0M1506 54h0M1901 14h0M1264 457h0M1773 15h0M1295 356h0M1882 308h0M1688 48h0M1593 681h0M1455 462h0M1655 49h0M1403 402h0M1409 672h0M1338 319h0M1975 289h0M1522 351h0M1486 251h0M1550 262h0M1622 95h0M1704 584h0M1437 304h0M1241 217h0M1224 244h0M1765 128h0M1950 64h0M1224 101h0M1800 83h0M1267 527h0M1799 671h0M1715 457h0M1323 423h0M1609 297h0M1725 545h0M1415 503h0M1926 524h0M1544 505h0M1911 165h0M1521 493h0M1910 50h0M1734 510h0M1983 634h0M1627 351h0M1760 411h0M1464 15h0M1759 306h0M1415 553h0M1856 544h0M1978 766h0M1254 18h0M1720 682h0M1272 250h0M1665 132h0M1265 393h0M1261 273h0M1656 482h0M1957 179h0M1278 592h0M1958 96h0M1396 110h0M1428 596h0M1269 138h0M1521 634h0M1351 32h0M1714 492h0M1360 441h0M1983 461h0M1605 153h0M1601 116h0M1912 585h0M1647 297h0M1816 537h0M1615 117h0M1716 30h0M1284 191h0M1545 126h0M1607 695h0M1690 596h0M1629 320h0M1532 627h0M1673 478h0M1374 526h0M1420 87h0M1612 364h0M1830 429h0M1902 42h0M1851 155h0M1592 505h0M1937 147h0M1606 65h0M1790 542h0M1578 661h0M1755 661h0M1942 310h0M1805 579h0M1859 281h0M1823 497h0M1699 431h0M1708 572h0M1251 529h0M1673 106h0M1937 217h0M1640 712h0M1349 445h0M1280 667h0M1870 634h0M1464 70h0M1868 270h0M1534 354h0M1273 532h0M1390 672h0M1793 18h0M1329 149h0M1260 21h0M1435 338h0M1424 574h0M1930 726h0M1554 645h0M1975 13h0M1297 648h0M1963 535h0M1483 682h0M1522 177h0M1384 219h0M1665 580h0M1736 39h0M1618 657h0M1261 323h0M1455 11h0M1531 577h0M1835 602h0M1487 299h0M1656 453h0M1429 240h0M1926 665h0M1510 464h0M1499 641h0M1373 263h0M1342 573h0M1369 445h0M1863 619h0M1663 188h0M1904 606h0M1914 751h0M1557 348h0M1911 301h0M1455 754h0M1769 385h0M1907 459h0M1713 562h0M1637 430h0M1561 392h0M1239 337h0M1921 588h0M1556 459h0M1850 484h0M1270 372h0M1715 468h0M1397 762h0M1346 379h0M1352 118h0M1631 675h0M1552 666h0M1878 659h0M1431 251h0M1912 222h0M1521 626h0M1843 86h0M1456 592h0M1611 320h0M1567 213h0M1914 456h0M1229 666h0M1252 264h0M1377 622h0M1462 113h0M1792 218h0M1236 354h0M1389 106h0M1384 444h0M1924 513h0M1252 301h0M1416 585h0M1382 670h0M1411 275h0M1709 338h0M1745 559h0M1701 265h0M1323 223h0M1880 82h0M1452 722h0M1363 717h0M1496 264h0M1817 270h0M1809 460h0M1392 540h0M1267 756h0M1493 761h0M1763 741h0M1359 705h0M1710 736h0M1925 590h0M1312 25h0M1593 362h0M1614 21h0M1732 579h0M1755 586h0M1872 642h0M1532 596h0M1816 372h0M1378 243h0M1681 334h0M1583 657h0M1621 653h0M1940 294h0M1409 505h0M1646 666h0M1788 717h0M1655 53h0M1331 483h0M1745 281h0M1784 224h0M1504 262h0M1603 650h0M1335 306h0M1253 607h0M1666 429h0M1315 486h0M1508 160h0M1500 579h0M1456 434h0M1283 480h0M1258 688h0M1706 387h0M1709 450h0M1411 587h0M1414 131h0M1924 676h0M1956 751h0M1457 556h0M1708 674h0M1844 282h0M1617 750h0M1471 304h0M1384 145h0M1652 138h0M1520 379h0M1863 634h0M1596 373h0M1530 642h0M1558 620h0M1482 89h0M1623 433h0M1680 34h0M1470 548h0M1835 221h0M1271 171h0M1711 168h0M1662 727h0M1891 412h0M1246 387h0M1272 333h0M1348 234h0M1739 375h0M1458 536h0M1275 112h0M1745 236h0M1345 188h0M1237 487h0M1655 604h0M1623 669h0M1396 276h0M1376 77h0M1628 306h0M1958 95h0M1545 279h0M1903 586h0M1888 503h0M1428 594h0M1660 591h0M1272 140h0M1616 117h0M1391 501h0M1734 33h0M1629 689h0M1684 429h0M1888 33h0M1740 31h0M1789 506h0M1485 579h0M1545 492h0M1884 316h0M1812 48h0M1524 685h0M1698 259h0M1681 493h0M1413 328h0M1565 64h0M1624 587h0M1383 173h0M1640 373h0M1877 34h0M1719 467h0M1946 57h0M1317 232h0M1803 565h0M1565 684h0M1587 300h0M1888 72h0M1839 263h0M1600 18h0M1453 153h0M1252 631h0M1734 308h0M1738 517h0M1393 128h0M1372 502h0M1750 196h0M1950 512h0M1241 641h0M1355 332h0M1427 455h0M1827 643h0M1930 324h0M1573 771h0M1329 423h0M1420 600h0M1783 453h0M1664 363h0M1636 173h0M1252 30h0M1634 596h0M1375 57h0M1576 444h0M1469 460h0M1233 233h0M1474 49h0M1981 449h0M1381 226h0M1788 559h0M1968 635h0M1685 355h0M1607 287h0M1769 597h0M1536 540h0M1291 340h0M1773 541h0M1331 104h0M1697 705h0M1502 239h0M1735 511h0M1302 49h0M1545 407h0M1931 392h0M1943 317h0M1880 510h0M1745 308h0M1338 158h0M1534 737h0M1831 10h0M1439 104h0M1448 63h0M1251 25h0M1438 277h0M1507 251h0M1293 165h0M1440 394h0M1959 542h0M1775 246h0M1613 354h0M1350 421h0M1935 699h0M1656 471h0M1824 670h0M1272 554h0M1700 698h0M1310 339h0M1377 710h0M1983 383h0M1735 498h0M1690 205h0M1639 674h0M1463 591h0M1337 604h0M1455 494h0M1399 610h0M1888 258h0M1826 585h0M1357 289h0M1938 390h0M1589 687h0M1531 234h0M1254 28h0M1658 637h0M1370 62h0M1403 620h0M1900 96h0M1718 132h0M1494 148h0M1853 498h0M1585 315h0M1712 533h0M1799 329h0M1693 166h0M1278 535h0M1442 12h0M1361 97h0M1290 705h0M1865 94h0M1497 110h0M1841 614h0M1655 199h0M1466 199h0M1789 746h0M1470 150h0M1373 132h0M1549 456h0M1419 577h0M1467 731h0M1278 10h0M1425 291h0M1250 384h0M1283 592h0M1624 662h0M1419 79h0M1903 494h0M1263 580h0M1343 509h0M1375 726h0M1980 199h0M1250 346h0M1648 459h0M1383 17h0M1438 590h0M1778 206h0M1301 544h0M1856 83h0M1396 178h0M1586 370h0M1964 329h0M1342 695h0M1734 581h0M1743 126h0M1603 607h0M1871 566h0M1439 90h0M1571 444h0M1698 366h0M1544 731h0M1616 378h0M1902 504h0M1928 587h0M1861 325h0M1749 586h0M1616 279h0M1638 278h0M1365 25h0M1312 486h0M1647 669h0M1409 468h0M1552 540h0M1910 558h0M1829 706h0M1835 248h0M1387 534h0M1685 331h0M1742 324h0M1635 428h0M1479 38h0M1800 371h0M1872 562h0M1531 119h0M1555 377h0M1629 710h0M1281 196h0M1897 690h0M1680 466h0M1333 673h0M1853 482h0M1896 454h0M1388 88h0M1535 80h0M1389 122h0M1942 659h0M1641 122h0M1386 726h0M1559 552h0M1449 622h0M1309 264h0M1606 422h0M1297 262h0M1726 629h0M1704 496h0M1408 581h0M1596 473h0M1570 84h0M1399 141h0M1375 118h0M1553 249h0M1243 214h0M1590 210h0M1247 255h0M1871 709h0M1920 299h0M1644 298h0M1398 382h0M1378 79h0M1346 450h0M1820 213h0M1555 189h0M1659 735h0M1420 355h0M1751 155h0M1965 261h0M1498 762h0M1479 519h0M1415 229h0M1370 185h0M1280 370h0M1977 351h0M1791 527h0M1253 71h0M1768 767h0M1624 451h0M1283 50h0M1637 323h0M1787 481h0M1487 149h0M1684 633h0M1743 170h0M1298 537h0M1472 72h0M1445 583h0M1377 32h0M1436 278h0M1767 284h0M1373 670h0M1570 681h0M1736 268h0M1383 475h0M1780 624h0M1950 238h0M1573 652h0M1476 313h0M1306 508h0M1538 78h0M1254 718h0M1366 520h0M1946 207h0M1240 119h0M1687 190h0M1955 262h0M1933 618h0M1556 572h0M1940 617h0M1291 136h0M1271 550h0M1854 139h0M1867 182h0M1628 523h0M1567 314h0M1969 443h0M1872 570h0M1385 318h0M1758 387h0M1452 70h0M1611 744h0M1784 64h0M1553 194h0M1482 156h0M1914 65h0M1721 709h0M1505 690h0M1267 650h0M1650 230h0M1377 561h0M1337 160h0M1651 409h0M1287 198h0M1757 372h0M1552 95h0M1363 41h0M1409 11h0M1891 200h0M1622 529h0M1874 12h0M1813 637h0M1641 758h0M1803 696h0M1367 9h0M1455 522h0M1867 324h0M1256 291h0M1397 719h0M1297 81h0M1427 631h0M1647 266h0M1531 341h0M1978 436h0M1256 60h0M1687 405h0M1895 469h0M1749 8h0M1686 459h0M1410 46h0M1320 639h0M1750 216h0M1744 484h0M1965 50h0M1938 387h0M1688 639h0M1546 756h0M1442 209h0M1821 266h0M1883 33h0M1976 515h0M1542 73h0M1664 768h0M1388 360h0M1296 117h0M1302 662h0M1412 75h0M1268 148h0M1234 68h0M1704 131h0M1325 492h0M1491 560h0M1815 640h0M1883 484h0M1331 387h0M1963 435h0M1362 46h0M1705 472h0M1942 260h0M1755 631h0M1924 753h0M1543 675h0M1617 133h0M1554 12h0M1976 170h0M1258 265h0M1234 475h0M1291 635h0M1742 692h0M1347 446h0M1727 332h0M1877 46h0M1902 133h0M1284 577h0M1694 404h0M1713 580h0M1641 65h0M1524 463h0M1260 611h0M1575 233h0M1974 459h0M1597 416h0M1463 560h0M1464 385h0M1956 714h0M1968 651h0M1704 111h0M1765 270h0M1698 424h0M1873 734h0M1241 273h0M1398 53h0M1908 133h0M1296 320h0M1486 135h0M1856 134h0M1932 401h0M1234 196h0M1606 619h0M1517 738h0M1807 409h0M1752 242h0M1225 119h0M1883 136h0M1780 644h0M1837 647h0M1769 455h0M1479 454h0M1620 716h0M1261 454h0M1610 298h0M1752 641h0M1865 344h0M1943 295h0M1514 593h0M1768 476h0M1546 347h0M1984 227h0M1935 547h0M1525 159h0M1701 120h0M1978 690h0M1338 468h0M1843 275h0M1633 538h0M1451 324h0M1973 474h0M1738 334h0M1906 465h0M1696 22h0M1873 56h0M1331 409h0M1725 215h0M1577 576h0M1625 356h0M1259 46h0M1976 629h0M1655 578h0M1663 494h0M1442 573h0M1789 653h0M1349 217h0M1776 336h0M1556 490h0M1812 169h0M1356 548h0M1258 116h0M1383 367h0M1733 578h0M1445 745h0M1982 176h0M1904 54h0M1656 463h0M1747 507h0M1930 585h0M1358 528h0M1269 652h0M1852 270h0M1455 358h0M1835 548h0M1441 727h0M1380 583h0M1502 144h0M1517 678h0M1222 143h0M1350 740h0M1480 590h0M1582 36h0M1384 513h0M1790 442h0M1325 282h0M1713 525h0M1886 371h0M1755 672h0M1575 263h0M1864 256h0M1618 749h0M1968 87h0M1758 500h0M1764 249h0M1451 528h0M1640 22h0M1551 99h0M1266 658h0M1907 273h0M1236 425h0M1627 582h0M1348 37h0M1313 367h0M1604 148h0M1450 650h0M1765 296h0M1303 392h0M1436 64h0M1329 418h0M1613 526h0M1905 112h0M1715 282h0M1928 763h0M1383 609h0M1622 334h0M1841 247h0M1946 554h0M1385 314h0M1285 682h0M1687 167h0M1615 648h0M1554 429h0M1291 304h0M1463 489h0M1431 515h0M1580 636h0M1652 222h0M1529 294h0M1460 482h0M1400 339h0M1393 330h0M1305 583h0M1443 512h0M1422 472h0M1406 717h0M1751 753h0M1836 504h0M1308 430h0M1327 523h0M1932 476h0M1615 181h0M1854 178h0M1949 690h0M1240 14h0M1611 606h0M1794 451h0M1687 427h0M1760 305h0M1481 768h0M1589 63h0M1227 118h0M1801 27h0M1766 535h0M1871 492h0M1696 211h0M1329 719h0M1528 366h0M1951 616h0M1550 117h0M1980 437h0M1656 742h0M1467 200h0M1770 570h0M1666 748h0M1580 302h0M1802 235h0M1938 697h0M1350 681h0M1654 314h0M1983 576h0M1351 737h0M1412 144h0M1704 468h0M1666 285h0M1791 101h0M1327 210h0M1306 620h0M1390 546h0M1455 421h0M1769 256h0M1498 514h0M1794 502h0M1238 89h0M1957 685h0M1493 389h0M1470 456h0M1412 555h0M1853 749h0M1911 231h0M1959 368h0M1506 74h0M1644 459h0M1278 431h0M1500 676h0M1797 108h0M1879 279h0M1626 578h0M1294 735h0M1754 335h0M1918 38h0M1408 321h0M1307 237h0M1303 113h0M1564 579h0M1505 597h0M1726 255h0M1505 586h0M1852 644h0M1430 319h0M1699 282h0M1737 192h0M1397 472h0M1435 638h0M1760 55h0M1400 699h0M1559 101h0M1857 606h0M1531 90h0M1686 539h0M1602 272h0M1391 116h0M1242 148h0M1230 350h0M1790 686h0M1765 516h0M1580 655h0M1607 443h0M1322 235h0M1579 705h0M1357 277h0M1422 646h0M1677 547h0M1432 494h0M1630 533h0M1959 752h0M1675 166h0M1801 636h0M1617 397h0M1567 165h0M1394 58h0M1252 433h0M1409 313h0M1540 337h0M1748 695h0M1555 206h0M1361 547h0M1811 376h0M1360 717h0M1690 457h0M1676 21h0M1896 733h0M1562 591h0M1222 395h0M1788 489h0M1870 455h0M1562 20h0M1707 743h0M1942 585h0M1785 305h0M1354 32h0M1981 748h0M1920 469h0M1241 98h0M1926 44h0M1649 767h0M1625 543h0M1892 91h0M1694 117h0M1866 337h0M1524 392h0M1967 278h0M1322 538h0M1299 682h0M1738 281h0M1912 630h0M1846 590h0M1383 431h0M1664 646h0M1240 154h0M1345 108h0M1226 101h0M1651 236h0M1904 62h0M1257 245h0M1256 389h0M1309 15h0M1891 574h0M1811 86h0M1561 561h0M1602 418h0M1778 335h0M1649 415h0M1416 518h0M1293 600h0M1583 505h0M1621 59h0M1414 610h0M1607 382h0M1733 439h0M1852 217h0M1922 478h0M1455 270h0M1762 501h0M1407 688h0M1767 202h0M1484 721h0M1956 181h0M1951 752h0M1905 229h0M1323 128h0M1758 65h0M1238 99h0M1953 71h0M1504 381h0M1356 547h0M1284 109h0M1600 42h0M1285 423h0M1870 499h0M1697 531h0M1972 126h0M1327 97h0M1957 624h0M1233 690h0M1304 398h0M1324 705h0M1716 57h0M1577 338h0M1377 180h0M1778 348h0M1535 636h0M1770 381h0M1931 499h0M1440 689h0M1490 168h0M1264 169h0M1473 224h0M1313 233h0M1893 596h0M1606 221h0M1514 219h0M1869 218h0M1760 68h0M1447 92h0M1263 590h0M1669 122h0M1249 692h0M1279 615h0M1221 61h0M1739 430h0M1263 198h0M1243 366h0M1858 99h0M1741 87h0M1590 49h0M1792 402h0M1613 251h0M1399 557h0M1529 337h0M1586 186h0M1600 582h0M1980 735h0M1484 739h0M1584 352h0M1372 181h0M1468 107h0M1737 464h0M1711 168h0M1532 337h0M1550 403h0M1474 616h0M1665 60h0M1726 640h0M1400 441h0M1676 670h0M1298 142h0M1378 180h0M1261 737h0M1325 228h0M1950 384h0M1869 306h0M1398 388h0M1266 44h0M1956 419h0M1468 626h0M1340 463h0M1364 753h0M1373 747h0M1762 428h0M1580 324h0M1743 70h0M1674 322h0M1725 706h0M1681 36h0M1266 560h0M1340 153h0M1615 45h0M1831 438h0M1949 552h0M1888 646h0M1523 668h0M1844 469h0M1923 368h0M1454 245h0M1858 494h0M1781 264h0M1731 229h0M1814 22h0M1363 555h0M1382 367h0M1964 440h0M1304 122h0M1278 723h0M1310 312h0M1926 687h0M1959 36h0M1671 395h0M1575 212h0M1701 390h0M1645 735h0M1585 88h0M1841 526h0M1234 80h0M1692 631h0M1724 149h0M1767 369h0M1714 184h0M1325 511h0M1318 475h0M1282 295h0M1540 682h0M1856 90h0M1392 436h0M1481 356h0M1801 321h0M1515 339h0M1495 413h0M1359 563h0M1619 378h0M1560 511h0M1780 695h0M1366 357h0M1884 375h0M1667 675h0M1294 106h0M1911 321h0M1312 324h0M1272 720h0M1388 675h0M1876 385h0M1388 722h0M1339 376h0M1786 656h0M1871 46h0M1667 731h0M1786 278h0M1518 445h0M1257 701h0M1843 695h0M1825 277h0M1334 516h0M1723 354h0M1734 457h0M1268 467h0M1737 15h0M1855 487h0M1619 717h0M1242 423h0M1952 49h0M1852 285h0M1416 208h0M1643 501h0M1289 209h0M1229 73h0M1772 243h0M1903 760h0M1781 648h0M1715 37h0M1567 158h0M1462 279h0M1748 602h0M1503 629h0M1849 293h0M1505 153h0M1294 742h0M1471 495h0M1839 49h0M1419 598h0M1497 766h0M1515 437h0M1784 573h0M1904 356h0M1708 486h0M1549 745h0M1790 711h0M1702 618h0M1425 745h0M1573 376h0M1520 753h0M1609 434h0M1401 352h0M1907 217h0M1293 572h0M1783 532h0M1724 697h0M1458 682h0M1671 751h0M1329 625h0M1414 312h0M1941 55h0M1842 718h0M1401 761h0M1279 360h0M1419 428h0M1635 203h0M1306 518h0M1892 707h0M1433 637h0M1575 481h0M1611 647h0M1889 131h0M1339 378h0M1402 649h0M1758 644h0M1375 383h0M1877 675h0M1397 671h0M1637 125h0M1314 333h0M1413 126h0M1636 700h0M1610 175h0M1941 640h0M1924 237h0M1412 231h0M1248 593h0M1469 296h0M1761 687h0M1878 189h0M1749 267h0M1269 734h0M1782 444h0M1370 531h0M1462 514h0M1300 645h0M1506 290h0M1598 551h0M1370 302h0M1842 486h0M1304 469h0M1287 237h0M1711 497h0M1825 293h0M1487 216h0M1356 65h0M1703 264h0M1868 398h0M1968 439h0M1706 231h0M1972 51h0M1697 386h0M1283 355h0M1738 125h0M1632 766h0M1238 221h0M1405 568h0M1712 122h0M1630 593h0M1747 293h0M1712 591h0M1290 546h0M1573 451h0M1522 464h0M1847 452h0M1565 499h0M1470 214h0M1342 304h0M1684 131h0M1784 386h0M1295 213h0M1433 77h0M1221 313h0M1290 12h0M1269 547h0M1469 320h0M1378 724h0M1708 225h0M1916 587h0M1453 50h0M1302 458h0M1969 512h0M1302 48h0M1535 187h0M1644 593h0M1483 121h0M1948 272h0M1398 752h0M1637 220h0M1501 464h0M1742 288h0M1418 168h0M1963 97h0M1917 702h0M1226 451h0M1879 681h0M1621 376h0M1519 326h0M1742 747h0M1969 314h0M1608 632h0M1317 52h0M1488 165h0M1889 251h0M1920 218h0M1939 297h0M1911 348h0M1888 717h0M1423 133h0M1432 123h0M1713 608h0M1295 242h0M1248 325h0M1593 719h0M1686 529h0M1904 402h0M1980 323h0M1763 411h0M1866 449h0M1316 445h0M1308 757h0M1382 529h0M1575 253h0M1768 424h0M1541 634h0M1285 16h0M1667 619h0M1542 188h0M1249 302h0M1700 701h0M1657 522h0M1674 101h0M1398 128h0M1902 355h0M1383 409h0M1978 707h0M1266 492h0M1622 185h0M1245 229h0M1917 466h0M1230 757h0M1937 749h0M1337 75h0M1553 53h0M1697 314h0M1963 589h0M1944 278h0M1476 741h0M1973 575h0M1236 564h0M1511 254h0M1674 108h0M1516 466h0M1316 356h0M1468 376h0M1855 228h0M1841 730h0M1462 428h0M1840 28h0M1915 31h0M1484 280h0M1343 537h0M1564 341h0M1223 310h0M1874 186h0M1437 440h0M1860 46h0M1391 280h0M1741 617h0M1444 321h0M1884 191h0M1421 764h0M1713 705h0M1509 131h0M1233 191h0M1624 18h0M1581 645h0M1860 656h0M1570 355h0M1298 359h0M1244 283h0M1434 619h0M1507 275h0M1497 567h0M1583 580h0M1978 525h0M1340 389h0M1303 51h0M1310 701h0M1237 524h0M1599 620h0M1512 328h0M1286 170h0M1939 29h0M1633 63h0M1244 54h0M1646 112h0M1854 706h0M1713 689h0M1387 300h0M1344 70h0M1715 660h0M1282 24h0M1841 374h0M1561 267h0M1472 728h0M1354 573h0M1723 647h0M1574 631h0M1627 387h0M1363 622h0M1349 561h0M1484 243h0M1467 732h0M1977 358h0M1912 512h0M1871 374h0M1953 118h0M1575 436h0M1459 638h0M1381 752h0M1582 531h0M1606 191h0M1560 36h0M1874 355h0M1579 234h0M1649 385h0M1519 736h0M1319 302h0M1886 340h0M1786 255h0M1478 83h0M1976 662h0M1889 112h0M1540 469h0M1802 399h0M1452 377h0M1352 355h0M1431 771h0M1636 615h0M1969 733h0M1719 215h0M1716 559h0M1749 412h0M1306 265h0M1494 149h0M1603 702h0M1477 18h0M1875 499h0M1653 563h0M1426 477h0M1642 315h0M1495 420h0M1686 496h0M1721 107h0M1944 680h0M1566 403h0M1230 146h0M1511 75h0M1877 737h0M1495 144h0M1479 595h0M1391 347h0M1421 47h0M1385 310h0M1946 559h0M1285 581h0M1261 78h0M1697 396h0M1984 769h0M1737 207h0M1631 546h0M1685 63h0M1562 428h0M1399 645h0M1732 611h0M1932 638h0M1567 433h0M1231 733h0M1907 191h0M1959 732h0M1460 680h0M1894 318h0M1496 25h0M1926 305h0M1631 92h0M1239 281h0M1496 323h0M1233 407h0M1719 332h0M1515 173h0M1321 48h0M1814 660h0M1236 691h0M1945 456h0M1950 560h0M1482 251h0M1291 639h0M1695 477h0M1427 43h0M1926 500h0M1969 584h0M1711 242h0M1816 349h0M1800 271h0M1683 482h0M1485 734h0M1395 364h0M1882 741h0M1371 32h0M1684 745h0M1686 107h0M1825 671h0M1766 400h0M1821 184h0M1253 513h0M1241 53h0M1498 605h0M1228 715h0M1476 722h0M1655 335h0M1467 660h0M1372 266h0M1549 456h0M1865 759h0M1460 467h0M1754 518h0M1432 592h0M1869 618h0M1740 19h0M1914 209h0M1793 547h0M1739 184h0M1840 325h0M1564 210h0M1878 735h0M1517 277h0M1707 697h0M1964 641h0M1576 750h0M1381 649h0M1551 215h0M1649 279h0M1488 702h0M1927 489h0M1964 727h0M1403 712h0M1955 740h0M1630 325h0M1828 284h0M1715 594h0M1347 702h0M1688 26h0M1556 317h0M1765 94h0M1425 618h0M1854 636h0M1596 154h0M1929 491h0M1906 19h0M1384 109h0M1321 177h0M1392 236h0M1476 720h0M1395 442h0M1586 83h0M1903 677h0M1959 369h0M1865 534h0M1357 199h0M1885 540h0M1415 60h0M1910 205h0M1956 690h0M1737 439h0M1369 475h0M1236 476h0M1236 257h0M1825 236h0M1719 358h0M1443 48h0M1692 680h0M1267 46h0M1306 23h0M1361 615h0M1860 389h0M1353 277h0M1558 232h0M1297 378h0M1800 411h0M1480 291h0M1570 433h0M1326 68h0M1305 625h0M1392 278h0M1543 652h0M1861 235h0M1343 297h0M1511 546h0M1475 635h0M1826 210h0M1759 289h0M1809 195h0M1968 134h0M1480 440h0M1369 346h0M1659 407h0M1876 277h0M1804 353h0M1310 331h0M1239 380h0M1788 81h0M1796 454h0M1819 184h0M1875 338h0M1281 634h0M1432 275h0M1555 430h0M1980 325h0M1471 318h0M1410 212h0M1829 671h0M1952 80h0M1813 752h0M1561 460h0M1256 450h0M1665 489h0M1356 137h0M1556 630h0M1540 195h0M1826 505h0M1759 771h0M1577 729h0M1624 110h0M1386 218h0M1690 13h0M1422 569h0M1326 184h0M1539 755h0M1289 629h0M1643 124h0M1709 625h0M1434 174h0M1835 611h0M1250 143h0M1358 193h0M1937 218h0M1549 83h0M1461 479h0M1251 462h0M1610 539h0M1747 260h0M1922 647h0M1824 450h0M1663 294h0M1298 735h0M1575 474h0M1654 68h0M1738 292h0M1281 701h0M1500 222h0M1602 130h0M1756 747h0M1410 131h0M1609 189h0M1617 377h0M1238 606h0M1356 212h0M1968 239h0M1380 131h0M1624 731h0M1469 179h0M1332 440h0M1980 57h0M1884 586h0M1346 193h0M1445 77h0M1387 333h0M1329 514h0M1604 360h0M1324 31h0M1293 529h0M1814 57h0M1313 723h0M1357 90h0M1863 635h0M1404 407h0M1919 293h0M1689 705h0M1296 666h0M1278 24h0M1786 112h0M1479 372h0M1449 249h0M1615 754h0M1847 489h0M1609 296h0M1392 756h0M1364 100h0M1330 602h0M1340 133h0M1910 422h0M1725 620h0M1844 690h0M1474 250h0M1867 417h0M1434 555h0M1872 762h0M1283 136h0M1966 27h0M1785 508h0M1621 409h0M1934 716h0M1356 664h0M1856 167h0M1505 278h0M1350 382h0M1560 291h0M1316 460h0M1826 520h0M1878 716h0M1640 377h0M1528 228h0M1433 453h0M1810 533h0M1296 91h0M1465 234h0M1381 151h0M1807 655h0M1290 389h0M1767 401h0M1527 578h0M1873 315h0M1801 240h0M1618 590h0M1578 569h0M1899 721h0M1245 557h0M1424 285h0M1473 633h0M1837 205h0M1948 89h0M1391 748h0M1239 366h0M1611 698h0M1937 638h0M1565 27h0M1602 454h0M1879 21h0M1955 521h0M1425 357h0M1893 436h0M1598 430h0M1604 541h0M1902 769h0M1350 131h0M1684 332h0M1295 14h0M1755 295h0M1518 457h0M1983 642h0M1466 166h0M1389 150h0M1882 77h0M1682 374h0M1593 731h0M1410 454h0M1631 477h0M1411 667h0M1888 748h0M1688 722h0M1820 119h0M1311 68h0M1248 445h0M1521 69h0M1844 347h0M1379 34h0M1442 27h0M1337 396h0M1643 754h0M1479 191h0M1678 429h0M1571 44h0M1787 119h0M1355 38h0M1245 680h0M1870 183h0M1643 702h0M1789 654h0M1524 22h0M1617 357h0M1725 115h0M1517 86h0M1523 711h0M1665 260h0M1377 286h0M1785 39h0M1643 466h0M1769 651h0M1492 619h0M1789 496h0M1682 504h0M1850 101h0M1478 57h0M1975 38h0M1646 31h0M1679 598h0M1581 144h0M1251 418h0M1231 59h0M1759 628h0M1900 362h0M1922 474h0M1858 535h0M1551 543h0M1963 42h0M1524 263h0M1231 106h0M1950 626h0M1409 347h0M1361 648h0M1637 739h0M1227 602h0M1773 383h0M1313 757h0M1854 136h0M1471 280h0M1853 583h0M1294 564h0M1464 748h0M1399 685h0M1766 622h0M1344 696h0M1798 89h0M1700 358h0M1470 469h0M1434 137h0M1392 591h0M1621 713h0M1396 573h0M1512 596h0M1939 536h0M1554 726h0M1553 513h0M1909 555h0M1661 263h0M1322 195h0M1347 722h0M1435 358h0M1776 197h0M1938 106h0M1682 373h0M1759 102h0M1639 624h0M1740 465h0M1977 107h0M1334 323h0M1557 67h0M1728 440h0M1284 197h0M1916 517h0M1817 371h0M1844 759h0M1815 523h0M1947 458h0M1863 248h0M1223 68h0M1809 712h0M1366 402h0M1309 573h0M1890 633h0M1518 186h0M1645 21h0M1354 83h0M1302 669h0M1682 220h0M1299 572h0M1814 687h0M1886 208h0M1913 132h0M1263 335h0M1486 742h0M1716 242h0M1404 680h0M1783 111h0M1291 616h0M1971 152h0M1358 664h0M1693 500h0M1327 499h0M1480 749h0M1464 765h0M1259 554h0M1319 436h0M1256 134h0M1720 301h0M1629 298h0M1940 40h0M1341 273h0M1559 493h0M1388 349h0M1559 418h0M1593 308h0M1708 272h0M1313 596h0M1344 135h0M1400 762h0M1699 85h0M1263 640h0M1765 597h0M1637 248h0M1277 11h0M1725 696h0M1892 320h0M1353 591h0M1719 39h0M1481 253h0M1420 450h0M1351 212h0M1578 684h0M1787 205h0M1960 72h0M1389 320h0M1246 521h0M1554 635h0M1531 282h0M1437 541h0M1830 299h0M1333 118h0M1628 442h0M1928 423h0M1801 271h0M1833 488h0M1530 437h0M1249 488h0M1984 277h0M1720 221h0M1288 67h0M1868 152h0M1444 678h0M1584 71h0M1474 691h0M1881 649h0M1980 325h0M1437 55h0M1248 529h0M1978 599h0M1815 536h0M1968 676h0M1425 568h0M1909 38h0M1881 196h0M1600 493h0M1243 358h0M1476 275h0M1504 324h0M1794 515h0M1551 649h0M1564 337h0M1725 657h0M1529 661h0M1269 222h0M1263 375h0M1362 658h0M1468 522h0M1611 210h0M1873 75h0M1501 411h0M1841 671h0M1634 125h0M1927 591h0M1391 393h0M1816 556h0M1653 496h0M1404 349h0M1869 193h0M1478 471h0M1454 485h0M1702 214h0M1490 423h0M1816 706h0M1569 370h0M1351 704h0M1840 639h0M1442 734h0M1433 90h0M1793 434h0M1404 91h0M1623 48h0M1627 678h0M1488 609h0M1392 614h0M1379 554h0M1548 674h0M1659 14h0M1856 680h0M1309 137h0M1319 79h0M1615 387h0M1903 403h0M1938 129h0M1917 635h0M1650 594h0M1262 394h0M1264 57h0M1376 391h0M1793 136h0M1868 540h0M1953 194h0M1951 559h0M1866 146h0M1918 496h0M1417 562h0M1294 395h0M1532 367h0M1930 757h0M1475 478h0M1931 141h0M1371 84h0M1731 533h0M1902 519h0M1937 90h0M1674 382h0M1769 540h0M1507 479h0M1465 56h0M1930 95h0M1463 289h0M1389 629h0M1395 543h0M1421 589h0M1865 650h0M1521 746h0M1340 75h0M1917 89h0M1891 180h0M1627 707h0M1285 302h0M1252 519h0M1369 604h0M1594 707h0M1309 12h0M1859 645h0M1232 758h0M1242 220h0M1940 227h0M1490 772h0M1801 737h0M1899 648h0M1393 329h0M1979 44h0M1225 340h0M1521 697h0M1316 450h0M1296 124h0M1333 245h0M1654 479h0M1584 420h0M1685 448h0M1231 310h0M1798 426h0M1463 532h0M1858 118h0M1365 462h0M1630 354h0M1702 59h0M1763 265h0M1888 575h0M1315 409h0M1650 151h0M1844 398h0M1945 219h0M1472 582h0M1405 605h0M1776 452h0M1553 101h0M1840 655h0M1638 137h0M1272 384h0M1539 481h0M1761 379h0M1302 210h0M1467 511h0M1523 671h0M1224 115h0M1802 542h0M1564 470h0M1805 34h0M1693 296h0M1302 85h0M1895 668h0M1299 78h0M1553 50h0M1787 324h0M1977 317h0M1472 318h0M1649 532h0M1657 318h0M1258 325h0M1558 370h0M1650 234h0M1342 306h0M1850 265h0M1301 296h0M1983 676h0M1268 609h0M1308 305h0M1374 383h0M1567 747h0M1784 411h0M1650 295h0M1389 427h0M1380 765h0M1559 719h0M1317 17h0M1529 478h0M1588 169h0M1321 624h0M1651 732h0M1823 126h0M1983 450h0M1377 93h0M1945 740h0M1808 45h0M1720 55h0M1606 762h0M1595 142h0M1388 614h0M1311 755h0M1411 493h0M1281 359h0M1512 175h0M1970 257h0M1816 381h0M1407 546h0M1744 461h0M1586 755h0M1409 625h0M1477 340h0M1239 257h0M1645 674h0M1422 758h0M1706 220h0M1574 727h0M1600 536h0M1402 675h0M1616 126h0M1798 25h0M1615 767h0M1433 144h0M1546 342h0M1314 40h0M1480 183h0M1524 393h0M1763 538h0M1419 14h0M1755 292h0M1405 62h0M1940 450h0M1481 119h0M1243 455h0M1983 277h0M1867 79h0M1729 298h0M1984 740h0M1391 17h0M1358 575h0M1894 476h0M1697 159h0M1738 663h0M1281 267h0M1887 272h0M1546 57h0M1380 709h0M1757 620h0M1787 510h0M1800 108h0M1667 693h0M1822 681h0M1865 403h0M1454 618h0M1884 456h0M1529 303h0M1856 399h0M1795 402h0M1527 121h0M1293 93h0M1653 592h0M1559 491h0M1957 428h0M1909 565h0M1865 430h0M1770 185h0M1787 565h0M1268 24h0M1713 359h0M1774 573h0M1259 533h0M1732 199h0M1412 296h0M1277 443h0M1772 675h0M1376 105h0M1463 669h0M1945 595h0M1934 74h0M1638 396h0M1425 680h0M1418 264h0M1608 529h0M1239 559h0M1827 310h0M1930 602h0M1612 391h0M1530 276h0M1921 56h0M1926 729h0M1440 180h0M1552 287h0M1511 333h0M1515 28h0M1510 223h0M1961 35h0M1563 342h0M1302 113h0M1284 236h0M1558 506h0M1808 506h0M1278 611h0M1659 96h0M1575 270h0M1692 307h0M1968 228h0M1888 627h0M1272 74h0M1253 32h0M1397 508h0M1566 640h0M1927 24h0M1910 518h0M1950 591h0M1679 456h0M1252 329h0M1470 381h0M1865 728h0M1714 196h0M1641 84h0M1726 249h0M1590 209h0M1543 323h0M1879 484h0M1398 15h0M1674 299h0M1263 219h0M1438 508h0M1942 684h0M1455 735h0M1558 497h0M1969 216h0M1348 348h0M1955 478h0M1378 372h0M1939 87h0M1811 310h0M1435 526h0M1585 13h0M1698 157h0M1785 106h0M1856 739h0M1723 507h0M1540 175h0M1369 597h0M1235 297h0M1262 490h0M1359 667h0M1579 591h0M1861 483h0M1763 514h0M1223 178h0M1316 474h0M1293 505h0M1392 652h0M1809 56h0M1636 512h0M1979 329h0M1464 196h0M1296 359h0M1663 27h0M1498 82h0M1342 712h0M1662 209h0M1686 669h0M1653 550h0M1408 334h0M1266 191h0M1600 340h0M1425 731h0M1533 130h0M1743 762h0M1570 572h0M1534 530h0M1794 149h0M1747 749h0M1924 170h0M1953 149h0M1572 116h0M1825 763h0M1535 157h0M1711 292h0M1313 260h0M1385 65h0M1919 750h0M1959 625h0M1634 533h0M1251 207h0M1271 83h0M1243 597h0M1933 655h0M1576 554h0M1445 434h0M1892 76h0M1310 311h0M1725 50h0M1894 231h0M1305 40h0M1503 609h0M1670 119h0M1332 110h0M1308 489h0M1800 264h0M1960 35h0M1719 658h0M1736 536h0M1912 482h0M1804 138h0M1488 597h0M1749 576h0M1941 506h0M1977 152h0M1606 381h0M1223 113h0M1842 486h0M1365 622h0M1391 372h0M1813 274h0M1316 707h0M1495 359h0M1530 180h0M1566 390h0M1856 36h0M1295 502h0M1888 534h0M1724 593h0M1584 184h0M1631 716h0M1290 424h0M1372 305h0M1788 239h0M1594 151h0M1965 200h0M1282 107h0M1738 531h0M1945 290h0M1553 677h0M1552 327h0M1312 241h0M1606 661h0M1734 535h0M1853 123h0M1840 131h0M1381 721h0M1962 583h0M1522 582h0M1527 523h0M1541 335h0M1273 350h0M1870 338h0M1831 665h0M1815 379h0M1846 247h0M1923 139h0M1512 264h0M1234 723h0M1506 127h0M1275 145h0M1909 712h0M1886 598h0M1579 91h0M1445 192h0M1667 220h0M1520 143h0M1493 31h0M1752 634h0M1517 399h0M1358 110h0M1803 292h0M1485 587h0M1760 693h0M1807 213h0M1832 699h0M1507 45h0M1760 536h0M1702 172h0M1470 21h0M1546 507h0M1736 546h0M1930 323h0M1535 608h0M1483 510h0M1495 464h0M1600 479h0M1533 153h0M1567 26h0M1756 685h0M1764 559h0M1977 657h0M1726 287h0M1324 342h0M1405 640h0M1322 531h0M1634 330h0M1953 37h0M1517 497h0M1955 327h0M1889 207h0M1256 152h0M1238 772h0M1702 474h0M1797 288h0M1759 123h0M1841 761h0M1515 330h0M1411 21h0M1725 502h0M1956 12h0M1689 724h0M1970 237h0M1492 667h0M1677 146h0M1611 674h0M1486 202h0M1543 396h0M1643 386h0M1922 504h0M1635 579h0M1596 352h0M1461 711h0M1587 395h0M1370 644h0M1696 729h0M1770 465h0M1309 684h0M1789 682h0M1882 740h0M1927 360h0M1263 216h0M1222 462h0M1321 487h0M1755 495h0M1887 440h0M1305 626h0M1817 208h0M1266 29h0M1851 19h0M1638 748h0M1638 770h0M1295 260h0M1795 197h0M1644 297h0M1785 151h0M1266 471h0M1650 613h0M1745 174h0M1866 581h0M1459 749h0M1469 25h0M1782 563h0M1911 188h0M1875 672h0M1947 629h0M1575 358h0M1625 382h0M1646 201h0M1408 327h0M1826 472h0M1679 447h0M1683 441h0M1568 484h0M1658 315h0M1845 72h0M1342 530h0M1279 328h0M1488 304h0M1535 359h0M1682 524h0M1428 596h0M1477 217h0M1400 159h0M1362 346h0M1630 439h0M1759 428h0M1651 278h0M1593 371h0M1736 343h0M1511 260h0M1713 393h0M1484 254h0M1909 266h0M1719 410h0M1933 693h0M1649 475h0M1525 613h0M1826 441h0M1818 605h0M1701 322h0M1628 327h0M1574 411h0M1671 405h0M1788 332h0M1635 407h0M1900 260h0M1751 530h0M1313 700h0M1731 455h0M1677 343h0M1458 373h0M1505 391h0M1726 442h0M1740 349h0M1605 370h0M1539 505h0M1515 329h0M1602 680h0M1696 336h0M1766 587h0M1719 537h0M1582 556h0M1716 506h0M1421 448h0M1534 353h0M1905 419h0M1637 498h0M1512 419h0M1685 411h0M1481 363h0M1534 434h0M1930 718h0M1646 489h0M1419 227h0M1576 56h0M1818 357h0M1409 273h0M1455 151h0M1548 219h0M1489 314h0M1438 196h0M1350 319h0M1715 542h0M1691 427h0M1364 250h0M1686 506h0M1226 243h0M1716 663h0M1510 124h0M1525 430h0M1467 392h0M1616 414h0M1581 467h0M1918 591h0M1884 467h0M1510 395h0M1375 287h0M1380 293h0M1939 494h0M1629 606h0M1516 377h0M1506 264h0M1363 270h0M1711 484h0M1696 457h0M1535 402h0M1759 527h0M1551 414h0M1913 523h0M1594 243h0M1826 460h0M1801 710h0M1552 368h0M1904 266h0M1831 459h0M1718 473h0M1881 239h0M1391 216h0M1591 233h0M1580 185h0M1870 611h0M1632 453h0M1659 488h0M1806 474h0M1470 341h0M1602 319h0M1832 574h0M1728 320h0M1506 389h0M1903 257h0M1719 540h0M1676 509h0M1497 310h0M1364 749h0M1806 480h0M1721 443h0M1366 351h0M1575 377h0M1595 484h0M1485 407h0M1411 440h0M1457 250h0M1435 331h0M1465 260h0M1555 369h0M1450 186h0M1487 369h0M1591 227h0M1612 366h0M1505 403h0M1299 683h0M1437 634h0M1929 518h0M1610 747h0M1645 609h0M1673 358h0M1548 306h0M1225 574h0M1892 263h0M1653 556h0M1592 265h0M1699 334h0M1593 225h0M1517 287h0M1774 380h0M1621 288h0M1666 447h0M1434 488h0M1732 528h0M1560 474h0M1563 279h0M1610 466h0M1716 632h0M1583 435h0M1731 666h0M1600 123h0M1716 317h0M1710 482h0M1378 393h0M1860 614h0M1592 262h0M1611 648h0M1731 583h0M1571 354h0M1533 267h0M1615 309h0M1683 549h0M1261 721h0M1475 261h0M1546 372h0M1774 350h0M1567 349h0M1775 429h0M1585 392h0M1439 287h0M1603 311h0M1627 451h0M1654 274h0M1832 737h0M1488 244h0M1716 507h0M1624 384h0M1379 219h0M1553 464h0M1562 295h0M1705 352h0M1592 547h0M1870 737h0M1628 474h0M1479 245h0M1418 334h0M1430 425h0M1710 432h0M1658 303h0M1316 586h0M1643 555h0M1900 284h0M1464 151h0M1664 449h0M1832 467h0M1529 280h0M1253 81h0M1631 389h0M1455 464h0M1412 333h0M1527 284h0M1461 337h0M1658 418h0M1323 407h0M1563 384h0M1415 342h0M1604 369h0M1299 184h0M1468 303h0M1519 471h0M1546 374h0M1613 688h0M1696 219h0M1570 351h0M1702 404h0M1674 464h0M1737 329h0M1841 578h0M1743 630h0M1613 507h0M1421 264h0M1541 356h0M1728 580h0M1567 409h0M1556 302h0M1534 309h0M1712 354h0M1622 317h0M1604 358h0M1893 754h0M1438 446h0M1981 731h0M1432 398h0M1525 736h0M1700 494h0M1736 412h0M1623 486h0M1547 259h0M1471 291h0M1843 601h0M1623 490h0M1595 230h0M1429 235h0M1456 321h0M1259 336h0M1282 186h0M1476 173h0M1302 770h0M1477 363h0M1252 397h0M1541 400h0M1653 279h0M1826 624h0M1620 48h0M1603 302h0M1409 666h0M1630 388h0M1450 336h0M1386 131h0M1692 410h0M1568 354h0M1656 503h0M1442 194h0M1504 158h0M1793 448h0M1495 175h0M1348 257h0M1595 300h0M1432 338h0M1611 325h0M1624 762h0M1473 342h0M1897 445h0M1625 425h0M1701 382h0M1526 465h0M1927 392h0M1670 610h0M1357 638h0M1680 280h0M1383 197h0M1697 430h0M1494 273h0M1584 368h0M1825 307h0M1731 403h0M1597 341h0M1333 243h0M1653 347h0M1905 297h0M1903 413h0M1760 8h0M1756 528h0M1587 312h0M1841 473h0M1424 474h0M1649 354h0M1656 397h0M1555 753h0M1630 310h0M1423 235h0M1597 271h0M1685 485h0M1401 452h0M1312 242h0M1417 403h0M1373 769h0M1797 447h0M1284 642h0M1465 285h0M1508 658h0M1703 372h0M1550 412h0M1418 377h0M1635 227h0M1446 320h0M1403 205h0M1789 429h0M1619 437h0M1718 533h0M1357 143h0M1666 450h0M1499 143h0M1432 327h0M1586 716h0M1431 250h0M1666 440h0M1895 654h0M1729 355h0M1609 289h0M1519 281h0M1570 168h0M1661 482h0M1515 308h0M1511 383h0M1376 382h0M1363 151h0M1361 348h0M1713 352h0M1546 351h0M1688 530h0M1613 488h0M1563 223h0M1363 205h0M1590 456h0M1931 617h0M1309 714h0M1466 323h0M1570 385h0M1497 94h0M1767 566h0M1889 760h0M1861 292h0M1668 300h0M1540 311h0M1618 484h0M1763 459h0M1749 296h0M1715 255h0M1452 377h0M1642 292h0M1663 309h0M1635 291h0M1508 300h0M1621 491h0M1835 461h0M1718 416h0M1699 546h0M1606 440h0M1447 336h0M1421 239h0M1560 291h0M1510 250h0M1607 351h0M1480 289h0M1619 277h0M1713 516h0M1956 250h0M1551 263h0M1260 219h0M1483 254h0M1572 335h0M1839 431h0M1569 474h0M1588 395h0M1379 506h0M1668 381h0M1888 278h0M1461 329h0M1523 296h0M1876 252h0M1678 422h0M1897 261h0M1598 475h0M1563 702h0M1659 380h0M1764 490h0M1535 251h0M1702 460h0M1878 230h0M1491 299h0M1577 603h0M1564 474h0M1539 301h0M1514 303h0M1453 342h0M1734 418h0M1691 447h0M1896 284h0M1737 567h0M1508 335h0M1657 474h0M1277 356h0M1460 358h0M1740 714h0M1765 456h0M1294 587h0M1478 332h0M1449 243h0M1471 556h0M1486 313h0M1480 349h0M1627 386h0M1573 369h0M1495 336h0M1643 253h0M1564 430h0M1424 737h0M1677 464h0M1582 288h0M1465 317h0M1425 251h0M1600 436h0M1563 482h0M1735 401h0M1731 302h0M1837 469h0M1433 315h0M1626 426h0M1380 570h0M1464 330h0M1234 684h0M1439 205h0M1710 536h0M1520 274h0M1589 478h0M1761 520h0M1621 424h0M1505 248h0M1692 533h0M1828 412h0M1712 461h0M1371 319h0M1526 392h0M1706 556h0M1530 316h0M1566 317h0M1554 424h0M1608 448h0M1661 444h0M1353 483h0M1630 452h0M1639 295h0M1604 372h0M1723 519h0M1536 313h0M1624 430h0M1367 270h0M1783 398h0M1919 504h0M1514 420h0M1857 280h0M1767 423h0M1616 366h0M1481 367h0M1611 385h0M1675 338h0M1404 245h0M1580 268h0M1731 371h0M1580 488h0M1479 376h0M1844 475h0M1665 439h0M1524 140h0M1399 385h0M1697 485h0M1645 316h0M1776 666h0M1691 388h0M1578 559h0M1773 420h0M1477 410h0M1507 268h0M1385 169h0M1638 377h0M1683 469h0M1553 323h0M1411 189h0M1838 301h0M1447 278h0M1466 263h0M1257 120h0M1824 520h0M1666 758h0M1567 347h0M1861 506h0M1475 412h0M1454 377h0M1496 374h0M1710 757h0M1606 559h0M1427 358h0M1581 394h0M1497 295h0M1597 475h0M1618 448h0M1657 479h0M1790 580h0M1720 445h0M1498 215h0M1652 398h0M1564 333h0M1578 443h0M1644 302h0M1567 357h0M1557 172h0M1481 331h0M1658 464h0M1588 289h0M1661 384h0M1447 202h0M1826 640h0M1946 731h0M1788 502h0M1488 481h0M1542 296h0M1767 639h0M1772 417h0M1511 283h0M1525 319h0M1543 309h0M1522 344h0M1693 736h0M1357 555h0M1872 81h0M1535 405h0M1404 259h0M1715 595h0M1480 315h0M1674 208h0M1883 500h0M1763 45h0M1908 239h0M1391 261h0M1531 170h0M1672 419h0M1299 584h0M1638 327h0M1918 683h0M1898 270h0M1726 442h0M1572 328h0M1481 151h0M1636 340h0M1712 641h0M1669 539h0M1531 348h0M1699 520h0M1827 614h0M1569 446h0M1672 423h0M1457 273h0M1571 296h0M1401 361h0M1438 399h0M1901 518h0M1437 260h0M1734 585h0M1754 561h0M1602 230h0M1812 191h0M1666 331h0M1638 483h0M1662 381h0M1394 732h0M1632 483h0M1573 445h0M1866 246h0M1629 325h0M1478 302h0M1469 356h0M1747 441h0M1604 299h0M1728 416h0M1316 729h0M1715 425h0M1509 212h0M1432 336h0M1649 386h0M1361 370h0M1591 458h0M1445 272h0M1966 698h0M1529 376h0M1599 331h0M1780 330h0M1552 333h0M1379 287h0M1690 460h0M1577 418h0M1641 457h0M1806 488h0M1585 336h0M1565 265h0M1678 449h0M1725 343h0M1474 322h0M1345 678h0M1491 338h0M1681 466h0M1757 439h0M1736 309h0M1506 310h0M1593 248h0M1477 758h0M1395 707h0M1411 649h0M1756 497h0M1627 319h0M1671 328h0M1362 226h0M1626 319h0M1446 330h0M1412 244h0M1718 484h0M1463 261h0M1392 206h0M1867 240h0M1759 408h0M1650 458h0M1614 494h0M1637 347h0M1443 347h0M1406 507h0M1598 355h0M1519 458h0M1314 657h0M1426 179h0M1225 745h0M1487 289h0M1559 292h0M1421 198h0M1658 512h0M1526 387h0M1636 365h0M1744 458h0M1781 305h0M1256 749h0M1567 428h0M1867 242h0M1560 310h0M1297 136h0M1666 360h0M1424 306h0M1668 430h0M1511 280h0M1623 325h0M1640 267h0M1236 315h0M1773 427h0M1408 275h0M1480 290h0M1832 31h0M1468 278h0M1764 475h0M1571 308h0M1574 368h0M1596 431h0M1743 525h0M1836 512h0M1769 530h0M1551 371h0M1399 642h0M1678 770h0M1877 253h0M1541 300h0M1668 395h0M1675 447h0M1628 307h0M1673 254h0M1412 272h0M1574 361h0M1907 446h0M1760 487h0M1589 86h0M1580 464h0M1676 310h0M1571 421h0M1478 296h0M1504 454h0M1781 645h0M1568 336h0M1484 78h0M1545 439h0M1770 297h0M1778 629h0M1581 343h0M1490 274h0M1278 294h0M1871 230h0M1329 188h0M1726 347h0M1562 362h0M1671 429h0M1371 307h0M1481 623h0M1645 400h0M1567 388h0M1313 205h0M1472 450h0M1670 234h0M1577 432h0M1441 229h0M1626 50h0M1661 484h0M1607 429h0M1877 476h0M1850 468h0M1483 393h0M1670 494h0M1718 417h0M1688 298h0M1655 402h0M1332 313h0M1432 328h0M1589 424h0M1440 309h0M1532 446h0M1893 490h0M1681 403h0M1862 437h0M1508 155h0M1570 353h0M1672 493h0M1684 451h0M1665 473h0M1243 295h0M1390 229h0M1685 316h0M1703 388h0M1326 389h0M1771 452h0M1703 459h0M1685 348h0M1591 492h0M1979 726h0M1433 309h0M1643 354h0M1408 152h0M1747 521h0M1372 384h0M1643 524h0M1554 266h0M1605 469h0M1597 398h0M1782 311h0M1468 389h0M1737 569h0M1668 472h0M1916 458h0M1946 538h0M1864 658h0M1687 497h0M1919 104h0M1438 342h0M1828 434h0M1869 253h0M1710 482h0M1291 179h0M1466 349h0M1409 277h0M1570 387h0M1900 457h0M1585 452h0M1727 263h0M1518 364h0M1559 368h0M1765 514h0M1612 336h0M1718 300h0M1856 259h0M1711 771h0M1752 449h0M1745 393h0M1836 457h0M1410 316h0M1249 413h0M1467 274h0M1631 432h0M1766 610h0M1697 505h0M1756 431h0M1301 132h0M1732 653h0M1507 344h0M1798 623h0M1706 175h0M1855 250h0M1603 384h0M1755 317h0M1655 731h0M1790 375h0M1530 420h0M1475 298h0M1300 335h0M1942 159h0M1567 431h0M1695 455h0M1615 453h0M1737 499h0M1712 410h0M1447 275h0M1587 461h0M1675 455h0M1684 341h0M1711 472h0M1581 655h0M1709 415h0M1581 328h0M1842 509h0M1661 343h0M1573 455h0M1518 425h0M1806 721h0M1450 363h0M1497 411h0M1925 256h0M1628 273h0M1622 430h0M1688 521h0M1518 189h0M1552 279h0M1341 202h0M1611 354h0M1595 374h0M1723 622h0M1496 194h0M1398 305h0M1611 356h0M1414 636h0M1653 379h0M1628 397h0M1432 217h0M1722 392h0M1633 505h0M1466 316h0M1660 466h0M1475 398h0M1907 277h0M1422 253h0M1758 364h0M1568 506h0M1560 407h0M1464 687h0M1665 391h0M1644 408h0M1651 515h0M1900 710h0M1460 212h0M1818 766h0M1683 308h0M1531 264h0M1834 690h0M1584 533h0M1711 576h0M1538 408h0M1565 206h0M1832 720h0M1620 384h0M1691 440h0M1626 289h0M1542 184h0M1630 353h0M1875 268h0M1760 417h0M1548 321h0M1755 467h0M1243 674h0M1691 377h0M1874 298h0M1801 557h0M1674 415h0M1434 632h0M1928 238h0M1634 453h0M1625 467h0M1672 465h0M1570 435h0M1477 311h0M1653 516h0M1582 238h0M1941 590h0M1455 704h0M1261 314h0M1446 464h0M1516 305h0M1715 337h0M1530 213h0M1774 429h0M1237 149h0M1450 411h0M1739 421h0M1580 329h0M1450 198h0M1823 755h0M1570 412h0M1652 468h0M1591 505h0M1268 755h0M1593 375h0M1648 490h0M1347 295h0M1818 415h0M1678 506h0M1862 286h0M1547 324h0M1295 479h0M1963 570h0M1528 608h0M1590 356h0M1758 376h0M1745 566h0M1747 482h0M1801 523h0M1873 555h0M1504 698h0M1552 287h0M1606 426h0M1572 416h0M1642 513h0M1389 309h0M1573 487h0M1377 288h0M1529 236h0M1773 502h0M1530 243h0M1510 379h0M1485 427h0M1456 346h0M1251 706h0M1535 641h0M1549 409h0M1670 482h0M1566 454h0M1623 316h0M1690 375h0M1524 401h0M1958 550h0M1755 380h0M1938 732h0M1820 688h0M1262 151h0M1472 333h0M1392 96h0M1771 400h0M1344 631h0M1550 163h0M1462 393h0M1654 258h0M1640 315h0M1672 86h0M1599 259h0M1715 334h0M1767 698h0M1400 731h0M1391 282h0M1693 441h0M1685 357h0M1711 357h0M1458 401h0M1455 431h0M1413 258h0M1504 423h0M1367 222h0M1748 399h0M1711 483h0M1285 545h0M1445 249h0M1777 451h0M1559 280h0M1584 351h0M1551 183h0M1613 457h0M1344 63h0M1847 664h0M1421 319h0M1693 387h0M1878 518h0M1534 448h0M1742 460h0M1457 215h0M1309 296h0M1639 366h0M1788 399h0M1784 682h0M1513 285h0M1527 275h0M1451 277h0M1640 284h0M1551 293h0M1907 717h0M1701 491h0M1604 245h0M1684 14h0M1672 271h0M1744 253h0M1389 386h0M1279 287h0M1630 502h0M1779 757h0M1428 388h0M1673 249h0M1645 348h0M1633 453h0M1785 463h0M1521 752h0M1830 430h0M1681 707h0M1544 394h0M1580 428h0M1521 354h0M1643 498h0M1552 359h0M1398 233h0M1740 718h0M1380 225h0M1388 284h0M1776 509h0M1627 393h0M1648 552h0M1627 426h0M1425 222h0M1399 109h0M1747 464h0M1233 252h0M1845 677h0M1904 469h0M1634 483h0M1862 578h0M1501 303h0M1614 477h0M1773 702h0M1328 671h0M1767 543h0M1895 606h0M1424 596h0M1772 408h0M1393 352h0M1542 406h0M1396 234h0M1738 430h0M1615 412h0M1612 428h0M1768 448h0M1616 469h0M1743 584h0M1562 493h0M1477 283h0M1637 411h0M1698 533h0M1513 227h0M1593 432h0M1645 431h0M1891 690h0M1469 291h0M1506 391h0M1584 299h0M1333 290h0M1649 261h0M1443 745h0M1577 438h0M1788 353h0M1946 347h0M1485 231h0M1365 222h0M1681 492h0M1728 479h0M1534 256h0M1508 384h0M1608 454h0M1536 347h0M1822 414h0M1640 263h0M1452 427h0M1405 196h0M1552 517h0M1605 441h0M1517 235h0M1621 375h0M1337 721h0M1741 493h0M1701 332h0M1442 229h0M1622 394h0M1562 217h0M1437 94h0M1635 478h0M1645 283h0M1646 124h0M1536 466h0M1859 557h0M1455 179h0M1400 246h0M1331 688h0M1482 242h0M1328 198h0M1585 410h0M1467 275h0M1768 476h0M1460 332h0M1409 315h0M1523 329h0M1447 442h0M1611 360h0M1383 280h0M1736 476h0M1522 370h0M1402 757h0M1398 226h0M1616 414h0M1423 166h0M1534 443h0M1576 390h0M1773 573h0M1548 550h0M1325 677h0M1612 443h0M1550 371h0M1645 499h0M1637 370h0M1726 405h0M1519 157h0M1960 254h0M1689 441h0M1648 402h0M1407 438h0M1457 361h0M1450 267h0M1566 243h0M1372 453h0M1369 689h0M1459 115h0M1694 418h0M1476 544h0M1484 445h0M1559 373h0M1875 745h0M1656 412h0M1377 544h0M1489 489h0M1547 354h0M1344 75h0M1600 286h0M1260 691h0M1393 257h0M1521 230h0M1627 545h0M1657 358h0M1866 274h0M1609 460h0M1706 502h0M1444 209h0M1560 450h0M1820 480h0M1540 267h0M1877 249h0M1850 771h0M1381 309h0M1646 298h0M1849 526h0M1867 240h0M1839 762h0M1498 344h0M1324 282h0M1445 402h0M1584 559h0M1775 459h0M1699 452h0M1395 729h0M1503 457h0M1603 467h0M1870 621h0M1406 384h0M1579 339h0M1776 582h0M1623 509h0M1848 436h0M1289 633h0M1255 581h0M1597 412h0M1584 421h0M1550 247h0M1869 235h0M1578 447h0M1365 159h0M1629 435h0M1250 653h0M1626 388h0M1562 363h0M1469 430h0M1478 343h0M1421 401h0M1526 289h0M1821 372h0M1393 700h0M1478 250h0M1529 321h0M1514 324h0M1779 257h0M1469 209h0M1408 296h0M1630 628h0M1758 747h0M1446 291h0M1524 248h0M1692 454h0M1785 545h0M1662 375h0M1435 297h0M1660 380h0M1483 347h0M1557 327h0M1582 349h0M1680 326h0M1473 206h0M1692 214h0M1684 279h0M1402 273h0M1643 284h0M1583 412h0M1741 654h0M1624 237h0M1341 282h0M1604 536h0M1468 172h0M1423 379h0M1764 342h0M1526 399h0M1478 324h0M1416 273h0M1423 427h0M1330 66h0M1376 159h0M1378 695h0M1656 438h0M1491 178h0M1418 180h0M1313 38h0M1525 230h0M1610 425h0M1572 240h0M1475 292h0M1907 189h0M1642 456h0M1753 580h0M1692 289h0M1609 702h0M1476 322h0M1615 490h0M1871 267h0M1431 382h0M1732 335h0M1637 470h0M1521 295h0M1569 415h0M1491 306h0M1777 412h0M1890 523h0M1675 577h0M1364 302h0M1402 279h0M1524 444h0M1584 372h0M1612 412h0M1870 559h0M1634 444h0M1520 224h0M1717 456h0M1856 668h0M1910 259h0M1480 213h0M1506 195h0M1564 334h0M1574 355h0M1765 495h0M1746 439h0M1436 397h0M1451 600h0M1651 451h0M1614 285h0M1445 264h0M1580 280h0M1385 312h0M1546 496h0M1567 380h0M1445 437h0M1771 472h0M1520 239h0M1610 338h0M1536 452h0M1558 439h0M1861 671h0M1476 270h0M1624 373h0M1883 290h0M1495 271h0M1398 693h0M1654 480h0M1656 412h0M1533 371h0M1917 249h0M1804 655h0M1738 479h0M1649 674h0M1623 355h0M1781 489h0M1505 253h0M1521 353h0M1849 456h0M1754 542h0M1680 427h0M1515 417h0M1761 336h0M1612 365h0M1481 445h0M1327 133h0M1783 228h0M1370 227h0M1561 389h0M1473 285h0M1388 457h0M1669 455h0M1472 383h0M1466 301h0M1452 238h0M1556 399h0M1755 450h0M1651 479h0M1430 284h0M1477 365h0M1476 190h0M1591 230h0M1250 652h0M1648 396h0M1542 386h0M1515 323h0M1364 188h0M1509 367h0M1583 98h0M1599 321h0M1300 737h0M1689 546h0M1857 450h0M1846 772h0M1724 440h0M1690 334h0M1780 537h0M1456 372h0M1512 451h0M1544 238h0M1540 182h0M1832 484h0M1539 333h0M1398 308h0M1815 651h0M1555 184h0M1604 319h0M1711 577h0M1716 500h0M1708 29h0M1610 410h0M1738 376h0M1403 404h0M1432 404h0M1434 323h0M1514 367h0M1302 133h0M1438 425h0M1707 547h0M1505 413h0M1715 482h0M1684 468h0M1375 369h0M1542 631h0M1726 476h0M1465 414h0M1764 687h0M1675 527h0M1586 294h0M1642 442h0M1710 547h0M1455 339h0M1376 319h0M1583 288h0M1630 446h0M1691 494h0M1566 396h0M1499 323h0M1468 363h0M1599 393h0M1612 438h0M1741 478h0M1658 616h0M1503 63h0M1240 266h0M1496 277h0M1600 311h0M1406 754h0M1221 726h0M1675 563h0M1417 204h0M1954 731h0M1866 271h0M1480 205h0M1480 311h0M1552 269h0M1330 206h0M1495 751h0M1705 503h0M1518 371h0M1637 251h0M1405 352h0M1624 342h0M1484 382h0M1673 467h0M1497 400h0M1497 352h0M1548 228h0M1806 366h0M1782 709h0M1797 549h0M1711 455h0M1531 448h0M1413 245h0M1847 463h0M1304 262h0M1902 111h0M1300 290h0M1549 392h0M1638 449h0M1474 343h0M1500 451h0M1672 460h0M1645 386h0M1671 425h0M1652 499h0M1662 197h0M1529 123h0M1509 145h0M1790 557h0M1896 252h0M1797 532h0M1860 262h0M1360 342h0M1733 459h0M1686 529h0M1566 736h0M1640 504h0M1543 246h0M1488 415h0M1384 251h0M1477 226h0M1309 165h0M1687 260h0M1610 251h0M1676 399h0M1380 693h0M1558 411h0M1887 572h0M1632 444h0M1575 524h0M1768 455h0M1390 382h0M1624 389h0M1525 261h0M1521 409h0M1610 367h0M1294 718h0M1745 539h0M1246 755h0M1615 484h0M1462 211h0M1504 347h0M1584 322h0M1406 286h0M1567 324h0M1590 409h0M1589 339h0M1640 398h0M1663 566h0M1792 461h0M1518 391h0M1689 320h0M1749 443h0M1623 330h0M1618 366h0M1552 429h0M1493 454h0M1691 480h0M1636 377h0M1715 645h0M1831 425h0M1415 242h0M1756 381h0M1621 248h0M1585 235h0M1577 427h0M1673 517h0M1477 289h0M1698 336h0M1938 741h0M1768 322h0M1580 391h0M1707 498h0M1583 416h0M1759 433h0M1696 339h0M1579 438h0M1533 755h0M1632 601h0M1637 449h0M1501 266h0M1374 310h0M1596 380h0M1649 576h0M1520 124h0M1529 688h0M1460 267h0M1645 488h0M1883 736h0M1464 299h0M1317 53h0M1716 556h0M1696 368h0M1849 574h0M1487 769h0M1656 461h0M1462 303h0M1509 214h0M1861 572h0M1623 318h0M1433 281h0M1495 481h0M1764 406h0M1476 270h0M1543 449h0M1504 411h0M1632 406h0M1279 194h0M1511 159h0M1871 289h0M1594 397h0M1854 760h0M1565 470h0M1829 566h0M1467 301h0M1521 241h0M1452 259h0M1472 334h0M1634 766h0M1668 498h0M1701 412h0M1427 324h0M1503 203h0M1605 297h0M1722 445h0M1640 480h0M1678 507h0M1681 311h0M1583 387h0M1588 415h0M1748 535h0M1604 252h0M1759 617h0M1535 326h0M1828 491h0M1922 262h0M1344 411h0M1549 389h0M1617 451h0M1563 381h0M1657 290h0M1673 363h0M1602 335h0M1493 316h0M1439 237h0M1658 385h0M1496 302h0M1720 511h0M1861 258h0M1858 252h0M1237 629h0M1571 403h0M1376 215h0M1505 367h0M1831 548h0M1662 515h0M1472 256h0M1559 417h0M1645 340h0M1705 417h0M1587 383h0M1606 121h0M1613 491h0M1365 161h0M1693 521h0M1716 414h0M1453 443h0M1566 408h0M1613 269h0M1314 155h0M1573 471h0M1530 205h0M1629 546h0M1629 463h0M1648 325h0M1341 462h0M1632 352h0M1854 422h0M1595 488h0M1444 369h0M1557 453h0M1448 234h0M1655 505h0M1750 349h0M1452 375h0M1726 420h0M1655 460h0M1562 554h0M1490 556h0M1467 278h0M1569 462h0M1324 105h0M1442 221h0M1651 355h0M1502 358h0M1839 526h0M1618 320h0M1674 359h0M1509 328h0M1733 498h0M1505 357h0M1456 261h0M1603 444h0M1461 312h0M1545 297h0M1882 246h0M1410 450h0M1664 575h0M1757 646h0M1612 316h0M1476 366h0M1526 306h0M1359 233h0M1721 701h0M1541 721h0M1505 536h0M1549 679h0M1562 502h0M1669 445h0M1632 315h0M1507 327h0M1688 538h0M1678 371h0M1974 606h0M1641 303h0M1671 645h0M1757 693h0M1317 178h0M1575 322h0M1678 324h0M1659 533h0M1658 330h0M1497 230h0M1486 184h0M1641 472h0M1737 464h0M1744 337h0M1968 291h0M1781 472h0M1548 319h0M1473 359h0M1721 561h0M1647 377h0M1527 478h0M1520 271h0M1492 151h0M1460 703h0M1630 478h0M1588 456h0M1591 243h0M1465 370h0M1636 362h0M1884 244h0M1537 321h0M1466 361h0M1660 294h0M1668 485h0M1699 70h0M1697 567h0M1757 422h0M1704 335h0M1458 279h0M1510 227h0M1566 458h0M1674 312h0M1633 335h0M1909 324h0M1657 483h0M1469 206h0M1523 547h0M1582 287h0M1500 365h0M1384 269h0M1567 634h0M1390 184h0M1549 438h0M1707 511h0M1697 224h0M1882 702h0M1404 310h0M1539 227h0M1493 209h0M1677 422h0M1972 583h0M1414 139h0M1595 336h0M1558 469h0M1733 541h0M1381 368h0M1720 482h0M1514 294h0M1553 377h0M1572 305h0M1556 762h0M1523 407h0M1909 759h0M1659 474h0M1420 219h0M1672 478h0M1652 576h0M1481 463h0M1646 362h0M1653 491h0M1425 194h0M1909 749h0M1946 604h0M1759 455h0M1651 658h0M1922 272h0M1452 248h0M1820 704h0M1731 461h0M1581 316h0M1629 406h0M1493 343h0M1553 220h0M1667 470h0M1730 230h0M1564 379h0M1447 415h0M1577 315h0M1443 426h0M1659 469h0M1456 306h0M1595 584h0M1260 618h0M1833 696h0M1666 739h0M1586 174h0M1673 489h0M1302 651h0M1265 428h0M1561 446h0M1496 299h0M1572 249h0M1520 440h0M1797 738h0M1415 699h0M1538 243h0M1428 274h0M1552 339h0M1601 247h0M1420 289h0M1223 713h0M1297 686h0M1682 528h0M1928 276h0M1601 459h0M1629 462h0M1478 399h0M1340 724h0M1745 654h0M1522 200h0M1835 170h0M1706 488h0M1453 421h0M1711 472h0M1646 340h0M1508 288h0M1700 403h0M1844 479h0M1526 303h0M1697 354h0M1888 248h0M1429 234h0M1589 433h0M1409 247h0M1815 672h0M1595 326h0M1790 526h0M1563 311h0M1521 388h0M1585 390h0M1422 181h0M1579 227h0M1718 769h0M1630 365h0M1728 444h0M1580 384h0M1417 234h0M1584 295h0M1515 635h0M1611 589h0M1543 656h0M1981 683h0M1721 553h0M1433 520h0M1691 434h0M1585 422h0M1710 49h0M1659 255h0M1624 468h0M1449 218h0M1624 556h0M1603 401h0M1411 177h0M1538 406h0M1637 368h0M1768 749h0M1539 221h0M1816 508h0M1566 448h0M1716 448h0M1284 326h0M1500 261h0M1682 302h0M1813 440h0M1665 429h0M1842 91h0M1448 230h0M1522 332h0M1657 592h0M1653 740h0M1473 392h0M1459 312h0M1650 764h0M1519 435h0M1824 487h0M1586 552h0M1850 227h0M1297 135h0M1711 508h0M1532 414h0M1798 702h0M1447 340h0M1799 483h0M1546 294h0M1585 413h0M1670 402h0M1247 75h0M1442 393h0M1662 695h0M1789 418h0M1693 405h0M1687 377h0M1826 492h0M1503 337h0M1451 150h0M1560 475h0M1661 517h0M1653 454h0M1795 380h0M1554 348h0M1671 284h0M1597 329h0M1618 575h0M1664 426h0M1498 347h0M1684 343h0M1539 526h0M1748 399h0M1672 357h0M1484 266h0M1695 481h0M1689 524h0M1723 397h0M1520 478h0M1436 303h0M1746 417h0M1597 403h0M1634 411h0M1862 647h0M1292 707h0M1565 442h0M1489 427h0M1538 429h0M1882 319h0M1673 333h0M1711 352h0M1517 343h0M1506 295h0M1800 444h0M1445 376h0M1635 703h0M1696 495h0M1654 268h0M1410 738h0M1670 583h0M1426 355h0M1731 708h0M1570 441h0M1597 408h0M1977 598h0M1929 440h0M1648 419h0M1477 196h0M1865 254h0M1722 433h0M1885 695h0M1507 227h0M1658 581h0M1698 84h0M1686 110h0M1452 255h0M1576 313h0M1475 417h0M1555 569h0M1448 486h0M1402 258h0M1422 322h0M1881 244h0M1583 434h0M1708 444h0" stroke="#000" stroke-opacity="0.8" stroke-width="2.0" stroke-linecap="round" fill="none"/>
<path d="M1539 16h0M1643 279h0M1480 747h0M1789 11h0M1296 325h0M1620 550h0M1837 186h0M1281 768h0M1686 330h0M1264 92h0M1294 141h0M1670 193h0M1977 714h0M1342 568h0M1423 188h0M1244 706h0M1239 726h0M1839 444h0M1962 544h0M1343 527h0M1609 384h0M1425 659h0M1257 724h0M1826 186h0M1787 25h0M1239 120h0M1488 396h0M1918 67h0M1827 629h0M1854 236h0M1637 509h0M1464 323h0M1819 273h0M1876 359h0M1465 633h0M1842 615h0M1666 185h0M1783 586h0M1324 403h0M1471 340h0M1306 752h0M1840 682h0M1245 527h0M1466 460h0M1325 329h0M1905 734h0M1494 180h0M1973 566h0M1925 336h0M1876 434h0M1727 647h0M1372 294h0M1919 611h0M1970 78h0M1428 113h0M1411 455h0M1241 523h0M1935 65h0M1614 270h0M1459 333h0M1272 748h0M1769 615h0M1719 49h0M1352 41h0M1780 157h0M1233 248h0M1885 233h0M1485 735h0M1431 630h0M1651 302h0M1504 456h0M1499 701h0M1301 262h0M1254 43h0M1414 725h0M1285 285h0M1327 9h0M1649 610h0M1954 414h0M1878 375h0M1783 526h0M1915 553h0M1306 187h0M1846 92h0M1254 518h0M1923 743h0M1447 743h0M1944 469h0M1684 428h0M1321 339h0M1315 225h0M1892 475h0M1666 513h0M1335 257h0M1823 748h0M1394 588h0M1556 605h0M1617 532h0M1778 450h0M1565 108h0M1415 716h0M1855 576h0M1912 482h0M1568 603h0M1599 354h0M1383 101h0M1754 527h0M1234 481h0M1597 637h0M1667 369h0M1896 703h0M1257 752h0M1355 575h0M1489 40h0M1578 286h0M1267 594h0M1484 565h0M1784 239h0M1272 502h0M1568 556h0M1859 231h0M1644 418h0M1298 491h0M1897 689h0M1358 342h0M1928 199h0M1749 651h0M1905 263h0M1549 269h0M1425 329h0M1807 125h0M1780 751h0M1654 278h0M1748 716h0M1383 757h0M1981 620h0M1584 145h0M1703 210h0M1603 288h0M1883 694h0M1919 671h0M1355 629h0M1580 264h0M1799 505h0M1959 58h0M1920 52h0M1646 200h0M1525 110h0M1872 562h0M1978 389h0M1696 313h0M1463 137h0M1919 565h0M1432 334h0M1577 719h0M1632 641h0M1769 9h0M1627 491h0M1409 418h0M1685 202h0M1239 173h0M1924 477h0M1667 65h0M1286 248h0M1303 487h0M1646 250h0M1930 694h0M1509 350h0M1349 695h0M1589 442h0M1431 151h0M1757 727h0M1662 644h0M1907 366h0M1868 34h0M1928 365h0M1469 81h0M1596 242h0M1878 457h0M1307 454h0M1819 397h0M1367 595h0M1753 643h0M1345 65h0M1761 385h0M1400 259h0M1837 425h0M1483 347h0M1722 468h0M1353 740h0M1486 10h0M1903 497h0M1347 143h0M1357 456h0M1712 689h0M1648 38h0M1361 513h0M1546 118h0M1576 284h0M1471 523h0M1348 479h0M1570 172h0M1641 672h0M1526 180h0M1869 89h0M1244 322h0M1387 744h0M1710 402h0M1535 21h0M1299 460h0M1604 640h0M1795 691h0M1766 296h0M1346 665h0M1250 192h0M1362 59h0M1885 273h0M1305 496h0M1304 486h0M1758 392h0M1671 447h0M1874 503h0M1741 704h0M1891 502h0M1468 370h0M1518 536h0M1331 670h0M1829 504h0M1782 344h0M1554 425h0M1388 264h0M1763 382h0M1462 392h0M1385 128h0M1792 761h0M1554 695h0M1921 215h0M1280 373h0M1487 9h0M1669 679h0M1414 443h0M1578 151h0M1236 532h0M1721 131h0M1789 513h0M1945 193h0M1487 656h0M1934 364h0M1743 713h0M1828 422h0M1734 332h0M1438 648h0M1666 766h0M1627 665h0M1593 706h0M1663 162h0M1593 481h0M1288 505h0M1915 253h0M1326 404h0M1580 73h0M1710 255h0M1794 264h0M1637 587h0M1365 304h0M1584 629h0M1235 378h0M1278 756h0M1394 679h0M1519 675h0M1911 440h0M1683 502h0M1421 52h0M1801 550h0M1790 740h0M1546 532h0M1354 624h0M1365 471h0M1777 464h0M1759 8h0M1956 479h0M1345 86h0M1448 184h0M1233 180h0M1705 385h0M1921 340h0M1715 485h0M1704 111h0M1344 190h0M1592 435h0M1373 272h0M1768 475h0M1364 626h0M1322 111h0M1631 586h0M1761 489h0M1688 740h0M1501 142h0M1613 584h0M1731 485h0M1857 256h0M1686 430h0M1382 148h0M1327 466h0M1883 721h0M1221 271h0M1677 345h0M1500 657h0M1555 563h0M1311 717h0M1646 82h0M1669 623h0M1615 306h0M1295 443h0M1243 156h0M1449 11h0M1493 710h0M1700 459h0M1742 293h0M1347 672h0M1841 379h0M1950 655h0M1830 451h0M1669 675h0M1259 480h0M1668 204h0M1226 235h0M1368 569h0M1395 662h0M1526 312h0M1431 530h0M1224 213h0M1838 233h0M1307 149h0M1857 602h0M1734 716h0M1341 551h0M1288 687h0M1978 696h0M1652 449h0M1483 88h0M1551 698h0M1744 227h0M1453 742h0M1980 750h0M1668 161h0M1973 29h0M1583 724h0M1373 578h0M1973 683h0M1422 675h0M1583 503h0M1463 448h0M1259 37h0M1249 293h0M1870 506h0M1410 562h0M1437 124h0M1638 72h0M1929 711h0M1274 45h0M1627 244h0M1297 77h0M1824 20h0M1634 717h0M1229 661h0M1439 740h0M1466 88h0M1814 205h0M1402 594h0M1700 342h0M1913 688h0M1618 385h0M1911 46h0M1410 259h0M1586 133h0M1800 430h0M1889 173h0M1542 454h0M1909 630h0M1752 643h0M1583 317h0M1377 58h0M1898 648h0M1243 122h0M1831 408h0M1350 688h0M1318 40h0M1539 548h0M1527 21h0M1891 254h0M1893 341h0M1588 378h0M1919 729h0M1239 637h0M1361 45h0M1543 28h0M1813 207h0M1937 322h0M1945 730h0M1879 557h0M1796 331h0M1549 447h0M1869 24h0M1860 469h0M1782 739h0M1448 664h0M1230 17h0M1653 659h0M1687 133h0M1882 506h0M1256 141h0M1481 122h0M1734 567h0M1753 252h0M1243 381h0M1930 580h0M1522 511h0M1794 148h0M1923 145h0M1807 305h0M1225 367h0M1637 356h0M1908 327h0M1760 701h0M1606 372h0M1347 609h0M1605 343h0M1878 640h0M1379 263h0M1637 52h0M1325 705h0M1832 239h0M1546 505h0M1530 316h0M1980 315h0M1587 528h0M1384 266h0M1236 471h0M1511 565h0M1962 22h0M1898 712h0M1399 211h0M1408 727h0M1239 98h0M1797 725h0M1617 159h0M1494 697h0M1460 37h0M1954 205h0M1664 409h0M1320 677h0M1618 319h0M1492 264h0M1282 59h0M1736 356h0M1367 743h0M1623 373h0M1728 224h0M1981 664h0M1279 708h0M1508 105h0M1268 755h0M1439 319h0M1698 307h0M1608 93h0M1342 109h0M1813 643h0M1301 514h0M1630 558h0M1577 495h0M1306 710h0M1808 343h0M1389 599h0M1388 412h0M1662 341h0M1907 488h0M1608 474h0M1481 690h0M1572 372h0M1575 415h0M1504 598h0M1475 235h0M1495 544h0M1504 327h0M1409 472h0M1824 565h0M1705 48h0M1696 410h0M1511 277h0M1890 322h0M1847 624h0M1802 475h0M1400 697h0M1282 438h0M1911 90h0M1975 55h0M1483 629h0M1485 30h0M1581 147h0M1723 22h0M1374 689h0M1637 163h0M1259 138h0M1359 517h0M1644 466h0M1514 624h0M1807 237h0M1455 243h0M1354 282h0M1296 684h0M1356 516h0M1687 532h0M1614 740h0M1829 533h0M1584 70h0M1649 133h0M1603 40h0M1871 489h0M1444 549h0M1564 275h0M1278 231h0M1542 85h0M1285 643h0M1309 34h0M1488 30h0M1686 137h0M1315 267h0M1234 324h0M1925 464h0M1811 87h0M1293 90h0M1373 52h0M1815 329h0M1363 688h0M1758 17h0M1736 496h0M1417 233h0M1931 473h0M1678 513h0M1310 118h0M1738 269h0M1492 751h0M1467 365h0M1271 19h0M1484 210h0M1936 713h0M1398 384h0M1727 356h0M1788 88h0M1291 603h0M1802 28h0M1404 634h0M1694 549h0M1954 508h0M1899 273h0M1541 93h0M1912 171h0M1562 128h0M1386 280h0M1725 316h0M1319 141h0M1239 503h0M1799 121h0M1869 448h0M1761 681h0M1893 455h0M1819 730h0M1461 759h0M1908 620h0M1519 116h0M1698 275h0M1436 536h0M1260 487h0M1817 648h0M1384 24h0M1899 769h0M1269 258h0M1554 539h0M1890 202h0M1851 752h0M1436 726h0M1692 607h0M1468 743h0M1739 590h0M1868 397h0M1756 408h0M1795 86h0M1458 173h0M1380 139h0M1632 726h0M1499 597h0M1525 522h0M1980 110h0M1491 370h0M1612 763h0M1505 432h0M1464 398h0M1808 466h0M1435 76h0M1470 647h0M1342 625h0M1445 309h0M1683 542h0M1974 473h0M1461 198h0M1687 478h0M1292 224h0M1474 491h0M1474 399h0M1478 611h0M1457 145h0M1550 574h0M1892 336h0M1832 646h0M1279 703h0M1364 401h0M1385 470h0M1502 152h0M1370 154h0M1594 194h0M1335 235h0M1445 660h0M1738 235h0M1271 176h0M1962 695h0M1466 436h0M1733 687h0M1882 622h0M1384 760h0M1234 82h0M1455 362h0M1775 354h0M1722 236h0M1772 359h0M1279 709h0M1948 299h0M1598 454h0M1456 274h0M1736 218h0M1664 295h0M1761 767h0M1803 625h0M1313 696h0M1749 539h0M1568 294h0M1354 730h0M1243 164h0M1699 356h0M1322 327h0M1475 580h0M1903 379h0M1766 427h0M1713 182h0M1564 556h0M1427 123h0M1336 123h0M1488 9h0M1418 581h0M1904 769h0M1319 131h0M1957 508h0M1834 584h0M1335 246h0M1393 667h0M1614 471h0M1463 17h0M1642 353h0M1293 214h0M1397 744h0M1599 296h0M1924 630h0M1686 693h0M1797 572h0M1737 96h0M1498 285h0M1623 763h0M1963 416h0M1683 632h0M1897 122h0M1237 515h0M1962 194h0M1223 41h0M1326 352h0M1322 719h0M1680 685h0M1362 508h0M1809 690h0M1541 201h0M1690 163h0M1598 645h0M1245 649h0M1397 223h0M1867 576h0M1554 734h0M1889 291h0M1272 152h0M1944 162h0M1683 656h0M1698 414h0M1357 644h0M1666 18h0M1257 138h0M1480 335h0M1758 604h0M1556 472h0M1674 746h0M1369 495h0M1974 123h0M1484 687h0M1949 608h0M1891 198h0M1910 296h0M1677 519h0M1290 429h0M1262 63h0M1635 267h0M1612 747h0M1245 656h0M1735 478h0M1355 96h0M1341 422h0M1337 306h0M1916 483h0M1511 610h0M1652 749h0M1461 257h0M1663 394h0M1766 413h0M1587 214h0M1254 517h0M1952 562h0M1586 85h0M1577 401h0M1443 344h0M1226 574h0M1642 262h0M1580 731h0M1949 481h0M1541 70h0M1507 613h0M1902 119h0M1259 410h0M1292 409h0M1832 359h0M1706 144h0M1408 363h0M1236 646h0M1690 243h0M1268 290h0M1402 457h0M1265 354h0M1690 249h0M1226 126h0M1674 676h0M1828 664h0M1589 468h0M1751 247h0M1555 153h0M1709 26h0M1739 324h0M1586 161h0M1926 604h0M1461 336h0M1665 419h0M1411 676h0M1853 426h0M1687 24h0M1273 186h0M1249 128h0M1861 73h0M1959 538h0M1740 757h0M1682 745h0M1389 347h0M1393 455h0M1585 166h0M1477 689h0M1398 646h0M1775 760h0M1675 389h0M1777 519h0M1245 57h0M1522 206h0M1255 582h0M1631 437h0M1740 529h0M1234 116h0M1299 671h0M1404 733h0M1542 497h0M1515 197h0M1354 401h0M1221 439h0M1722 108h0M1226 724h0M1321 531h0M1641 346h0M1556 209h0M1529 92h0M1516 65h0M1601 511h0M1950 485h0M1893 462h0M1491 594h0M1947 67h0M1360 763h0M1600 38h0M1242 76h0M1613 94h0M1435 767h0M1659 244h0M1707 70h0M1764 517h0M1745 242h0M1443 306h0M1965 44h0M1984 497h0M1545 312h0M1945 667h0M1478 244h0M1616 232h0M1455 112h0M1853 226h0M1819 413h0M1738 608h0M1266 378h0M1854 591h0M1394 242h0M1610 382h0M1760 182h0M1940 470h0M1281 590h0M1901 448h0M1519 241h0M1749 487h0M1860 147h0M1593 737h0M1895 674h0M1296 688h0M1306 483h0M1726 422h0M1796 480h0M1781 166h0M1530 144h0M1582 273h0M1842 758h0M1443 627h0M1489 678h0M1908 216h0M1956 138h0M1830 663h0M1924 171h0M1406 624h0M1573 311h0M1965 644h0M1734 602h0M1929 744h0M1350 233h0M1755 188h0M1589 716h0M1441 233h0M1903 342h0M1819 306h0M1245 409h0M1726 66h0M1962 269h0M1683 658h0M1643 163h0M1435 646h0M1545 375h0M1441 402h0M1547 124h0M1309 554h0M1248 238h0M1570 569h0M1481 541h0M1558 511h0M1224 237h0M1875 129h0M1330 494h0M1321 74h0M1838 673h0M1691 384h0M1913 481h0M1840 763h0M1923 197h0M1590 547h0M1924 757h0M1309 606h0M1272 410h0M1469 681h0M1791 574h0M1553 9h0M1384 591h0M1973 738h0M1527 182h0M1775 180h0M1593 503h0M1722 248h0M1457 443h0M1719 220h0M1705 722h0M1262 381h0M1913 144h0M1629 625h0M1573 208h0M1719 174h0M1905 547h0M1678 367h0M1843 683h0M1736 148h0M1603 78h0M1852 193h0M1853 764h0M1372 618h0M1644 656h0M1923 250h0M1309 285h0M1942 655h0M1653 503h0M1604 225h0M1558 683h0M1925 552h0M1376 672h0M1718 175h0M1980 405h0M1838 345h0M1724 161h0M1331 535h0M1917 699h0M1956 207h0M1811 469h0M1639 723h0M1408 136h0M1313 645h0M1303 281h0M1363 540h0M1303 145h0M1949 34h0M1960 197h0M1685 634h0M1582 516h0M1489 532h0M1691 660h0M1355 678h0M1784 288h0M1249 47h0M1554 453h0M1648 729h0M1954 197h0M1265 184h0M1861 82h0M1687 233h0M1704 432h0M1682 754h0M1451 159h0M1469 21h0M1639 354h0M1960 125h0M1788 125h0M1534 647h0M1451 148h0M1759 221h0M1780 611h0M1723 586h0M1915 656h0M1559 386h0M1597 117h0M1974 222h0M1642 123h0M1646 608h0M1859 609h0M1855 676h0M1490 110h0M1585 475h0M1258 66h0M1726 455h0M1421 281h0M1270 331h0M1653 82h0M1464 189h0M1479 324h0M1358 268h0M1400 346h0M1252 15h0M1224 21h0M1917 764h0M1981 303h0M1573 529h0M1467 22h0M1720 175h0M1496 714h0M1472 106h0M1352 744h0M1961 578h0M1243 769h0M1536 628h0M1780 688h0M1609 517h0M1354 598h0M1510 178h0M1721 397h0M1656 442h0M1429 725h0M1267 363h0M1425 326h0M1444 485h0M1695 147h0M1814 590h0M1318 754h0M1634 353h0M1701 14h0M1541 187h0M1534 50h0M1825 342h0M1355 307h0M1904 622h0M1931 450h0M1545 130h0M1732 20h0M1467 636h0M1825 546h0M1694 315h0M1511 295h0M1526 251h0M1725 653h0M1297 733h0M1812 303h0M1955 173h0M1782 504h0M1761 120h0M1413 555h0M1608 741h0M1981 112h0M1886 277h0M1561 406h0M1579 665h0M1600 103h0M1407 610h0M1720 772h0M1492 298h0M1612 109h0M1325 739h0M1245 177h0M1904 135h0M1280 525h0M1716 714h0M1482 317h0M1877 478h0M1882 237h0M1972 526h0M1275 10h0M1869 43h0M1274 435h0M1516 504h0M1978 432h0M1837 150h0M1682 586h0M1559 714h0M1682 418h0M1702 527h0M1969 312h0M1244 636h0M1822 264h0M1371 243h0M1440 299h0M1320 441h0M1655 48h0M1732 456h0M1984 517h0M1909 124h0M1405 223h0M1901 331h0M1581 179h0M1403 153h0M1631 692h0M1388 8h0M1314 38h0M1324 73h0M1720 316h0M1618 290h0M1809 483h0M1660 637h0M1550 607h0M1310 610h0M1682 729h0M1326 509h0M1605 759h0M1430 616h0M1868 660h0M1309 507h0M1470 382h0M1826 402h0M1832 370h0M1727 707h0M1339 182h0M1766 344h0M1498 726h0M1972 28h0M1928 364h0M1949 382h0M1723 703h0M1494 271h0M1444 408h0M1971 260h0M1519 610h0M1283 587h0M1247 274h0M1828 288h0M1549 699h0M1635 184h0M1624 21h0M1883 304h0M1416 428h0M1908 348h0M1579 66h0M1542 401h0M1282 415h0M1484 284h0M1881 531h0M1884 412h0M1875 565h0M1681 164h0M1556 50h0M1285 730h0M1936 653h0M1427 712h0M1783 662h0M1250 720h0M1961 240h0M1264 713h0M1842 121h0M1893 66h0M1856 403h0M1662 566h0M1406 347h0M1245 386h0M1438 67h0M1276 572h0M1665 507h0M1429 190h0M1322 516h0M1675 277h0M1506 194h0M1386 260h0M1653 308h0M1921 608h0M1660 273h0M1853 181h0M1591 282h0M1730 298h0M1221 38h0M1509 140h0M1800 494h0M1456 591h0M1292 301h0M1738 571h0M1237 753h0M1341 425h0M1295 280h0M1588 661h0M1674 532h0M1933 345h0M1749 570h0M1901 390h0M1507 207h0M1529 166h0M1787 358h0M1387 583h0M1276 368h0M1609 719h0M1966 490h0M1369 238h0M1698 69h0M1858 593h0M1435 532h0M1527 21h0M1346 740h0M1831 669h0M1336 325h0M1676 154h0M1674 406h0M1943 732h0M1520 52h0M1338 652h0M1672 543h0M1722 621h0M1444 270h0M1234 364h0M1946 271h0M1287 496h0M1392 173h0M1896 215h0M1505 70h0M1280 107h0M1835 522h0M1497 30h0M1253 116h0M1852 259h0M1866 291h0M1876 21h0M1594 642h0M1753 485h0M1680 758h0M1431 573h0M1246 644h0M1620 541h0M1866 389h0M1601 610h0M1947 63h0M1725 36h0M1420 211h0M1975 482h0M1752 766h0M1476 269h0M1795 407h0M1424 66h0M1804 426h0M1483 566h0M1671 727h0M1749 313h0M1234 567h0M1300 486h0M1329 230h0M1544 532h0M1487 731h0M1442 22h0M1434 527h0M1422 207h0M1867 385h0M1545 361h0M1750 107h0M1693 61h0M1344 538h0M1548 230h0M1401 601h0M1884 705h0M1788 21h0M1895 709h0M1983 691h0M1339 594h0M1369 551h0M1509 124h0M1337 251h0M1496 278h0M1503 248h0M1765 221h0M1775 524h0M1329 237h0M1562 66h0M1473 425h0M1875 160h0M1259 529h0M1304 532h0M1498 39h0M1711 144h0M1565 488h0M1254 334h0M1518 472h0M1945 612h0M1585 556h0M1459 578h0M1359 99h0M1286 32h0M1457 620h0M1759 15h0M1306 119h0M1689 123h0M1299 414h0M1304 435h0M1692 435h0M1512 188h0M1319 679h0M1976 225h0M1679 681h0M1542 630h0M1488 618h0M1544 491h0M1434 609h0M1255 440h0M1618 717h0M1748 642h0M1433 731h0M1855 335h0M1250 550h0M1304 133h0M1450 749h0M1300 759h0M1518 196h0M1746 753h0M1508 284h0M1490 8h0M1285 42h0M1352 601h0M1647 369h0M1575 380h0M1632 368h0M1559 246h0M1594 651h0M1795 567h0M1727 61h0M1446 360h0M1942 719h0M1399 200h0M1710 442h0M1577 269h0M1548 372h0M1477 544h0M1754 409h0M1793 757h0M1556 246h0M1703 440h0M1411 263h0M1656 37h0M1624 372h0M1481 294h0M1713 562h0M1530 302h0M1798 588h0M1589 302h0M1554 459h0M1525 723h0M1542 603h0M1655 448h0M1469 380h0M1765 190h0M1622 481h0M1710 594h0M1535 460h0M1446 175h0M1673 297h0M1503 418h0M1513 459h0M1725 411h0M1662 323h0M1475 361h0M1831 549h0M1792 530h0M1678 380h0M1573 493h0M1285 387h0M1358 461h0M1695 728h0M1659 340h0M1483 377h0M1540 195h0M1763 480h0M1564 631h0M1659 407h0M1528 451h0M1590 315h0M1661 281h0M1635 496h0M1565 442h0M1641 299h0M1622 402h0M1711 374h0M1543 325h0M1624 353h0M1807 566h0M1600 708h0M1539 327h0M1624 23h0M1814 288h0M1723 543h0M1235 368h0M1482 384h0M1671 454h0M1490 491h0M1868 265h0M1593 370h0M1579 237h0M1663 493h0M1671 684h0M1569 188h0M1658 447h0M1675 374h0M1745 576h0M1384 738h0M1771 727h0M1282 516h0M1497 213h0M1560 469h0M1282 468h0M1693 378h0M1331 610h0M1491 353h0M1566 337h0M1522 408h0M1905 259h0M1595 376h0M1499 370h0M1523 247h0M1771 505h0M1427 408h0M1571 267h0M1394 333h0M1739 484h0M1348 198h0M1292 684h0M1363 304h0M1681 457h0M1754 436h0M1908 742h0M1649 369h0M1627 425h0M1581 306h0M1742 443h0M1607 45h0M1777 334h0M1685 240h0M1629 703h0M1226 386h0M1642 517h0M1456 307h0M1593 426h0M1614 253h0M1671 8h0M1455 477h0M1683 454h0M1409 101h0M1634 319h0M1686 376h0M1565 504h0M1233 332h0M1609 419h0M1609 447h0M1394 685h0M1391 224h0M1465 339h0M1581 253h0M1467 175h0M1631 449h0M1728 527h0M1760 487h0M1346 699h0M1557 386h0M1747 340h0M1763 522h0M1545 393h0M1505 423h0M1619 398h0M1456 354h0M1623 449h0M1778 519h0M1558 273h0M1633 361h0M1838 20h0M1310 270h0M1409 260h0M1497 356h0M1555 333h0M1699 464h0M1609 445h0M1457 410h0M1778 375h0M1366 245h0M1396 265h0M1539 472h0M1479 336h0M1524 474h0M1709 403h0M1424 395h0M1443 721h0M1606 497h0M1657 468h0M1624 563h0M1656 511h0M1376 227h0M1359 208h0M1578 292h0M1838 353h0M1637 357h0M1507 375h0M1439 367h0M1706 541h0M1512 285h0M1888 272h0M1421 166h0M1889 284h0M1377 523h0M1604 380h0M1350 106h0M1723 465h0M1857 251h0M1333 228h0M1591 454h0M1417 204h0M1372 274h0M1425 143h0M1548 589h0M1525 49h0M1501 236h0M1365 286h0M1518 221h0M1889 261h0M1408 413h0M1381 731h0M1774 529h0M1777 378h0M1415 279h0M1494 347h0M1540 147h0M1590 415h0M1605 413h0M1573 434h0M1892 226h0M1649 516h0M1759 442h0M1873 277h0M1841 333h0M1494 216h0M1608 462h0M1455 142h0M1879 251h0M1635 383h0M1465 492h0M1614 325h0M1659 350h0M1512 430h0M1279 745h0M1590 559h0M1231 356h0M1317 338h0M1605 194h0M1473 210h0M1490 267h0M1518 241h0M1472 341h0M1444 255h0M1668 468h0M1848 252h0M1544 432h0M1824 292h0M1922 713h0M1332 470h0M1897 239h0M1656 512h0M1503 340h0M1621 307h0M1683 468h0M1530 304h0M1524 373h0M1351 242h0M1937 737h0M1563 533h0M1357 306h0M1562 364h0M1585 771h0M1637 392h0M1807 431h0M1885 269h0M1630 302h0M1523 398h0M1605 304h0M1717 451h0M1978 585h0M1376 224h0M1766 342h0M1657 479h0M1705 434h0M1681 418h0M1449 240h0M1512 419h0M1729 544h0M1396 284h0M1832 542h0M1802 183h0M1585 412h0M1660 541h0M1448 347h0M1574 243h0M1544 425h0M1696 521h0M1683 407h0M1536 176h0M1628 450h0M1901 280h0M1936 490h0M1746 501h0M1550 569h0M1956 647h0M1730 554h0M1678 407h0M1465 313h0M1270 78h0M1766 755h0M1526 362h0M1662 239h0M1680 385h0M1437 375h0M1497 207h0M1737 701h0M1437 98h0M1424 208h0M1544 355h0M1614 680h0M1416 227h0M1667 435h0M1860 198h0M1883 253h0M1742 550h0M1448 411h0M1529 431h0M1764 415h0M1554 204h0M1523 201h0M1418 240h0M1747 515h0M1583 328h0M1493 419h0M1678 358h0M1748 453h0M1613 291h0M1550 459h0M1480 230h0M1741 427h0M1795 508h0M1880 279h0M1867 325h0M1634 16h0M1471 256h0M1424 153h0M1549 342h0M1462 442h0M1539 188h0M1630 286h0M1894 282h0M1764 244h0M1711 610h0M1442 512h0M1465 430h0M1390 46h0M1295 304h0M1582 297h0M1875 241h0M1637 456h0M1508 244h0M1461 351h0M1570 337h0M1579 270h0M1410 65h0M1521 408h0M1862 538h0M1563 400h0M1770 263h0M1567 538h0M1528 325h0M1595 308h0M1754 506h0M1430 282h0M1440 276h0M1791 380h0M1461 199h0M1380 303h0M1549 264h0M1468 226h0M1570 172h0M1654 506h0M1489 439h0M1436 691h0M1508 251h0M1315 216h0M1684 466h0M1404 185h0M1460 250h0M1548 441h0M1520 755h0M1395 270h0M1496 445h0M1547 369h0M1590 474h0M1732 437h0M1812 426h0M1462 385h0M1581 485h0M1644 463h0M1755 652h0M1728 609h0M1663 492h0M1710 447h0M1414 253h0M1567 261h0M1476 233h0M1684 359h0M1622 286h0M1563 461h0M1618 444h0M1782 468h0M1706 371h0M1422 689h0M1680 403h0M1570 269h0M1571 348h0M1755 461h0M1678 371h0M1742 555h0M1271 306h0M1757 604h0M1294 679h0M1597 354h0M1668 476h0M1560 311h0M1606 430h0M1980 344h0M1464 275h0M1271 170h0M1485 730h0M1470 390h0M1618 288h0M1754 445h0M1594 534h0M1613 455h0M1453 642h0M1566 217h0M1329 756h0M1252 132h0M1651 438h0M1961 659h0M1751 390h0M1470 342h0M1841 414h0M1872 73h0M1674 480h0M1947 739h0M1931 209h0M1717 574h0M1525 244h0M1467 298h0M1901 304h0M1641 531h0M1696 542h0M1689 395h0M1797 665h0M1706 729h0M1341 157h0M1692 746h0M1566 445h0M1651 127h0M1474 265h0M1677 302h0M1766 688h0M1415 295h0M1523 339h0M1431 320h0M1510 566h0M1568 509h0M1617 282h0M1340 402h0M1628 460h0M1766 387h0M1708 389h0M1704 477h0M1484 410h0M1655 262h0M1711 401h0M1382 301h0M1566 379h0M1716 458h0M1553 254h0M1625 309h0M1465 198h0M1895 261h0M1615 503h0M1669 470h0M1476 585h0M1548 450h0M1471 241h0M1577 232h0M1742 407h0M1467 276h0M1669 376h0M1511 339h0M1673 447h0M1363 673h0M1670 473h0M1356 240h0M1356 264h0M1613 269h0M1703 524h0M1737 466h0M1513 326h0M1603 305h0M1671 524h0M1814 367h0M1631 332h0M1475 278h0M1607 457h0M1593 483h0M1701 524h0M1543 327h0M1371 757h0M1347 204h0M1525 254h0M1382 447h0M1410 217h0M1611 457h0M1483 420h0M1463 269h0M1564 384h0M1551 472h0M1585 467h0M1645 452h0M1717 476h0M1757 390h0M1734 385h0M1812 533h0M1403 316h0M1372 198h0M1675 367h0M1271 736h0M1821 322h0M1470 553h0M1394 322h0M1714 480h0M1455 258h0M1610 612h0M1402 226h0M1621 39h0M1684 45h0M1567 348h0M1578 192h0M1574 352h0M1861 262h0M1669 409h0M1472 301h0M1391 203h0M1832 540h0M1506 307h0M1596 456h0M1473 239h0M1965 251h0M1575 257h0M1899 505h0M1715 484h0M1828 626h0M1820 545h0M1884 599h0M1608 240h0M1395 142h0M1420 151h0M1457 429h0M1390 230h0M1566 303h0M1424 715h0M1572 561h0M1502 286h0M1424 317h0M1428 248h0M1423 283h0M1685 640h0M1423 278h0M1514 432h0M1772 387h0M1601 481h0M1886 256h0M1497 368h0M1618 483h0M1697 414h0M1776 531h0M1671 435h0M1604 606h0M1539 426h0M1830 410h0M1580 421h0M1553 313h0M1669 346h0M1955 73h0M1485 269h0M1484 346h0M1356 268h0M1840 448h0M1573 329h0M1678 725h0M1751 421h0M1438 276h0M1571 266h0M1855 235h0M1545 434h0M1680 248h0M1719 338h0M1604 335h0M1469 259h0M1615 436h0M1544 411h0M1491 288h0M1428 442h0M1668 510h0M1884 602h0M1459 397h0M1617 428h0M1806 465h0M1712 506h0M1670 515h0M1335 513h0M1449 301h0M1454 184h0M1662 441h0M1455 363h0M1791 397h0M1468 369h0M1881 233h0M1469 311h0M1568 262h0M1671 519h0M1500 192h0M1663 374h0M1845 371h0M1383 378h0M1699 385h0M1527 352h0M1596 403h0M1523 595h0M1733 406h0M1331 326h0M1729 663h0M1709 684h0M1729 598h0M1571 408h0M1513 441h0M1625 700h0M1343 406h0M1460 248h0M1865 727h0M1543 249h0M1511 329h0M1462 315h0M1696 344h0M1477 232h0M1752 336h0M1221 662h0M1879 614h0M1463 233h0M1609 471h0M1762 441h0M1466 261h0M1638 292h0M1562 489h0M1893 474h0M1777 491h0M1455 243h0M1609 225h0M1776 487h0M1696 456h0M1478 261h0M1585 157h0M1608 541h0M1492 448h0M1890 529h0M1579 309h0M1594 332h0M1595 496h0M1698 441h0M1898 406h0M1287 232h0M1668 303h0M1752 151h0M1399 343h0M1606 316h0M1897 382h0M1753 423h0M1664 192h0M1815 390h0M1614 281h0M1399 222h0M1602 700h0M1562 493h0M1671 470h0M1799 654h0M1446 217h0M1393 250h0M1613 436h0M1540 442h0M1377 387h0M1890 266h0M1543 456h0M1546 161h0M1548 388h0M1456 675h0M1754 372h0M1529 288h0M1835 410h0M1386 317h0M1738 735h0M1546 356h0M1490 250h0M1745 446h0M1582 134h0M1752 644h0M1497 388h0M1764 471h0M1823 459h0M1541 339h0M1544 297h0M1477 231h0M1413 519h0M1800 754h0M1851 145h0M1615 409h0M1358 641h0M1641 398h0M1769 631h0M1446 676h0M1520 407h0M1487 328h0M1380 744h0M1663 680h0M1693 297h0M1746 449h0M1535 227h0M1901 269h0M1369 586h0M1885 666h0M1675 458h0M1638 251h0M1528 457h0M1583 331h0M1484 314h0M1800 482h0M1517 433h0M1777 704h0M1515 704h0M1485 461h0M1443 256h0M1861 406h0M1588 320h0M1682 451h0M1524 510h0M1673 407h0M1404 477h0M1700 583h0M1596 418h0M1631 420h0M1507 371h0M1637 528h0M1547 629h0M1413 766h0M1379 720h0M1616 379h0M1507 336h0M1488 424h0M1649 437h0M1566 528h0M1399 146h0M1289 597h0M1695 372h0M1379 388h0M1805 570h0M1458 431h0M1648 505h0M1571 424h0M1422 414h0M1772 292h0M1771 456h0M1603 327h0M1575 268h0M1666 361h0M1744 474h0M1695 449h0M1416 280h0M1925 588h0M1766 461h0M1645 732h0M1766 339h0M1650 326h0M1644 329h0M1399 392h0M1777 437h0M1886 238h0M1643 525h0M1718 631h0M1639 641h0M1624 414h0M1581 188h0M1466 302h0M1882 241h0M1646 479h0M1853 711h0M1543 252h0M1576 357h0M1403 681h0M1504 166h0M1603 512h0M1510 404h0M1583 337h0M1626 357h0M1788 429h0M1666 518h0M1757 396h0M1439 403h0M1600 415h0M1464 244h0M1411 148h0M1651 348h0M1391 328h0M1696 523h0M1575 371h0M1710 460h0M1891 253h0M1910 261h0M1684 365h0M1658 353h0M1454 410h0M1751 487h0M1456 181h0M1760 515h0M1698 358h0M1667 429h0M1402 352h0M1983 628h0M1704 356h0M1849 355h0M1616 468h0M1579 457h0M1621 435h0M1324 742h0M1565 407h0M1588 282h0M1662 400h0M1667 431h0M1559 360h0M1778 562h0M1399 354h0M1694 599h0M1577 307h0M1354 146h0M1526 379h0M1429 196h0M1518 432h0M1854 306h0M1479 358h0M1470 240h0M1691 392h0M1532 758h0M1734 313h0M1532 339h0M1622 536h0M1439 231h0M1676 318h0M1544 765h0M1540 360h0M1602 287h0M1396 272h0M1626 299h0M1634 386h0M1557 555h0M1825 579h0M1583 272h0M1553 502h0M1367 328h0M1644 201h0M1670 340h0M1778 580h0M1868 230h0M1717 456h0M1582 437h0M1575 207h0M1694 434h0M1535 426h0M1300 647h0M1562 477h0M1517 233h0M1641 393h0M1698 468h0M1658 430h0M1497 316h0M1596 290h0M1490 447h0M1715 184h0M1565 347h0M1523 361h0M1544 408h0M1809 387h0M1299 352h0M1761 262h0M1519 276h0M1757 640h0M1516 343h0M1565 514h0M1387 317h0M1775 223h0M1671 479h0M1819 490h0M1674 535h0M1644 504h0M1676 434h0M1828 168h0M1231 673h0M1459 332h0M1601 466h0M1886 673h0M1631 300h0M1602 414h0M1636 373h0M1534 330h0M1661 318h0M1500 189h0M1510 318h0M1897 411h0M1771 81h0M1851 525h0M1674 494h0M1622 318h0M1687 553h0M1534 559h0M1557 468h0M1504 406h0M1664 298h0M1454 121h0M1710 496h0M1414 246h0M1262 267h0M1608 410h0M1797 336h0M1549 363h0M1687 467h0M1716 520h0M1665 406h0M1592 261h0M1536 339h0M1538 346h0M1534 303h0M1787 469h0M1450 408h0M1601 407h0M1900 526h0M1575 323h0M1445 188h0M1749 446h0M1777 593h0M1662 375h0M1547 339h0M1525 325h0M1682 459h0M1382 239h0M1469 179h0M1584 429h0M1729 600h0M1434 376h0M1565 313h0M1773 463h0M1474 283h0M1641 438h0M1605 503h0M1538 373h0M1720 515h0M1682 477h0M1622 225h0M1782 505h0M1455 249h0M1635 499h0M1760 323h0M1612 470h0M1571 431h0M1553 337h0M1761 354h0M1576 481h0M1758 436h0M1777 419h0M1526 713h0M1594 454h0M1385 226h0M1273 294h0M1680 456h0M1661 434h0M1604 264h0M1607 419h0M1963 628h0M1682 360h0M1770 480h0M1774 554h0M1886 269h0M1796 527h0M1348 310h0M1694 337h0M1460 238h0M1481 360h0M1456 289h0M1721 572h0M1588 388h0M1471 316h0" stroke="#000" stroke-opacity="0.8" stroke-width="2.7" stroke-linecap="round" fill="none"/>
<circle cx="1881.5" cy="261" r="34" fill="url(#gblob)"/>
<circle cx="1454" cy="80" r="9" fill="url(#gblob)"/>
<circle cx="1436" cy="37" r="5" fill="url(#gblob)"/>
<circle cx="1511.6" cy="23" r="6" fill="url(#gblob)"/>
<circle cx="1390.4" cy="59" r="4" fill="url(#gblob)"/>
<circle cx="1428.5" cy="93.5" r="4" fill="url(#gblob)"/>
<circle cx="1373.6" cy="191" r="4" fill="url(#gblob)"/>
<circle cx="1440.5" cy="204.5" r="4" fill="url(#gblob)"/>
<circle cx="1406" cy="333.5" r="8" fill="url(#gblob)"/>
<circle cx="1416.5" cy="365" r="5" fill="url(#gblob)"/>
<circle cx="1361" cy="426.5" r="9" fill="url(#gblob)"/>
<circle cx="1467.5" cy="442.4" r="4" fill="url(#gblob)"/>
<circle cx="1788.5" cy="141.5" r="5" fill="url(#gblob)"/>
<circle cx="1665.5" cy="478" r="5" fill="url(#gblob)"/>
<circle cx="1266.7" cy="685.6" r="9" fill="url(#gblob)"/>
<circle cx="1221.5" cy="717" r="10" fill="url(#gblob)"/>
<circle cx="1555.8" cy="556" r="5" fill="url(#gblob)"/>
<circle cx="1615.5" cy="641.9" r="12" fill="url(#gblob)"/>
<circle cx="1538.7" cy="653" r="10" fill="url(#gblob)"/>
<circle cx="1574.8" cy="604.9" r="4" fill="url(#gblob)"/>
<circle cx="1926.8" cy="665.1" r="8" fill="url(#gblob)"/>
<circle cx="1933.7" cy="746.4" r="8" fill="url(#gblob)"/>
<circle cx="1959.3" cy="553.6" r="7" fill="url(#gblob)"/>
<circle cx="1867.2" cy="653" r="4" fill="url(#gblob)"/>
<circle cx="1794.9" cy="748" r="5" fill="url(#gblob)"/>
<circle cx="1832.8" cy="582.3" r="4" fill="url(#gblob)"/>
<circle cx="1916.3" cy="529.6" r="4" fill="url(#gblob)"/>
<circle cx="1335.5" cy="93" r="4" fill="url(#gblob)"/>
<circle cx="1230.5" cy="270.5" r="4" fill="url(#gblob)"/>
<circle cx="1741" cy="500.7" r="5" fill="url(#gblob)"/>
<circle cx="1683.4" cy="469.4" r="3.5" fill="url(#gblob)"/>
</g>
<path d="M1601.8,668.2 A277.6,277.6 0 0 0 1879.4,390.6 A277.6,277.6 0 0 0 1601.8,113 A277.6,277.6 0 0 0 1324.2,390.6 A277.6,277.6 0 0 0 1601.8,668.2" fill="none" stroke="#8a2be2" stroke-width="4.3" stroke-dasharray="16.07 6.93"/>
<path d="M1601.8,529.6 A139,139 0 0 0 1740.8,390.6 A139,139 0 0 0 1601.8,251.6 A139,139 0 0 0 1462.8,390.6 A139,139 0 0 0 1601.8,529.6" fill="none" stroke="#ff1493" stroke-width="4.3" stroke-dasharray="16.07 6.93"/>
<path d="M1601.8,473.9 A83.3,83.3 0 0 0 1685.1,390.6 A83.3,83.3 0 0 0 1601.8,307.3 A83.3,83.3 0 0 0 1518.5,390.6 A83.3,83.3 0 0 0 1601.8,473.9" fill="none" stroke="#90ee90" stroke-width="4.3" stroke-dasharray="16.07 6.93"/>
<g fill="#a6e6fb" fill-opacity="0.97" stroke="#000" stroke-width="1.25"><circle cx="1379.6" cy="110.6" r="4.6"/><circle cx="1387.7" cy="147.8" r="4.6"/><circle cx="1379" cy="153.2" r="4.6"/><circle cx="1341.5" cy="168.8" r="4.6"/><circle cx="1364" cy="168.8" r="4.6"/><circle cx="1399.1" cy="162.8" r="4.6"/><circle cx="1337" cy="182" r="4.6"/><circle cx="1407.5" cy="176.9" r="4.6"/><circle cx="1342.1" cy="196.7" r="4.6"/><circle cx="1334.9" cy="213.8" r="4.6"/><circle cx="1415" cy="209.9" r="4.6"/><circle cx="1412" cy="214.4" r="4.6"/><circle cx="1449.2" cy="195.2" r="4.6"/><circle cx="1456.1" cy="222.2" r="4.6"/><circle cx="1428.2" cy="227" r="4.6"/><circle cx="1341.5" cy="244.1" r="4.6"/><circle cx="1399.1" cy="241.1" r="4.6"/><circle cx="1449.2" cy="242" r="4.6"/><circle cx="1408.4" cy="252.8" r="4.6"/><circle cx="1538.9" cy="172.7" r="4.6"/><circle cx="1484.9" cy="211.7" r="4.6"/><circle cx="1508.6" cy="224.6" r="4.6"/><circle cx="1571.6" cy="224.6" r="4.6"/><circle cx="1718.6" cy="243.5" r="4.6"/><circle cx="1414.4" cy="282.2" r="4.6"/><circle cx="1403" cy="290.9" r="4.6"/><circle cx="1450.1" cy="285.2" r="4.6"/><circle cx="1358.6" cy="314" r="4.6"/><circle cx="1392.8" cy="313.1" r="4.6"/><circle cx="1414.4" cy="314" r="4.6"/><circle cx="1422.5" cy="315.8" r="4.6"/><circle cx="1424" cy="333.2" r="4.6"/><circle cx="1433.6" cy="334.1" r="4.6"/><circle cx="1447.4" cy="334.1" r="4.6"/><circle cx="1422.8" cy="343.1" r="4.6"/><circle cx="1350.8" cy="341.6" r="4.6"/><circle cx="1342.4" cy="346.4" r="4.6"/><circle cx="1441.4" cy="359" r="4.6"/><circle cx="1463" cy="368" r="4.6"/><circle cx="1296.8" cy="380.9" r="4.6"/><circle cx="1374.5" cy="389.9" r="4.6"/><circle cx="1421" cy="389.9" r="4.6"/><circle cx="1344.8" cy="399.5" r="4.6"/><circle cx="1400.9" cy="407.9" r="4.6"/><circle cx="1430.9" cy="412.1" r="4.6"/><circle cx="1436.6" cy="418.7" r="4.6"/><circle cx="1452.5" cy="434.6" r="4.6"/><circle cx="1295.6" cy="447.8" r="4.6"/><circle cx="1447.4" cy="461" r="4.6"/><circle cx="1465.1" cy="461.6" r="4.6"/><circle cx="1451" cy="472.4" r="4.6"/><circle cx="1471.1" cy="477.5" r="4.6"/><circle cx="1407.2" cy="473.6" r="4.6"/><circle cx="1412.6" cy="482.6" r="4.6"/><circle cx="1431.5" cy="484.4" r="4.6"/><circle cx="1331" cy="477.2" r="4.6"/><circle cx="1341.5" cy="489.5" r="4.6"/><circle cx="1231.4" cy="515" r="4.6"/><circle cx="1246.4" cy="515.6" r="4.6"/><circle cx="1669.7" cy="376.7" r="4.6"/><circle cx="1674.8" cy="388" r="4.6"/><circle cx="1601.2" cy="433.9" r="4.6"/><circle cx="1595.5" cy="443.4" r="4.6"/><circle cx="1543.5" cy="438" r="4.6"/><circle cx="1533.4" cy="442.5" r="4.6"/><circle cx="1550.3" cy="451" r="4.6"/><circle cx="1563.1" cy="467.8" r="4.6"/><circle cx="1495.8" cy="495.7" r="4.6"/><circle cx="1657.7" cy="394.8" r="4.6"/><circle cx="1697.9" cy="407.6" r="4.6"/><circle cx="1666.3" cy="409.1" r="4.6"/><circle cx="1672.3" cy="419.6" r="4.6"/><circle cx="1670.8" cy="421.9" r="4.6"/><circle cx="1682.8" cy="417.8" r="4.6"/><circle cx="1660.2" cy="426.4" r="4.6"/><circle cx="1658.7" cy="429.4" r="4.6"/><circle cx="1641.4" cy="430.2" r="4.6"/><circle cx="1645.2" cy="430.9" r="4.6"/><circle cx="1653.9" cy="436.5" r="4.6"/><circle cx="1689.2" cy="426.4" r="4.6"/><circle cx="1695.6" cy="430.9" r="4.6"/><circle cx="1628.3" cy="445.5" r="4.6"/><circle cx="1643.7" cy="445.5" r="4.6"/><circle cx="1682.8" cy="449" r="4.6"/><circle cx="1683.6" cy="451.3" r="4.6"/><circle cx="1691.9" cy="449.7" r="4.6"/><circle cx="1719" cy="450.5" r="4.6"/><circle cx="1671.5" cy="454.3" r="4.6"/><circle cx="1670" cy="458.8" r="4.6"/><circle cx="1664" cy="461" r="4.6"/><circle cx="1646.7" cy="475.7" r="4.6"/><circle cx="1697.9" cy="470.1" r="4.6"/><circle cx="1683.3" cy="477.6" r="4.6"/><circle cx="1693.4" cy="476.9" r="4.6"/><circle cx="1704.7" cy="480.9" r="4.6"/><circle cx="1716.7" cy="490.9" r="4.6"/><circle cx="1655.7" cy="510.3" r="4.6"/><circle cx="1713" cy="510.3" r="4.6"/><circle cx="1726.5" cy="509.2" r="4.6"/><circle cx="1768.7" cy="434.7" r="4.6"/><circle cx="1791.9" cy="470.2" r="4.6"/><circle cx="1889.1" cy="469.6" r="4.6"/><circle cx="1747.6" cy="479.9" r="4.6"/><circle cx="1736.4" cy="486.5" r="4.6"/><circle cx="1768.7" cy="494.9" r="4.6"/><circle cx="1737.9" cy="508.5" r="4.6"/><circle cx="1797.3" cy="515.4" r="4.6"/><circle cx="1851.5" cy="517.5" r="4.6"/><circle cx="1318.8" cy="534.1" r="4.6"/><circle cx="1260.7" cy="558.8" r="4.6"/><circle cx="1280.8" cy="576.2" r="4.6"/><circle cx="1295.9" cy="586.8" r="4.6"/><circle cx="1390.2" cy="575.6" r="4.6"/><circle cx="1462.8" cy="546.7" r="4.6"/><circle cx="1545.9" cy="546.7" r="4.6"/><circle cx="1954.5" cy="707.3" r="4.6"/><circle cx="1590.9" cy="337.3" r="4.6"/><circle cx="1603" cy="335.6" r="4.6"/><circle cx="1598.8" cy="340.6" r="4.6"/><circle cx="1635.6" cy="335.3" r="4.6"/><circle cx="1559.7" cy="338.8" r="4.6"/><circle cx="1571.2" cy="355.9" r="4.6"/><circle cx="1577.4" cy="360.8" r="4.6"/><circle cx="1566.5" cy="362.9" r="4.6"/><circle cx="1566.2" cy="366.7" r="4.6"/><circle cx="1588.9" cy="355.3" r="4.6"/><circle cx="1588.9" cy="359.4" r="4.6"/><circle cx="1588.9" cy="367.9" r="4.6"/><circle cx="1577.4" cy="371.2" r="4.6"/><circle cx="1597.4" cy="369.8" r="4.6"/><circle cx="1600.3" cy="373.5" r="4.6"/><circle cx="1609.7" cy="360.8" r="4.6"/><circle cx="1624.4" cy="367.1" r="4.6"/><circle cx="1632.1" cy="370" r="4.6"/><circle cx="1637.9" cy="374.1" r="4.6"/><circle cx="1563.8" cy="378.2" r="4.6"/><circle cx="1580.3" cy="377.6" r="4.6"/><circle cx="1586.5" cy="378.2" r="4.6"/><circle cx="1605.6" cy="379.4" r="4.6"/><circle cx="1605.6" cy="382.9" r="4.6"/><circle cx="1612.6" cy="384.7" r="4.6"/><circle cx="1621.5" cy="385.3" r="4.6"/><circle cx="1625.6" cy="380" r="4.6"/><circle cx="1637.4" cy="384.1" r="4.6"/><circle cx="1637.9" cy="391.2" r="4.6"/><circle cx="1627.4" cy="395.9" r="4.6"/><circle cx="1556.2" cy="384.7" r="4.6"/><circle cx="1557.4" cy="393.5" r="4.6"/><circle cx="1569.1" cy="391.8" r="4.6"/><circle cx="1567.9" cy="393.5" r="4.6"/><circle cx="1583.8" cy="387.6" r="4.6"/><circle cx="1589.7" cy="389.4" r="4.6"/><circle cx="1595" cy="387.6" r="4.6"/><circle cx="1600.3" cy="392.4" r="4.6"/><circle cx="1606.8" cy="394.7" r="4.6"/><circle cx="1585.6" cy="396.5" r="4.6"/><circle cx="1592.6" cy="401.8" r="4.6"/><circle cx="1594.4" cy="403.5" r="4.6"/><circle cx="1583.2" cy="406.5" r="4.6"/><circle cx="1577.9" cy="411.2" r="4.6"/><circle cx="1595.6" cy="413.5" r="4.6"/><circle cx="1605" cy="405.3" r="4.6"/><circle cx="1606.8" cy="407.6" r="4.6"/><circle cx="1612.6" cy="404.1" r="4.6"/><circle cx="1620.9" cy="405.3" r="4.6"/><circle cx="1626.8" cy="404.1" r="4.6"/><circle cx="1629.1" cy="406.5" r="4.6"/><circle cx="1633.8" cy="414.7" r="4.6"/><circle cx="1625" cy="417.6" r="4.6"/><circle cx="1607.9" cy="418.8" r="4.6"/><circle cx="1602.1" cy="422.9" r="4.6"/><circle cx="1611.5" cy="427.1" r="4.6"/><circle cx="1559.7" cy="412.4" r="4.6"/><circle cx="1574.4" cy="418.8" r="4.6"/><circle cx="1585.8" cy="425.5" r="4.6"/><circle cx="1642.6" cy="427.6" r="4.6"/><circle cx="1652.1" cy="418.2" r="4.6"/><circle cx="1461.1" cy="240.6" r="4.6"/><circle cx="1469.1" cy="251.8" r="4.6"/><circle cx="1477.9" cy="252.7" r="4.6"/><circle cx="1486.2" cy="242.9" r="4.6"/><circle cx="1492.9" cy="250.9" r="4.6"/><circle cx="1508.5" cy="234.9" r="4.6"/><circle cx="1506.8" cy="246.7" r="4.6"/><circle cx="1523" cy="247.1" r="4.6"/><circle cx="1539.9" cy="234.7" r="4.6"/><circle cx="1547.9" cy="240.4" r="4.6"/><circle cx="1538.8" cy="253.9" r="4.6"/><circle cx="1550.1" cy="257.1" r="4.6"/><circle cx="1512.9" cy="258.6" r="4.6"/><circle cx="1466.8" cy="268.8" r="4.6"/><circle cx="1476.8" cy="266.8" r="4.6"/><circle cx="1486.8" cy="266.5" r="4.6"/><circle cx="1484.4" cy="273.8" r="4.6"/><circle cx="1456.8" cy="272.6" r="4.6"/><circle cx="1520.9" cy="266.7" r="4.6"/><circle cx="1522.1" cy="275.6" r="4.6"/><circle cx="1515.2" cy="277.6" r="4.6"/><circle cx="1514.6" cy="284.4" r="4.6"/><circle cx="1534.1" cy="276.8" r="4.6"/><circle cx="1550.1" cy="270.9" r="4.6"/><circle cx="1542.1" cy="289.1" r="4.6"/><circle cx="1553.6" cy="293.5" r="4.6"/><circle cx="1456.2" cy="286.5" r="4.6"/><circle cx="1521.1" cy="294.7" r="4.6"/><circle cx="1514.8" cy="300.6" r="4.6"/><circle cx="1535.9" cy="298.5" r="4.6"/><circle cx="1480.9" cy="307.1" r="4.6"/><circle cx="1465.6" cy="316.8" r="4.6"/><circle cx="1510.9" cy="314.7" r="4.6"/><circle cx="1566.8" cy="265.5" r="4.6"/><circle cx="1564.9" cy="276.4" r="4.6"/><circle cx="1556.9" cy="293.8" r="4.6"/><circle cx="1563" cy="299.7" r="4.6"/><circle cx="1572.4" cy="295.7" r="4.6"/><circle cx="1599.1" cy="300.8" r="4.6"/><circle cx="1606.8" cy="305.6" r="4.6"/><circle cx="1582.1" cy="309.1" r="4.6"/><circle cx="1590" cy="315.9" r="4.6"/><circle cx="1594.1" cy="316.9" r="4.6"/><circle cx="1580" cy="319.9" r="4.6"/><circle cx="1559.5" cy="322.5" r="4.6"/><circle cx="1576.8" cy="327.2" r="4.6"/><circle cx="1651" cy="299.7" r="4.6"/><circle cx="1471.8" cy="347.1" r="4.6"/><circle cx="1495.3" cy="348.2" r="4.6"/><circle cx="1503.5" cy="344.4" r="4.6"/><circle cx="1525.9" cy="342" r="4.6"/><circle cx="1545.3" cy="337.3" r="4.6"/><circle cx="1551.8" cy="343.5" r="4.6"/><circle cx="1544.7" cy="352.9" r="4.6"/><circle cx="1545.9" cy="360" r="4.6"/><circle cx="1533.3" cy="358" r="4.6"/><circle cx="1502.7" cy="358.2" r="4.6"/><circle cx="1508.6" cy="356.8" r="4.6"/><circle cx="1513.5" cy="360.8" r="4.6"/><circle cx="1518" cy="363.9" r="4.6"/><circle cx="1510.6" cy="381.5" r="4.6"/><circle cx="1531.4" cy="387.6" r="4.6"/><circle cx="1487.1" cy="401.8" r="4.6"/><circle cx="1507.9" cy="427.4" r="4.6"/><circle cx="1540.6" cy="427.9" r="4.6"/></g>
<g fill="#ffff00" stroke="#000" stroke-width="1.7" stroke-linejoin="miter"><polygon points="1431.5,244.2 1434.7,252.3 1443.4,252.8 1436.7,258.4 1438.8,266.8 1431.5,262.2 1424.2,266.8 1426.3,258.4 1419.6,252.8 1428.3,252.3"/><polygon points="1559.9,172.2 1563.1,180.3 1571.8,180.8 1565.1,186.4 1567.2,194.8 1559.9,190.2 1552.6,194.8 1554.7,186.4 1548,180.8 1556.7,180.3"/><polygon points="1495.3,283 1498.5,291.1 1507.2,291.6 1500.5,297.2 1502.6,305.6 1495.3,301 1488,305.6 1490.1,297.2 1483.4,291.6 1492.1,291.1"/><polygon points="1567.2,324.3 1570.4,332.4 1579.1,332.9 1572.4,338.5 1574.5,346.9 1567.2,342.3 1559.9,346.9 1562,338.5 1555.3,332.9 1564,332.4"/><polygon points="1644.9,315.7 1648.1,323.8 1656.8,324.3 1650.1,329.9 1652.2,338.3 1644.9,333.7 1637.6,338.3 1639.7,329.9 1633,324.3 1641.7,323.8"/><polygon points="1620,337.5 1623.2,345.6 1631.9,346.1 1625.2,351.7 1627.3,360.1 1620,355.5 1612.7,360.1 1614.8,351.7 1608.1,346.1 1616.8,345.6"/><polygon points="1664.3,351.9 1667.5,360 1676.2,360.5 1669.5,366.1 1671.6,374.5 1664.3,369.9 1657,374.5 1659.1,366.1 1652.4,360.5 1661.1,360"/><polygon points="1525.5,401.5 1528.7,409.6 1537.4,410.1 1530.7,415.7 1532.8,424.1 1525.5,419.5 1518.2,424.1 1520.3,415.7 1513.6,410.1 1522.3,409.6"/><polygon points="1535.2,400 1538.4,408.1 1547.1,408.6 1540.4,414.2 1542.5,422.6 1535.2,418 1527.9,422.6 1530,414.2 1523.3,408.6 1532,408.1"/><polygon points="1600,445.7 1603.2,453.8 1611.9,454.3 1605.2,459.9 1607.3,468.3 1600,463.7 1592.7,468.3 1594.8,459.9 1588.1,454.3 1596.8,453.8"/><polygon points="1616.6,400.8 1619.8,408.9 1628.5,409.4 1621.8,415 1623.9,423.4 1616.6,418.8 1609.3,423.4 1611.4,415 1604.7,409.4 1613.4,408.9"/><polygon points="1661,405 1664.2,413.1 1672.9,413.6 1666.2,419.2 1668.3,427.6 1661,423 1653.7,427.6 1655.8,419.2 1649.1,413.6 1657.8,413.1"/><polygon points="1699.4,428.7 1702.6,436.8 1711.3,437.3 1704.6,442.9 1706.7,451.3 1699.4,446.7 1692.1,451.3 1694.2,442.9 1687.5,437.3 1696.2,436.8"/><polygon points="1767.2,379.7 1770.4,387.8 1779.1,388.3 1772.4,393.9 1774.5,402.3 1767.2,397.7 1759.9,402.3 1762,393.9 1755.3,388.3 1764,387.8"/><polygon points="1863.5,500.2 1866.7,508.3 1875.4,508.8 1868.7,514.4 1870.8,522.8 1863.5,518.2 1856.2,522.8 1858.3,514.4 1851.6,508.8 1860.3,508.3"/></g>
<g fill="#000">
<rect x="1276.3" y="607" width="5" height="108"/>
<polygon points="1265.5,610 1278.8,583.7 1292.1,610"/>
<rect x="1276.3" y="710" width="92" height="5"/>
<polygon points="1366.6,699.3 1392.6,712.5 1366.6,725.7"/>
</g>
<text x="1294" y="691.7" font-family="'DejaVu Sans', 'Liberation Sans', sans-serif" font-weight="bold" font-size="23.2">1 kpc</text>
<rect x="1782.5" y="18.4" width="194.7" height="96.3" fill="#fff" stroke="#000" stroke-width="1.5"/>
<text x="1790" y="46.6" font-family="'DejaVu Sans', 'Liberation Sans', sans-serif" font-weight="bold" font-size="24" fill="#8a2be2">--- R=2 deg</text>
<text x="1790" y="74.9" font-family="'DejaVu Sans', 'Liberation Sans', sans-serif" font-weight="bold" font-size="24" fill="#ff1493">--- R=1 deg</text>
<text x="1792" y="104" font-family="'DejaVu Sans', 'Liberation Sans', sans-serif" font-weight="bold" font-size="24" fill="#90ee90">--- R=0.6 deg</text>
<rect x="1220.5" y="8.3" width="763.8" height="763.6" fill="none" stroke="#000" stroke-width="2.3"/>
<path d="M1216.1,12.8H1220.5M1984.3,12.8H1988.7M1216.1,40.9H1220.5M1984.3,40.9H1988.7M1216.1,69.1H1220.5M1984.3,69.1H1988.7M1216.1,97.2H1220.5M1984.3,97.2H1988.7M1211.7,125.3H1220.5M1984.3,125.3H1993.1M1216.1,153.4H1220.5M1984.3,153.4H1988.7M1216.1,181.5H1220.5M1984.3,181.5H1988.7M1216.1,209.7H1220.5M1984.3,209.7H1988.7M1216.1,237.8H1220.5M1984.3,237.8H1988.7M1211.7,265.9H1220.5M1984.3,265.9H1993.1M1216.1,294H1220.5M1984.3,294H1988.7M1216.1,322.1H1220.5M1984.3,322.1H1988.7M1216.1,350.3H1220.5M1984.3,350.3H1988.7M1216.1,378.4H1220.5M1984.3,378.4H1988.7M1211.7,406.5H1220.5M1984.3,406.5H1993.1M1216.1,434.6H1220.5M1984.3,434.6H1988.7M1216.1,462.7H1220.5M1984.3,462.7H1988.7M1216.1,490.9H1220.5M1984.3,490.9H1988.7M1216.1,519H1220.5M1984.3,519H1988.7M1211.7,547.1H1220.5M1984.3,547.1H1993.1M1216.1,575.2H1220.5M1984.3,575.2H1988.7M1216.1,603.3H1220.5M1984.3,603.3H1988.7M1216.1,631.5H1220.5M1984.3,631.5H1988.7M1216.1,659.6H1220.5M1984.3,659.6H1988.7M1211.7,687.7H1220.5M1984.3,687.7H1993.1M1216.1,715.8H1220.5M1984.3,715.8H1988.7M1216.1,743.9H1220.5M1984.3,743.9H1988.7M1243.2,771.9V776.3M1278.2,771.9V776.3M1312.9,771.9V776.3M1347.9,771.9V780.7M1381.8,771.9V776.3M1416.2,771.9V776.3M1450.3,771.9V776.3M1484.2,771.9V776.3M1517.5,771.9V780.7M1551.6,771.9V776.3M1585.8,771.9V776.3M1620.3,771.9V776.3M1654.2,771.9V776.3M1688.7,771.9V780.7M1722.7,771.9V776.3M1756.8,771.9V776.3M1790.7,771.9V776.3M1824.8,771.9V776.3M1858.7,771.9V780.7M1893.8,771.9V776.3M1928.3,771.9V776.3M1963.8,771.9V776.3M1251.2,8.3V0M1298.8,8.3V4.1M1346.1,8.3V4.1M1393.1,8.3V4.1M1440.3,8.3V4.1M1487.1,8.3V0M1533.7,8.3V4.1M1580.5,8.3V4.1M1627.3,8.3V4.1M1674.2,8.3V4.1M1721,8.3V0M1768,8.3V4.1M1815.1,8.3V4.1M1861.8,8.3V4.1M1909.2,8.3V4.1M1957.4,8.3V0" stroke="#000" stroke-width="2" fill="none"/>
<text x="1203.7" y="131.3" font-family="'DejaVu Sans', 'Liberation Sans', sans-serif" font-size="24" text-anchor="end">-71</text>
<text x="1203.7" y="271.9" font-family="'DejaVu Sans', 'Liberation Sans', sans-serif" font-size="24" text-anchor="end">-72</text>
<text x="1203.7" y="412.5" font-family="'DejaVu Sans', 'Liberation Sans', sans-serif" font-size="24" text-anchor="end">-73</text>
<text x="1203.7" y="553.1" font-family="'DejaVu Sans', 'Liberation Sans', sans-serif" font-size="24" text-anchor="end">-74</text>
<text x="1203.7" y="693.7" font-family="'DejaVu Sans', 'Liberation Sans', sans-serif" font-size="24" text-anchor="end">-75</text>
<text x="1347.9" y="808.4" font-family="'DejaVu Sans', 'Liberation Sans', sans-serif" font-size="24" text-anchor="middle">20</text>
<text x="1517.5" y="808.4" font-family="'DejaVu Sans', 'Liberation Sans', sans-serif" font-size="24" text-anchor="middle">15</text>
<text x="1688.7" y="808.4" font-family="'DejaVu Sans', 'Liberation Sans', sans-serif" font-size="24" text-anchor="middle">10</text>
<text x="1858.7" y="808.4" font-family="'DejaVu Sans', 'Liberation Sans', sans-serif" font-size="24" text-anchor="middle">5</text>
<text x="1602" y="844.6" font-family="'DejaVu Sans', 'Liberation Sans', sans-serif" font-size="24" text-anchor="middle">RA (J2000)</text>
<text transform="translate(1148.1,391) rotate(-90)" font-family="'DejaVu Sans', 'Liberation Sans', sans-serif" font-size="24" text-anchor="middle">Dec (J2000)</text>
</g>
</svg>
</body></html>
